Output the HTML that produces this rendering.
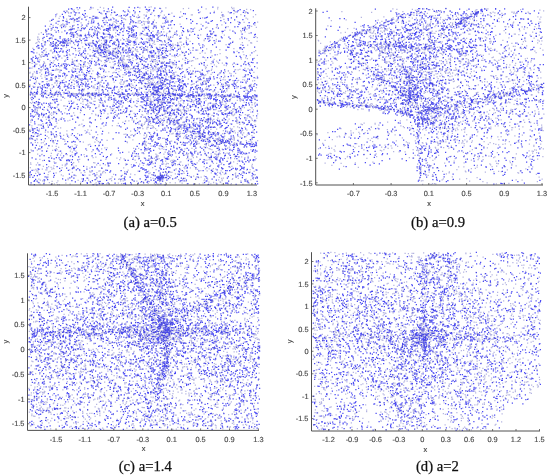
<!DOCTYPE html>
<html><head><meta charset="utf-8"><title>Phase portraits</title>
<style>
html,body{margin:0;padding:0;background:#fff;overflow:hidden;}
svg{display:block;}
.t{font-family:"Liberation Sans",Arial,sans-serif;font-size:7.4px;fill:#4a4a4a;stroke:#4a4a4a;stroke-width:0.15px;text-rendering:geometricPrecision;}
.d1{fill:none;stroke:#0000f0;stroke-width:5;stroke-opacity:0.7;}
.d2{fill:none;stroke:#4646b4;stroke-width:5;stroke-opacity:0.4;}
.c{font-family:"Liberation Serif","Times New Roman",serif;font-size:14.7px;fill:#111;stroke:#111;stroke-width:0.25px;}
</style></head><body>
<svg width="550" height="476" viewBox="0 0 550 476">
<rect width="550" height="476" fill="#fff"/>
<path class="d1" transform="scale(0.25)" d="M1011 42h5m-42 0h5m-21-4h5m-13 4h5m-9 5h5m-18-6h5m-89-13h5m-50 0h5m-18 12h5m-151 4h5m-13-11h5m-25-1h5m-9 9h5m-6 2h5m-21-5h5m-8 5h5m-9-4h5m-11-2h5m-9-9h5m-28 18h5m-12-17h5m-18 2h5m-9 11h5m-23-13h5m-8 15h5m-19 3h5m-11-4h5m-48-15h5m-9 12h5m-18-5h5m-10 11h5m-17-3h5m-58-14h5m-29 13h5m-26-11h5m-15-1h5m-16 17h5m-14-11h5m-8-2h5m-16 2h5m-23 9h5m-38 14h5m21-2h5m-1 9h5m-4 5h5m2-21h5m14 15h5m-1-14h5m11 8h5m-3-8h5m8 20h5m-4-20h5m9 6h5m0 4h5m-1 7h5m-3-14h5m13 16h5m8-5h5m6 3h5m9-19h5m1 3h5m8 19h5m1-17h5m-4 2h5m-3 8h5m-4 5h5m-3 1h5m13-20h5m6-2h5m2 13h5m0-3h5m11 4h5m6-1h5m6 0h5m-2-5h5m6 11h5m-4 0h5m3-7h5m1 5h5m-1-17h5m10 21h5m24-5h5m6 6h5m3-13h5m25 6h5m-5-1h5m-2 2h5m22 4h5m6-11h5m17 8h5m18 4h5m10-15h5m2 1h5m49-5h5m25 20h5m-1-2h5m7-16h5m10-2h5m30 9h5m24-8h5m0-1h5m-5 21h5m16-4h5m22-18h5m0 14h5m7-12h5m23 39h5m-9 5h5m-23-5h5m-30-12h5m-16 13h5m-8-2h5m-24-10h5m-21 11h5m-14-10h5m-6-6h5m-15 18h5m-24-10h5m-39 0h5m-10 3h5m-17 7h5m-13-4h5m-10-16h5m-23 1h5m-19 21h5m-22-9h5m-11 7h5m-7-14h5m-21-4h5m-62 8h5m-10 5h5m-18-3h5m-9 5h5m-10-5h5m-7 7h5m-7-18h5m-11-1h5m-44 15h5m-6 1h5m-7 7h5m-9 0h5m-19-3h5m-6-17h5m-30 13h5m-28 2h5m-14-3h5m-9-4h5m-11-4h5m-7 9h5m-5-12h5m-8 19h5m-36-6h5m-6-17h5m-6 10h5m-7 13h5m-17-10h5m-13-5h5m-14-5h5m-17 2h5m-5 2h5m-13 1h5m-12 10h5m-18 0h5m-9-8h5m-24 12h5m-6-22h5m-11 0h5m-10 0h5m-10 12h5m-6 6h5m-7-15h5m-10 16h5m-6-7h5m-19 11h5m-13-16h5m-22-3h5m-17 8h5m-12 1h5m-5-11h5m-6 1h5m-15 4h5m-10-6h5m-10 4h5m-9-2h5m-12 15h5m-13-2h5m-9-3h5m-17-3h5m-22 3h5m-16 7h5m-17-15h5m-11 4h5m-30 23h5m7 12h5m6-19h5m-2 18h5m0-6h5m6 0h5m1 2h5m12-1h5m3-4h5m-3-6h5m7-4h5m6 22h5m-1 1h5m-3-1h5m-1-2h5m-4-12h5m1 11h5m10-17h5m-4 12h5m9 4h5m-3-14h5m2 14h5m-3 1h5m-1-4h5m1-7h5m6 13h5m1-7h5m-1 8h5m6-10h5m1 6h5m0-6h5m0-8h5m-5 13h5m6-9h5m5 14h5m-2-20h5m2 16h5m-1 0h5m-1 4h5m-4-5h5m-2-16h5m-4 11h5m-5-8h5m-4 12h5m-4 0h5m0-11h5m-1-2h5m3 10h5m-1 2h5m-5-7h5m-3 4h5m0-3h5m-2 0h5m-3 3h5m3 11h5m-3-2h5m-2-4h5m2-9h5m-4-6h5m-4 14h5m11-4h5m0 7h5m4-3h5m-4 3h5m-4 4h5m-2-15h5m-3 5h5m1-5h5m0 1h5m32 4h5m-2 4h5m-4-4h5m3 8h5m15-5h5m-2-7h5m2-1h5m-3 7h5m16-3h5m-4-1h5m4-2h5m11 8h5m-2-13h5m2-1h5m10-1h5m22 8h5m4 7h5m26 1h5m3 2h5m28 0h5m1-13h5m34 12h5m13-17h5m0 14h5m24-2h5m32-3h5m7-1h5m-1-9h5m10 17h5m3 3h5m-3-6h5m6-9h5m0 9h5m-3-8h5m18 34h5m-8 2h5m-19-8h5m-32-10h5m-14 15h5m-32-4h5m-15-8h5m-44 1h5m-9 0h5m-30 16h5m-9 0h5m-10-14h5m-12 9h5m-10-1h5m-5-11h5m-8 0h5m-15 13h5m-42 4h5m-19-4h5m-12-12h5m-18 15h5m-11-14h5m-7-6h5m-21 6h5m-9-4h5m-6 18h5m-26-1h5m-7-15h5m-12 13h5m-26-13h5m-18 16h5m-13 2h5m-15-1h5m-7-14h5m-18-5h5m-6 6h5m-9 11h5m-15 4h5m-9 0h5m-7-5h5m-8 4h5m-8-10h5m-5-2h5m-9 11h5m-9-18h5m-12 12h5m-7-2h5m-5 8h5m-22-16h5m-10 8h5m-6 1h5m-25 1h5m-5 7h5m-5-12h5m-14 5h5m-6 5h5m-6-20h5m-8 19h5m-9-9h5m-6-8h5m-13 19h5m-7 2h5m-6-17h5m-8 8h5m-9-11h5m-7-1h5m-19 19h5m-6-15h5m-17 4h5m-9 9h5m-10-2h5m-6-15h5m-34 17h5m-8-2h5m-10 0h5m-5-12h5m-9-5h5m-7 1h5m-16 0h5m-5 16h5m-6-4h5m-6-1h5m-27-4h5m-7 12h5m-5-6h5m-14-11h5m-8 14h5m-7-5h5m-6 10h5m-22-2h5m-8-8h5m-5-1h5m-7 7h5m-15 3h5m-7 1h5m-20 1h5m-7-21h5m-6 18h5m-6 1h5m-19-6h5m-7-9h5m-9 3h5m-13 10h5m-5 3h5m-7-11h5m-9 7h5m-9-9h5m-8 5h5m-17-3h5m-5-1h5m-7 4h5m-12-11h5m-31-1h5m-14 6h5m-17 15h5m-11-5h5m-16-3h5m-13 1h5m-6-12h5m-9-4h5m-14 17h5m-7 16h5m0-4h5m0 18h5m1-22h5m-2 17h5m2-8h5m0-2h5m6 14h5m2-9h5m-2 0h5m3 5h5m-1 3h5m0-19h5m-5 6h5m-2 15h5m2-7h5m-4 7h5m-1-2h5m-2-5h5m-4-5h5m-1 9h5m-5-2h5m5-7h5m-4 7h5m5-17h5m-3 19h5m2-16h5m4 15h5m1 4h5m0-2h5m-3 1h5m-1-10h5m1 6h5m6-8h5m-2 8h5m-1-14h5m-4 12h5m-2-9h5m-5 10h5m14-17h5m1 18h5m8 3h5m-4 1h5m-2-18h5m-3 5h5m8-7h5m0 1h5m-4 5h5m-2 0h5m1-4h5m-1 12h5m-3 6h5m-5-5h5m11 1h5m-2-14h5m-3 13h5m-4-9h5m-3-7h5m-2 3h5m10 13h5m-2-4h5m-2 7h5m17-6h5m11 6h5m-2-15h5m1 14h5m0-18h5m2 2h5m-4 20h5m-1-2h5m-2-17h5m20 5h5m-1 4h5m10 10h5m6-23h5m-4 16h5m1-7h5m0 3h5m-4 6h5m0-18h5m-2 0h5m-5 5h5m7 6h5m-1-7h5m-5 9h5m1 4h5m1 2h5m9 0h5m13-5h5m0 5h5m-4-15h5m-2 16h5m29-10h5m-1-2h5m66 1h5m22 1h5m2-10h5m-2 11h5m-4-9h5m-2 19h5m-1-4h5m-4-15h5m11 16h5m13 2h5m1 0h5m0-17h5m-2 4h5m22-3h5m0 6h5m42-6h5m6 4h5m33-3h5m-3 39h5m-48 2h5m-9-9h5m-14 9h5m-9 1h5m-33-22h5m-13 3h5m-10 4h5m-7 13h5m-5-12h5m-10 11h5m-50 0h5m-11-16h5m-14 6h5m-44 1h5m-6 9h5m-13 3h5m-12-16h5m-28 16h5m-7-17h5m-23 3h5m-11-1h5m-6-6h5m-5-2h5m-16 8h5m-27 5h5m-8 0h5m-28 0h5m-10 3h5m-5-7h5m-10 2h5m-8-9h5m-12 15h5m-10-6h5m-15 12h5m-10-12h5m-42 10h5m-8-6h5m-13-3h5m-13-11h5m-13 16h5m-9-10h5m-8-7h5m-5 22h5m-7-13h5m-8-4h5m-10-5h5m-10 21h5m-11-12h5m-12 11h5m-8-12h5m-7-8h5m-10 4h5m-5-4h5m-10 22h5m-17-21h5m-8 22h5m-7-22h5m-8 9h5m-7-2h5m-8-2h5m-9 8h5m-13-7h5m-7-2h5m-9 3h5m-5-3h5m-13 13h5m-5 1h5m-11-10h5m-5-9h5m-6 12h5m-6 6h5m-14-6h5m-12-4h5m-7-5h5m-10 3h5m-15 11h5m-7-17h5m-7 19h5m-9-7h5m-11 11h5m-6-20h5m-6 18h5m-6-9h5m-7-10h5m-9 6h5m-8 14h5m-5-5h5m-6-8h5m-18 14h5m-6 0h5m-6-11h5m-7 10h5m-7-8h5m-5 4h5m-10-15h5m-10 8h5m-5 6h5m-7-3h5m-7-5h5m-6 3h5m-11-6h5m-7-3h5m-9 13h5m-14-2h5m-7-2h5m-7 10h5m-5-13h5m-13 3h5m-9-2h5m-34-2h5m-7 6h5m-6 0h5m-21-11h5m-12 18h5m-20-8h5m-6-9h5m-10 10h5m-5-3h5m-12-8h5m-8-1h5m-5 12h5m-6-10h5m-8-4h5m-5 2h5m-9-2h5m-6 13h5m-10-12h5m-7 3h5m-6 1h5m-11 7h5m-14 3h5m-5-13h5m-5 2h5m-8 7h5m-6 10h5m-12-5h5m-6-3h5m-5-8h5m-9 12h5m-9-9h5m-7-6h5m-28 9h5m-13 6h5m-9-2h5m-6-8h5m-17 7h5m-8-1h5m-9 5h5m-27 20h5m0 1h5m0 4h5m-5-13h5m15-6h5m6 3h5m-3 13h5m2-6h5m14 13h5m16-19h5m-3 10h5m-4-4h5m-4-8h5m1 12h5m-5-13h5m-4 16h5m2-16h5m-1 14h5m0-3h5m-4-10h5m-2 1h5m0 13h5m-4-4h5m8 2h5m-2 5h5m-4-10h5m3-2h5m10 16h5m4-21h5m9-1h5m-2 19h5m4 2h5m1-5h5m-3-6h5m-1 11h5m-4-19h5m-3 8h5m26-2h5m-1 4h5m-2 9h5m-5-9h5m3 2h5m-5-5h5m0 10h5m0-18h5m-3 16h5m-3-12h5m-5-1h5m-4 12h5m-2-7h5m-5 1h5m-4-4h5m-3 1h5m-4 1h5m-4 8h5m-3 2h5m-1-5h5m-4 0h5m-4-9h5m-3 12h5m-3-2h5m7 6h5m0-1h5m-4-4h5m3 3h5m-2-7h5m-3 0h5m2-9h5m-1 15h5m2 3h5m-3-11h5m-3 4h5m1 5h5m2-12h5m-3-7h5m-5 5h5m-3 13h5m5-1h5m-4-10h5m-5 13h5m-5-12h5m2 8h5m-1-6h5m-5-6h5m-1 13h5m-3-7h5m3 10h5m31-15h5m2 11h5m-2-8h5m6-1h5m8 7h5m-3 4h5m-2-6h5m-5 7h5m-2-1h5m1-8h5m-3 5h5m1 7h5m-4-2h5m0-20h5m-4 2h5m-3 3h5m0 1h5m-4 9h5m0-7h5m0 9h5m-2 3h5m-5-19h5m-4 9h5m7 1h5m-3-10h5m-4 7h5m-1 5h5m14-8h5m0 1h5m0-6h5m5 11h5m-4 12h5m-1-18h5m2-2h5m4 15h5m9-2h5m-3-1h5m4-10h5m3 14h5m17-11h5m21 2h5m29 1h5m55-3h5m26 7h5m-4 3h5m14 0h5m9-13h5m33 14h5m-1 23h5m-6 5h5m-30-16h5m-27 7h5m-8-5h5m-20 0h5m-42 6h5m-53-12h5m-23 10h5m-17 1h5m-23-2h5m-42 1h5m-26-13h5m-16 17h5m-9-12h5m-39 0h5m-12-1h5m-23-4h5m-6 22h5m-14-15h5m-10-2h5m-7 9h5m-12-1h5m-10-3h5m-8-10h5m-18 8h5m-5 9h5m-7-7h5m-18 12h5m-13-11h5m-6-5h5m-10 2h5m-16 3h5m-5-6h5m-12 13h5m-10 3h5m-21 1h5m-6-8h5m-8 8h5m-9-3h5m-5-18h5m-6 16h5m-14 1h5m-6-11h5m-6-1h5m-6 7h5m-7-5h5m-5-6h5m-5 2h5m-17-1h5m-9 0h5m-7-1h5m-12 21h5m-28-16h5m-19 8h5m-6 8h5m-14-13h5m-7-2h5m-8 7h5m-12-6h5m-5 0h5m-10-2h5m-5 11h5m-8-12h5m-9-4h5m-9 14h5m-6 0h5m-8-15h5m-9 4h5m-7 13h5m-7-2h5m-17-6h5m-9-9h5m-6 9h5m-17-5h5m-14 16h5m-21-12h5m-8-5h5m-20 4h5m-14 10h5m-12-5h5m-9 5h5m-11-5h5m-15-11h5m-15 3h5m-15-2h5m-39 18h5m-5-8h5m-7-9h5m-7 1h5m-32 3h5m-9 3h5m-8-8h5m-13 12h5m-5 4h5m-15-5h5m-7 0h5m-26 7h5m-7-13h5m-7-6h5m-7 0h5m-10 1h5m-10 6h5m-30 10h5m-9-4h5m-9 2h5m-5-9h5m-15 5h5m-9 7h5m-8-1h5m-1 8h5m3 6h5m-4 13h5m8-18h5m0 3h5m12 12h5m23-2h5m-1-7h5m9 8h5m9 4h5m-4-8h5m5 8h5m4-6h5m-2-1h5m-3 8h5m-4-19h5m-1 11h5m-1 4h5m-4 1h5m5 1h5m4-4h5m-1 0h5m-5-9h5m3 14h5m2-20h5m11 0h5m-5 16h5m7-1h5m1-10h5m13-3h5m-3 19h5m-1-13h5m-4 4h5m-4-9h5m7 0h5m0 6h5m-5 9h5m4-18h5m-2 13h5m-3 3h5m6 4h5m7-21h5m-3 20h5m0-17h5m27 1h5m-4 10h5m8 7h5m-4-21h5m-5 6h5m3 14h5m0-19h5m-2 15h5m-3 4h5m-3-1h5m-2 3h5m2-1h5m-2-3h5m1 4h5m-3-14h5m3-2h5m-5-1h5m-2 13h5m-3-7h5m-4-2h5m12 3h5m2 7h5m4-14h5m1-5h5m-4 16h5m2-13h5m-5 18h5m2-15h5m4 10h5m6 4h5m1-16h5m15 13h5m-1-1h5m-1-14h5m3 9h5m1 0h5m2 7h5m-4 2h5m1-8h5m-4-2h5m-5 11h5m-5-10h5m-2 0h5m1 1h5m-1-6h5m8 3h5m7 7h5m-4-8h5m6-4h5m6 18h5m9-13h5m4 2h5m-4-6h5m-4 0h5m40 10h5m4-2h5m5 6h5m-4-10h5m30 0h5m-5-6h5m21-4h5m21 12h5m-3 1h5m-4 2h5m24-3h5m9 5h5m9 6h5m5-7h5m1-10h5m-2 12h5m5-5h5m-2 5h5m4-9h5m1 1h5m12 1h5m-15 15h5m-15 15h5m-7-5h5m-12 4h5m-20 4h5m-11-3h5m-10-2h5m-42 7h5m-7-20h5m-41 13h5m-18 4h5m-41-17h5m-19 17h5m-12 2h5m-24-5h5m-23 5h5m-13 0h5m-16-1h5m-27 2h5m-7-9h5m-21 9h5m-18-12h5m-6 2h5m-34 6h5m-7-13h5m-7 3h5m-8-5h5m-10 13h5m-6-16h5m-17 4h5m-8 8h5m-11 11h5m-7-4h5m-10-18h5m-8 0h5m-6 2h5m-6 1h5m-5-2h5m-6 21h5m-7-6h5m-9-9h5m-8 7h5m-5 4h5m-10 4h5m-14-22h5m-13 10h5m-9-8h5m-20 6h5m-8-7h5m-10 0h5m-7 1h5m-13 5h5m-15 14h5m-10-7h5m-8 8h5m-5-6h5m-8-7h5m-6-8h5m-8 21h5m-6-22h5m-12 10h5m-6 10h5m-9-18h5m-5 16h5m-7-12h5m-24 16h5m-5-2h5m-8-21h5m-12 0h5m-7 2h5m-9 14h5m-5 0h5m-10-7h5m-6-7h5m-22 8h5m-14 0h5m-19-5h5m-6 1h5m-32-5h5m-11-1h5m-8 16h5m-7 6h5m-17-9h5m-5 0h5m-5-2h5m-49 9h5m-7-14h5m-8 16h5m-8-13h5m-6 8h5m-29-3h5m-7-5h5m-6-4h5m-6 11h5m-9 7h5m-20-2h5m-5-9h5m-12 11h5m-12-3h5m-18 2h5m-14-10h5m-6-10h5m-6 9h5m-8-4h5m-9 0h5m-18 10h5m-24-17h5m-16 17h5m-6-16h5m-9 16h5m-13-13h5m-14 12h5m-7-6h5m-7-1h5m-5 2h5m-12 2h5m-5-13h5m-15 0h5m-12 4h5m-14 6h5m-13 11h5m-14-19h5m-24 6h5m0 36h5m19-16h5m29 1h5m-5-5h5m0 14h5m0-12h5m-2 6h5m4 15h5m-2-10h5m0-3h5m6 7h5m-3 1h5m5-2h5m1 0h5m4 0h5m0-12h5m-2 7h5m-4-5h5m3 7h5m13 7h5m-2-9h5m-2 3h5m-5-13h5m6 14h5m-4 4h5m0-3h5m-3 5h5m12-21h5m5 9h5m-4 8h5m-2-5h5m-2 0h5m-3-10h5m10 15h5m22-9h5m-3-7h5m-5 9h5m-2-5h5m9 17h5m9-4h5m17 0h5m1-4h5m10-12h5m-2 18h5m-2-11h5m3 7h5m16-14h5m1 6h5m2-5h5m-2 12h5m-3-12h5m-1 9h5m-4-10h5m3 9h5m3 2h5m2 2h5m-1 8h5m-5-22h5m-1 20h5m-1-11h5m-4 7h5m3 3h5m-2-1h5m-4 4h5m-1-11h5m-4 10h5m-3-14h5m-3 5h5m0-13h5m-4 5h5m1 3h5m-2 10h5m-2 4h5m-1-6h5m-3-10h5m4 5h5m2 8h5m-4 4h5m2-6h5m-4 3h5m-4-12h5m-3 11h5m1 4h5m-3-12h5m-4-1h5m-3-4h5m-4 7h5m-3-6h5m-4 14h5m-2 1h5m4-10h5m3-8h5m-5 4h5m-3 3h5m4-10h5m0 18h5m-5-4h5m-3-14h5m-4 22h5m-5-7h5m5-13h5m-1 14h5m8-3h5m5-8h5m0-4h5m-2 16h5m4 2h5m10-13h5m-5 1h5m-3-5h5m0 6h5m-4 11h5m-1-13h5m11 10h5m5 6h5m2-4h5m-2-11h5m0 3h5m-4-6h5m-1 5h5m37 9h5m-2-18h5m6 21h5m-3-10h5m5-9h5m0 15h5m4-16h5m14 16h5m6-3h5m50 3h5m-3-6h5m6-2h5m1-9h5m-2 4h5m-1 9h5m-4 3h5m5 5h5m9 1h5m-16 23h5m-27-19h5m-5 2h5m-12-1h5m-7 8h5m-9 7h5m-19-2h5m-12-1h5m-22-15h5m-9 8h5m-10 2h5m-5 9h5m-22-14h5m-8 2h5m-10 9h5m-9-3h5m-10 6h5m-26-11h5m-14 13h5m-9-5h5m-18-14h5m-20 1h5m-5-4h5m-10 10h5m-6-7h5m-7 14h5m-10-7h5m-6-7h5m-8 20h5m-14-23h5m-10 18h5m-12-12h5m-7-3h5m-10 3h5m-16 10h5m-23-2h5m-6-2h5m-5-2h5m-20 13h5m-17-1h5m-11-10h5m-7-2h5m-7 2h5m-14-6h5m-7 12h5m-6-11h5m-7 3h5m-7 3h5m-7-10h5m-18-2h5m-9 1h5m-7 13h5m-5-1h5m-9-11h5m-5 13h5m-13 2h5m-6-6h5m-13 10h5m-5-15h5m-8 14h5m-6-14h5m-5 0h5m-9-4h5m-8 2h5m-8 9h5m-5-2h5m-10-12h5m-8 9h5m-6 10h5m-10-1h5m-6-6h5m-7-9h5m-15 12h5m-7 3h5m-26-16h5m-8 1h5m-16 0h5m-11 0h5m-10 19h5m-7-1h5m-13-11h5m-11 10h5m-8-4h5m-6-6h5m-10-1h5m-7 9h5m-16-9h5m-14-3h5m-15 7h5m-7-5h5m-10-4h5m-8 19h5m-13-12h5m-23-4h5m-32 2h5m-14-2h5m-6-5h5m-26 21h5m-5-3h5m-13-10h5m-13 10h5m-12-11h5m-19 11h5m-10 3h5m-14-14h5m-6-7h5m-14-1h5m-9 14h5m-11-12h5m-14 9h5m-12 9h5m-6-16h5m-6-4h5m-8 0h5m-6-1h5m-8 5h5m-9 18h5m-8-20h5m-6 6h5m-7 8h5m-10-13h5m-13 11h5m-10 3h5m-6-7h5m-25 6h5m-14-7h5m-6 13h5m-17-8h5m-14 3h5m-11 0h5m-5-7h5m-12 7h5m-8 5h5m-19-11h5m-24-4h5m-7-2h5m-15 17h5m-12 0h5m-5-21h5m-5 3h5m-21 9h5m-27-14h5m-13 5h5m-9 16h5m-9-20h5m-18 7h5m-7 26h5m3 9h5m4-6h5m9 10h5m-3-10h5m2-13h5m1 16h5m-1 2h5m-4 4h5m-5-16h5m-3 6h5m1-9h5m-1 11h5m2 1h5m-4-10h5m-4-3h5m1 4h5m13 5h5m13 2h5m-3-2h5m-2-5h5m-3 12h5m13-7h5m-3-8h5m-1 6h5m-5 0h5m2 0h5m-4 6h5m-1 0h5m3-8h5m-4 10h5m6-7h5m-4 7h5m12-17h5m-2 8h5m-5 15h5m-4-10h5m0-11h5m3 19h5m-2-21h5m3 4h5m-3 6h5m0-7h5m-2 6h5m-4 9h5m-3-18h5m-1 13h5m3-5h5m17 10h5m-3-7h5m14 11h5m-5-14h5m9 13h5m-2-16h5m-4 8h5m2 3h5m2 1h5m-3 0h5m7-1h5m-4 7h5m-4-9h5m-4-5h5m5 2h5m11-1h5m-2 2h5m-4-2h5m10 13h5m0-15h5m-4-3h5m3 0h5m-5 15h5m-4-20h5m4 14h5m7 4h5m1-13h5m-4 17h5m-3 1h5m13-6h5m10-6h5m-2 10h5m-4 0h5m0-9h5m-1-6h5m2 7h5m-1-13h5m-5 3h5m-3-2h5m-2 1h5m-5 13h5m-3 5h5m-5-20h5m-2 10h5m-4 3h5m-2-5h5m-5 8h5m0-2h5m-1-2h5m-2 2h5m-4 2h5m-5 6h5m-4-4h5m-5-7h5m-1-3h5m-5-1h5m-2 12h5m-2-13h5m-4 4h5m-4-3h5m-5 10h5m-4 3h5m-3-5h5m-4 2h5m-4-14h5m-5 10h5m-4 0h5m-4-13h5m3 2h5m2 15h5m-4-1h5m0-1h5m-4 6h5m-2-21h5m-4 8h5m3-2h5m-5 11h5m-1 2h5m1-12h5m-1 1h5m5 2h5m1-7h5m-5 19h5m-4-8h5m-5 4h5m-4 2h5m-2-9h5m-5-4h5m0 1h5m-5-2h5m-3 12h5m-3 1h5m-4-6h5m-5 1h5m-1-13h5m-1 1h5m-3 2h5m-1 6h5m13 8h5m-5-4h5m-4 3h5m0-4h5m0 8h5m3-10h5m0-6h5m-4 14h5m1-5h5m1 6h5m-4-6h5m1-11h5m-3 17h5m-2-20h5m10 22h5m-4-1h5m-5 0h5m1-13h5m-3-1h5m1-3h5m-4 18h5m10 1h5m-1-9h5m14 7h5m0-21h5m-1 11h5m-2 6h5m-5-7h5m7 8h5m-2-14h5m2 5h5m8-8h5m0 3h5m-1 6h5m-4 7h5m-3-16h5m-1 6h5m3 3h5m6 7h5m4-3h5m1 2h5m-4-3h5m14-6h5m-1 15h5m-5-15h5m0 6h5m-4 10h5m-4-6h5m-5 6h5m1-14h5m6-6h5m-4 42h5m-9 1h5m-9-4h5m-13 5h5m-6 0h5m-13-19h5m-12 2h5m-8 7h5m-8 3h5m-6 6h5m-17-17h5m-7 18h5m-22-5h5m-9-6h5m-16-6h5m-5-2h5m-11 15h5m-19 1h5m-10 0h5m-7 3h5m-11-3h5m-17-17h5m-5 20h5m-9-16h5m-10 11h5m-7-9h5m-5-2h5m-17 11h5m-14-2h5m-9 3h5m-6 2h5m-6-1h5m-18 2h5m-5 0h5m-10-3h5m-6-4h5m-8-15h5m-6 19h5m-6-4h5m-9 1h5m-8 3h5m-17-3h5m-10-12h5m-7 13h5m-8 4h5m-7-17h5m-5 19h5m-12-2h5m-6-3h5m-6-1h5m-7 5h5m-9-14h5m-9 15h5m-7-15h5m-13 15h5m-8-1h5m-5-8h5m-6-7h5m-7 13h5m-9-1h5m-6 1h5m-7-2h5m-6-18h5m-10 20h5m-8 1h5m-6-6h5m-18 2h5m-7-9h5m-6-1h5m-12 12h5m-6-14h5m-5 16h5m-5-4h5m-6-4h5m-6 9h5m-7-1h5m-6-20h5m-8 19h5m-6 3h5m-6-8h5m-9-15h5m-6 21h5m-8-3h5m-10-17h5m-8 16h5m-7-2h5m-5 3h5m-5 3h5m-10-3h5m-7-3h5m-6 3h5m-6-3h5m-5-1h5m-7-1h5m-15 0h5m-7-4h5m-6 12h5m-6-10h5m-6-8h5m-6 4h5m-6 7h5m-8 2h5m-13 6h5m-6-9h5m-13 6h5m-5 3h5m-7-1h5m-14 0h5m-11 0h5m-5-15h5m-7 14h5m-6-17h5m-8 4h5m-6-7h5m-5 18h5m-6-7h5m-6-1h5m-6-2h5m-6-2h5m-6-4h5m-7-1h5m-6 17h5m-6 1h5m-8-16h5m-6 14h5m-7-6h5m-5 2h5m-8 2h5m-6-2h5m-7 2h5m-5 0h5m-10-9h5m-18 16h5m-6-13h5m-5 9h5m-7 4h5m-6-3h5m-6-3h5m-16 2h5m-10-3h5m-7 0h5m-6-6h5m-8 10h5m-11-2h5m-6 3h5m-8-1h5m-11-15h5m-5 12h5m-6 3h5m-9-7h5m-10 8h5m-16-18h5m-9 19h5m-11-7h5m-10 1h5m-8-10h5m-10-1h5m-11 12h5m-10 1h5m-6-6h5m-6 3h5m-14 4h5m-13-10h5m-5 10h5m-12-4h5m-10-1h5m-7-2h5m-9 11h5m-10-21h5m-6 9h5m-20 8h5m-8-15h5m-7 16h5m-9 2h5m-8-4h5m-11 0h5m-5 0h5m-8-7h5m-5-3h5m-11 8h5m-6 6h5m-10-4h5m-10 3h5m-8-3h5m-6 5h5m-11-7h5m-5-3h5m-6 2h5m-9 2h5m-13 5h5m-7-8h5m-6 3h5m-6 4h5m-5-6h5m-17-3h5m-8 3h5m-9 0h5m-12 6h5m-14-4h5m-6 6h5m-8-2h5m-5 1h5m-7-20h5m-5 6h5m-7-6h5m-6 14h5m-14 0h5m-12 6h5m-5-5h5m-23 3h5m-7 1h5m-7-4h5m-5-2h5m-9 9h5m-10-15h5m-8 15h5m-8-8h5m-5 8h5m-8-11h5m-8 1h5m-8-13h5m-7 13h5m-16-12h5m-11 17h5m-8-6h5m-12-3h5m-7 9h5m-11-10h5m-8 3h5m-7 7h5m-9 2h5m-13-4h5m-9 0h5m-7-15h5m-6 9h5m-13 11h5m-17-7h5m-5-12h5m-9 13h5m-9 8h5m-6-14h5m-11 14h5m-5-11h5m-5-8h5m-22 2h5m-5 9h5m-8-5h5m-6 4h5m-5 1h5m-13-6h5m-11 6h5m-10-4h5m-8-2h5m-7 10h5m1 19h5m-4-9h5m0 4h5m1-7h5m1 20h5m6-9h5m11-10h5m10 3h5m13-4h5m0 12h5m-4 0h5m3-1h5m2-1h5m-4 1h5m-4 8h5m18-17h5m24 0h5m0 16h5m4-20h5m1 0h5m-2 6h5m5-4h5m-1 13h5m18-2h5m3 2h5m-2 4h5m2-15h5m17-2h5m18 7h5m-4 7h5m-4-1h5m9 5h5m9-5h5m-3-8h5m4-1h5m-3 7h5m4-2h5m-4 5h5m2 1h5m2 6h5m-1-4h5m-2-16h5m-1-3h5m-2 19h5m-4 4h5m-4-16h5m2-4h5m-2 4h5m-3 4h5m-5-8h5m-1 14h5m-2-7h5m-1-10h5m-1 6h5m1 14h5m-2-2h5m7 5h5m13-2h5m6-15h5m-4 17h5m-3-17h5m-3 5h5m-5 12h5m-1-21h5m-4 11h5m-2-5h5m-4 10h5m-1-15h5m-3 17h5m-5-17h5m0 8h5m-3 6h5m-4-15h5m17 1h5m-1 14h5m1-2h5m-1 1h5m-4-6h5m-3 8h5m-3-13h5m-4 15h5m-3-8h5m-2-9h5m-5 11h5m-2 0h5m4-5h5m-4 6h5m-3-8h5m-1 8h5m-4-10h5m-3 3h5m-1-1h5m1 7h5m-1-9h5m2 4h5m-4-8h5m-5 15h5m-1-2h5m-4-1h5m-2-3h5m0 4h5m6 2h5m-4-9h5m-3 3h5m7-3h5m-2-6h5m-4-1h5m4 19h5m-2 0h5m2-17h5m-2-2h5m-5 17h5m-1 2h5m-4-16h5m2-3h5m0 22h5m-3-7h5m0-12h5m-4 2h5m6 7h5m-3 2h5m-3 8h5m1-12h5m-4 9h5m-1-4h5m-5-5h5m1 13h5m8 0h5m12-14h5m0-6h5m-3 8h5m-1-9h5m-5 6h5m4 6h5m-4-4h5m-3 2h5m0 2h5m-4 1h5m-5-9h5m-5 14h5m-4-2h5m0-4h5m4 4h5m0-18h5m-1 5h5m-2 10h5m-2-6h5m-3-7h5m0 20h5m-5-21h5m-3 11h5m-2-1h5m-2 6h5m-4 3h5m5-19h5m-5 13h5m7-10h5m10-4h5m-3 4h5m-3-4h5m-2 3h5m0-1h5m-4 8h5m8 7h5m-3-17h5m-1 1h5m-5 6h5m-3 0h5m-4-4h5m-4 0h5m-2 13h5m-3-11h5m-3-3h5m-5 13h5m-2-7h5m-2-5h5m-3-1h5m-3 13h5m-3 2h5m-3-15h5m-3 4h5m-4 11h5m-4-7h5m7 2h5m3-10h5m-4 15h5m-5 19h5m-5-3h5m-12 7h5m-21-16h5m-13 11h5m-8-7h5m-14-2h5m-6 10h5m-7-1h5m-13 3h5m-9-1h5m-7 6h5m-16 0h5m-20-15h5m-11 5h5m-5 6h5m-13-10h5m-12 15h5m-13-6h5m-11 4h5m-8 1h5m-6 4h5m-9-3h5m-19-7h5m-6-2h5m-6-3h5m-6 11h5m-7-18h5m-5 3h5m-11 10h5m-13 8h5m-7-16h5m-8 9h5m-5 2h5m-5 2h5m-12-3h5m-6 3h5m-6-7h5m-7 6h5m-5 2h5m-6-5h5m-12-11h5m-6 16h5m-6-16h5m-15 19h5m-18-19h5m-7 9h5m-19-6h5m-9-2h5m-6 1h5m-8 16h5m-6-13h5m-11-5h5m-8 13h5m-5 2h5m-6-3h5m-6-1h5m-10-6h5m-11 1h5m-12 8h5m-7 2h5m-6-5h5m-15-3h5m-18 6h5m-8 5h5m-16-13h5m-6 3h5m-6 2h5m-6-1h5m-19-2h5m-8 2h5m-16-9h5m-16-4h5m-5 1h5m-5 13h5m-7-12h5m-7 13h5m-6-16h5m-6 20h5m-9-17h5m-6 19h5m-8-9h5m-11-8h5m-9-2h5m-6-2h5m-6 18h5m-5-19h5m-6 18h5m-11-9h5m-5-6h5m-7 17h5m-8-7h5m-10-1h5m-11-10h5m-6 14h5m-9 2h5m-9 5h5m-8-14h5m-6 5h5m-6-3h5m-8 8h5m-11-8h5m-7 0h5m-8-7h5m-5 19h5m-6-23h5m-7 22h5m-5-12h5m-6-3h5m-5 12h5m-13-6h5m-11-10h5m-5 5h5m-7 6h5m-7-1h5m-10-2h5m-10 12h5m-8-3h5m-27-2h5m-30-17h5m-10 13h5m-6 3h5m-28-14h5m-15 5h5m-13-3h5m-5 12h5m-11 4h5m-6-21h5m-8 21h5m-6-13h5m-12 6h5m-6-14h5m-10 17h5m-16 2h5m-17-3h5m-18 1h5m-6-2h5m-9-3h5m-15-11h5m-27 9h5m-19-6h5m-9 18h5m-14-2h5m-12-9h5m-15 10h5m-9-3h5m-23 0h5m-9-9h5m-22-5h5m-10 2h5m-6 10h5m-7 2h5m-8 5h5m-8-18h5m-13 12h5m-43-6h5m-16-8h5m-6-3h5m-7 23h5m-14-2h5m-12-1h5m-5-16h5m-7 8h5m-10-5h5m-14-2h5m-13 16h5m-7-17h5m-14 4h5m-10 12h5m-10-18h5m-6 6h5m-7-8h5m-6 9h5m-10 13h5m-12-3h5m-8-17h5m-8 12h5m-17 33h5m1-17h5m-4 8h5m-2-3h5m2 5h5m-4-12h5m2 13h5m-1 6h5m10-2h5m-1-16h5m10 17h5m1-13h5m1 7h5m3-14h5m5 13h5m1-15h5m0 22h5m3-17h5m-3 5h5m3 5h5m0 8h5m14 0h5m1-15h5m-2 14h5m14-21h5m-3 0h5m7 2h5m7 5h5m45 4h5m5-12h5m14 9h5m-2 5h5m-4 8h5m2-15h5m-2 0h5m-1 2h5m-5 3h5m20 8h5m1-10h5m4 7h5m10 6h5m-5-15h5m3 12h5m-5-13h5m6 7h5m4 2h5m-5-16h5m-3 16h5m-3-5h5m-4-8h5m-5-3h5m10 12h5m22 10h5m3-9h5m-3-7h5m15 6h5m-2-10h5m4 9h5m-4 5h5m-4-6h5m6 12h5m-2-14h5m1 1h5m-5 6h5m-4-12h5m2 2h5m-1 4h5m-3 14h5m1-6h5m-2-7h5m-4 5h5m-5-11h5m-4 4h5m-5-8h5m-1 0h5m8 9h5m-5 2h5m-5-8h5m-3 9h5m-5-2h5m-4 1h5m0 0h5m0-8h5m-3 18h5m-4-4h5m5 0h5m-4 4h5m-1-11h5m-1-3h5m0 11h5m-5 4h5m-4-12h5m6 7h5m-2-13h5m-2 3h5m-5 13h5m-2-11h5m17 2h5m3 1h5m-5 10h5m11-14h5m11-1h5m10 8h5m-3 4h5m-5-1h5m4-8h5m-1-5h5m-4-2h5m-5-1h5m-5 20h5m-3 1h5m-3-8h5m4-4h5m-2 11h5m1-20h5m-4 6h5m-4 15h5m-2-18h5m1-2h5m8 3h5m-4 15h5m6 2h5m5-22h5m2 9h5m-2 9h5m-4 3h5m10 0h5m2-18h5m-3 17h5m-1 0h5m-3-1h5m-5-4h5m1 5h5m-2-2h5m9-13h5m-2 12h5m-4-11h5m-5 8h5m2 0h5m-3-4h5m2 6h5m-5-15h5m4 16h5m17-9h5m13 6h5m14-3h5m-8 19h5m-32 4h5m-13-4h5m-17 7h5m-23 4h5m-8-16h5m-6 10h5m-18 3h5m-40-11h5m-7 7h5m-10 11h5m-5-22h5m-11 17h5m-7-15h5m-10-1h5m-21 2h5m-24 5h5m-16 12h5m-7-1h5m-12 3h5m-6-20h5m-6 16h5m-9 4h5m-17-8h5m-5-14h5m-16 18h5m-23 1h5m-16 0h5m-12-11h5m-5 0h5m-6 2h5m-5 5h5m-8-10h5m-11-4h5m-16 11h5m-6 10h5m-16-18h5m-7-3h5m-16 14h5m-6-10h5m-10 17h5m-8-22h5m-13 9h5m-7 3h5m-11-10h5m-24 3h5m-6-5h5m-8 22h5m-6-6h5m-8 6h5m-27-17h5m-14 1h5m-13 5h5m-6 0h5m-9 4h5m-7-2h5m-8-7h5m-8 13h5m-10 2h5m-9-2h5m-9-6h5m-14 1h5m-9-4h5m-12 10h5m-11-8h5m-21-1h5m-28-10h5m-7 8h5m-15 7h5m-12-3h5m-10-11h5m-16 8h5m-35 6h5m-13-9h5m-13 7h5m-8-5h5m-8 8h5m-27-5h5m-11 5h5m-29-8h5m-14-2h5m-17 16h5m-26-8h5m-28-13h5m-30 13h5m-8-2h5m-24 7h5m-8-12h5m-37 11h5m-15 1h5m-25 0h5m-7-1h5m-13-6h5m-24 1h5m-6-6h5m-8 4h5m-21-10h5m-6-1h5m-6 5h5m-12-4h5m-15 1h5m-8 5h5m-6 11h5m-22-10h5m-8 3h5m-10-5h5m-11 1h5m-9 35h5m6-19h5m4 7h5m-4 8h5m19-15h5m-4 20h5m-4-20h5m-2 5h5m11 8h5m-2-3h5m3-9h5m-2 19h5m-4-12h5m-3 2h5m-1 5h5m-4 5h5m13-16h5m30-1h5m38 5h5m29 14h5m19-14h5m0 3h5m38 4h5m-1-4h5m6 9h5m-3-9h5m21-8h5m21 20h5m16-9h5m31-7h5m4 7h5m2-4h5m5-6h5m0 16h5m17-16h5m1 12h5m-3-8h5m0-3h5m7 2h5m-5-4h5m-1 6h5m3 3h5m-4-1h5m-1 2h5m-1-13h5m-4 11h5m-5 12h5m-1-18h5m-2 4h5m2-9h5m-2 19h5m0-18h5m6 21h5m6-19h5m-4 9h5m-5 3h5m-2-7h5m-2-6h5m2 4h5m-2 4h5m-3-9h5m-3 17h5m1-15h5m-2 0h5m-4 8h5m-2 2h5m-5 1h5m-3-14h5m-3 23h5m2-3h5m7 3h5m-4-15h5m-2 9h5m1-11h5m-4-6h5m6 17h5m-5-14h5m-4 18h5m-5-3h5m9-4h5m-5 4h5m-3-16h5m-4 19h5m1-2h5m5 1h5m3 2h5m-5-13h5m-1-8h5m1 14h5m-4-13h5m-3 21h5m5-17h5m2 5h5m-2-7h5m-3 18h5m2-11h5m4 3h5m-4-6h5m2-1h5m1 3h5m-3 5h5m-1 5h5m-5-18h5m1 3h5m-4 10h5m-3-7h5m-1 6h5m-1 8h5m-3 0h5m-5-22h5m2 9h5m-4 0h5m-5 0h5m2 4h5m-2-2h5m1 11h5m8-6h5m0-14h5m7 2h5m9 5h5m9 0h5m1 3h5m1-12h5m-1 18h5m-1-1h5m-1-15h5m-3 7h5m1 11h5m-4-4h5m0 6h5m-3 1h5m3-22h5m-2 24h5m-10 13h5m-11-8h5m-34 5h5m-18-1h5m-8-2h5m-9 9h5m-8 3h5m-34 1h5m-11-5h5m-21-11h5m-9 1h5m-7 14h5m-5-11h5m-7 1h5m-21-7h5m-30 2h5m-11 0h5m-12-1h5m-10 1h5m-9 18h5m-8-3h5m-6-13h5m-7-4h5m-11 0h5m-8 6h5m-12 7h5m-6 7h5m-19-6h5m-6-6h5m-6 10h5m-5-19h5m-8 19h5m-7-21h5m-9 11h5m-5 11h5m-7-14h5m-11-7h5m-6 12h5m-6 9h5m-7-1h5m-11-1h5m-6 2h5m-16-19h5m-7 3h5m-11 1h5m-6 7h5m-7 2h5m-5-9h5m-6 6h5m-8-4h5m-7 11h5m-10-19h5m-6 7h5m-6-1h5m-6 11h5m-17-15h5m-11 7h5m-9 3h5m-15 2h5m-7-2h5m-19-3h5m-8 5h5m-6-9h5m-5 15h5m-8-1h5m-11-13h5m-18 9h5m-6-8h5m-13 7h5m-5-3h5m-12 7h5m-46-10h5m-49-2h5m-7 16h5m-12-17h5m-13 13h5m-7-1h5m-8-6h5m-33-4h5m-12 5h5m-24-10h5m-78 18h5m-29-19h5m-92 5h5m-16 7h5m-69 8h5m-10-19h5m-12 7h5m-13 13h5m-16-19h5m-16 12h5m-13-9h5m-6-6h5m-11 8h5m-17 10h5m-11-3h5m-6-10h5m-14 4h5m-12 6h5m-6-6h5m-7 6h5m-14 5h5m0 17h5m1-12h5m-2 15h5m3-15h5m-2 1h5m-2 14h5m-2-11h5m7 3h5m13 4h5m19-3h5m2-2h5m1 11h5m2-9h5m10-6h5m-3 13h5m23-1h5m14-10h5m3 8h5m1 7h5m10-9h5m3-1h5m16-11h5m19 20h5m8-20h5m-3 23h5m17-16h5m51-5h5m6 1h5m22 17h5m2-9h5m1 8h5m14-4h5m10-10h5m25-1h5m14 14h5m-5-15h5m2 14h5m-3 4h5m-2-1h5m-3-3h5m-5-2h5m-2-9h5m-2-3h5m5 11h5m-4-7h5m-5 4h5m1 11h5m1 1h5m21-22h5m1 13h5m27 3h5m-5-10h5m-2-3h5m-3 3h5m1 1h5m-2 10h5m12-13h5m2-4h5m-1 18h5m2-4h5m4-15h5m-4 11h5m0 4h5m0-9h5m13-6h5m-2 7h5m-5 10h5m-4-17h5m-2 3h5m-4 15h5m-5-2h5m-3 7h5m2-6h5m-5-10h5m-3 4h5m-1 8h5m-4 2h5m-5-19h5m-4 18h5m-3-6h5m-5 6h5m-4-17h5m8-1h5m-5 5h5m1 16h5m-2-3h5m-3-11h5m-3 9h5m-4-7h5m0-9h5m-4 6h5m-2-4h5m-1 8h5m-3 0h5m3-10h5m-3 8h5m-3-6h5m5 9h5m-2 5h5m-1 2h5m-2 0h5m0-15h5m12 1h5m-4-6h5m-1 3h5m-2 13h5m4-1h5m12-4h5m8-8h5m10 16h5m11-16h5m-3 5h5m5-7h5m-3 0h5m-2 20h5m0 0h5m5-21h5m-7 43h5m-6-2h5m-15 6h5m-17 0h5m-5-17h5m-8 16h5m-11 0h5m-10 1h5m-6-6h5m-25-16h5m-10 15h5m-6 7h5m-14-14h5m-30 6h5m-7-15h5m-9 5h5m-6 18h5m-8-8h5m-6 6h5m-9-10h5m-6-1h5m-7 5h5m-11-4h5m-5 5h5m-9 2h5m-11-2h5m-5-6h5m-6-1h5m-6-4h5m-7 10h5m-5-9h5m-8 15h5m-6-7h5m-7-5h5m-8 1h5m-13-7h5m-10 20h5m-5-5h5m-11-7h5m-5 3h5m-10-5h5m-5 0h5m-9-8h5m-16 13h5m-7-5h5m-7 7h5m-9-4h5m-7-7h5m-10 18h5m-8-10h5m-6 0h5m-13-5h5m-6 5h5m-12-3h5m-15-6h5m-16 12h5m-7 0h5m-7-15h5m-8 21h5m-8-11h5m-10-11h5m-8 16h5m-7 6h5m-9-15h5m-10 8h5m-9-13h5m-8 17h5m-9-19h5m-10 19h5m-11-2h5m-16 0h5m-14-9h5m-5-7h5m-5 0h5m-9 22h5m-6-18h5m-15 11h5m-23 6h5m-6-6h5m-14-6h5m-6-8h5m-6 5h5m-9 11h5m-6-13h5m-33 0h5m-7 16h5m-11 0h5m-11-5h5m-6 1h5m-17-5h5m-9-7h5m-6-3h5m-8 20h5m-11-18h5m-21 8h5m-7-11h5m-5 14h5m-9 8h5m-7-2h5m-18 1h5m-61-9h5m-54-10h5m-50 4h5m-11 9h5m-86-2h5m-16-13h5m-6 2h5m-13 12h5m-11-2h5m-12 3h5m-22-2h5m-12 9h5m-16-19h5m-14-4h5m-18 11h5m-8 11h5m-19-11h5m-16-1h5m-22 13h5m-9-21h5m-21 4h5m-30 3h5m-18-7h5m-8 17h5m-10-16h5m6 22h5m-5 3h5m6 11h5m-1-10h5m5 14h5m6-5h5m-4-4h5m23-4h5m20 17h5m48-14h5m-1 5h5m-1-2h5m8 5h5m-3 6h5m-2-6h5m1-5h5m33 7h5m14-10h5m5 14h5m4-17h5m1 13h5m-3-2h5m-2 6h5m-1-18h5m9-1h5m10 18h5m43-6h5m64 4h5m1-11h5m11 13h5m0-19h5m4 11h5m-4 8h5m-5 1h5m-3-5h5m1 1h5m4 2h5m0-3h5m7-10h5m0-5h5m-3 7h5m2-5h5m-4-5h5m11 7h5m0 3h5m10 12h5m-1-21h5m9 19h5m-2-11h5m4-1h5m-4 6h5m7 3h5m-4 2h5m5-5h5m0 8h5m7-18h5m-4 1h5m0-1h5m2 13h5m21-16h5m-5 7h5m0 0h5m-1 8h5m-3-16h5m11 12h5m1 5h5m2 6h5m2-9h5m15-5h5m0-4h5m-3 1h5m0-3h5m1 5h5m-2 0h5m2 9h5m1-1h5m-4-15h5m-4 21h5m10 0h5m1-18h5m-2 15h5m-3 2h5m-4-14h5m10 14h5m8-16h5m-3 8h5m-5 8h5m-3-18h5m-4 9h5m4-12h5m-2 5h5m-5-1h5m-2 13h5m11-17h5m-1 1h5m-3 0h5m-3 11h5m-2-6h5m-2-3h5m-1 8h5m8-7h5m0 6h5m-1-8h5m-4 7h5m-4 0h5m-2 13h5m-1-13h5m-2-5h5m-1 2h5m-4-6h5m-3 28h5m-11-4h5m-6 8h5m-14-5h5m-7 2h5m-18 6h5m-15 3h5m-11 1h5m-11-3h5m-11-5h5m-8 4h5m-7 3h5m-8-7h5m-7-7h5m-11 1h5m-5 7h5m-6-8h5m-6 17h5m-18 0h5m-14-16h5m-13 20h5m-6-21h5m-9 15h5m-19 6h5m-8 2h5m-9-12h5m-25 5h5m-28-7h5m-23 2h5m-13 9h5m-10-7h5m-21 6h5m-8-11h5m-15 8h5m-17-11h5m-6 6h5m-12 8h5m-8-6h5m-7 2h5m-7-3h5m-7-4h5m-13-8h5m-13 12h5m-16 9h5m-5-15h5m-9 7h5m-8-13h5m-14 8h5m-9 5h5m-23-10h5m-12 2h5m-6 14h5m-14 2h5m-10-17h5m-7 13h5m-7-6h5m-35-1h5m-32-9h5m-16 3h5m-7-1h5m-10 20h5m-5-13h5m-6 2h5m-28-1h5m-24 4h5m-13-1h5m-13-10h5m-12 8h5m-8 8h5m-42-11h5m-15 2h5m-11-9h5m-37 17h5m-40-9h5m-12 7h5m-9-13h5m-20 10h5m-18 9h5m-48-4h5m-23-8h5m-9 3h5m-8 1h5m-5 5h5m-24 3h5m-21-9h5m-16 9h5m-17-19h5m-18 16h5m-12-18h5m-41 3h5m-15 17h5m-13-19h5m-14 20h5m-32-20h5m-9 28h5m10 5h5m29 5h5m13-11h5m-4 13h5m-3 2h5m3-13h5m5 3h5m4-5h5m6 1h5m-1 7h5m-2 3h5m-1-10h5m14 10h5m-3-1h5m0-1h5m-2 3h5m-4 1h5m7-5h5m-4-12h5m16 13h5m-2-12h5m27-3h5m-4 0h5m1 15h5m45 2h5m5-16h5m7 5h5m-1-4h5m67 15h5m6 0h5m9-16h5m0 12h5m4-12h5m11 8h5m1 10h5m13-10h5m-2 7h5m3 1h5m-1-1h5m5-12h5m-3 19h5m-4-14h5m10 7h5m-4-12h5m-1 8h5m10 6h5m-2-2h5m-3 0h5m-4-1h5m-4 8h5m8-13h5m0 3h5m-5-5h5m-2 4h5m-3-10h5m16 21h5m0-4h5m6-6h5m2-8h5m28-1h5m-2 14h5m5 5h5m-1-2h5m28-8h5m10 10h5m-4-9h5m18-8h5m1-1h5m-5-5h5m-3 20h5m-3 3h5m2-18h5m1 6h5m-4-8h5m-1 11h5m-5-6h5m5 10h5m-3 2h5m-4-5h5m-4 8h5m-3-15h5m2 3h5m-4 5h5m1-7h5m6 12h5m9-15h5m14-4h5m0-1h5m-4 9h5m3-7h5m-2 17h5m5 0h5m5-8h5m0 10h5m2-5h5m-3-10h5m-2 16h5m1-7h5m6 1h5m-4-3h5m1 1h5m-47 17h5m-6 13h5m-10-20h5m-10 18h5m-10-4h5m-44-12h5m-8 3h5m-8 12h5m-6-10h5m-25 2h5m-14 13h5m-12-23h5m-9 12h5m-6 7h5m-9-3h5m-36 1h5m-17-13h5m-5 18h5m-15-16h5m-12-6h5m-32 22h5m-6-13h5m-10-2h5m-11 5h5m-9-7h5m-23 16h5m-10-8h5m-6 2h5m-31-6h5m-22-3h5m-12 5h5m-9 3h5m-6-12h5m-14 20h5m-13-1h5m-28-13h5m-12 7h5m-7 8h5m-23-19h5m-6 13h5m-20-15h5m-8 5h5m-8 2h5m-6-8h5m-8 11h5m-9-4h5m-21-3h5m-11-2h5m-7 19h5m-18-6h5m-19-2h5m-10-3h5m-6 5h5m-11 4h5m-26-11h5m-38-3h5m-38-2h5m-7 0h5m-11 11h5m-6-8h5m-6-4h5m-23 3h5m-26-1h5m-18 15h5m-16 0h5m-39-3h5m-45 6h5m-8 0h5m-10-13h5m-6-9h5m-23 6h5m-44 11h5m-14-14h5m-37 19h5m-6-13h5m-35 1h5m-42 32h5m-3-4h5m2-6h5m19-6h5m-2 2h5m17 16h5m32 0h5m19-20h5m2 8h5m16-9h5m2 9h5m11-7h5m11 5h5m1-5h5m2 5h5m13 3h5m6-6h5m16 7h5m3 11h5m25-22h5m12 8h5m1 1h5m5 7h5m-2-5h5m37-1h5m10 11h5m4-6h5m44-2h5m1-13h5m2 4h5m-1 0h5m-4-1h5m1 4h5m-3 11h5m-3-11h5m-3 8h5m-2 0h5m20 3h5m15-7h5m1 9h5m-3-17h5m-3 1h5m2 13h5m-3-12h5m3 10h5m-2-12h5m4 14h5m-4-3h5m17-6h5m13 4h5m-3 3h5m-4-12h5m4 19h5m-3-12h5m13 2h5m-4-12h5m-3 21h5m40-10h5m12-1h5m28-1h5m-1 4h5m5 7h5m-4 1h5m-1 2h5m-1-16h5m7 13h5m4-17h5m-3-1h5m6 8h5m-5 10h5m1-10h5m5 0h5m3-5h5m1-4h5m5 0h5m-4 4h5m1-2h5m3 19h5m0-16h5m-1-5h5m0-1h5m-4 15h5m-2-12h5m-4 16h5m4 2h5m-1-16h5m2 13h5m8 3h5m-2-21h5m7 7h5m-2 1h5m-3 31h5m-7-4h5m-10 5h5m-15-15h5m-6 15h5m-8-9h5m-34 15h5m-14-16h5m-6 8h5m-11-12h5m-17 5h5m-12 5h5m-19-10h5m-22 8h5m-9 6h5m-53-16h5m-10 11h5m-13 9h5m-26-4h5m-9-6h5m-36 2h5m-7-11h5m-13 20h5m-22-9h5m-21-7h5m-20 12h5m-14-1h5m-13-14h5m-10-2h5m-8 10h5m-11 5h5m-18 4h5m-16-5h5m-11 4h5m-6-10h5m-11-4h5m-6 9h5m-8 1h5m-9-10h5m-9 10h5m-7-3h5m-5-3h5m-6-2h5m-5 6h5m-7 7h5m-8-12h5m-5 2h5m-5 5h5m-6-7h5m-7 9h5m-5 2h5m-5 2h5m-6 3h5m-5-20h5m-6 11h5m-6-7h5m-5 9h5m-6 6h5m-5-5h5m-6-6h5m-5 8h5m-7-1h5m-5-6h5m-6 0h5m-8-3h5m-6 9h5m-5-4h5m-8 1h5m-5-3h5m-7 1h5m-10 6h5m-6-14h5m-12-1h5m-27 9h5m-5-5h5m-11 6h5m-7-6h5m-6 14h5m-7-17h5m-25 14h5m-37 3h5m-13-10h5m-20-12h5m-11 11h5m-5 12h5m-7-6h5m-6 1h5m-16-10h5m-7 13h5m-26-18h5m-9 17h5m-60-17h5m-7 10h5m-19 2h5m-12 7h5m-5-18h5m-37 12h5m-20-11h5m-5 13h5m-5 5h5m-8-20h5m-39 1h5m-6 12h5m-14-5h5m-12 4h5m-7-15h5m-32 19h5m-38-14h5m-8 7h5m-29 10h5m-8-10h5m-12-1h5m-9 12h5m-21-22h5m-8 1h5m-13 4h5m-12 15h5m-10-15h5m-11 7h5m-11-11h5m-11 10h5m0 23h5m7-6h5m-4 13h5m-4-16h5m5 2h5m2 6h5m15 5h5m-3-15h5m-4 0h5m22 17h5m52-17h5m20 2h5m9 5h5m24-2h5m13 5h5m-4 3h5m7-6h5m3-5h5m-2 16h5m10 1h5m3-12h5m-3 7h5m-2-9h5m4 10h5m-1-1h5m8-13h5m1 10h5m23 1h5m30 2h5m1-2h5m-4 5h5m15-7h5m-2 6h5m6-12h5m12 8h5m8-6h5m3 5h5m9-2h5m-2-4h5m8-5h5m6 1h5m1 7h5m-3-2h5m-3 5h5m1-10h5m4-1h5m-2 15h5m2-11h5m5 15h5m2-19h5m49 3h5m1-1h5m4 1h5m4-3h5m1 14h5m19 2h5m-4 1h5m37-7h5m1-6h5m-2-1h5m2 14h5m26-17h5m-3 16h5m30-4h5m-1 0h5m-1 0h5m-1-8h5m25 13h5m15-8h5m11-5h5m5 0h5m-3 6h5m24 4h5m-5 1h5m2-10h5m-3 10h5M2135 43h5m-51-7h5m-10 10h5m-18-1h5m-60-10h5m-25 8h5m-21-9h5m-5 2h5m-41 5h5m-13-6h5m-14 11h5m-6-6h5m-7-3h5m-7 6h5m-6-4h5m-15 7h5m-29 0h5m-18-10h5m-6 0h5m-24 10h5m-23-10h5m-43 8h5m-22-10h5m-12 12h5m-27-4h5m-13 1h5m-14 2h5m-27-7h5m-14-4h5m-11 12h5m-15-11h5m-17-1h5m-9 0h5m-5 10h5m-12 1h5m-109-1h5m-67-8h5m-198 9h5m-21 4h5m19 22h5m265-19h5m-4 6h5m1 10h5m-3-13h5m0 10h5m0 2h5m-2 3h5m-4 0h5m-4-12h5m-4 12h5m0-16h5m0 15h5m5-14h5m1 6h5m-2 0h5m-3-5h5m-4-7h5m-2 0h5m4 1h5m7 11h5m7 1h5m-3-12h5m-1-2h5m-2 20h5m-4-6h5m-5 9h5m2-16h5m3 9h5m3 6h5m1-4h5m2 3h5m-4-3h5m20-5h5m1-1h5m3-12h5m23 23h5m0 0h5m4-22h5m-2 13h5m6-6h5m-4-6h5m3 1h5m8 9h5m-2 2h5m1 7h5m-5-14h5m-1-4h5m0 20h5m-2-17h5m1 17h5m0 0h5m-1-5h5m0-7h5m-5 7h5m5-13h5m-2 14h5m-4-9h5m-4 2h5m-2-6h5m-4-5h5m-4 3h5m-5 0h5m-5 5h5m-3 7h5m-4-11h5m-4-4h5m-2-1h5m-5 4h5m-4-2h5m14 12h5m5 1h5m5-4h5m8 7h5m24-15h5m1 7h5m5 3h5m6-6h5m28 11h5m4-3h5m0-12h5m31 2h5m12 1h5m29-2h5m-5 42h5m-32-1h5m-9-9h5m-15 9h5m-6-18h5m-5 2h5m-23-1h5m-12-1h5m-10 0h5m-9 15h5m-21-13h5m-29 0h5m-13 18h5m-21-8h5m-30-2h5m-5-5h5m-17-2h5m-11 15h5m-41-11h5m-5-8h5m-17 0h5m-5 12h5m-15 9h5m-21-14h5m-27 13h5m-11-19h5m-8 13h5m-5-16h5m-11 11h5m-7-11h5m-10 4h5m-11 18h5m-5-14h5m-7 3h5m-5 3h5m-5-5h5m-5 2h5m-6 10h5m-5-20h5m-7 17h5m-6-2h5m-6-3h5m-6 9h5m-8-1h5m-7-2h5m-6-14h5m-8 17h5m-7 0h5m-8-17h5m-8 13h5m-27-14h5m-17 2h5m-12 14h5m-10-10h5m-7 12h5m-27-2h5m-6-2h5m-5-3h5m-5-2h5m-11-7h5m-8 5h5m-11-11h5m-10 23h5m-11-19h5m-7 2h5m-26 13h5m-9-8h5m-8-8h5m-13 14h5m-5-2h5m-13 7h5m-15-14h5m-7 11h5m-13-13h5m-5 15h5m-13 2h5m-42-2h5m-6-6h5m-6-1h5m-7-5h5m-22 8h5m-6-16h5m-22 18h5m-12 0h5m-5-13h5m-5-1h5m-9 4h5m-7 12h5m-11-9h5m-10 2h5m-12-7h5m-10 11h5m-9 2h5m-31-1h5m-12-8h5m-87 6h5m-48-15h5m-23 0h5m-59 42h5m13-11h5m30 3h5m62 8h5m21-14h5m-1 6h5m-4 11h5m-4-20h5m7 20h5m-2-17h5m-1 7h5m-3 10h5m-5-1h5m10-13h5m2 4h5m-1 3h5m3-1h5m-5 7h5m-4-2h5m0-13h5m1-4h5m6 2h5m-4 7h5m-1 6h5m-1-9h5m3-7h5m6 20h5m-1-22h5m10 14h5m2 9h5m1 0h5m11-7h5m3-3h5m-3-6h5m-3-3h5m-4 14h5m0 4h5m-1 1h5m-5-22h5m-1 22h5m-3-17h5m-1 1h5m-4 15h5m-3-16h5m-1 9h5m-1-14h5m2 13h5m6 4h5m4-13h5m-2 18h5m10-3h5m0-8h5m1 11h5m0-4h5m0-15h5m0 11h5m-2-1h5m20-6h5m8 11h5m-4-10h5m-2 9h5m-3-2h5m-1-8h5m-5 14h5m3-8h5m-3-3h5m-3 3h5m3-13h5m-4 21h5m2-10h5m-4 11h5m4-13h5m4-8h5m-3 5h5m-4 7h5m4-3h5m0-11h5m-1 21h5m3-13h5m-4 11h5m-3-12h5m-4 0h5m-5-3h5m-2-4h5m-5 9h5m-2 0h5m12 14h5m-1-14h5m-5-4h5m-2-4h5m1 18h5m-1-16h5m3-1h5m2 10h5m-2-2h5m15 5h5m8-15h5m-1 0h5m2 7h5m5 10h5m49 4h5m15-18h5m0 5h5m-2 5h5m-5-9h5m17 0h5m0 16h5m16-9h5m15-7h5m14 17h5m1-20h5m7 16h5m-4-10h5m0 12h5m-1 14h5m-9-2h5m-22 6h5m-46-1h5m-18 9h5m-58-5h5m-43 0h5m-36-9h5m-7-1h5m-9 3h5m-6 9h5m-15-10h5m-12 6h5m-23-5h5m-16 1h5m-9-5h5m-5 1h5m-13 15h5m-7-16h5m-38-4h5m-15 9h5m-25 10h5m-11-10h5m-9 12h5m-9-6h5m-9-5h5m-13 5h5m-5-6h5m-10-4h5m-13 15h5m-9-9h5m-5 1h5m-6-2h5m-5-11h5m-15 22h5m-17-22h5m-9 14h5m-13-13h5m-11 16h5m-36-4h5m-5-4h5m-7 14h5m-6-12h5m-5 5h5m-17 2h5m-8-17h5m-24 2h5m-6 14h5m-8-14h5m-8-3h5m-7 10h5m-8 13h5m-5 0h5m-13-16h5m-5 2h5m-9 8h5m-5-4h5m-5-3h5m-9 4h5m-5 6h5m-12-7h5m-11 9h5m-9-6h5m-7-14h5m-14-1h5m-9 1h5m-11 7h5m-6-3h5m-15 14h5m-10-9h5m-13 10h5m-11-21h5m-8 15h5m-7-5h5m-15 12h5m-13-14h5m-5 5h5m-10 6h5m-7-13h5m-7 7h5m-8 6h5m-9-5h5m-16 2h5m-18 6h5m-12-7h5m-14-5h5m-5-7h5m-6 8h5m-49 1h5m-6-5h5m-11 6h5m-12-11h5m-9 19h5m-9-6h5m-10-7h5m-8 4h5m-10 4h5m-7-7h5m-8 7h5m-7 0h5m-7 3h5m-6 0h5m-5-1h5m-6-7h5m-5 12h5m-6-2h5m-24 0h5m-9 2h5m-49-22h5m-56 26h5m32 19h5m29-10h5m-3-5h5m-2 12h5m-4-5h5m-2-10h5m-2 4h5m-4 3h5m-1-3h5m1 10h5m10 4h5m-4-18h5m-3-3h5m0 10h5m1 4h5m9 1h5m-4 2h5m-3-11h5m6 14h5m-2 1h5m-4-20h5m19 20h5m-2-15h5m6 16h5m-4-1h5m-1 0h5m-3-8h5m-3-12h5m-3 6h5m-2 4h5m0-12h5m5 14h5m-1-11h5m-4 9h5m-4 1h5m8 2h5m-5 6h5m7-19h5m-3 11h5m-3 9h5m4-13h5m10 12h5m6-6h5m-3-6h5m6-4h5m-2 0h5m-5 18h5m-3-22h5m-1 2h5m8 3h5m-1-5h5m-3 12h5m0-6h5m-4 5h5m1-2h5m4 2h5m-4-4h5m2-4h5m1-1h5m-2 6h5m-1 7h5m-1-13h5m9 8h5m14 4h5m-1 7h5m-3-11h5m-2-7h5m0 13h5m0-16h5m1 6h5m-4 11h5m6-8h5m1-9h5m-1 22h5m9-17h5m9-4h5m-3 18h5m-1-3h5m-1-1h5m-4-1h5m8 4h5m-3 4h5m0-14h5m-1 3h5m-4 0h5m15 5h5m3 5h5m-2-13h5m-3 12h5m16 1h5m-2-8h5m-1-2h5m0 8h5m6 0h5m-4-7h5m8-6h5m0 7h5m-4-4h5m8 9h5m3-3h5m12-5h5m10-8h5m-5 20h5m-2-12h5m-1 10h5m43 2h5m12-23h5m35 13h5m8-5h5m20-7h5m0 20h5m11-21h5m-5 1h5m13 8h5m-33 36h5m-42 0h5m-22 2h5m-13-14h5m-15-5h5m-47 14h5m-9 5h5m-18-12h5m-39-3h5m-34 4h5m-5 6h5m-6-9h5m-25 4h5m-19 1h5m-6-1h5m-8-1h5m-8 9h5m-10-8h5m-8 8h5m-9 0h5m-6 1h5m-8-19h5m-6 18h5m-9-3h5m-8-5h5m-12 8h5m-8-16h5m-10-3h5m-13 17h5m-16-15h5m-10-2h5m-6 8h5m-7 0h5m-8-7h5m-12 11h5m-21 4h5m-8-4h5m-6 1h5m-6 7h5m-8-10h5m-7 7h5m-10-4h5m-8-10h5m-10 17h5m-6-15h5m-5-1h5m-18 11h5m-5-5h5m-12 10h5m-13-21h5m-22 10h5m-6 7h5m-6-14h5m-8 5h5m-9-9h5m-6 0h5m-9 14h5m-6 1h5m-12 0h5m-15 3h5m-8 1h5m-5-10h5m-6 3h5m-7 9h5m-9 1h5m-15 1h5m-8-13h5m-9 1h5m-9-4h5m-13 5h5m-9-8h5m-10 4h5m-8 10h5m-10 0h5m-6-2h5m-7 1h5m-7-1h5m-5-3h5m-6 7h5m-5-12h5m-13-7h5m-7 20h5m-14-9h5m-5-11h5m-6 14h5m-5-2h5m-9 3h5m-5 4h5m-9 0h5m-7-13h5m-7 12h5m-6 0h5m-7-5h5m-8-3h5m-8 11h5m-7-6h5m-5-15h5m-6 15h5m-5-11h5m-7 9h5m-6 9h5m-7-20h5m-5 15h5m-6-2h5m-8-13h5m-9 14h5m-7-8h5m-6 7h5m-7-13h5m-9 16h5m-6-3h5m-7-9h5m-6 3h5m-17-8h5m-9 14h5m-8-7h5m-5 3h5m-6 3h5m-6 8h5m-7-12h5m-10-7h5m-7 15h5m-8-18h5m-10 7h5m-14 15h5m-8-16h5m-6-6h5m-9 7h5m-13 15h5m-9-13h5m-5 7h5m-12-5h5m-20 0h5m-8-2h5m-5 0h5m-5 7h5m-13 5h5m-10-8h5m-13-14h5m-6 5h5m-6 6h5m-10-4h5m-6-2h5m-15 6h5m-6-10h5m-6 14h5m-6-13h5m-9 6h5m-9 9h5m-23-3h5m-6-14h5m-9 13h5m-6 3h5m-9 2h5m-15-8h5m-6 9h5m-8-17h5m-36 9h5m-7 9h5m-8-8h5m-7 7h5m-9-16h5m-7 1h5m-10 18h5m-6-18h5m-5 2h5m-6 9h5m-5 3h5m-14-10h5m-10 2h5m-9 12h5m-10 0h5m-13-5h5m-8 5h5m-34 21h5m2 4h5m3-3h5m3-8h5m-4-4h5m9 2h5m20 6h5m8-3h5m-5 7h5m4 0h5m9-19h5m-2 16h5m-5-5h5m6 4h5m0-8h5m2 14h5m-3-13h5m-3 6h5m-4 5h5m-2-1h5m-2-9h5m2-8h5m-5-2h5m1 20h5m1 0h5m5-14h5m-3 3h5m-3 8h5m-3 6h5m-4-14h5m2-8h5m3 16h5m-1 0h5m2-4h5m5 3h5m-5-5h5m-3 6h5m21-17h5m-3 5h5m-1 6h5m5 5h5m-1 2h5m3-17h5m4 20h5m-5 2h5m-2 0h5m-4-21h5m-3 10h5m-2 6h5m1-15h5m12 15h5m-4-16h5m8 15h5m3-12h5m-5 3h5m3 0h5m3 3h5m0-10h5m0 18h5m6-6h5m-5-13h5m0 0h5m-2 23h5m-4-16h5m-4 1h5m9-8h5m-4 13h5m0 0h5m-3-4h5m-3 11h5m-1-13h5m3 14h5m9-18h5m-3-3h5m6 3h5m0 15h5m-5-17h5m-5 1h5m-4 13h5m-4 2h5m0 3h5m2 3h5m-4-19h5m-1 0h5m-5 13h5m-5-13h5m-4-1h5m-2-3h5m5 10h5m-4 2h5m-3-5h5m7 0h5m-3-4h5m-1 12h5m-2 1h5m-1-9h5m1 6h5m0-10h5m-1 1h5m-5-3h5m-2 3h5m-4-2h5m-5 21h5m-2-16h5m1 3h5m1-7h5m-1 2h5m4 0h5m-4 1h5m-5 4h5m-2 5h5m1 2h5m-5-4h5m-2 10h5m0-21h5m-1 1h5m-5 8h5m1 10h5m1-1h5m-2 2h5m-5-11h5m-3 0h5m-3 1h5m-4-2h5m-4 4h5m8 0h5m-3-3h5m-2-1h5m14 2h5m29-5h5m-4-3h5m-3 9h5m7-9h5m3 6h5m10-2h5m28 12h5m8-10h5m29-2h5m13 14h5m21-22h5m16 7h5m2-2h5m38 22h5m-42 16h5m-14-1h5m-48-10h5m-16 13h5m-28-18h5m-11 7h5m-14-8h5m-19 8h5m-6-3h5m-17 5h5m-74 11h5m-18-14h5m-15-4h5m-12-5h5m-7 7h5m-10 10h5m-13 6h5m-8 0h5m-6-11h5m-5-12h5m-43 19h5m-13-19h5m-10 9h5m-13 10h5m-7-3h5m-15 2h5m-5-2h5m-21-8h5m-15-1h5m-16-6h5m-14 13h5m-27-4h5m-11-6h5m-7 7h5m-14-2h5m-18 0h5m-6 8h5m-7 6h5m-7-8h5m-15 5h5m-8-16h5m-5 3h5m-7 7h5m-6 5h5m-12-6h5m-5 6h5m-9 1h5m-7 1h5m-11-15h5m-5 3h5m-15-1h5m-13 14h5m-5-7h5m-12 3h5m-12-6h5m-8-7h5m-6 13h5m-7-9h5m-14 4h5m-6 1h5m-11 1h5m-31 6h5m-7 2h5m-14-21h5m-10 6h5m-12 6h5m-10-10h5m-18 13h5m-11-10h5m-21 12h5m-11-7h5m-21-5h5m-5 10h5m-46-8h5m-10-3h5m-15 4h5m-12 8h5m-9-1h5m-12-17h5m-7 1h5m-11 11h5m-13-8h5m-12 6h5m-10 0h5m-5 2h5m-9-9h5m-5-1h5m-5 0h5m-10 19h5m-7-18h5m-7 19h5m-62-2h5m-9-4h5m-6 2h5m-22 1h5m-21-12h5m-13 13h5m-19 0h5m-13-14h5m-8 37h5m0 2h5m4-9h5m4-6h5m-5 4h5m-5 6h5m22 3h5m53-6h5m19 0h5m4-8h5m-4-1h5m13 9h5m-4-8h5m-2 10h5m1 0h5m-2 7h5m3-9h5m5-12h5m-1 0h5m-4 9h5m20-9h5m3 3h5m-5-3h5m-4 19h5m-2-19h5m-1 16h5m24-17h5m-5 8h5m10 15h5m-5-4h5m3-5h5m-1 0h5m-2 3h5m5-17h5m6 1h5m-4 15h5m13 0h5m-2-13h5m25 3h5m0 1h5m-4 0h5m-2 7h5m-3-5h5m-4 13h5m1-3h5m4-12h5m-4 13h5m-4-18h5m-5 5h5m4 12h5m-3-1h5m2-10h5m-4 6h5m4 0h5m6-7h5m-1 11h5m9-9h5m-5 11h5m-2 0h5m-4-11h5m-3 8h5m-1 4h5m2-1h5m-4-8h5m-3 0h5m-1 10h5m0 1h5m10-17h5m2 14h5m16-10h5m13-4h5m0 12h5m11-14h5m12 13h5m2-10h5m4 8h5m-5 7h5m6-20h5m25 2h5m-5 1h5m-5-5h5m-5 17h5m25-11h5m11-3h5m-5 4h5m3 4h5m0 9h5m4-4h5m4-4h5m-1 11h5m15-21h5m-4 11h5m30-11h5m25 6h5m-2 13h5m6-4h5m4-14h5m-4-1h5m3 6h5m21 12h5m17-2h5m8 0h5m-22 22h5m-6-7h5m-9-3h5m-36 2h5m-25 0h5m-5-2h5m-9 6h5m-9-10h5m-11 4h5m-11 1h5m-6 2h5m-13 3h5m-6 7h5m-22-14h5m-33-1h5m-15 2h5m-8 17h5m-19-23h5m-11 0h5m-6 14h5m-6-7h5m-27 14h5m-30-18h5m-11 14h5m-7-16h5m-13 17h5m-26-15h5m-17-3h5m-15 12h5m-20 1h5m-7-11h5m-20 18h5m-18-18h5m-9 14h5m-7 3h5m-5 2h5m-33-6h5m-8-14h5m-17 5h5m-11 12h5m-19-15h5m-6 12h5m-16-3h5m-9 10h5m-15-22h5m-5 20h5m-10-12h5m-25 4h5m-7-7h5m-6 4h5m-9-8h5m-13 10h5m-5-6h5m-10 5h5m-6 2h5m-9-3h5m-8-4h5m-7 9h5m-5-10h5m-11 3h5m-9-1h5m-14 6h5m-6-8h5m-9 17h5m-6-2h5m-12 2h5m-15-4h5m-5 1h5m-9-6h5m-9-10h5m-5 7h5m-13-5h5m-9 12h5m-7 5h5m-8-17h5m-7 8h5m-6 8h5m-8-6h5m-8-8h5m-5-3h5m-12 19h5m-12-22h5m-5 16h5m-17-4h5m-23-2h5m-10-10h5m-6 18h5m-15-17h5m-19 10h5m-13 12h5m-25-10h5m-12 2h5m-7-1h5m-12 9h5m-10-17h5m-8 0h5m-7 16h5m-18-4h5m-8-8h5m-9-2h5m-37-4h5m-15 0h5m-6 7h5m-12-1h5m-18-6h5m-10 0h5m-12 19h5m-31-21h5m-8 4h5m-8 17h5m-13-12h5m-12-3h5m-7 5h5m-17 10h5m-39-3h5m-17-9h5m-6-1h5m-16 13h5m-6-12h5m-3 35h5m1-9h5m-2 4h5m-2-14h5m3-3h5m40 13h5m7-10h5m1 2h5m6 16h5m-3-17h5m1 8h5m-3-10h5m14 2h5m3 5h5m4 13h5m20 1h5m10-17h5m16 1h5m-3 14h5m14-14h5m-2 3h5m1 10h5m-3-7h5m0-1h5m-3-12h5m-4 12h5m-3 3h5m-1-14h5m-1 20h5m-3-17h5m-2 19h5m-3-11h5m4-3h5m11 2h5m-2-3h5m-1-5h5m0 9h5m3 2h5m-3-14h5m-2 3h5m0 14h5m-4 4h5m-4 1h5m5-2h5m-2-18h5m-4 8h5m3-3h5m2 0h5m2 2h5m-5 1h5m-4 12h5m-4-2h5m-5-9h5m-5 12h5m-4-1h5m-1-22h5m-5 2h5m-5 18h5m-1-2h5m-3 1h5m-5-2h5m-5-4h5m2-6h5m-3 14h5m-1 2h5m-2-9h5m-5 8h5m2-1h5m3 1h5m1-14h5m0 13h5m-4-20h5m-3 17h5m-4-3h5m-2-8h5m-4-2h5m-4-1h5m12 8h5m6-11h5m-4 7h5m-4 10h5m-2 3h5m-2-15h5m-4 8h5m42 4h5m16-4h5m36-5h5m6-7h5m-2 10h5m4-1h5m-3 4h5m7 2h5m4 5h5m13-5h5m-3-2h5m1-14h5m-3 21h5m7-4h5m50 1h5m25-5h5m30-8h5m1 5h5m1-2h5m13 14h5m-5-3h5m23-20h5m11 15h5m-2-1h5m-3 4h5m-2-1h5m0-1h5m-3 4h5m1-18h5m9 12h5m21 31h5m-33-8h5m-26 1h5m-7 9h5m-11-23h5m-5 19h5m-8-9h5m-13-4h5m-33 0h5m-7 8h5m-31-7h5m-24 7h5m-24 0h5m-13-11h5m-22 2h5m-27 12h5m-12 6h5m-24-19h5m-23 6h5m-8-10h5m-30 7h5m-25 8h5m-12-2h5m-29 4h5m-14-10h5m-6-3h5m-6 1h5m-23-1h5m-19 5h5m-8 11h5m-18 3h5m-6-17h5m-7 14h5m-6 1h5m-13-13h5m-9 2h5m-10-1h5m-10 13h5m-12-11h5m-9 5h5m-16-15h5m-11 20h5m-7 1h5m-8 0h5m-6-4h5m-8-2h5m-5-16h5m-6 21h5m-5-13h5m-8 15h5m-14-1h5m-8-4h5m-7-14h5m-12 2h5m-8 13h5m-7-11h5m-11 2h5m-7 11h5m-13-8h5m-8 6h5m-8-14h5m-5 0h5m-6 3h5m-15 6h5m-9-3h5m-9-3h5m-10 9h5m-6-9h5m-8 13h5m-7-2h5m-7-6h5m-5-13h5m-5 11h5m-12 10h5m-6-6h5m-6 5h5m-15-6h5m-6 7h5m-20-16h5m-6 6h5m-13 3h5m-9 8h5m-6 1h5m-12-5h5m-25 3h5m-6-3h5m-6 4h5m-8-11h5m-10 3h5m-6 0h5m-6 0h5m-8 8h5m-11-12h5m-9-2h5m-7 10h5m-12-12h5m-6 11h5m-10-14h5m-9 0h5m-10-1h5m-11 2h5m-15 0h5m-8 9h5m-11-10h5m-14 16h5m-8-4h5m-12-15h5m-15 13h5m-9 2h5m-30 2h5m-24-10h5m-7 16h5m-32-16h5m-22-6h5m-6 3h5m-17 13h5m-8-14h5m-22 20h5m-30 0h5m-9-10h5m-17 5h5m-23-12h5m-7 35h5m-4-4h5m-4 6h5m1-1h5m8-3h5m-2-12h5m1 11h5m-4-4h5m9-2h5m20-6h5m1 8h5m-2 7h5m-4-13h5m2 15h5m-3-10h5m8-8h5m2 2h5m4 12h5m-5-11h5m-2 14h5m3 4h5m24 1h5m23-16h5m2 9h5m-2 6h5m-4-1h5m-2-8h5m16-11h5m13 18h5m5-14h5m21 11h5m16-10h5m-2 5h5m0-3h5m-4-2h5m-2 5h5m-4-2h5m-2-2h5m-5 6h5m0 9h5m3-11h5m2-10h5m-4 16h5m-3-6h5m3 4h5m1-1h5m-3 2h5m-1-12h5m-2-5h5m4 21h5m-4-5h5m-4-1h5m-4 2h5m1 0h5m1-16h5m-5 9h5m0 13h5m-5-5h5m-3-13h5m-4 0h5m-4-3h5m-4 9h5m-5 4h5m-3 4h5m0-12h5m-3 9h5m-4-2h5m-3 0h5m5 9h5m-5-13h5m1 9h5m2-14h5m-3 4h5m-4 2h5m1 5h5m-3 0h5m-4-1h5m4-9h5m-4 12h5m-5-18h5m-3 19h5m4-17h5m-4 6h5m0 13h5m-5-19h5m5 2h5m-5 2h5m14 9h5m-3-11h5m-5 16h5m-5-2h5m0-2h5m-4 6h5m1-7h5m7 5h5m46-6h5m4-8h5m21 12h5m-3 0h5m10 0h5m2 1h5m-5-13h5m23 12h5m-4-4h5m4-10h5m-3 18h5m-1-10h5m13-1h5m-3-7h5m-4 16h5m-4-5h5m7-4h5m21-9h5m0 10h5m2 10h5m0-10h5m22 3h5m0 3h5m-3-6h5m-1 8h5m2 2h5m-2-21h5m-2 11h5m8 11h5m-4-4h5m1-17h5m17 13h5m-3 4h5m-1-16h5m0 5h5m2-7h5m-3 21h5m8-18h5m-5 15h5m2-2h5m-4 6h5m1-12h5m-3-1h5m-3 3h5m-4-11h5m-4 0h5m-4 0h5m-4 12h5m-2 13h5m-7 15h5m-5-2h5m-6 2h5m-5-8h5m-50-6h5m-7-3h5m-7-1h5m-11 0h5m-9 4h5m-8 13h5m-6-12h5m-9 1h5m-5 8h5m-6-5h5m-7-3h5m-6-1h5m-8-4h5m-8 13h5m-5-13h5m-9 0h5m-13 22h5m-8-6h5m-9-13h5m-7 17h5m-10-5h5m-8-10h5m-6-6h5m-9 23h5m-8-16h5m-6 1h5m-7-8h5m-15 14h5m-6-6h5m-8 6h5m-6 6h5m-15-6h5m-6-2h5m-14 11h5m-9-13h5m-5-2h5m-12-6h5m-11 10h5m-6 5h5m-10-10h5m-20 14h5m-6-5h5m-8 1h5m-10 3h5m-11-16h5m-9 3h5m-9-2h5m-5 12h5m-8 2h5m-6 4h5m-7-3h5m-22-6h5m-32 2h5m-11 5h5m-34 2h5m-7-10h5m-9 8h5m-7-15h5m-16 16h5m-8-16h5m-15 8h5m-8 3h5m-10-11h5m-11 14h5m-6-3h5m-9-8h5m-34 5h5m-10-13h5m-21 7h5m-7-1h5m-17 9h5m-6-15h5m-10 13h5m-5-5h5m-6-3h5m-10 9h5m-5 8h5m-13-19h5m-9 9h5m-7 7h5m-9-11h5m-10 1h5m-9-6h5m-20-3h5m-21 21h5m-6-15h5m-7-3h5m-6 16h5m-6-6h5m-6-12h5m-6 10h5m-10 10h5m-8-15h5m-6 4h5m-7 1h5m-6 5h5m-6 1h5m-10-1h5m-12 0h5m-5 0h5m-5-7h5m-6-1h5m-7-4h5m-7 14h5m-6-16h5m-10 9h5m-5 9h5m-5-13h5m-6 12h5m-6 1h5m-6-19h5m-5 15h5m-7-10h5m-5 12h5m-7-4h5m-7-12h5m-5 9h5m-7 10h5m-11-16h5m-8 15h5m-8-5h5m-8-13h5m-7 17h5m-6 3h5m-5-19h5m-7 16h5m-6-1h5m-6-5h5m-7 3h5m-7 5h5m-8-13h5m-5 13h5m-6-21h5m-6 5h5m-12 1h5m-5 1h5m-6 3h5m-9-10h5m-10 0h5m-9 16h5m-15-11h5m-16-4h5m-8 14h5m-6 3h5m-6 0h5m-15-2h5m-5-2h5m-14-8h5m-7-6h5m-21 4h5m-17 18h5m-10-8h5m-47-7h5m-15-1h5m-6 13h5m-7-1h5m-6-11h5m-8 0h5m-14 6h5m-16-7h5m-11-5h5m-11 17h5m-7-13h5m-8-6h5m-10 15h5m-8 8h5m-35-6h5m-8-13h5m-6 10h5m-9-13h5m-5 0h5m-6 16h5m-11-2h5m-8 7h5m-5-3h5m-19-4h5m-6-4h5m-11-5h5m-16 4h5m-9 0h5m-15-4h5m-7 16h5m-20-14h5m-9 14h5m-17 16h5m-4 1h5m-4 2h5m1 6h5m0-1h5m1-7h5m0 8h5m-3-5h5m10-7h5m-4 6h5m10-10h5m5 4h5m9-10h5m3 16h5m-3 1h5m-5-17h5m24 0h5m-1 2h5m1 5h5m1 10h5m-4-13h5m17 2h5m2 9h5m-5-10h5m-2-4h5m1-2h5m5 8h5m-1 11h5m10-4h5m3-10h5m-2 8h5m10-13h5m9 14h5m2-9h5m9-2h5m5 20h5m-4-7h5m9-2h5m-2-5h5m-2 0h5m4 10h5m-2-6h5m8-7h5m-3 1h5m-4-3h5m3 4h5m4 9h5m1-3h5m-3 2h5m-1 4h5m-4-15h5m-1 14h5m-4-1h5m0-5h5m-5-13h5m-4 13h5m-3-8h5m-4 8h5m-5-10h5m-5 14h5m-5 4h5m-2-17h5m-5 6h5m-4-3h5m-5 15h5m-3-22h5m-3 12h5m-4-2h5m-4 1h5m-1-8h5m-1 0h5m-4 13h5m-4-12h5m-4 15h5m-4-6h5m-2 5h5m0-13h5m-5 12h5m-3-5h5m-5-12h5m-2 4h5m-3-1h5m6 5h5m0-8h5m-1 9h5m1 11h5m-3-7h5m-5-4h5m4 1h5m2 7h5m2 6h5m6-22h5m13 9h5m-5 11h5m-4-12h5m-4 9h5m-3-6h5m-2-4h5m-1 15h5m0-19h5m-2 14h5m2-18h5m7 7h5m7 6h5m-2 5h5m-5-14h5m-3 10h5m16 7h5m4-19h5m-4 19h5m-1-17h5m6 14h5m-5-11h5m-2 13h5m-4-5h5m-4-4h5m16-3h5m-2 9h5m-3 3h5m-5-6h5m-5 9h5m-2-5h5m-4 5h5m-2-9h5m11-4h5m0 13h5m-5-22h5m1 9h5m-5 12h5m3-10h5m6 2h5m-4-12h5m-1 5h5m1-3h5m-5 1h5m2 7h5m-2 11h5m-5-19h5m1 12h5m3 3h5m0-12h5m-4 0h5m-4-5h5m-2 0h5m4 1h5m-1 6h5m-1 0h5m0 0h5m-5-5h5m11 19h5m-4-7h5m-4 0h5m5-4h5m2 1h5m0-12h5m0 2h5m12 18h5m26-9h5m0 1h5m-5 1h5m-4-2h5m3-3h5m-1 10h5m6-1h5m1-9h5m-1 6h5m2-14h5m-4 15h5m10 7h5m-4-9h5m4 7h5m-5 8h5m-27 14h5m-9-9h5m-35 10h5m-16-19h5m-7 18h5m-10-4h5m-13-13h5m-8 6h5m-10-1h5m-19-1h5m-51-3h5m-22 4h5m-7 1h5m-27-7h5m-5 14h5m-9-12h5m-7 4h5m-6-2h5m-23-5h5m-9 8h5m-22-6h5m-7 0h5m-6 0h5m-6 16h5m-17 5h5m-11-5h5m-5-15h5m-6 5h5m-14 13h5m-12 2h5m-14-22h5m-6 11h5m-9-3h5m-9 8h5m-6-11h5m-19 15h5m-8-8h5m-8-9h5m-18 3h5m-9-3h5m-13-3h5m-8 12h5m-7 5h5m-6 0h5m-5-6h5m-8-1h5m-9 0h5m-16 5h5m-19-2h5m-6-12h5m-5 17h5m-7-15h5m-9 7h5m-8 5h5m-11-3h5m-14-6h5m-11 15h5m-5 1h5m-13-19h5m-7 18h5m-9-19h5m-6 12h5m-7-6h5m-6-1h5m-7 3h5m-9 5h5m-8-9h5m-9 15h5m-5-13h5m-5-7h5m-9 0h5m-5 3h5m-6 2h5m-10 4h5m-9 10h5m-9-18h5m-7 16h5m-9 2h5m-9-10h5m-7 10h5m-10-4h5m-8-5h5m-5-8h5m-8 16h5m-13-6h5m-19-10h5m-8 15h5m-8-17h5m-14 19h5m-10-9h5m-12 7h5m-13-17h5m-5 5h5m-16 2h5m-9 14h5m-9-15h5m-8-6h5m-6 6h5m-7-3h5m-10 2h5m-23 2h5m-5 11h5m-7-3h5m-9-3h5m-8-10h5m-12 18h5m-9-6h5m-8-9h5m-8 10h5m-11 6h5m-8-6h5m-5-17h5m-13 3h5m-8 13h5m-6-12h5m-8 18h5m-6 0h5m-11-5h5m-8 2h5m-10-18h5m-12 22h5m-9-9h5m-7 7h5m-12-1h5m-15-1h5m-20 1h5m-10-5h5m-8 6h5m-7-3h5m-6-4h5m-6-2h5m-6 6h5m-11-18h5m-16 3h5m-7 10h5m-9 1h5m-9 7h5m-5-20h5m-13 16h5m-6-3h5m-15 9h5m-9-10h5m-6 1h5m-6-9h5m-5 10h5m-6 0h5m-5 2h5m-17-13h5m-6 6h5m-13-3h5m-5-3h5m-6 5h5m-7 0h5m-7-8h5m-7-1h5m-7 11h5m-8 0h5m-7 6h5m-8-7h5m-6-4h5m-7 5h5m-6 8h5m-5-5h5m-6-7h5m-6 7h5m-8-10h5m-5 17h5m-16-7h5m-14-6h5m-7-3h5m-6 1h5m-7-6h5m-11 9h5m-7 4h5m-6-4h5m-10-1h5m-11 7h5m-5-10h5m-5 2h5m-9 3h5m-17 2h5m-10-11h5m-6 2h5m-19 13h5m-6-15h5m-11 4h5m197 26h5m34-5h5m0-2h5m1 4h5m-3 0h5m-1 16h5m-4-18h5m-4 3h5m-1-5h5m-2 22h5m2-14h5m-2 14h5m-1-5h5m-4-4h5m-1-8h5m-1-1h5m5 2h5m-3-1h5m-4 7h5m0 11h5m0-6h5m-2-3h5m-2-5h5m3-6h5m-5 12h5m-4-2h5m-4-1h5m0 3h5m-4 6h5m-4-2h5m0 4h5m-1-16h5m-4 10h5m-4 1h5m-4-5h5m-2 7h5m-1-11h5m-4-8h5m-3 8h5m-5-1h5m-4-6h5m-3 21h5m1-10h5m-3 3h5m-4-8h5m-2 5h5m10-8h5m1 12h5m0-17h5m-5 4h5m-4 13h5m-5 2h5m1 1h5m-2-3h5m-4 3h5m-2-10h5m-5 11h5m-4-1h5m1-20h5m-5 13h5m0-4h5m-4-3h5m-4 3h5m-4 14h5m-3-5h5m-4-5h5m-2 9h5m-5-17h5m-5 7h5m-1-5h5m-3-7h5m-5 20h5m-2-13h5m-3-7h5m-4 6h5m0 4h5m-3-9h5m-4 14h5m-5-2h5m-2 1h5m-3-14h5m-4 6h5m-2-1h5m-3-5h5m-3 18h5m-2-16h5m-4-1h5m-2 1h5m-5 21h5m-2-9h5m-3 7h5m2-7h5m-1-14h5m-5 18h5m0-12h5m-4-4h5m3 17h5m-3-7h5m-5-12h5m4 11h5m-4 3h5m-4-2h5m-4 6h5m0-12h5m-4-1h5m-4 18h5m-4-20h5m5 8h5m1 9h5m-1-15h5m2-2h5m-2 5h5m-4 14h5m17-16h5m-4 6h5m-5 8h5m-2-2h5m-4-8h5m15 6h5m-5-12h5m-3-1h5m0 1h5m1 0h5m-2 1h5m16 12h5m0 0h5m-3-3h5m-5 3h5m9 0h5m45-17h5m4 12h5m13-4h5m-5-7h5m7 18h5m-4-8h5m9 9h5m5-6h5m5-9h5m-1 18h5m9-10h5m6 10h5m3-17h5m-4 7h5m26 3h5m37-13h5m-9 37h5m-17-16h5m-23 8h5m-35-1h5m-6 1h5m-8 0h5m-28-5h5m-6 7h5m-10-3h5m-35 14h5m-12-10h5m-8 0h5m-38-6h5m-12 18h5m-7-16h5m-27-5h5m-20 17h5m-16-11h5m-7 9h5m-19-6h5m-5 3h5m-11 4h5m-26-8h5m-7 5h5m-7 6h5m-15-14h5m-25 11h5m-12-15h5m-14 11h5m-20-2h5m-6-4h5m-15 2h5m-7 3h5m-7 6h5m-11-18h5m-7 15h5m-6-7h5m-10 9h5m-5-6h5m-8 7h5m-6-19h5m-9 2h5m-10 14h5m-12-6h5m-7 5h5m-27-11h5m-23 4h5m-6-2h5m-7 5h5m-11 3h5m-13 2h5m-17 5h5m-9-1h5m-6-7h5m-7-7h5m-6 10h5m-9 6h5m-9-4h5m-7-1h5m-6 2h5m-6 0h5m-5-16h5m-7 8h5m-8 9h5m-6 0h5m-8-19h5m-5 3h5m-5 11h5m-7 3h5m-6-4h5m-6-3h5m-13 9h5m-6 1h5m-7-11h5m-6 1h5m-5 3h5m-8 1h5m-13 7h5m-9-11h5m-8 5h5m-8-13h5m-5 2h5m-6 0h5m-9-2h5m-7 1h5m-6 2h5m-6-3h5m-6 10h5m-6-6h5m-9-6h5m-14 1h5m-19 3h5m-29-1h5m-172 35h5m94-4h5m5 9h5m46-19h5m7 10h5m2 1h5m37-3h5m11-2h5m-4-3h5m-4-3h5m-3 15h5m3 3h5m-5-18h5m-4 11h5m-4 11h5m-2-8h5m-3-15h5m-5 11h5m7 4h5m-5-13h5m-4 9h5m-4 6h5m-5-11h5m3-6h5m-2 10h5m2-4h5m-3 7h5m-4 7h5m5-4h5m-4-6h5m-4 3h5m-4-3h5m0 4h5m-2 1h5m-5-7h5m0 3h5m0-8h5m-3-3h5m7 20h5m-2-19h5m-2 17h5m-4-7h5m-3 5h5m7-5h5m-3 6h5m1-11h5m3-4h5m0 15h5m4-1h5m-4-2h5m-4 5h5m5-14h5m10 6h5m9 5h5m7-15h5m1 14h5m-3-9h5m-4-1h5m0 12h5m-4 4h5m22 1h5m-5-10h5m7-2h5m0-9h5m11-1h5m-2 20h5m10-9h5m-2 5h5m-2 0h5m4-14h5m-1 6h5m9 8h5m-1-2h5m10 0h5m5 1h5m-2-5h5m34 6h5m-1 0h5m14-10h5m-3 0h5m29 1h5m26-4h5m-5 9h5m11 29h5m-10-6h5m-9 0h5m-6 5h5m-31 3h5m-9-18h5m-54-1h5m-46 20h5m-11-5h5m-10 4h5m-7-17h5m-70 6h5m-10 10h5m-6-4h5m-25-5h5m-9 2h5m-24 3h5m-11-8h5m-46 1h5m-52 5h5m-8-7h5m-7 15h5m-20-2h5m-5-16h5m-9 19h5m-15-18h5m-6 6h5m-22-3h5m-21 8h5m-5-10h5m-12 5h5m-9 12h5m-10-8h5m-9 10h5m-10-15h5m-19-3h5m-9 3h5m-15-8h5m-18 2h5m-6 10h5m-8 8h5m-10-19h5m-22 9h5m-9-1h5m-16 7h5m-13-9h5m-51 10h5m-10-13h5m-5 0h5m-14 8h5m-10 8h5m-20 3h5m-40-12h5m-18-1h5m-31 0h5m-32 4h5m-13-10h5m-12 1h5m-80 3h5m-14 5h5m-15 9h5m-15 0h5m-18 23h5m55-1h5m1-14h5m17 6h5m28 6h5m12-12h5m11-1h5m19 15h5m4 2h5m-4-2h5m0-2h5m38-5h5m41-2h5m-4 2h5m38-6h5m7 5h5m6-10h5m-2 5h5m-4 9h5m-3 7h5m-3-8h5m2-12h5m29 0h5m7 17h5m-2-18h5m12 5h5m-5 13h5m12-19h5m5 4h5m-4 5h5m-2-6h5m7 16h5m10 0h5m-2-5h5m6 2h5m6-8h5m-5 10h5m20-3h5m28 4h5m-4-8h5m3-2h5m34 7h5m-4-14h5m6-2h5m13 16h5m33-14h5m21 8h5m41 8h5m-4-12h5m13-4h5m21 13h5m11-4h5m-5-2h5m17 7h5m-3 6h5m-5 10h5m-21 10h5m-7-14h5m-45 5h5m-22 2h5m-6 11h5m-17-12h5m-18 9h5m-7 1h5m-40-14h5m-16 1h5m-89-3h5m-8-3h5m-49-1h5m-49 9h5m-21 6h5m-10-9h5m-19 2h5m-11 11h5m-11-16h5m-22 8h5m-8-5h5m-13 4h5m-7 0h5m-5 11h5m-27-8h5m-6-8h5m-15 7h5m-8-1h5m-5 8h5m-19-18h5m-38 7h5m-8 5h5m-5 5h5m-7-5h5m-14 6h5m-54-12h5m-42 12h5m-11-4h5m-27-12h5m-86 12h5m-40-15h5m-18 21h5m-6-22h5m-22 0h5m-130 7h5m-1 32h5m8-11h5m17 13h5m52-11h5m10-6h5m-1 4h5m3 1h5m8 17h5m28-19h5m-4 13h5m14-2h5m4-1h5m11-6h5m-2 10h5m-4-5h5m-1-8h5m-4 8h5m1-1h5m8-7h5m18 7h5m5-9h5m25 1h5m28-1h5m11 1h5m-3 4h5m-5 7h5m32 1h5m4 3h5m-2 2h5m0-11h5m-4 5h5m2-7h5m-3 13h5m0-3h5m-1-17h5m6 8h5m-5 8h5m2 7h5m35-11h5m22-3h5m9 4h5m4 7h5m5-14h5m21 7h5m26-5h5m19 8h5m7-15h5m-3 1h5m2 4h5m-5 16h5m4-7h5m52 1h5m2-4h5m16 4h5m46-1h5m12-4h5m62-1h5m-1 9h5m-8 27h5m-7-10h5m-10 10h5m-46-11h5m-18 11h5m-9-4h5m-61-12h5m-12 4h5m-23-3h5m-21 11h5m-29-13h5m-6 11h5m-9-6h5m-27 12h5m-24-10h5m-8-1h5m-14 3h5m-18 6h5m-18-6h5m-21-3h5m-12 2h5m-21-10h5m-16 0h5m-59 6h5m-35 0h5m-7-4h5m-8-5h5m-6 1h5m-9 11h5m-9 1h5m-14 10h5m-10-15h5m-14-2h5m-6 6h5m-6 5h5m-19-16h5m-15 10h5m-9 1h5m-10 1h5m-14 7h5m-23-8h5m-36 5h5m-26-14h5m-7-1h5m-55 13h5m-24-1h5m-7 4h5m-33 2h5m-5-15h5m-24 12h5m-17-15h5m-19 16h5m-26-12h5m-9 13h5m-20-13h5m-11 7h5m-38-7h5m-16 2h5m-10-3h5m-28 16h5m-35 0h5m-28-1h5m-11-5h5m-9 5h5m32 12h5m-2-7h5m3 0h5m-2 6h5m13 9h5m-3-13h5m8 3h5m-2 4h5m33-8h5m-3 5h5m13-7h5m73 5h5m26 13h5m25-7h5m45 0h5m12 7h5m22-10h5m17 10h5m-3-1h5m-1-8h5m4 4h5m-5 7h5m9-9h5m-4 7h5m1-18h5m30 4h5m36 5h5m-4 4h5m4 10h5m-1-21h5m12-1h5m2 6h5m26-5h5m2 21h5m2-11h5m20-2h5m-3 10h5m16-20h5m5 20h5m33-20h5m24 19h5m20-11h5m0 9h5m21 5h5m-4-16h5m46 0h5m-1-6h5m15 22h5m-3-9h5m-2-11h5m-1 15h5m-16 20h5m-6-5h5m-22-8h5m-66 23h5m-31-5h5m-8-4h5m-12 9h5m-69-3h5m-7-1h5m-23-7h5m-33 1h5m-39-13h5m-52 3h5m-18 10h5m-26 2h5m-38 7h5m-17-14h5m-11 15h5m-17-8h5m-10 5h5m-9-8h5m-17 3h5m-12-2h5m-14-4h5m-6-5h5m-9-4h5m-5 19h5m-14 0h5m-156-12h5m-26-2h5m-21 7h5m-24-10h5m-46 7h5m-41 9h5m-55-16h5m18 26h5m306 6h5m4-7h5m-2-3h5m-4 18h5m-4-11h5m-4 14h5m6 1h5m2-9h5m10-8h5m-5 3h5m15 10h5m13-8h5m115-2h5m4 8h5m74-10h5m3-1h5m1 17h5m28-9h5m6 4h5m58-6h5m0 7h5m17-12h5m4 9h5m3-12h5m19 18h5m0 0h5m-143 4h5m-11 4h5m-97 16h5m-112 0h5m-6-21h5m-41 1h5m-5 10h5m-35 9h5m-6-7h5m-8-11h5m-15 6h5m-6 14h5m-30-10h5m-8-9h5m-26 2h5m-7 8h5m-12 15h5m-2-4h5m67 1h5m5 3h5m22 2h5m1-4h5m179 14h5m23-3h5m0 1h5m4-1h5m27-12h5m17 5h5m21 6h5m57-11h5M124 1016h5m4 5h5m-5 2h5m1-6h5m-4 3h5m29 5h5m4-11h5m8 3h5m31 7h5m27-1h5m10-5h5m21-4h5m-4 12h5m23-2h5m8-1h5m17 0h5m-4-9h5m13 1h5m-4 5h5m-4 6h5m31-4h5m-1 2h5m-4-1h5m12 0h5m1-6h5m11 10h5m10-8h5m-4 9h5m-3-5h5m-3 5h5m-4-2h5m1-4h5m-5 2h5m-2-8h5m9 4h5m-2-2h5m28 10h5m-3 3h5m-4-16h5m-2-1h5m-3 16h5m8 1h5m2-3h5m7 2h5m6-3h5m2-6h5m-4 1h5m14-2h5m-5 6h5m0 2h5m0-1h5m0 3h5m-3-1h5m0-6h5m-4-2h5m-4 7h5m17-2h5m0 4h5m1 1h5m22-9h5m5 2h5m15-9h5m15 11h5m31-10h5m14 5h5m9-2h5m-5 10h5m1-4h5m8-3h5m-4 4h5m-5-12h5m13 10h5m8-6h5m8 1h5m3-3h5m-4 7h5m1 6h5m-3-3h5m3 3h5m-5-8h5m15 7h5m4-8h5m-5-1h5m17-2h5m6 0h5m18 2h5m4 9h5m-2-11h5m1 5h5m-5 6h5m-4 3h5m-1-6h5m-3-5h5m-3 10h5m-3 15h5m-8 3h5m-17-5h5m-5-8h5m-30 12h5m-16 8h5m-16-2h5m-19-1h5m-12-1h5m-29-4h5m-6-10h5m-11 13h5m-22-4h5m-18-4h5m-12 1h5m-8-6h5m-25 18h5m-14-17h5m-21 16h5m-17-19h5m-6 2h5m-7 16h5m-7-7h5m-23-14h5m-14 11h5m-6-11h5m-7 23h5m-21-11h5m-19-8h5m-18 9h5m-11-12h5m-17 19h5m-13 0h5m-17-14h5m-7-4h5m-16 10h5m-6-10h5m-11 9h5m-9 12h5m-20 0h5m-16-8h5m-8-7h5m-6-4h5m-9 17h5m-10-9h5m-5-10h5m-8 1h5m-12 19h5m-10-1h5m-14-2h5m-10 4h5m-8-15h5m-6 15h5m-5-10h5m-11-4h5m-15 1h5m-8 11h5m-7 0h5m-9-16h5m-6 8h5m-8-2h5m-9 3h5m-8 9h5m-7-14h5m-9 4h5m-10 6h5m-6 2h5m-10-6h5m-9 0h5m-12-7h5m-7-4h5m-13 0h5m-13 14h5m-12 2h5m-19-3h5m-6 1h5m-13-8h5m-7 0h5m-5 3h5m-8-12h5m-6-1h5m-5 3h5m-9 2h5m-10 7h5m-5-8h5m-6 14h5m-9-9h5m-7 13h5m-12-15h5m-11 14h5m-6-18h5m-7 10h5m-17 1h5m-6-7h5m-12 13h5m-9-19h5m-17 7h5m-20 13h5m-15-6h5m-16-9h5m-15-3h5m-14 10h5m-8 4h5m-19-3h5m-8-13h5m-10 18h5m-5-17h5m-18 17h5m-29-5h5m-70-5h5m-12-2h5m-17 13h5m-10-9h5m-20-2h5m-18 14h5m-5-13h5m-5 6h5m-13 5h5m-9-5h5m-11 2h5m-18-10h5m-41 15h5m-11-18h5m7 42h5m6-7h5m2-14h5m0 17h5m-4-17h5m2 17h5m3-13h5m-4-1h5m7 7h5m3-7h5m31 2h5m5-3h5m18 1h5m0-2h5m7 6h5m32 9h5m7-3h5m3-3h5m-2 9h5m8-11h5m-2-10h5m29 12h5m-4-8h5m-2 6h5m3 12h5m0-1h5m5 2h5m2-21h5m15 12h5m0 1h5m1-8h5m-4 11h5m1 0h5m16-7h5m-3 7h5m2-6h5m-2-10h5m7 14h5m-4-10h5m-5-5h5m-4 0h5m2 22h5m0-4h5m-4-4h5m-4-13h5m0 15h5m5 2h5m28-9h5m2 1h5m-1-8h5m5 1h5m-4 13h5m-3-6h5m-2 2h5m15-6h5m0 1h5m-3 11h5m-4-16h5m-2 19h5m-4-1h5m-2-3h5m-2 3h5m19-14h5m-5 8h5m0-15h5m-2 2h5m-1 5h5m-5-7h5m0 11h5m4 7h5m18-11h5m1 2h5m30 12h5m-1-8h5m-3-1h5m21 5h5m38-6h5m1 3h5m-1-9h5m29 13h5m15 5h5m5-21h5m13 3h5m-5 17h5m11-12h5m5-2h5m3 7h5m2 1h5m2-7h5m-4-9h5m-5 23h5m8-12h5m12-9h5m-2 13h5m7-12h5m9 16h5m-3-12h5m5 10h5m-4 14h5m-7 6h5m-6-13h5m-9 19h5m-19 4h5m-8-7h5m-8 1h5m-5 3h5m-12-7h5m-7 0h5m-13-3h5m-7 12h5m-11-4h5m-5-4h5m-6-5h5m-37-5h5m-8 6h5m-7 3h5m-23 3h5m-11-8h5m-12 6h5m-11 6h5m-33-3h5m-30-17h5m-6 7h5m-33 0h5m-9 6h5m-10-3h5m-29 0h5m-10 8h5m-8-16h5m-16 18h5m-32-9h5m-13 12h5m-51-14h5m-9 12h5m-18-2h5m-18-4h5m-5 7h5m-5-12h5m-6-10h5m-5 16h5m-16-10h5m-6 10h5m-7-16h5m-6 20h5m-6-14h5m-5 6h5m-7 10h5m-12-4h5m-11-5h5m-9 2h5m-9-10h5m-7 2h5m-6 0h5m-14 1h5m-11 13h5m-6-12h5m-17-6h5m-8-3h5m-7 12h5m-7-9h5m-6 14h5m-7-13h5m-10-4h5m-11 22h5m-11-4h5m-8 2h5m-6 0h5m-8-4h5m-22-15h5m-8 0h5m-5 15h5m-11-14h5m-6 7h5m-5-9h5m-7 14h5m-6-1h5m-8-6h5m-5 7h5m-5 6h5m-8-4h5m-17-3h5m-9 7h5m-11 2h5m-19-1h5m-13-12h5m-15 2h5m-6 6h5m-14 3h5m-7 3h5m-6-2h5m-7-7h5m-14-4h5m-8 1h5m-9 11h5m-12-17h5m-24 8h5m-21-7h5m-10 13h5m-9-14h5m-11 17h5m-20-16h5m-6-6h5m-11 17h5m-21-17h5m-6 4h5m-6 0h5m-18-2h5m-14-2h5m-8 18h5m-9-18h5m-9 19h5m-13-6h5m-11 10h5m-19-13h5m-9-10h5m-6 17h5m-12-15h5m-7 11h5m-8-9h5m-32 7h5m-6 2h5m-11 0h5m-31-5h5m-18 4h5m-10-7h5m-6 16h5m-25-8h5m-28-8h5m-16-4h5m-14 6h5m-12 18h5m8 12h5m-2 2h5m-3-1h5m-5 5h5m6-16h5m11 20h5m1-11h5m32 4h5m54-7h5m21-9h5m17 18h5m-4-11h5m-5-3h5m41 18h5m-5-17h5m11 5h5m-2 13h5m4-9h5m0 4h5m4-9h5m28-3h5m-1 6h5m0-1h5m0-9h5m-5 16h5m0 2h5m-3-1h5m20-16h5m0 20h5m5-6h5m1 5h5m12-19h5m5 16h5m0-18h5m-1 19h5m-5 0h5m-5-17h5m0 4h5m-3 8h5m-4 1h5m-5 1h5m-5-4h5m-4-8h5m-3-3h5m-3-1h5m-4 11h5m-1-11h5m5 7h5m-3 9h5m2-4h5m8-3h5m-3 0h5m-2-5h5m7 10h5m2 8h5m-5-11h5m-3 11h5m-3-13h5m-3 6h5m7 1h5m-5-4h5m-2 8h5m-4 0h5m4-15h5m-1 14h5m-5-13h5m-3 16h5m4-17h5m-4 8h5m-3-5h5m-4-1h5m-1 5h5m-2 10h5m6-14h5m-5 11h5m-5-7h5m-3 10h5m20-8h5m22-3h5m-3 10h5m-2-7h5m4-2h5m30-11h5m20 19h5m-4-4h5m-3-6h5m3 6h5m13-15h5m3-1h5m0 22h5m-2-1h5m10-10h5m-1 10h5m-3 1h5m3-2h5m5-4h5m-4 3h5m12 1h5m-1-15h5m1 16h5m0-8h5m2-7h5m0 2h5m-3 7h5m14-9h5m0-2h5m10-5h5m4 17h5m-2-11h5m-1 11h5m-2-6h5m-4 0h5m0 4h5m2 0h5m-4-9h5m-2-6h5m-3 9h5m7 0h5m3 1h5m-2 11h5m-5-7h5m-4-8h5m-4 0h5m-6 36h5m-30-5h5m-7-10h5m-6 11h5m-27 1h5m-7-14h5m-8 5h5m-6 11h5m-8-17h5m-17 16h5m-14-3h5m-5-7h5m-9 0h5m-6-2h5m-6 19h5m-20-22h5m-7 20h5m-13-1h5m-6-2h5m-8 2h5m-5-15h5m-8 9h5m-10 4h5m-7 4h5m-21-12h5m-10 0h5m-13 11h5m-6 0h5m-18-4h5m-15-8h5m-10 12h5m-18-9h5m-9 0h5m-6-11h5m-10 15h5m-13-14h5m-36 21h5m-30-21h5m-19 20h5m-7-18h5m-10 12h5m-7-12h5m-11 6h5m-24-3h5m-13 8h5m-15 1h5m-10-16h5m-8 1h5m-6 20h5m-8-4h5m-11 3h5m-6-15h5m-11 14h5m-6-17h5m-11 19h5m-6-11h5m-8-10h5m-7 5h5m-10 6h5m-7 3h5m-11 1h5m-6 8h5m-6-17h5m-8-5h5m-10 18h5m-6-12h5m-7 10h5m-14-16h5m-10 13h5m-7-5h5m-10-5h5m-17-1h5m-6 11h5m-19 1h5m-9-4h5m-5-4h5m-13 13h5m-6-13h5m-8-6h5m-7 15h5m-7-16h5m-11 7h5m-5 14h5m-11-1h5m-5 3h5m-6-20h5m-8 18h5m-7-5h5m-5-16h5m-6 2h5m-7 1h5m-5-1h5m-6 14h5m-7-14h5m-7 0h5m-5 4h5m-9 2h5m-7 11h5m-16-19h5m-10 1h5m-10 3h5m-7 16h5m-6-10h5m-6-2h5m-21 10h5m-7-14h5m-10-4h5m-9 16h5m-8 1h5m-8-2h5m-5 4h5m-9-13h5m-10 2h5m-21 12h5m-8-13h5m-9 5h5m-12-1h5m-8 2h5m-11-10h5m-13 9h5m-6-5h5m-15 9h5m-20 4h5m-10-13h5m-43 3h5m-59-10h5m-76 4h5m-12 14h5m-44-2h5m-12-15h5m-7 1h5m-5 0h5m-8 8h5m-6-4h5m-6 5h5m-6-2h5m-5 12h5m-21-21h5m-8 21h5m-18-16h5m-13-5h5m-6 14h5m-11 23h5m24-10h5m7 17h5m-4-17h5m-1 17h5m11-15h5m-4 5h5m0 9h5m-4 4h5m6-13h5m-5 5h5m-2-10h5m0 12h5m-5-12h5m-2 12h5m18-15h5m11 21h5m-2-23h5m45 15h5m-2 1h5m2-16h5m-5 16h5m4-1h5m13-10h5m2 4h5m2 0h5m-4-1h5m-1 11h5m-1-18h5m7 1h5m4 0h5m-3 0h5m12 15h5m7 6h5m-5-17h5m10 6h5m0 6h5m-4-12h5m-5 8h5m5 6h5m6-11h5m5 4h5m6-13h5m-3 2h5m-4 8h5m-4 11h5m7-11h5m-2-5h5m-2 1h5m7 3h5m-1-8h5m1 13h5m5-11h5m-4 6h5m-2 3h5m4-8h5m-5 4h5m5 1h5m-1 1h5m-4 0h5m-3 0h5m-4-6h5m-3-1h5m-2 8h5m-2-9h5m-5 0h5m-4 13h5m0-4h5m-4 2h5m-1-8h5m5 7h5m-2 2h5m-5-9h5m8-2h5m-2 3h5m3 9h5m0 3h5m-3-2h5m-3-6h5m-5 11h5m-2-6h5m-4-10h5m1 10h5m-3 8h5m-4-4h5m-2-2h5m-1-15h5m-2 20h5m5-16h5m-3 8h5m-2 7h5m1-9h5m5 2h5m6 0h5m6-3h5m-1 6h5m15-3h5m11 4h5m10-1h5m0-4h5m2-3h5m19-5h5m-4 10h5m6-2h5m-2-1h5m42 0h5m3 11h5m7-13h5m-1 13h5m-5-16h5m1 13h5m-1-2h5m-1 0h5m-4-8h5m-4 4h5m-5 8h5m-2-2h5m4-8h5m-4-11h5m-1 20h5m-4-1h5m-5-17h5m-2 9h5m-2-4h5m-5 10h5m3-11h5m17 9h5m-4-1h5m-4 3h5m10-12h5m6 15h5m-5-8h5m-3 2h5m1-11h5m-3 0h5m-3 15h5m7-12h5m-4 7h5m-1 1h5m0 6h5m4-13h5m-4 2h5m0-3h5m-4 6h5m3 1h5m-4 7h5m-11 21h5m-16-11h5m-6 13h5m-12 3h5m-6-17h5m-42 8h5m-11-11h5m-12 6h5m-12 5h5m-5 3h5m-6-4h5m-9 5h5m-5 0h5m-6-6h5m-8 3h5m-11-5h5m-25-10h5m-22 11h5m-8-6h5m-8-5h5m-20 6h5m-6 4h5m-6 5h5m-9 0h5m-11-13h5m-8 5h5m-8-7h5m-9 6h5m-6-4h5m-16 21h5m-9-15h5m-6 5h5m-9 9h5m-6-17h5m-6 17h5m-9-1h5m-9-12h5m-9 12h5m-8-12h5m-12 12h5m-12 0h5m-22-14h5m-14-7h5m-41 1h5m-8 21h5m-5-22h5m-7 20h5m-7-15h5m-12 15h5m-16-4h5m-8 2h5m-11-2h5m-12 5h5m-12 0h5m-9-12h5m-6 7h5m-8-16h5m-5 23h5m-7-5h5m-8-15h5m-11 9h5m-5-10h5m-20 18h5m-9-19h5m-12 17h5m-9-13h5m-12 8h5m-6 5h5m-7-14h5m-7 2h5m-6 15h5m-8-8h5m-18-8h5m-6 3h5m-9 4h5m-5 8h5m-17-12h5m-7-2h5m-8 12h5m-11-9h5m-9 4h5m-11-4h5m-5 5h5m-6 5h5m-7-17h5m-6 1h5m-5 11h5m-5 5h5m-7-16h5m-6 16h5m-7 3h5m-23-18h5m-20 1h5m-5 10h5m-11 4h5m-39-10h5m-9 10h5m-13-13h5m-8 6h5m-32-5h5m-8-3h5m-17-3h5m-8 21h5m-12-8h5m-11-5h5m-15 6h5m-9-3h5m-8 11h5m-14-11h5m-14 4h5m-8 7h5m-17-8h5m-11-7h5m-8-1h5m-11 2h5m-6 3h5m-11 4h5m-36 4h5m-39-4h5m-55-8h5m-8-8h5m-16 9h5m-5-8h5m-8 13h5m-30-8h5m-9 2h5m-54-1h5m-7-2h5m-14 13h5m-9-16h5m-18 10h5m4 14h5m43 11h5m-2-4h5m9 8h5m24-14h5m-3 1h5m7 4h5m-2 7h5m1 3h5m14 1h5m-2 1h5m0-6h5m-1 1h5m-1-6h5m16-6h5m-4-2h5m1 15h5m6 4h5m18-11h5m-2 2h5m4-5h5m13 10h5m-4-8h5m14 9h5m-4-10h5m0 13h5m-5-18h5m-1 0h5m26-2h5m0 10h5m0-10h5m3 5h5m-4 1h5m1 7h5m0 9h5m2-12h5m0-2h5m-4 8h5m3 2h5m-4-9h5m5 3h5m2-1h5m21 1h5m-3-11h5m-2 14h5m4-15h5m1 15h5m1-3h5m-3-4h5m4 7h5m-5-9h5m-1-3h5m0 7h5m-4-3h5m-5 2h5m6-3h5m0 11h5m-1-17h5m-2 3h5m-2 13h5m-3-4h5m-3-1h5m-5 6h5m-4-10h5m-4 6h5m-5-3h5m-2-9h5m0 5h5m-4 11h5m14 1h5m9-12h5m-3 7h5m-5 3h5m-5 1h5m-2 1h5m-5-9h5m-3 1h5m2-10h5m-3 13h5m-4-4h5m-3 9h5m-3 3h5m-1-9h5m5-6h5m-2 16h5m-4-13h5m24-8h5m5 2h5m0 12h5m-2 5h5m-2-10h5m-2 7h5m5 6h5m4-8h5m16-2h5m4-9h5m1 7h5m-2 10h5m0-5h5m10-11h5m0 11h5m-4-1h5m-4-9h5m-2 9h5m-3 7h5m8-21h5m-4 8h5m-4-9h5m-1 1h5m-5 6h5m19 8h5m-5 7h5m-3-1h5m-4-5h5m15 6h5m4-12h5m-5 3h5m7-12h5m-4 10h5m-5 12h5m-2-9h5m4 4h5m-1 2h5m7 2h5m0-6h5m0-10h5m-4 13h5m3-18h5m-4 18h5m-3-5h5m0-10h5m28 10h5m9 4h5m-1-3h5m-1-6h5m-3-5h5m0 18h5m-6 25h5m-6-13h5m-9 3h5m-7-2h5m-8-8h5m-6 3h5m-18 5h5m-14 5h5m-7 2h5m-21-12h5m-40 1h5m-8 12h5m-6-17h5m-16 2h5m-9 15h5m-23 4h5m-8-3h5m-10-12h5m-7 3h5m-19-2h5m-10 8h5m-7-8h5m-5 5h5m-22-5h5m-6-4h5m-8-1h5m-18 6h5m-9-10h5m-6 17h5m-6-14h5m-12 14h5m-6-7h5m-6 9h5m-8-11h5m-5-3h5m-7 9h5m-6-5h5m-10-3h5m-11 14h5m-10-20h5m-16 8h5m-6 7h5m-7 6h5m-11-5h5m-7-3h5m-17-12h5m-6 5h5m-9 6h5m-7 9h5m-10-4h5m-6-17h5m-13 18h5m-11-3h5m-6-6h5m-13 8h5m-5-3h5m-5 9h5m-9-14h5m-6-1h5m-7 4h5m-11 4h5m-7 5h5m-13-4h5m-12-2h5m-8 1h5m-7-7h5m-6 1h5m-12-8h5m-9 20h5m-6-1h5m-13 1h5m-7-9h5m-9 2h5m-6 0h5m-7-1h5m-26 2h5m-9 4h5m-8-13h5m-9-5h5m-11 19h5m-6-13h5m-14 9h5m-5-17h5m-10 21h5m-5-10h5m-7 7h5m-6-15h5m-5 9h5m-13-7h5m-6 15h5m-14-16h5m-5-1h5m-5 0h5m-6 0h5m-9 9h5m-14 7h5m-8-12h5m-5 16h5m-8-11h5m-8-10h5m-9 0h5m-5 8h5m-8 6h5m-6-9h5m-8 13h5m-9-2h5m-12-18h5m-20 11h5m-9 3h5m-25-1h5m-7-10h5m-14 13h5m-9-15h5m-16 16h5m-25-1h5m-12-11h5m-10 1h5m-5-4h5m-13-1h5m-5 11h5m-17-4h5m-7-2h5m-24 7h5m-9-8h5m-6 17h5m-16-12h5m-8 2h5m-8 4h5m-22-9h5m-7 0h5m-9 10h5m-8-4h5m-5-5h5m-27 0h5m-19 10h5m-7-9h5m-27-5h5m-21 19h5m-18-22h5m-9 16h5m-18-17h5m-12 14h5m-13 7h5m-13-16h5m-8 18h5m-11-15h5m-8-8h5m-15 15h5m-20 8h5m-5-11h5m-18 5h5m-26-10h5m-7 0h5m-15-4h5m-24-3h5m-17 37h5m4 9h5m-4-21h5m8 0h5m1 9h5m-1-8h5m-5 10h5m-3-10h5m0 17h5m1 4h5m19-21h5m-2 15h5m4-3h5m40 5h5m-4 0h5m2 1h5m23-13h5m4 5h5m4 11h5m-4-8h5m12 4h5m3-13h5m-5-5h5m-5 20h5m10-20h5m-3 20h5m8-16h5m0 16h5m-4-17h5m1 3h5m-2-2h5m5 15h5m11-13h5m-4 7h5m-1-14h5m-5 0h5m-5 23h5m1-12h5m-4 4h5m-1-6h5m16 13h5m-3-14h5m7 7h5m-4-1h5m17 4h5m0-13h5m3 2h5m-4-4h5m-2 8h5m10 4h5m-4 3h5m-1-14h5m-1-2h5m3-2h5m-4 5h5m-4 2h5m7 4h5m-3-1h5m-4 9h5m6-7h5m15-4h5m-1 2h5m-3 5h5m2 0h5m4 8h5m-5-16h5m-4 11h5m-2-11h5m-5 7h5m-3-13h5m-4 17h5m-1 0h5m-4-9h5m0-4h5m-1 0h5m-5 9h5m-3-8h5m0 5h5m1 10h5m-2-7h5m-2 2h5m2 5h5m-3 2h5m1-6h5m-4-6h5m-2 6h5m-1-6h5m-5-7h5m11 5h5m-5 3h5m1 0h5m-1 4h5m-3-3h5m-4-6h5m8 10h5m-5-17h5m0 1h5m-3 16h5m4-13h5m-4 2h5m2 11h5m-2-15h5m-5 19h5m4-5h5m-2-3h5m4 0h5m-4-7h5m-5-5h5m11 16h5m6-14h5m7 4h5m-2 12h5m9-4h5m3 0h5m3 3h5m7-17h5m2 12h5m6 1h5m26 9h5m-5-16h5m-3 7h5m2-11h5m13 9h5m6 3h5m-2-11h5m18-2h5m2-2h5m12 7h5m3-5h5m22 7h5m6-5h5m2-2h5m3 3h5m-3 27h5m-35 10h5m-16-5h5m-36 8h5m-19-5h5m-21 0h5m-12-2h5m-25-13h5m-7 22h5m-12-7h5m-16 7h5m-7-17h5m-18-3h5m-26 17h5m-15-10h5m-14-1h5m-14 12h5m-17-4h5m-10-6h5m-7 6h5m-11 6h5m-6-15h5m-10 11h5m-28 0h5m-9-12h5m-7 15h5m-10-14h5m-17 14h5m-7-8h5m-5-12h5m-7 7h5m-11 1h5m-7-4h5m-17 11h5m-13-5h5m-6 7h5m-7 2h5m-7-9h5m-7 1h5m-8-4h5m-8 0h5m-8-5h5m-8 19h5m-7-5h5m-6 5h5m-6-20h5m-6 5h5m-7 9h5m-5 6h5m-9-2h5m-7-9h5m-5 6h5m-10 1h5m-9-11h5m-7 8h5m-6-12h5m-5 10h5m-6 2h5m-5-9h5m-5 1h5m-8 15h5m-6-3h5m-8-4h5m-8 6h5m-5-1h5m-6-16h5m-5-4h5m-7 17h5m-5-3h5m-5-6h5m-7 11h5m-6-4h5m-5-16h5m-8 23h5m-6-15h5m-7 12h5m-5-2h5m-9-13h5m-6 2h5m-5 3h5m-5 0h5m-6 13h5m-6-21h5m-8 11h5m-5-5h5m-6-8h5m-5 15h5m-7-7h5m-6-1h5m-11 12h5m-8-1h5m-11 0h5m-6-11h5m-7-1h5m-7 11h5m-6-14h5m-6 6h5m-6 12h5m-6-18h5m-7 6h5m-15 3h5m-17 6h5m-5-14h5m-7-2h5m-13 19h5m-5 0h5m-5-8h5m-6-4h5m-18 13h5m-11-4h5m-8 0h5m-13 0h5m-7-10h5m-18-6h5m-7 19h5m-5-2h5m-22-4h5m-20-13h5m-29-2h5m-6 19h5m-9-14h5m-13 8h5m-7 3h5m-18-2h5m-6-8h5m-18-5h5m-9 4h5m-16 2h5m-7-3h5m-17 17h5m-14-4h5m-10-4h5m-12 6h5m-6 3h5m-10-22h5m-15 21h5m-16-5h5m-11-15h5m-6 2h5m-9 6h5m-6 11h5m-8-7h5m-17-9h5m-7 2h5m-15-3h5m-6 15h5m-13-1h5m-17-9h5m-31-1h5m-11-7h5m-8 10h5m-7-7h5m-7 18h5m-5-9h5m-10-7h5m-24 7h5m-19 10h5m-11-12h5m-12 2h5m-14-3h5m-9 8h5m-15 5h5m-6-20h5m-5 8h5m-12 4h5m-11-10h5m-10 1h5m-6 9h5m-41 9h5m-9-17h5m-3 22h5m-5 1h5m2 11h5m8 5h5m6-1h5m4 2h5m-3-17h5m-3-1h5m0 18h5m-5-7h5m-1 6h5m-4-16h5m9 11h5m-5-1h5m-2 4h5m-3 1h5m0-7h5m19-3h5m10 12h5m-5 1h5m-5-21h5m1 4h5m-5 16h5m5-8h5m0 7h5m2-8h5m-3-11h5m1 14h5m2-10h5m0 4h5m2-9h5m-3 10h5m-4 3h5m-3-10h5m5 19h5m-1-6h5m-1 3h5m-4 2h5m-5-8h5m1 6h5m-5 1h5m4-14h5m-4 13h5m-4-19h5m6 1h5m-1 9h5m0 1h5m1-5h5m2 15h5m-3-17h5m-4 5h5m-5 8h5m-2-1h5m-3 4h5m-4-11h5m0 2h5m-5 9h5m-3-12h5m-1-2h5m-3 0h5m-4 9h5m5 0h5m-4-13h5m-4-3h5m0 19h5m-1-12h5m-3 4h5m-4 1h5m10-1h5m-5-11h5m-1 5h5m0 16h5m-3-11h5m-1 12h5m3 1h5m-1-11h5m5 0h5m5 7h5m4-16h5m-2 8h5m-4-11h5m-4 21h5m0-7h5m-4 6h5m0-6h5m-5-14h5m-4 11h5m3 6h5m-1-2h5m0-3h5m-4 11h5m-4-3h5m-1-9h5m3-6h5m-3 2h5m-2-3h5m-4 16h5m-3-15h5m-5 2h5m-3-2h5m2 15h5m-5-10h5m-4 1h5m-5 12h5m-2-19h5m10 11h5m-1-3h5m-1 8h5m5-7h5m-4 5h5m-4 3h5m-3-17h5m-3 16h5m-2-16h5m2-1h5m0 3h5m-5 8h5m-4-2h5m-5-1h5m-2 12h5m0-12h5m-5 11h5m-3-1h5m2-20h5m0 12h5m-3 7h5m-3-11h5m-4 7h5m-3-6h5m-5-8h5m-4 4h5m-5 13h5m-3-19h5m-5 19h5m-4-3h5m-5-7h5m-4 2h5m-4-3h5m-5-6h5m-1-1h5m-4 3h5m2 12h5m-3-10h5m-5 17h5m-5-9h5m-1 7h5m-3 2h5m-5-17h5m-5-3h5m-5 4h5m-5 8h5m-4-10h5m-4 7h5m-5-10h5m-3 18h5m-5-11h5m-4-8h5m-4 19h5m-3-20h5m-5 16h5m-4-15h5m-4 21h5m-4-8h5m-3-1h5m-5 9h5m-5 0h5m-4-4h5m-1-16h5m-4 0h5m-1 12h5m-2 1h5m-4-12h5m-2 11h5m0-13h5m-1 12h5m-4-3h5m7-4h5m-5 12h5m1-17h5m-4 16h5m-4-14h5m-2 7h5m0-5h5m-3 7h5m-4 9h5m9-4h5m-3-11h5m-3 15h5m-2-9h5m-5-6h5m-4 12h5m0-15h5m-4-2h5m1 19h5m8-15h5m-5-1h5m-4 12h5m-3-10h5m-5 7h5m-4-13h5m2 18h5m-4-13h5m-5 14h5m9-2h5m3-6h5m-3 8h5m-2-11h5m-4 4h5m0-4h5m-4 6h5m14 0h5m-4-2h5m3 9h5m-1-13h5m1 8h5m-1-12h5m1 16h5m-2-6h5m-3 3h5m-1-7h5m-2 4h5m-1-10h5m1 19h5m0-8h5m-3 4h5m-5-6h5m-3 4h5m-1-9h5m-1 9h5m-1-15h5m8 18h5m-2-10h5m3 13h5m-4-2h5m-1-3h5m0 5h5m4-18h5m-5 5h5m-5 10h5m-1-12h5m2 10h5m5-18h5m-3 10h5m7-1h5m-2 8h5m2 6h5m3-14h5m13 9h5m0-14h5m-26 34h5m-12 0h5m-7-3h5m-5-3h5m-15 13h5m-10-7h5m-6 7h5m-6-3h5m-5-17h5m-34 7h5m-6-2h5m-6 7h5m-13 6h5m-12-8h5m-10 10h5m-11-16h5m-6-3h5m-16 4h5m-7 11h5m-11-6h5m-6-1h5m-5 11h5m-10-11h5m-10-2h5m-10-2h5m-10 9h5m-7-7h5m-6 8h5m-7-12h5m-6 5h5m-7 2h5m-13-9h5m-8 3h5m-10 2h5m-6-3h5m-5 4h5m-5-5h5m-6 6h5m-6-8h5m-7 20h5m-8-20h5m-9 21h5m-7-3h5m-6-5h5m-9-4h5m-5 6h5m-8 0h5m-6-10h5m-12 8h5m-6-11h5m-7-2h5m-6-1h5m-6 20h5m-7-3h5m-8-10h5m-6-2h5m-7 16h5m-7-21h5m-6 11h5m-10 6h5m-11-12h5m-10 1h5m-10 17h5m-7-22h5m-7 6h5m-14 15h5m-6-1h5m-9-13h5m-6-2h5m-8 0h5m-10-3h5m-7 11h5m-5-3h5m-9 1h5m-8 11h5m-14-7h5m-8 0h5m-7-6h5m-5 12h5m-8-22h5m-6 2h5m-7 20h5m-7-12h5m-7 4h5m-5-1h5m-10 1h5m-5-12h5m-8 20h5m-7-11h5m-14 10h5m-6-5h5m-5 7h5m-10-22h5m-7 8h5m-5 2h5m-7 0h5m-9-11h5m-5 8h5m-9 1h5m-12 6h5m-11-13h5m-7 11h5m-7 1h5m-5-1h5m-5 2h5m-7-14h5m-5 0h5m-8 3h5m-7 7h5m-6 4h5m-5-8h5m-6 13h5m-6-20h5m-6 0h5m-5 13h5m-5-12h5m-7 18h5m-5-11h5m-5 1h5m-9-8h5m-6 3h5m-5 5h5m-8-7h5m-7 8h5m-6-7h5m-5 6h5m-6 5h5m-6-14h5m-7 23h5m-5-14h5m-6 13h5m-6 1h5m-5-16h5m-6-2h5m-6 17h5m-6-12h5m-7 12h5m-6-2h5m-6-1h5m-6 0h5m-5-10h5m-6 11h5m-5 2h5m-6-17h5m-6 15h5m-8-9h5m-13 4h5m-6-9h5m-9-2h5m-6 13h5m-7-14h5m-8 4h5m-6-1h5m-6 2h5m-6 0h5m-8 2h5m-10-1h5m-10 6h5m-6-10h5m-13 15h5m-8-17h5m-6 17h5m-8-20h5m-5 0h5m-7 0h5m-9 19h5m-11-8h5m-6-1h5m-6-5h5m-7 4h5m-6-7h5m-11 21h5m-8-7h5m-9 6h5m-5-15h5m-7 12h5m-5-5h5m-8 9h5m-12-13h5m-8-4h5m-6 1h5m-5 3h5m-8-3h5m-7 10h5m-7-16h5m-9 7h5m-6 2h5m-20 6h5m-5 7h5m-6-22h5m-8 22h5m-7-16h5m-6 13h5m-7-13h5m-7 8h5m-10-8h5m-6-6h5m-9 5h5m-7 2h5m-8-8h5m-7 10h5m-6 5h5m-8-2h5m-6-5h5m-10-5h5m-6 8h5m-6 2h5m-12-13h5m-8 10h5m-9 0h5m-6-1h5m-10 9h5m-12-9h5m-6-4h5m-8 1h5m-10 11h5m-9-12h5m-8 0h5m-7 3h5m-5-1h5m-13 5h5m-6 0h5m-7-7h5m-9 6h5m-13-9h5m-7 21h5m-5-6h5m-12 4h5m-10-7h5m-14 0h5m-8 5h5m-6-5h5m-11 4h5m-7-7h5m-5-4h5m-6-3h5m-13 11h5m-11 8h5m-6-9h5m-9 8h5m-6-5h5m-9 0h5m-17 3h5m-8-8h5m-5 4h5m-5-11h5m-9 13h5m-9-12h5m-7 5h5m-10-11h5m-8 3h5m-7-2h5m-9 21h5m-8-9h5m-10-4h5m-11-1h5m-8 6h5m-10 9h5m-10-16h5m-7-7h5m-6 3h5m-6-1h5m-5 17h5m-7-9h5m-5-7h5m-5-2h5m-6 20h5m-5-1h5m-8-17h5m-5-2h5m-9 2h5m-8 7h5m-9 0h5m-14-3h5m-5-4h5m-6 19h5m-8-13h5m-17 12h5m-6-11h5m-10 5h5m-11 7h5m-10-15h5m-12 11h5m-5-12h5m-9-2h5m-7 6h5m-10 0h5m-6 11h5m-5-15h5m-6 13h5m-9-8h5m-6-2h5m-12 3h5m-6-2h5m-8-1h5m-9 8h5m-5-5h5m-5 2h5m-8 4h5m-11-11h5m-5-6h5m-10 14h5m-7-11h5m-13 0h5m-12 2h5m-6-3h5m-7 8h5m-7 9h5m-11-17h5m-5 8h5m-8 2h5m-5 5h5m-6 4h5m-7-8h5m-7-8h5m-7 11h5m-8-17h5m-15 47h5m-4-16h5m-5 15h5m2-7h5m-1-9h5m-4-6h5m1 0h5m-4 4h5m-1-4h5m-4 20h5m-4-19h5m3 20h5m6-7h5m0 7h5m2-12h5m-1-2h5m-1 1h5m-3 14h5m1 0h5m-4-21h5m-1 19h5m-5-4h5m-4 2h5m-1-2h5m7-9h5m-5 7h5m-4-12h5m-5 2h5m5-4h5m1 6h5m-1 7h5m2-12h5m-3 5h5m-4 12h5m3-16h5m-2 18h5m-5-17h5m-2 20h5m-5 0h5m1-19h5m-4 5h5m9-7h5m-4 10h5m-3 6h5m-3-18h5m12 22h5m-5-9h5m1 6h5m-4-14h5m4 12h5m22-9h5m8-6h5m-1 9h5m-2 1h5m-3 6h5m21-8h5m9-4h5m-3 4h5m1 12h5m-5-13h5m-4 3h5m7-8h5m-5 13h5m-1 0h5m-5 0h5m-3-8h5m26 0h5m-3-8h5m3 11h5m-1-9h5m4 0h5m5 1h5m4 2h5m0 16h5m1-18h5m-2 0h5m3 4h5m10 15h5m-5-20h5m8 19h5m-4-10h5m1-8h5m-5 12h5m-2-1h5m-5 6h5m1-8h5m-3-8h5m6 2h5m-5-1h5m-2 10h5m-1-15h5m0 10h5m-2 7h5m-3 1h5m-4 2h5m-4 1h5m-2-12h5m-2-9h5m-2 1h5m-3 11h5m-4-12h5m1 2h5m0 8h5m-1-2h5m-4 4h5m-4 0h5m-5 4h5m-4-11h5m-5-1h5m-3 10h5m-5-10h5m-4 5h5m-4 13h5m-2-23h5m-4 3h5m-1 8h5m-2 6h5m-4 3h5m-1-10h5m-4 4h5m-4-9h5m-5 16h5m-2-4h5m-3-10h5m-1 11h5m-5-16h5m-5 15h5m-4 0h5m-3-13h5m-5 3h5m-1-6h5m-4 9h5m16 3h5m-5-2h5m-3-3h5m5 14h5m-4 0h5m-4-22h5m4 4h5m0 19h5m-5-15h5m0 3h5m13-10h5m25 7h5m0 6h5m-3-7h5m20 2h5m-2-1h5m3 5h5m-2 5h5m4-3h5m6 6h5m3-3h5m-2-2h5m4 6h5m0 1h5m-1-15h5m-5-1h5m-1 10h5m8-6h5m18-7h5m-5 2h5m4 5h5m2 12h5m-2-15h5m0 6h5m9 4h5m4 2h5m-1-13h5m6-2h5m0 3h5m0 4h5m-2 11h5m-1-1h5m7-17h5m-3 11h5m0-14h5m27 44h5m-5-6h5m-8 1h5m-5-15h5m-8 16h5m-15 3h5m-10-19h5m-7 16h5m-7-8h5m-25 0h5m-5 12h5m-22 1h5m-8-18h5m-8 9h5m-13-1h5m-9 0h5m-9 2h5m-13 6h5m-14-19h5m-15 3h5m-6 2h5m-6 0h5m-22-1h5m-12-2h5m-6 14h5m-10-18h5m-12 20h5m-16 2h5m-15-5h5m-8-5h5m-11 8h5m-9-16h5m-7-1h5m-6 19h5m-7-20h5m-17 11h5m-32-12h5m-5 2h5m-5 7h5m-11 10h5m-6-10h5m-5-6h5m-13 14h5m-17-1h5m-11-4h5m-8-1h5m-7-9h5m-20-1h5m-9 14h5m-15-11h5m-11-1h5m-7-1h5m-5 18h5m-7-15h5m-7 8h5m-11-10h5m-6-1h5m-27 6h5m-7 9h5m-15-12h5m-9 6h5m-10-11h5m-7 1h5m-6 8h5m-6 1h5m-7-4h5m-11 7h5m-5-10h5m-6 12h5m-8 2h5m-8-4h5m-5-6h5m-9 14h5m-6-18h5m-9 5h5m-12-7h5m-9 3h5m-12-1h5m-8-4h5m-9 4h5m-8 11h5m-11-12h5m-8 0h5m-6 6h5m-7 11h5m-10-18h5m-6 13h5m-6-13h5m-11 3h5m-9 10h5m-9-12h5m-8 18h5m-5 2h5m-6-7h5m-12 5h5m-9-18h5m-9 4h5m-7 10h5m-15 2h5m-8 1h5m-7-13h5m-8-1h5m-12 7h5m-13 0h5m-12-11h5m-5 8h5m-10-2h5m-12-6h5m-6 2h5m-9 14h5m-5-4h5m-6-10h5m-6 16h5m-7-7h5m-15 8h5m-6-3h5m-17-2h5m-8-16h5m-11 10h5m-8-8h5m-10 13h5m-9-11h5m-15-2h5m-8 20h5m-9-8h5m-5-14h5m-15 5h5m-38 11h5m-12-1h5m-10 2h5m-19-12h5m-52 5h5m-19 1h5m-5 9h5m-23-20h5m-8 9h5m-13 11h5m-9 3h5m-6-5h5m-11-14h5m-6 4h5m-6-3h5m-11 17h5m-8-10h5m-8 3h5m-9 8h5m-7-21h5m-16 17h5m-5-2h5m-9-12h5m-7 4h5m-27-9h5m-7 19h5m-9-16h5m-11 7h5m-8 6h5m-15 3h5m-25-6h5m-18-11h5m-10 14h5m-7-16h5m-22 21h5m-12-10h5m-9 8h5m-6-8h5m-10-11h5m-7 31h5m-2 8h5m-3 2h5m-3-9h5m-1 6h5m6-8h5m-4 9h5m-1-15h5m0 8h5m1 6h5m-2-8h5m-1 12h5m-4-18h5m2 7h5m1 16h5m-4-15h5m6 15h5m13-10h5m11 10h5m4-23h5m2 7h5m-1 7h5m1 1h5m-2 2h5m2 3h5m0-7h5m4-9h5m0 19h5m-2-8h5m5-6h5m-3-5h5m2 1h5m3-2h5m0 0h5m3 2h5m8-2h5m-4 10h5m4 8h5m6-12h5m6 8h5m3-4h5m0 5h5m24-1h5m5-16h5m-5 22h5m-4 0h5m10-17h5m45 13h5m-4 0h5m40 4h5m23-17h5m2 5h5m-4-6h5m2-4h5m7 0h5m-4 21h5m1-1h5m-5-17h5m-4 12h5m1-1h5m1-13h5m-3 6h5m-5 12h5m-5-1h5m7-1h5m-1-15h5m-5 8h5m-2 12h5m8-2h5m-5-21h5m0 0h5m-3 22h5m-5-12h5m-1-9h5m0 2h5m-2 17h5m1-13h5m-4 7h5m-4-14h5m-4 17h5m-4 1h5m0-16h5m-4 10h5m-2 4h5m-2-9h5m0-6h5m-2 0h5m13 6h5m-5-7h5m-4 20h5m-2-8h5m0-1h5m1 1h5m3 0h5m-3-10h5m-3 16h5m-2 1h5m-1 0h5m-4-5h5m3-11h5m-4 1h5m4 11h5m0-7h5m-3-6h5m0 9h5m-3-10h5m5 15h5m6 5h5m0-6h5m3 4h5m-3-15h5m1 6h5m-1 0h5m10-5h5m-2 13h5m-1 1h5m-2-15h5m6-4h5m-1 1h5m3 0h5m-4 13h5m-3-7h5m-5 11h5m-3-8h5m0-1h5m-2 0h5m16-7h5m5-1h5m40 11h5m7-4h5m8 4h5m-5-7h5m-3 18h5m-4-17h5m-4 9h5m-1-11h5m8 15h5m0-18h5m-4 19h5m-4-1h5m6-6h5m-5 10h5m3-5h5m-4-15h5m0 7h5m-2 2h5m-6 27h5m-9-3h5m-6 5h5m-19 1h5m-8 3h5m-35-10h5m-8 6h5m-9-5h5m-9-1h5m-6-10h5m-17 10h5m-22 1h5m-6 3h5m-24-7h5m-11 15h5m-9-5h5m-6-10h5m-8-4h5m-7 13h5m-8 2h5m-23-3h5m-11-6h5m-24 7h5m-5 3h5m-10-18h5m-7 19h5m-19 2h5m-6-1h5m-7-7h5m-19-12h5m-10 6h5m-7 5h5m-7-7h5m-10 0h5m-17 11h5m-10-6h5m-5-3h5m-16 14h5m-21-9h5m-19 3h5m-8-1h5m-11 3h5m-15-11h5m-5 2h5m-9-1h5m-8-4h5m-16-1h5m-9 1h5m-8-5h5m-19 22h5m-11-9h5m-17-11h5m-9 8h5m-6 12h5m-7-5h5m-7-5h5m-6 7h5m-10-12h5m-6-6h5m-7 18h5m-8-14h5m-18 8h5m-15 10h5m-7-16h5m-7-4h5m-14 11h5m-28-5h5m-14-9h5m-16 10h5m-7 12h5m-13-18h5m-9 11h5m-13 2h5m-14 4h5m-10-14h5m-5 5h5m-6-2h5m-11 12h5m-15 0h5m-32-13h5m-14 1h5m-6 3h5m-16-10h5m-6 11h5m-7 9h5m-13-11h5m-8 0h5m-6-1h5m-12 6h5m-9-2h5m-8 1h5m-20-11h5m-22 3h5m-8-3h5m-8 10h5m-15 8h5m-20-17h5m-6 7h5m-6-7h5m-7-5h5m-10 2h5m-21 5h5m-17-2h5m-27 12h5m-13-12h5m-5-2h5m-11 4h5m-5 9h5m-19-12h5m-13 15h5m-9 0h5m-16-15h5m-10 17h5m-11-3h5m-11-9h5m-7-10h5m-16 19h5m-11-19h5m-34 7h5m-6 0h5m-9 11h5m-13-2h5m-7-15h5m-6 22h5m-6-9h5m-13 0h5m-7 4h5m-7 3h5m-25-15h5m-18 16h5m-8 0h5m-23-9h5m-14-3h5m23 37h5m3-2h5m-4-17h5m6-3h5m-2 8h5m4-4h5m7 5h5m-1 6h5m-1-3h5m11-8h5m11 3h5m11 1h5m9 9h5m1-17h5m8 18h5m-4-9h5m1-7h5m-5-3h5m4 10h5m-2-10h5m-2 5h5m0-1h5m6 15h5m4-5h5m0-5h5m5-7h5m7 3h5m4-4h5m-5 2h5m-4 17h5m-3-13h5m1 10h5m-4-17h5m-3 2h5m-5 18h5m-3-9h5m-4-6h5m3 16h5m0-10h5m1 4h5m-3 2h5m9-15h5m-1 15h5m-3 5h5m-3 1h5m24-12h5m-4-1h5m4 5h5m6 7h5m9-11h5m1 10h5m8-9h5m-2-12h5m-4 7h5m4 1h5m1 5h5m-1-1h5m3 4h5m6-10h5m-4 17h5m3-7h5m2-9h5m-4-5h5m1-1h5m0-1h5m-1 2h5m9 11h5m-2 5h5m-3-10h5m7 12h5m-5-9h5m3-11h5m-5 15h5m1-8h5m0-3h5m-4 12h5m3 7h5m-2-6h5m-2-15h5m-3 15h5m4-6h5m-3 1h5m-5 11h5m-3 0h5m-4-15h5m-4 6h5m-4 8h5m-4-15h5m-5 11h5m0-6h5m-4 10h5m-3-12h5m-5-4h5m-4 8h5m-5-11h5m-3 2h5m-2 5h5m4 2h5m8-9h5m-4 0h5m2 5h5m-3 6h5m-1-10h5m6 6h5m0 1h5m24-6h5m-2 10h5m-5-1h5m15-14h5m-1 8h5m2 9h5m-3-2h5m-2 0h5m-2 3h5m15-5h5m1 1h5m7-1h5m10-3h5m29 6h5m1 7h5m1 0h5m-1-13h5m-5 7h5m5-15h5m5 5h5m-3-3h5m-4 11h5m-5-10h5m-5 7h5m1 10h5m3-3h5m-3-12h5m-2 0h5m3-7h5m4 9h5m-3 11h5m-2-16h5m8 19h5m0-22h5m6-1h5m-3 1h5m11 22h5m0-20h5m-2 15h5m-1-6h5m-3-1h5m-3 10h5m5-4h5m-13 8h5m-12 9h5m-9 9h5m-8-3h5m-19-8h5m-13 15h5m-9-18h5m-5 11h5m-8-1h5m-6 0h5m-5-4h5m-8-3h5m-10 1h5m-8-1h5m-10 10h5m-14-3h5m-15 2h5m-10 4h5m-6-1h5m-12-19h5m-14 0h5m-7 21h5m-14-5h5m-8-3h5m-6-6h5m-5-6h5m-11 15h5m-12 4h5m-14-15h5m-21-5h5m-5 12h5m-12-8h5m-7 0h5m-9-2h5m-11 10h5m-10-10h5m-20 15h5m-10-6h5m-5-6h5m-13 12h5m-11 1h5m-8-3h5m-13 5h5m-8-18h5m-9-3h5m-8 14h5m-37 0h5m-18-2h5m-27 8h5m-22-8h5m-8-10h5m-21 3h5m-23 10h5m-5-14h5m-7-1h5m-8 0h5m-6 9h5m-8-8h5m-5 2h5m-6-3h5m-6 18h5m-7-18h5m-6 12h5m-7-11h5m-7 5h5m-6 15h5m-6-10h5m-7 12h5m-6-12h5m-6-11h5m-6 2h5m-6 17h5m-6-2h5m-7-1h5m-10-7h5m-5-3h5m-15-6h5m-15 15h5m-9 5h5m-6-5h5m-8-3h5m-6-5h5m-8 12h5m-8 2h5m-6-13h5m-8 1h5m-6-8h5m-12 21h5m-27-10h5m-16 0h5m-8-12h5m-7 5h5m-31 13h5m-13-2h5m-9-1h5m-12 1h5m-15 0h5m-13-14h5m-22 10h5m-14 0h5m-12 1h5m-19 7h5m-6-18h5m-7 3h5m-8 9h5m-18-12h5m-23 1h5m-30-1h5m-6 18h5m-14-5h5m-12 4h5m-10 2h5m-24-9h5m-15 1h5m-30-10h5m-8 11h5m-6-13h5m-10 12h5m-26-7h5m-7 0h5m-9-4h5m-13 18h5m-12-15h5m-8-2h5m-9 1h5m-8 13h5m-5-17h5m-11 21h5m-15 2h5m-17-9h5m-11 5h5m-15-12h5m-10-4h5m-19 2h5m-9-3h5m-11 8h5m-9 7h5m-14-12h5m-11 12h5m-8-17h5m-11 11h5m-35-4h5m0 17h5m-5 8h5m-2-6h5m3 8h5m23-7h5m4 13h5m1-10h5m3 13h5m5-1h5m2-16h5m0 12h5m-3 6h5m13-18h5m3 13h5m0-2h5m9-4h5m-4 4h5m6-8h5m11 0h5m9 1h5m-3 13h5m-4-4h5m-4 8h5m18-6h5m-5 5h5m-3-6h5m2-5h5m4 9h5m1-17h5m11 7h5m4 4h5m-5-14h5m16 19h5m-4-8h5m2 8h5m-4-15h5m2 12h5m8 2h5m0-10h5m-4 15h5m-1-3h5m33-16h5m6 15h5m10-18h5m-5 2h5m-2 5h5m-3-2h5m-3 8h5m-1 1h5m-2 0h5m7-1h5m4 9h5m4-4h5m-4-12h5m0 5h5m1 1h5m-3-4h5m-2 4h5m1 4h5m0-12h5m8 1h5m-3 10h5m-2 7h5m7-2h5m3-3h5m-5-6h5m5-12h5m1 9h5m4-3h5m-2 4h5m-5 12h5m-1-22h5m-4 14h5m-3-3h5m5-7h5m-4 5h5m0 5h5m-5 7h5m-4-15h5m-3 3h5m-4 8h5m-5-8h5m-1 5h5m-5 2h5m15-16h5m-3 15h5m-1-2h5m5-7h5m-2-6h5m-5 5h5m17 11h5m5 1h5m12 4h5m-1-2h5m-4-15h5m0 0h5m-1 8h5m-4 2h5m-4-10h5m27 1h5m3 1h5m7 3h5m-5-9h5m1 7h5m-2-5h5m-3 12h5m3 3h5m-4-11h5m1-1h5m-1 5h5m0 1h5m3 1h5m-2-12h5m-4 4h5m-3 14h5m-4 1h5m6-16h5m-2 11h5m0-13h5m-1 10h5m2 12h5m1-9h5m1-11h5m7 9h5m0-4h5m1-5h5m-2 12h5m0-8h5m3 13h5m2-2h5m-3-14h5m-3 16h5m-3 0h5m3-20h5m-5 9h5m-2 9h5m2 3h5m0-5h5m6-14h5m-5 12h5m3 8h5m0-13h5m-4-8h5m6 21h5m-1-17h5m-5 15h5m3 11h5m-32 9h5m-14 7h5m-40-5h5m-14-3h5m-7-4h5m-6 7h5m-14-15h5m-20-2h5m-7 3h5m-16 4h5m-7-4h5m-7 6h5m-10-1h5m-21-5h5m-11 7h5m-17 4h5m-38 7h5m-27-19h5m-16 2h5m-48 17h5m-7-21h5m-8 2h5m-31 13h5m-10-10h5m-13 9h5m-26 8h5m-16-23h5m-32 3h5m-16 2h5m-12 2h5m-6-5h5m-11 1h5m-5 14h5m-8 4h5m-5-13h5m-6 14h5m-7-18h5m-5 19h5m-6 0h5m-11-21h5m-9 16h5m-13-13h5m-7 15h5m-14-15h5m-6 15h5m-22-9h5m-19-2h5m-6-8h5m-21 21h5m-35-10h5m-6 11h5m-28-14h5m-37 14h5m-18-13h5m-6-1h5m-8 12h5m-11-6h5m-7 3h5m-36-13h5m-9 16h5m-12-3h5m-12-10h5m-15 10h5m-6-4h5m-9-14h5m-6 11h5m-25 4h5m-10 3h5m-13-16h5m-11 5h5m-13 14h5m-28-16h5m-10 13h5m-9-16h5m-6 18h5m-13-16h5m-7 0h5m-7 0h5m-6-3h5m-17 2h5m-6 18h5m-36-4h5m-21 3h5m-24-15h5m-5 11h5m-5-12h5m-29 11h5m-6 8h5m-7-18h5m-8 12h5m-6 3h5m-20-1h5m-12-17h5m-13 17h5m-6-14h5m-14 12h5m-8-11h5m-14 41h5m27-1h5m6-5h5m10-17h5m4 11h5m17 5h5m-3 5h5m-3-5h5m12-2h5m-4 8h5m24-8h5m-4-2h5m0 1h5m-2 6h5m-2-9h5m5-8h5m5 2h5m-3 18h5m4-19h5m10 13h5m31 2h5m9-13h5m-3 6h5m-1-4h5m-3 9h5m5-7h5m-5 13h5m2-22h5m-4 8h5m8 14h5m-2-4h5m20-12h5m3 15h5m-4-8h5m8 5h5m-5-2h5m-3-1h5m-2-11h5m9 5h5m-1 6h5m-2-4h5m-4 4h5m-4 7h5m24 0h5m-3-7h5m-4 1h5m-5 4h5m-4-1h5m-5-16h5m2 2h5m1-2h5m9 2h5m5-1h5m-4 1h5m0 7h5m3 5h5m1-7h5m3 5h5m-4-11h5m0 14h5m21-10h5m1 7h5m-4 3h5m0-16h5m4 17h5m-1-16h5m-3 14h5m-3-9h5m0 0h5m-4 14h5m-1-21h5m-2 5h5m6-2h5m9 3h5m-5-1h5m4 7h5m29-3h5m-2 4h5m16-14h5m-5 5h5m2-3h5m1 20h5m32-5h5m13-8h5m5 3h5m-2 0h5m9 3h5m0-14h5m7 9h5m11 12h5m2-17h5m6-3h5m7 7h5m9 1h5m-4-5h5m-4 1h5m-4-6h5m2 7h5m3 4h5m-4 11h5m7-19h5m-3 14h5m12-6h5m1-4h5m6-4h5m2 5h5m4-4h5m18 15h5m-3-7h5m-4-8h5m-3 1h5m4 12h5m-20 17h5m-6 13h5m-6-9h5m-12-11h5m-17-2h5m-6 6h5m-7-5h5m-6 12h5m-5 7h5m-30-3h5m-12-18h5m-29 12h5m-6-8h5m-10 11h5m-38-1h5m-35 2h5m-8-13h5m-6 5h5m-10 5h5m-13-1h5m-12 2h5m-12-14h5m-25 6h5m-7-4h5m-16 20h5m-10-7h5m-22-1h5m-13-2h5m-106-8h5m-29 17h5m-16-13h5m-6-8h5m-6 3h5m-8 8h5m-10 3h5m-9 4h5m-5-3h5m-7-8h5m-9-1h5m-12 6h5m-7-12h5m-7 10h5m-13-3h5m-6 4h5m-6-4h5m-14 3h5m-6 3h5m-7-4h5m-15 5h5m-17 8h5m-12-10h5m-8 9h5m-8-2h5m-11-10h5m-11-7h5m-8 12h5m-10 2h5m-24-4h5m-8-10h5m-21 17h5m-18 1h5m-5-2h5m-15 3h5m-7-17h5m-5-1h5m-11 2h5m-17 0h5m-14 17h5m-32-2h5m-48-9h5m-7 10h5m-6-1h5m-25-5h5m-22 1h5m-19-15h5m-12 6h5m-10 9h5m-39 4h5m-6-6h5m-10-4h5m-6 4h5m-41 5h5m-14 4h5m-12-9h5m-22-14h5m-11 14h5m-43-14h5m-8 14h5m-10-1h5m-5 2h5m-8-7h5m-15-8h5m-24 20h5m-4 27h5m5-1h5m-4-7h5m4 3h5m-4-15h5m-5-2h5m4 0h5m-4 10h5m-5 5h5m12 7h5m-3-7h5m-5-15h5m0 21h5m4-21h5m14 2h5m-3 10h5m1 1h5m6 4h5m11-6h5m0-5h5m1 3h5m12 13h5m3-9h5m-1-10h5m-1-1h5m11 17h5m21 0h5m-4-14h5m0-1h5m2 3h5m16 0h5m-4-4h5m1 2h5m34-5h5m-3 20h5m29-1h5m26-3h5m1-9h5m13 11h5m0-10h5m10-2h5m-1 2h5m28 6h5m21 7h5m-2-18h5m0 6h5m-5 5h5m0-2h5m8 5h5m17-17h5m-3 15h5m-1-1h5m-3-9h5m-1 4h5m-2-6h5m4 16h5m4-11h5m3-7h5m0 10h5m15-3h5m59 6h5m2 2h5m2-16h5m7 14h5m6 1h5m4-1h5m-4 4h5m29-10h5m6-6h5m7 11h5m12 1h5m-4 2h5m6-14h5m-5 2h5m1-3h5m22 2h5m-3 7h5m7 0h5m20-5h5m-4 5h5m1 7h5m-3-18h5m-3 14h5m-1 6h5m-5 2h5m-3-4h5m-4-15h5m-4-3h5m7 20h5m11-3h5m3-7h5m4 7h5m-1-10h5m7 5h5m-11 16h5m-22 12h5m-10-9h5m-11-2h5m-47 11h5m-6-8h5m-5-1h5m-9-3h5m-5 16h5m-14-12h5m-38 4h5m-9-7h5m-11 10h5m-6-8h5m-12 7h5m-10-9h5m-34 3h5m-33 14h5m-9-16h5m-15 3h5m-19-6h5m-8 15h5m-16-12h5m-30 4h5m-6 13h5m-21-20h5m-32 5h5m-23 4h5m-8-7h5m-7 18h5m-20-16h5m-8-5h5m-10 15h5m-13-6h5m-13-1h5m-9 3h5m-21 2h5m-16-7h5m-31 8h5m-6 1h5m-7 5h5m-11-21h5m-7 5h5m-9 12h5m-10-15h5m-30 1h5m-11 3h5m-7-4h5m-18 7h5m-11-6h5m-14 5h5m-16 8h5m-12 1h5m-25 1h5m-7 2h5m-44-16h5m-6-5h5m-6 17h5m-21-2h5m-15-4h5m-9 2h5m-61-12h5m-11 10h5m-28-11h5m-8 0h5m-10 7h5m-12-2h5m-12 6h5m-25 9h5m-61-7h5m-34 5h5m-7-7h5m-28-2h5m-47 14h5m-5-6h5m-7-5h5m-11-4h5m-9 22h5m2 5h5m9 6h5m0 5h5m-4-16h5m2 3h5m3 2h5m3 5h5m-1-7h5m4 3h5m-3-3h5m4 1h5m17-10h5m-4 5h5m-5-4h5m0 2h5m-1-2h5m-2 2h5m5-1h5m-2 19h5m-1-3h5m-3 3h5m19-8h5m18 5h5m18-13h5m-3 3h5m24-2h5m22 16h5m4-8h5m7-2h5m33-1h5m1 5h5m6 7h5m10-11h5m16-6h5m-1 8h5m1-11h5m-3 10h5m3-12h5m-3 19h5m1-9h5m10 3h5m-3 4h5m13-13h5m3 7h5m1 5h5m19-16h5m0 11h5m-5-10h5m-3 13h5m5 5h5m-1-8h5m-3-3h5m0 8h5m-2-6h5m2-8h5m2 4h5m1 6h5m3-5h5m-4 8h5m6-15h5m-4 4h5m0 15h5m-4-9h5m6 3h5m-1-7h5m-1 13h5m2-1h5m36-8h5m59-5h5m6 0h5m-4 8h5m-1-12h5m1 14h5m15 6h5m-2-21h5m-4 20h5m-1-18h5m35 5h5m1 14h5m39-15h5m-1 2h5m-4-6h5m-3 20h5m-4-14h5m5 3h5m2 9h5m13-14h5m3-7h5m0 23h5m2-15h5m-2 15h5m7-18h5m-4 11h5m0 6h5m-5-4h5m0 4h5m-1-19h5m-12 30h5m-19 7h5m-10-9h5m-23 0h5m-6-3h5m-13 16h5m-31-4h5m-9 0h5m-10-4h5m-10-10h5m-22 18h5m-11-3h5m-23-1h5m-19-5h5m-11-7h5m-23 1h5m-15 6h5m-21-9h5m-30 9h5m-11 8h5m-10-10h5m-9 0h5m-12 3h5m-21 10h5m-8-22h5m-14 3h5m-26 8h5m-9 9h5m-13-10h5m-19 13h5m-24-15h5m-8 2h5m-8 9h5m-24-1h5m-11-11h5m-22 5h5m-46-9h5m-7 6h5m-8 5h5m-8-1h5m-11-5h5m-5 2h5m-8-1h5m-7-1h5m-6 1h5m-12 14h5m-6-22h5m-9 5h5m-33 16h5m-6-2h5m-28-12h5m-5 2h5m-13-4h5m-8 7h5m-9 8h5m-17-19h5m-13 14h5m-43-15h5m-10 15h5m-16-6h5m-5 7h5m-11-11h5m-11 15h5m-68-10h5m-5 0h5m-30-3h5m-35 5h5m-7-2h5m-16 11h5m-5-12h5m-12-5h5m-28 14h5m-8-1h5m-25 0h5m-6-6h5m-9-1h5m-19-9h5m-36 12h5m-28-13h5m-6-1h5m-11 2h5m-41 31h5m2 7h5m-4-11h5m-3 13h5m27-13h5m-3 15h5m-2-18h5m-5 19h5m11-20h5m13 22h5m13-23h5m39 15h5m-1-9h5m-3 14h5m30-13h5m24 10h5m12 6h5m0-10h5m1 7h5m2 1h5m-4-8h5m7 5h5m10-10h5m-5 7h5m-1-6h5m17-8h5m7 13h5m7 4h5m16-16h5m-2-1h5m-2 1h5m-3 15h5m-3-5h5m0-5h5m15 6h5m-2-4h5m5-2h5m11-3h5m14-3h5m6 9h5m-4 13h5m14-5h5m-4-3h5m-3-9h5m8-5h5m0 22h5m-3-7h5m-1 5h5m9-21h5m-1 17h5m-2 2h5m19-16h5m-4 11h5m30-11h5m-1 12h5m-4-11h5m0 6h5m9-9h5m-5 13h5m-5-10h5m14-2h5m3-2h5m14 6h5m10 17h5m-3-12h5m2-11h5m2 15h5m-4 4h5m15 1h5m-5-14h5m-4-2h5m-2-2h5m-4 12h5m2 8h5m4-14h5m7 15h5m-5-23h5m-4 5h5m-2 14h5m9-19h5m22 23h5m-5-9h5m6-14h5m2 4h5m-5 2h5m4-4h5m12 0h5m11 17h5m4-12h5m5 2h5m8-1h5m-4-3h5m6 4h5m30 10h5m-4-14h5m3 12h5m-13 15h5m-14-6h5m-18 1h5m-14-3h5m-6 8h5m-26-2h5m-26-1h5m-11 5h5m-6-8h5m-8 3h5m-8 6h5m-6-9h5m-36 1h5m-24 1h5m-13 5h5m-39 4h5m-23-4h5m-48-8h5m-42 9h5m-19 2h5m-8-4h5m-13-1h5m-6-2h5m-59-1h5m-37 1h5m-34 1h5m-40-6h5m-49 6h5m-18-6h5m-29 13h5m-23-11h5m-21 4h5m-16 3h5m-10-3h5m-20-3h5m-31 10h5m-22-12h5m-36 7h5m-27 1h5m-23 0h5m-14 0h5m-5-6h5m-8 0h5m-18 6h5m-37-7h5m-7 3h5m-11 2h5m-17-7h5m-54 2h5m-14 11h5m-20-7h5m-13-2h5m-10-4h5m-13 6h5M1294 1013h5m-4 18h5m7-8h5m-2-13h5m25 14h5m24-9h5m10 6h5m3 0h5m-5 3h5m2-2h5m1 1h5m-5 4h5m-3-11h5m-2 11h5m9-2h5m68-12h5m15-1h5m12 18h5m-3-18h5m-2 6h5m-4-3h5m-4 3h5m10 7h5m-4-9h5m15 0h5m-3-1h5m43 11h5m79-5h5m-5 1h5m4-7h5m0 15h5m-4-5h5m-4-6h5m0 2h5m-4 10h5m-3-3h5m-4-16h5m0 13h5m-3-6h5m-4-1h5m5 11h5m-2-2h5m-2 1h5m5-11h5m-4 3h5m4-1h5m3-7h5m-4 11h5m-3-9h5m4 8h5m-5-1h5m7-6h5m1-5h5m58 15h5m17-16h5m77 7h5m8 0h5m0 12h5m-5-4h5m3 5h5m-1-2h5m-2-14h5m0-3h5m-1 17h5m-3-8h5m8 0h5m-2 10h5m-3-8h5m-4 10h5m32-21h5m-2 13h5m-3-10h5m24 7h5m-2 2h5m-3-4h5m9-3h5m6 13h5m1 26h5m-5-22h5m-12 11h5m-6 2h5m-9 8h5m-18-17h5m-15-1h5m-19 10h5m-18-5h5m-70 7h5m-21-4h5m-15-1h5m-37 11h5m-16-8h5m-25-11h5m-24 15h5m-7 6h5m-19 0h5m-11-12h5m-62-10h5m-7 5h5m-19-4h5m-9 15h5m-5-9h5m-16 3h5m-12 5h5m-12-13h5m-6 19h5m-5-6h5m-7-2h5m-5 4h5m-8-3h5m-5-14h5m-7 5h5m-7 7h5m-12 1h5m-6-13h5m-10 10h5m-7-10h5m-6-1h5m-6 0h5m-22 13h5m-6 3h5m-21-16h5m-19 0h5m-8 23h5m-6-4h5m-7-19h5m-13 22h5m-8-12h5m-6-6h5m-6 18h5m-5-19h5m-6 6h5m-20 1h5m-12-2h5m-10 9h5m-13-3h5m-29 6h5m-23 1h5m-11-2h5m-11-8h5m-24-10h5m-6 12h5m-16 2h5m-14-1h5m-16-1h5m-57 2h5m-9-2h5m-19 8h5m-17-9h5m-6-3h5m-10 14h5m-18-13h5m-7-4h5m-10 6h5m-11-6h5m-6 7h5m-9-9h5m-17 2h5m-8 11h5m-6 4h5m-14-2h5m-12-16h5m-7 1h5m-18 8h5m-13 6h5m-22 2h5m-20-14h5m-22 7h5m-13 1h5m-8-5h5m-61 1h5m-6 5h5m-12 0h5m-11 17h5m-4 1h5m17-3h5m33 16h5m-4-9h5m0 6h5m16-4h5m1-14h5m7 6h5m3 11h5m2-11h5m-2 11h5m-5-8h5m-2-2h5m-5 3h5m3 10h5m-4 0h5m-4-16h5m6 5h5m-1 10h5m20-12h5m8 7h5m11 3h5m-2-8h5m5 2h5m-4 2h5m2 1h5m1-4h5m27 5h5m0-15h5m52 14h5m5-7h5m12 5h5m0-10h5m-1 20h5m-2-12h5m2 8h5m4-2h5m2 2h5m11 1h5m-4-8h5m7-10h5m2 1h5m2 4h5m-4 8h5m0 8h5m-2-15h5m20-8h5m-2 14h5m0-13h5m-4 10h5m9 6h5m0-13h5m-2 18h5m-5 0h5m-3 1h5m1-11h5m14-4h5m3 2h5m6 6h5m5-7h5m10 10h5m-5-8h5m5 0h5m21-5h5m4 6h5m9 1h5m46-4h5m19-3h5m12 13h5m0-2h5m85-10h5m58-1h5m-1 13h5m16 17h5m-12-3h5m-24 11h5m-26-5h5m-16-5h5m-8 3h5m-14-7h5m-49 10h5m-10-6h5m-40-10h5m-20 8h5m-50 13h5m-10-7h5m-23 3h5m-24-7h5m-82-2h5m-11 12h5m-5 3h5m-11-7h5m-14 6h5m-10-16h5m-5 15h5m-12-21h5m-8 4h5m-6 0h5m-17 9h5m-9 10h5m-36-17h5m-11 6h5m-13 8h5m-23-10h5m-11 1h5m-6-8h5m-10 16h5m-9-9h5m-7-2h5m-10-2h5m-6 1h5m-13 8h5m-7 8h5m-13-10h5m-14 1h5m-45-5h5m-21 3h5m-33 7h5m-40-11h5m-41 1h5m-22 1h5m-22 12h5m-13-16h5m-7 2h5m-18 11h5m-16-11h5m-8-6h5m-12 8h5m-14 3h5m-6-5h5m-27 4h5m-9 11h5m-7-16h5m-16 11h5m-5-13h5m-12-1h5m-5 9h5m-47-5h5m-22 10h5m-10-7h5m-12 12h5m-6-20h5m-8 4h5m-33-7h5m-12 6h5m-6-3h5m-13 39h5m6-10h5m-2 10h5m-2-10h5m-3 2h5m0-1h5m1 10h5m9 0h5m3-17h5m-3 20h5m-2-22h5m2 17h5m-5 0h5m-4-8h5m7 6h5m12-1h5m15 6h5m2-6h5m11 5h5m-3-4h5m-2-8h5m-4-7h5m0 15h5m4 2h5m-4-9h5m5 8h5m-3 2h5m7-1h5m-4-2h5m4 7h5m-3-6h5m0-14h5m3 8h5m6 4h5m-2-6h5m-3-8h5m6 10h5m25-2h5m3 8h5m1-16h5m-3 7h5m3 1h5m2-6h5m4 2h5m7 14h5m1-11h5m-4-5h5m21 13h5m13-12h5m13 6h5m1-6h5m9 8h5m4 6h5m-2 5h5m1-17h5m-1-5h5m-3 4h5m-5 17h5m-3-2h5m-3-17h5m-3 8h5m2-1h5m-2 11h5m0-16h5m-2 17h5m-5-21h5m10 15h5m0-1h5m-3-5h5m-1-3h5m-4 16h5m-3-11h5m8 1h5m-5-8h5m2 15h5m-4-6h5m-5-4h5m31 11h5m-4-12h5m0 7h5m-3-11h5m12 4h5m-3 0h5m-3 7h5m-2-5h5m-2-2h5m44 4h5m-1 6h5m21-18h5m-5 17h5m22 4h5m1-18h5m-3 14h5m1 4h5m9-2h5m25 4h5m12-13h5m1 5h5m28 4h5m5-13h5m0 10h5m-1-14h5m11 9h5m10-4h5m23-7h5m20 9h5m-10 21h5m-26-1h5m-6 4h5m-29-6h5m-10 3h5m-7 12h5m-107-8h5m-10 5h5m-28-3h5m-6-12h5m-11 12h5m-55-3h5m-22 2h5m-39-6h5m-8 2h5m-27-4h5m-15-2h5m-10 18h5m-10-6h5m-12 4h5m-11 3h5m-14-14h5m-23 14h5m-12 0h5m-10 2h5m-6-20h5m-12 1h5m-6 5h5m-15 3h5m-8-8h5m-6 18h5m-16-21h5m-8 0h5m-9 2h5m-15 11h5m-5-10h5m-8 2h5m-9-5h5m-23 5h5m-12 4h5m-30 5h5m-7-4h5m-27 5h5m-19 7h5m-10-18h5m-15 8h5m-66 1h5m-18 7h5m-15-1h5m-35-19h5m-13 6h5m-8 4h5m-21 10h5m-9-2h5m-6 5h5m-18-5h5m-9-2h5m-22-11h5m-12-2h5m-30 8h5m-23 7h5m-9-11h5m-18 1h5m-32 13h5m-11 0h5m-42-1h5m-25 1h5m-12 15h5m-4 10h5m2-3h5m-2-13h5m5 6h5m-3-12h5m0 11h5m-4-3h5m0 4h5m-2 5h5m-4 5h5m-5-19h5m0 4h5m1 8h5m5-4h5m0-2h5m-1 10h5m4-14h5m-2 3h5m3-1h5m32-3h5m8 11h5m6 5h5m-2-16h5m-3 0h5m-4 14h5m-5 5h5m10-23h5m2 4h5m8 17h5m-3 0h5m32-5h5m-1-2h5m-1-1h5m15-5h5m-2 10h5m6-6h5m2 6h5m-2-17h5m4 3h5m9 1h5m-2-1h5m3-2h5m11 2h5m-5 12h5m26-4h5m-2-7h5m19 11h5m-5-6h5m-4-1h5m-2 0h5m-3 14h5m5-23h5m3 9h5m0 4h5m11 3h5m-4-10h5m-4 15h5m-3-18h5m0-3h5m-2 1h5m-5 3h5m8 11h5m-3-13h5m18 21h5m-3-23h5m-3 12h5m-1-2h5m14 6h5m-1 3h5m-2-6h5m0 10h5m-3-11h5m-5-3h5m-5-5h5m-5 13h5m1-13h5m-4 13h5m-4-16h5m-1 1h5m-3 9h5m10 12h5m6-14h5m13-8h5m4 20h5m2-21h5m2 15h5m4-11h5m-1-1h5m-2 11h5m9 6h5m4-20h5m0 10h5m15-6h5m-4 13h5m31 4h5m8-6h5m32 6h5m15-4h5m-5-9h5m11 12h5m-3-6h5m16 3h5m31 1h5m-1-6h5m15-8h5m9-1h5m-3 13h5m2-3h5m-2 8h5m-32 6h5m-19 12h5m-39-6h5m-8-2h5m-41 1h5m-21 4h5m-14-10h5m-25 21h5m-50-18h5m-7 12h5m-35 1h5m-24 5h5m-16-17h5m-25 5h5m-25-9h5m-9 5h5m-31 11h5m-9-14h5m-19 4h5m-12 0h5m-6 10h5m-5-13h5m-17-3h5m-21 9h5m-5-9h5m-7 21h5m-6-6h5m-6 0h5m-10-17h5m-17 3h5m-12 9h5m-5 10h5m-11-10h5m-11-6h5m-9 9h5m-14-5h5m-9 1h5m-19-11h5m-6 0h5m-7 1h5m-18 16h5m-27-7h5m-17 5h5m-7 7h5m-38-14h5m-6-8h5m-17 15h5m-21-10h5m-16 9h5m-9-4h5m-38-7h5m-8 14h5m-9 5h5m-16-7h5m-13-5h5m-9 2h5m-7 6h5m-16-5h5m-6 7h5m-6-18h5m-11 18h5m-6-1h5m-8-1h5m-13-6h5m-9 7h5m-8-16h5m-11 12h5m-17 7h5m-12 1h5m-8-1h5m-19-2h5m-17-17h5m-9 15h5m-9-13h5m-14-2h5m-17 18h5m-10-15h5m-7-3h5m-6-3h5m-13 16h5m-16 1h5m-7-5h5m-9 6h5m-35-5h5m-14 4h5m-28-15h5m-6 13h5m-16-8h5m-6 5h5m-7-11h5m-7 22h5m-13-7h5m-12-1h5m-1 31h5m-4-10h5m-3-4h5m-1-5h5m-5 20h5m-5-14h5m1 10h5m-3-8h5m7-8h5m-5-1h5m0 2h5m-3 3h5m11-7h5m2 23h5m20 0h5m2-19h5m9 19h5m-5-20h5m3-2h5m-4 13h5m-2 5h5m-2-16h5m-5 19h5m-1-10h5m1 6h5m-2-13h5m0-2h5m7-3h5m21 5h5m7 5h5m-1 6h5m-4-15h5m-2 12h5m-1-8h5m3 0h5m-5 6h5m-3 8h5m-3 1h5m12-1h5m10 3h5m0-18h5m-5 15h5m1-12h5m1 6h5m13-8h5m-3 10h5m-2-10h5m-3 4h5m0 3h5m-3 3h5m1 6h5m-3-19h5m6 20h5m-5-12h5m-2 8h5m5-15h5m0 4h5m-5-1h5m11-3h5m11 3h5m-5 7h5m7 9h5m-2-20h5m1 13h5m19-6h5m0 9h5m12 1h5m-4-16h5m5 8h5m-5 11h5m2-2h5m-1-3h5m0-9h5m-1-3h5m-4-4h5m8 2h5m-2 19h5m-5-8h5m22 6h5m0 3h5m-5-7h5m-4-14h5m-2-2h5m1 15h5m-5 0h5m14 4h5m1-2h5m3 5h5m0-4h5m-4-6h5m2 10h5m-2-3h5m11-15h5m6 13h5m-5-13h5m6-3h5m6 4h5m1 9h5m0 1h5m5-8h5m0 7h5m7-12h5m1 13h5m10-3h5m0-11h5m23 3h5m10 3h5m3 9h5m0-9h5m-2 14h5m-2 1h5m-2-2h5m0-11h5m26-8h5m20 7h5m12 4h5m2 11h5m11-5h5m19-14h5m10 19h5m0-20h5m6 7h5m1-3h5m-4-5h5m-8 42h5m-7-2h5m-5-3h5m-11 5h5m-12-18h5m-9-2h5m-7 1h5m-13 12h5m-8-1h5m-8-3h5m-39 4h5m-6 6h5m-13 0h5m-30 2h5m-5-9h5m-8 0h5m-9-4h5m-13 14h5m-10-8h5m-9 4h5m-11 0h5m-9-8h5m-20 5h5m-21-12h5m-6 13h5m-22-7h5m-15 7h5m-7-13h5m-45 1h5m-7 2h5m-8 9h5m-7 8h5m-20-15h5m-12-7h5m-7 7h5m-16 13h5m-11-11h5m-10 8h5m-12-9h5m-8 13h5m-7-13h5m-13 8h5m-12 3h5m-14 2h5m-5-1h5m-12-2h5m-11-6h5m-12-6h5m-6 3h5m-16 3h5m-14 1h5m-11 2h5m-19 4h5m-6-9h5m-5-6h5m-8 9h5m-26 8h5m-10-6h5m-6 4h5m-8-2h5m-8 0h5m-6-5h5m-9-1h5m-6 2h5m-8-2h5m-24 10h5m-9-6h5m-6-12h5m-8 19h5m-11-5h5m-6-12h5m-6 0h5m-6 16h5m-5-17h5m-8 13h5m-7-13h5m-7 16h5m-11-9h5m-6 5h5m-9 6h5m-7-12h5m-5 7h5m-16-6h5m-10-5h5m-9 9h5m-24 1h5m-6-9h5m-6 11h5m-12-11h5m-8 5h5m-9-9h5m-7 6h5m-6 2h5m-9-6h5m-12-6h5m-29 22h5m-6-2h5m-5 1h5m-8-13h5m-7 4h5m-7-2h5m-15 13h5m-7-15h5m-8 1h5m-21-7h5m-6 15h5m-14-16h5m-9 18h5m-8-6h5m-8 1h5m-9-3h5m-22 8h5m-14-11h5m-6 15h5m-6-20h5m-8 14h5m-17 3h5m-8-11h5m-8-2h5m-9 7h5m-7 9h5m-7-21h5m-23 21h5m-10-19h5m-6 13h5m-29-16h5m-28 3h5m-5 2h5m-12-4h5m-12 19h5m-6-12h5m-12 5h5m-15 5h5m-19-2h5m-18 1h5m-9-8h5m-8 8h5m-12-10h5m-6-6h5m-6 18h5m-5-15h5m-22 0h5m-8-3h5m-5 21h5m-12-4h5m-32-6h5m-7 6h5m-5-17h5m-8 27h5m2 5h5m-4 6h5m-5-3h5m4-9h5m-4-4h5m17 16h5m19-14h5m-2 16h5m5 0h5m-4 1h5m0-6h5m2-13h5m0 21h5m3-2h5m11-3h5m-5 6h5m8-6h5m2-15h5m1 20h5m12-8h5m6-1h5m0-4h5m-3 4h5m0 8h5m-3-14h5m4-5h5m-1 11h5m1 4h5m-2 0h5m3-11h5m11 13h5m1 3h5m1-17h5m-4 6h5m3-9h5m-3 20h5m31-4h5m29 6h5m15 0h5m13-7h5m5-8h5m-1 14h5m5-3h5m7-16h5m12 18h5m4-1h5m1 3h5m-3 0h5m2-1h5m-5-20h5m0 16h5m-4-6h5m-5 4h5m-3 3h5m-2 2h5m-2 0h5m-3-13h5m1 5h5m4 5h5m-1-16h5m-3 19h5m-4-20h5m0 14h5m-2 1h5m-4 6h5m1-10h5m0 3h5m9-10h5m3 0h5m17 11h5m-4 7h5m0-22h5m-4 9h5m5 0h5m-3-6h5m-3 11h5m-2-9h5m26 10h5m6-3h5m0-10h5m11-2h5m5 1h5m0 7h5m-2-1h5m-1-5h5m17 16h5m2-5h5m0-8h5m9 9h5m35-15h5m0 12h5m0 7h5m9-5h5m94 7h5m-3-14h5m9 15h5m5-19h5m-3 19h5m10 22h5m-39-6h5m-9-14h5m-6 6h5m-17 3h5m-31-8h5m-19 15h5m-18-12h5m-14 1h5m-33-4h5m-6 2h5m-9 9h5m-12 1h5m-27-6h5m-9 6h5m-6-10h5m-30 15h5m-13 4h5m-6-6h5m-6-5h5m-5 1h5m-7-6h5m-13-3h5m-12 16h5m-12-11h5m-9-8h5m-33 11h5m-9-1h5m-6 9h5m-15-3h5m-7-13h5m-16-3h5m-29 16h5m-8-1h5m-16 7h5m-8-20h5m-17-2h5m-5 4h5m-14 8h5m-11-10h5m-10 2h5m-19-3h5m-13 16h5m-7-2h5m-19 8h5m-7-23h5m-15 18h5m-9-10h5m-5 15h5m-7-7h5m-8-8h5m-7 2h5m-5 5h5m-10-7h5m-6 0h5m-5 8h5m-15-9h5m-10 14h5m-9-15h5m-6 6h5m-7-6h5m-5 4h5m-6-4h5m-6 9h5m-7-14h5m-5 11h5m-12-12h5m-6 23h5m-10-20h5m-19 2h5m-13 10h5m-6-4h5m-13-1h5m-10 7h5m-14-7h5m-9 13h5m-28-4h5m-7 0h5m-25-14h5m-23 13h5m-10 4h5m-9-6h5m-6 5h5m-6-18h5m-10-2h5m-21 16h5m-5-3h5m-8 9h5m-10-20h5m-17 11h5m-16-14h5m-13 19h5m-32-10h5m-7-3h5m-6 7h5m-21 6h5m-9 4h5m-13-11h5m-14-11h5m-10 3h5m-21 13h5m-15 2h5m-19 2h5m-14-6h5m-10-2h5m-6 1h5m-37-8h5m-16 7h5m-16 4h5m-12-8h5m-10-5h5m-33 2h5m-6 6h5m-8 11h5m-8-22h5m-6 7h5m-19 12h5m-3 20h5m15-3h5m-1-13h5m-5 19h5m5-8h5m4-7h5m-3 5h5m11 7h5m27-4h5m-3-9h5m-1 20h5m9-16h5m1 9h5m0 7h5m2-11h5m24 4h5m-3 0h5m-3-5h5m0 3h5m-3-10h5m0 16h5m16-6h5m9-13h5m-2 4h5m-1 11h5m-1 5h5m0-2h5m9-10h5m6 8h5m-1-7h5m-2-6h5m-5 13h5m2-10h5m-3-7h5m2 8h5m-3 5h5m0-9h5m3-2h5m-1 20h5m2 1h5m-2-12h5m28-3h5m-4-7h5m-1 21h5m8-16h5m8-5h5m24 2h5m13 0h5m-5 4h5m-1 6h5m-4-2h5m-2 4h5m-4-10h5m-4 14h5m-4 0h5m-4 1h5m-4-7h5m0 7h5m0 0h5m-3-9h5m-4 8h5m0-15h5m-2 6h5m-5-4h5m-2-1h5m1-2h5m-1 11h5m-1-3h5m5 6h5m-1-4h5m1 6h5m-4-3h5m-5-5h5m17 12h5m-1-3h5m-2-14h5m-5-5h5m-2 0h5m0 8h5m-4-1h5m3-2h5m-3 6h5m-3-6h5m-2 5h5m4-9h5m3 4h5m-3 10h5m-2-9h5m-4-5h5m-4 20h5m-4-19h5m0 10h5m0 4h5m-4-11h5m17 12h5m-2-5h5m4-3h5m-5 10h5m0-15h5m-3 3h5m2 8h5m-1-2h5m2 9h5m0-6h5m7-14h5m18 20h5m-3-4h5m7-4h5m3-4h5m0 5h5m-1 3h5m-4 1h5m-3-14h5m10 13h5m45-9h5m21 1h5m0-9h5m30 14h5m11-9h5m9 11h5m-4-15h5m-1 19h5m-3-1h5m-5-10h5m1-1h5m15 9h5m-10 23h5m-19-2h5m-10 1h5m-10 3h5m-13-3h5m-11-17h5m-6 4h5m-6 9h5m-8-1h5m-16 8h5m-7-1h5m-5 1h5m-11-4h5m-20 4h5m-25-10h5m-60-10h5m-18 7h5m-9 6h5m-16-13h5m-24 9h5m-9 7h5m-5-15h5m-15 5h5m-7 1h5m-17 1h5m-12 13h5m-6-11h5m-7 9h5m-11 2h5m-5-5h5m-16-3h5m-8-5h5m-6 11h5m-17-3h5m-16-4h5m-5 11h5m-13-9h5m-7-7h5m-6 7h5m-18-10h5m-10 16h5m-9-17h5m-5 1h5m-17 13h5m-25-2h5m-6-5h5m-9 2h5m-5 1h5m-13 7h5m-7-3h5m-8 3h5m-9-4h5m-6 6h5m-7-12h5m-10-8h5m-16 2h5m-6 14h5m-7-14h5m-12 10h5m-7-8h5m-6 0h5m-10-4h5m-7 2h5m-9-2h5m-9 0h5m-5 10h5m-8 10h5m-7-9h5m-9-11h5m-6 12h5m-6-2h5m-7-10h5m-6 0h5m-7 18h5m-13-15h5m-6-5h5m-5 14h5m-5-10h5m-9 12h5m-6 6h5m-5 0h5m-7-1h5m-7-2h5m-7-3h5m-11 0h5m-6-13h5m-7 15h5m-7 0h5m-8-15h5m-5 0h5m-6 12h5m-5 6h5m-9 0h5m-7 1h5m-5-12h5m-7 12h5m-5 0h5m-6 0h5m-5 1h5m-8-7h5m-9 6h5m-6-2h5m-7-10h5m-7 2h5m-5 3h5m-6-15h5m-5 21h5m-6-2h5m-5-1h5m-7 2h5m-6-5h5m-9-15h5m-9 11h5m-5 8h5m-7-17h5m-6 4h5m-7 16h5m-6-14h5m-8-6h5m-11 17h5m-20-5h5m-7-7h5m-8-6h5m-10 4h5m-5 12h5m-7 1h5m-7-7h5m-15 10h5m-21-3h5m-9-9h5m-16-5h5m-8 7h5m-9-8h5m-10 1h5m-6 6h5m-9 12h5m-7-13h5m-15-7h5m-9 4h5m-13 7h5m-13-9h5m-7 6h5m-10 5h5m-9-3h5m-14 7h5m-5-11h5m-19-4h5m-5 12h5m-9 5h5m-16-7h5m-14 7h5m-12-2h5m-8-2h5m-11-5h5m-5 4h5m-7 5h5m-6-6h5m-13-13h5m-7 14h5m-8-12h5m-6 11h5m-11-15h5m-12 18h5m-7-12h5m-7 2h5m-13 5h5m-24-5h5m-8 10h5m-14-6h5m-23-8h5m-10-2h5m-19 16h5m-7-11h5m-55 16h5m-5-3h5m-9 2h5m-32 3h5m-4 1h5m-1 4h5m-1 3h5m-3 9h5m-4-12h5m-4 10h5m6 2h5m-5-16h5m9 16h5m-4-10h5m-5 3h5m0 7h5m-3-12h5m-3 2h5m1 10h5m-5 3h5m9-15h5m-1 11h5m-1 1h5m4-15h5m-3 1h5m13 12h5m-4-16h5m-2 21h5m3-11h5m-1 3h5m-2 4h5m15-17h5m-2 18h5m5 1h5m4-18h5m-2 2h5m-1 8h5m-3 1h5m-4 9h5m-2-2h5m-5 2h5m-5-5h5m0-5h5m-4-3h5m-3-4h5m0 14h5m-3 5h5m25-7h5m-1-9h5m-1 0h5m2-3h5m-3 19h5m7-21h5m2 12h5m-4-10h5m-2 12h5m-3-4h5m15-4h5m-5-7h5m4 9h5m-5-1h5m2 7h5m-3 4h5m-3-2h5m-2-8h5m-4 10h5m-4-17h5m-5 11h5m-4-1h5m-4-7h5m-1 17h5m-1-22h5m6 19h5m-4-1h5m-1-8h5m-2-8h5m16 2h5m-4 15h5m-2-15h5m-5 7h5m1-2h5m-1 13h5m-4-20h5m-2 8h5m2 5h5m1-10h5m-4 7h5m-2-1h5m-3-4h5m-4 12h5m-2-11h5m-4-1h5m-1 15h5m-5-21h5m-1 7h5m0 1h5m2 13h5m-4-17h5m-4 4h5m-5 4h5m-2-6h5m1-6h5m-4 9h5m-5 5h5m0-4h5m-5 11h5m-4-19h5m-5 6h5m-4 8h5m-5-4h5m-4-11h5m-4 13h5m-4-3h5m-3-7h5m-4 13h5m-4-6h5m-5-12h5m-4 5h5m-5 4h5m-3 7h5m-1-5h5m-3 1h5m-5-2h5m0-7h5m-1 8h5m0-6h5m4 10h5m-4 0h5m-2-6h5m-2-1h5m-2 3h5m-2 7h5m-5-10h5m-3-8h5m-1-1h5m-2 7h5m0 5h5m-5 9h5m-5-19h5m2 8h5m-2-5h5m-4-3h5m-4 2h5m-5 15h5m-5-12h5m-3 5h5m-3-8h5m-4 10h5m-1 1h5m3-6h5m23 1h5m-5 0h5m-3 5h5m1-4h5m-5-8h5m4 2h5m1 5h5m-1-4h5m-4-1h5m-3 16h5m4-7h5m-3-11h5m-4 5h5m-1 1h5m0-7h5m-2 12h5m5 5h5m-4-14h5m-4-3h5m-5 10h5m-4 3h5m-1 5h5m-5-3h5m-4-13h5m-2 8h5m-4-4h5m-3 0h5m-1 6h5m6 7h5m19-1h5m-3-3h5m-4-7h5m-1-10h5m-3 8h5m-4 2h5m-3-8h5m4 11h5m-4 10h5m-4-1h5m-3-13h5m12-2h5m-1 2h5m-3 0h5m2 4h5m-3-10h5m5 4h5m6-1h5m-2-3h5m-1 8h5m-4 12h5m-1-3h5m-2-16h5m-1 14h5m-2-11h5m1 4h5m-4 3h5m-3 7h5m2-16h5m-4 6h5m3 11h5m2 1h5m13-22h5m19 14h5m22-11h5m2 7h5m1-10h5m6 29h5m-7 2h5m-17 14h5m-14-7h5m-55-5h5m-9 5h5m-19-10h5m-44 17h5m-11-6h5m-29 7h5m-14-4h5m-5-19h5m-12 13h5m-10 3h5m-6 0h5m-11-7h5m-47-8h5m-5 3h5m-5-4h5m-31 9h5m-7 12h5m-21-13h5m-18 9h5m-31-14h5m-8 10h5m-17-11h5m-8 11h5m-6-8h5m-9 5h5m-13 9h5m-6-7h5m-5-1h5m-10 11h5m-24-3h5m-14-9h5m-8 7h5m-6-8h5m-6 12h5m-7-11h5m-12 3h5m-7-12h5m-15 11h5m-7-5h5m-8 8h5m-8 8h5m-10-7h5m-28 3h5m-7-17h5m-6 12h5m-7 6h5m-13-4h5m-6 2h5m-5-2h5m-6-7h5m-5-7h5m-5 2h5m-6 19h5m-8-1h5m-5-20h5m-6 16h5m-7-1h5m-5-3h5m-5-10h5m-6 6h5m-6 10h5m-5-8h5m-6-8h5m-8-4h5m-10 19h5m-5-9h5m-7-9h5m-5 11h5m-14-5h5m-7-5h5m-7 2h5m-8-3h5m-5 12h5m-5 3h5m-8-12h5m-6-3h5m-8 13h5m-8 1h5m-9-7h5m-7 7h5m-9-6h5m-6 13h5m-6-2h5m-8-3h5m-24 0h5m-9-15h5m-6 11h5m-5-4h5m-5 5h5m-12-5h5m-7-4h5m-5 5h5m-6 11h5m-5-5h5m-9 7h5m-19-7h5m-15-3h5m-7-6h5m-5 16h5m-6 0h5m-13 0h5m-6-14h5m-10 0h5m-9-6h5m-12 15h5m-20 0h5m-11 0h5m-18-4h5m-8 5h5m-13-12h5m-7 0h5m-10-7h5m-20 22h5m-10-17h5m-11-5h5m-6 15h5m-7-13h5m-6 9h5m-26 8h5m-8 0h5m-19 0h5m-7 3h5m-7-17h5m-18 11h5m-24 7h5m-7-6h5m-7-2h5m-6-9h5m-10 2h5m-9-7h5m-15 16h5m-16-6h5m-7 10h5m-8-10h5m-10 4h5m-9-5h5m-26 0h5m-12 8h5m-15-2h5m-10-7h5m-5 9h5m-6-2h5m-25 2h5m-7-2h5m-9-7h5m-12 13h5m-8-10h5m-5-11h5m-9 20h5m2 25h5m-3-16h5m2 14h5m28 3h5m-4-5h5m-2-5h5m-2 7h5m1-8h5m-3-3h5m-1 0h5m4 0h5m1 3h5m9 9h5m-4-10h5m8 1h5m3 3h5m-3 5h5m2-5h5m0 0h5m-3-11h5m18-1h5m9 7h5m-4-1h5m1 5h5m4 8h5m0-20h5m0 4h5m0 13h5m9 3h5m-5-2h5m9-3h5m5 2h5m-1-12h5m4-6h5m3 20h5m5-16h5m-2 3h5m9 12h5m-3-18h5m9 12h5m6 1h5m-2 1h5m-3-8h5m-2-5h5m-4 20h5m-2-22h5m-5 3h5m2 4h5m0-2h5m-1 8h5m1-1h5m-4-5h5m-3-7h5m-2 15h5m3-15h5m-1 14h5m-4-7h5m-2 12h5m1-7h5m-5 4h5m-4-14h5m-2 11h5m-2-9h5m6 7h5m5 0h5m16-7h5m-5 2h5m-1 16h5m-4-13h5m-5 0h5m-3 6h5m-4-13h5m-4 11h5m-4-4h5m-5-5h5m1 5h5m-1 13h5m-2-7h5m0-2h5m-5-11h5m-4 8h5m-1-1h5m1 2h5m-1-12h5m7 0h5m-4 16h5m-5-15h5m9 19h5m2-5h5m13-10h5m5 3h5m-4 3h5m-5 1h5m-4-2h5m-4 2h5m17 7h5m49-12h5m-1-7h5m8 16h5m1-11h5m2 11h5m0-2h5m-2 0h5m-5-4h5m2 11h5m3-17h5m-1-1h5m11 8h5m5-3h5m34 4h5m-4 3h5m3 7h5m2-12h5m18-6h5m8 18h5m25 0h5m-2-8h5m3-7h5m6 0h5m-3 11h5m9-1h5m6 5h5m-2-8h5m2 3h5m-2-12h5m-4 0h5m-1 11h5m10-10h5m-13 26h5m-14-5h5m-10 20h5m-74-19h5m-61 13h5m-8-12h5m-9 17h5m-40-15h5m-18-7h5m-15 13h5m-10-5h5m-10 5h5m-14-5h5m-9 7h5m-8-6h5m-20 9h5m-5-12h5m-9 6h5m-9-2h5m-24-6h5m-18 4h5m-19 1h5m-19 14h5m-16-2h5m-7-9h5m-6 10h5m-17-4h5m-6-17h5m-19 2h5m-21 16h5m-5-5h5m-9 1h5m-17-7h5m-5 9h5m-9-15h5m-14 3h5m-6 2h5m-8-2h5m-7 0h5m-5 1h5m-32 10h5m-5-16h5m-6 17h5m-16 1h5m-6-14h5m-7 0h5m-10-4h5m-5 0h5m-6 9h5m-8 1h5m-9 0h5m-5 8h5m-5-7h5m-8 3h5m-15-11h5m-5 3h5m-9 4h5m-17-9h5m-6 1h5m-26 1h5m-8 6h5m-14 1h5m-7-4h5m-11 15h5m-10-20h5m-14 8h5m-9 11h5m-5-19h5m-7-1h5m-9 12h5m-26 2h5m-16 8h5m-5-11h5m-14-6h5m-6-2h5m-8 6h5m-27 10h5m-17-1h5m-11-16h5m-9 15h5m-8-4h5m-10 8h5m-13-7h5m-9 0h5m-5-14h5m-7 21h5m-17-6h5m-18 1h5m-24-4h5m-35 7h5m-7-7h5m-9-6h5m-5 3h5m-18 4h5m-38-5h5m-6 7h5m-22-13h5m-5-1h5m-8 15h5m-9-16h5m-6 12h5m-9-11h5m-7 14h5m-13-7h5m-12 2h5m-7 10h5m-34-19h5m-10 6h5m-16-2h5m-14 7h5m-5 26h5m11-5h5m25 11h5m0-2h5m-4-12h5m-3 11h5m26-7h5m11-1h5m1 8h5m6 0h5m0 6h5m1-13h5m-2 9h5m5-14h5m2 11h5m8 5h5m4-2h5m5 2h5m0-21h5m0 10h5m-1-10h5m-1 3h5m5 10h5m2-9h5m0 16h5m6-13h5m-2-6h5m-3 18h5m10-5h5m12-14h5m1 1h5m-4 13h5m37 6h5m-1-15h5m-3-1h5m5-1h5m-2 14h5m0 1h5m-2 0h5m-3-7h5m0 5h5m5-4h5m-3-6h5m-1-6h5m0 14h5m-2-3h5m-3-4h5m5 12h5m2-19h5m0 19h5m-4-7h5m-4-6h5m-3 1h5m-2 3h5m12-7h5m2-3h5m1 19h5m-4-3h5m1-1h5m4-11h5m1 11h5m-4-7h5m9-3h5m3 12h5m-4-1h5m2-16h5m-4 6h5m-4 4h5m1 9h5m7-18h5m-2 5h5m-4 15h5m-1-4h5m1-5h5m2-9h5m-5-3h5m-3 10h5m3 10h5m10-10h5m0-6h5m2 0h5m-3-4h5m-4 18h5m8-5h5m2 10h5m2-12h5m-2-4h5m-4 7h5m11 6h5m-3-7h5m-1-1h5m-5 4h5m7 0h5m2 7h5m17-9h5m22-14h5m-3 10h5m0-10h5m-2 7h5m-5 11h5m1-3h5m-1-1h5m-5 0h5m4-10h5m-3 12h5m11-7h5m-5 13h5m1-9h5m-4 3h5m16-6h5m39 8h5m17-8h5m-5 3h5m5 8h5m12-5h5m-3-4h5m0-5h5m15 16h5m9-2h5m-16 21h5m-16-1h5m-10-16h5m-23 10h5m-34 5h5m-5 4h5m-6 2h5m-20 1h5m-10-4h5m-7-19h5m-7 4h5m-47 17h5m-10-13h5m-7 13h5m-8-13h5m-7 4h5m-21 7h5m-12-12h5m-15 12h5m-5-7h5m-12-11h5m-6 10h5m-18 1h5m-12 7h5m-11-5h5m-37-13h5m-10 10h5m-12 1h5m-5 1h5m-8-10h5m-17 11h5m-9 5h5m-8 2h5m-11-1h5m-13-5h5m-58 6h5m-12-9h5m-13-12h5m-6 3h5m-13 3h5m-7 9h5m-16-9h5m-6 17h5m-10-15h5m-8 0h5m-6 3h5m-29-7h5m-5 2h5m-13 15h5m-6-2h5m-5-12h5m-8-3h5m-7 11h5m-12-6h5m-11 10h5m-10-10h5m-6 11h5m-5-7h5m-13-8h5m-6-3h5m-21-2h5m-9 13h5m-11 9h5m-7-4h5m-11-2h5m-16 6h5m-8-12h5m-12 13h5m-6-13h5m-16 6h5m-7-16h5m-18 3h5m-9 1h5m-5-4h5m-7 11h5m-6-1h5m-16-2h5m-10-5h5m-5-2h5m-6 6h5m-8 13h5m-10-1h5m-19-2h5m-9 5h5m-17-11h5m-31 8h5m-8-11h5m-7 4h5m-9-6h5m-5 15h5m-16 0h5m-8-17h5m-33 17h5m-15 0h5m-14-13h5m-6 3h5m-8 12h5m-19-21h5m-8 19h5m-12-12h5m-8-7h5m-12 3h5m-10 5h5m-10-10h5m-31 5h5m-9 18h5m-8-1h5m-21-9h5m-13-6h5m-46 10h5m-11-4h5m-16 4h5m-19-4h5m-25 5h5m-2 27h5m-4-8h5m15-8h5m2-3h5m-3 19h5m-2-16h5m-1 6h5m-1 11h5m-4-2h5m0-16h5m6 2h5m4-5h5m-2 18h5m4-9h5m3-1h5m5-6h5m0 5h5m-3-6h5m2 16h5m-1-8h5m6 2h5m-2-10h5m11 10h5m38 3h5m-1-13h5m14 21h5m4-12h5m1 6h5m-5-14h5m-2 13h5m5-10h5m12 6h5m2-4h5m5 12h5m1-19h5m1 16h5m10 0h5m-2-8h5m-2 9h5m0-7h5m2 11h5m6-1h5m-4-5h5m0-9h5m5 1h5m7 8h5m-2-3h5m-5 4h5m4 3h5m19-7h5m1-5h5m-4 10h5m-4-14h5m-4 19h5m1-15h5m-5-2h5m0 17h5m0-22h5m10 6h5m-3 15h5m-2-3h5m0-6h5m7 3h5m9-1h5m-2 3h5m-4-16h5m-2 3h5m-3 12h5m-1-4h5m-4 8h5m-2-19h5m-5 0h5m5 9h5m-2 12h5m1-4h5m-3-8h5m-2-6h5m-2-4h5m-5 19h5m6-11h5m1 7h5m5-16h5m4 13h5m1 0h5m8-5h5m5-8h5m-1 10h5m3 0h5m2 7h5m0 0h5m-2 1h5m9-15h5m0 5h5m21-1h5m4 13h5m2-5h5m45 5h5m2-1h5m-4-19h5m15 15h5m23-4h5m4 11h5m0-1h5m-4-4h5m6-17h5m4 21h5m-1-12h5m23-7h5m-2 4h5m-1 15h5m18-17h5m16 4h5m-11 29h5m-17-11h5m-9-2h5m-8 4h5m-40 6h5m-30 7h5m-44-16h5m-21 8h5m-5-7h5m-8 7h5m-13-4h5m-7 13h5m-16-2h5m-21 2h5m-49-10h5m-9 13h5m-23-15h5m-14 16h5m-14-13h5m-19 8h5m-20 2h5m-5-18h5m-9 1h5m-35 9h5m-10 3h5m-10-5h5m-10 4h5m-7 9h5m-15-18h5m-11-2h5m-12 3h5m-18 16h5m-14-10h5m-16 7h5m-14-7h5m-6-2h5m-5-5h5m-19 12h5m-8 7h5m-10-6h5m-19-14h5m-9 15h5m-9-8h5m-11-2h5m-7 6h5m-7-8h5m-6-1h5m-11 10h5m-15-11h5m-6 10h5m-6 8h5m-8-20h5m-5 8h5m-6-2h5m-12-3h5m-11 17h5m-10 1h5m-19-23h5m-8 2h5m-6 1h5m-10-1h5m-16-2h5m-8 23h5m-16-16h5m-5 14h5m-6-20h5m-9 22h5m-28 0h5m-24-1h5m-8-9h5m-12 7h5m-12 0h5m-10-6h5m-8 6h5m-22-9h5m-7 2h5m-6 1h5m-6-3h5m-14 4h5m-7-14h5m-5 5h5m-6 5h5m-7-7h5m-21 0h5m-17 3h5m-33 6h5m-5 0h5m-8-5h5m-16 3h5m-6-4h5m-9 15h5m-6-5h5m-7-16h5m-10 21h5m-24-15h5m-23 9h5m-15 2h5m-12-17h5m-8 20h5m-6-19h5m-21 20h5m-25-7h5m-13-2h5m-21 2h5m-9-1h5m-8 8h5m-28-17h5m8 27h5m0 1h5m14 6h5m7-4h5m1-3h5m29-4h5m3 19h5m5-6h5m17-9h5m-1 13h5m-4-9h5m18-8h5m3 18h5m6-5h5m34 3h5m-5-10h5m5-3h5m-4-1h5m3 5h5m4-6h5m7 5h5m-3 4h5m-4-10h5m-3 6h5m1 9h5m-3 3h5m20-12h5m7 1h5m-1-1h5m-3-10h5m-3 15h5m10 7h5m-3-4h5m-4-16h5m2 6h5m-4-5h5m21 12h5m17 5h5m0-7h5m-5 7h5m22-4h5m2-1h5m-3-14h5m1 6h5m6 7h5m-2-12h5m-3 2h5m-2-3h5m-1 3h5m-3-2h5m5 10h5m24 8h5m5-8h5m4-3h5m62-7h5m30 21h5m-2-14h5m9 11h5m-3-7h5m-2 6h5m-1-4h5m26-5h5m-4-10h5m7 16h5m-4-6h5m7-2h5m21-1h5m22 4h5m29-8h5m-5 15h5m29 2h5m1-19h5m3 3h5m15 0h5m41-3h5m-65 42h5m-20-15h5m-13 13h5m-55-14h5m-35 3h5m-10 11h5m-22-14h5m-33 4h5m-9 2h5m-8 14h5m-11-20h5m-48 1h5m-11-1h5m-12 2h5m-14 0h5m-5 15h5m-12-17h5m-19-1h5m-11 6h5m-6 4h5m-11 11h5m-6-10h5m-10-6h5m-6 16h5m-10-7h5m-7-10h5m-9-5h5m-23 11h5m-35 3h5m-7 7h5m-18-15h5m-17 15h5m-23-18h5m-17 14h5m-5-7h5m-15-6h5m-8 8h5m-15 4h5m-19-9h5m-14 15h5m-14-7h5m-10 2h5m-30-18h5m-14 8h5m-17 13h5m-9-14h5m-7 16h5m-6-15h5m-12 6h5m-9-3h5m-7 4h5m-10-6h5m-11 6h5m-10-13h5m-6 20h5m-9-4h5m-9-16h5m-74 20h5m-13-22h5m-5 19h5m-39 4h5m-6-10h5m-12-4h5m-9 6h5m-26 8h5m-14-4h5m-8-7h5m-13-4h5m-17-6h5m-16 1h5m-5-3h5m-13 8h5m-20 12h5m-17-2h5m-16-14h5m-27 10h5m-6 3h5m-35-11h5m-27 19h5m44 0h5m9 11h5m21-3h5m15 14h5m-1-10h5m32-9h5m10 5h5m-1 13h5m37-22h5m31 12h5m35-5h5m3 10h5m24 2h5m24-14h5m9 10h5m-2 8h5m-4-22h5m4 8h5m-2-1h5m7 10h5m-3-10h5m6-2h5m0 9h5m0-6h5m-5 2h5m-3 4h5m-3 4h5m-4-18h5m-4 11h5m0-11h5m24 3h5m-2 6h5m7 8h5m-1-11h5m38 11h5m1-13h5m-3-3h5m55 13h5m-4-10h5m2 8h5m21 3h5m21-9h5m5 11h5m0 5h5m1-9h5m11 0h5m31-9h5m3 4h5m-1-8h5m-4 9h5m7-9h5m9 15h5m4-5h5m31 0h5m3-1h5m7-10h5m2 8h5m12 6h5m2-1h5m-24 18h5m-47-3h5m-24-4h5m-22 12h5m-20 10h5m-13-21h5m-30 17h5m-7-10h5m-14-8h5m-28 21h5m-45 1h5m-14-11h5m-11 10h5m-6-21h5m-8 6h5m-12 3h5m-6-9h5m-5 7h5m-5-5h5m-6-2h5m-6 20h5m-28-10h5m-6 9h5m-19-10h5m-8 5h5m-10-14h5m-15 7h5m-18 3h5m-16-4h5m-51-6h5m-6 6h5m-9-6h5m-6 2h5m-7 5h5m-11-2h5m-22-4h5m-10 16h5m-8-6h5m-17 1h5m-6 7h5m-10-8h5m-7 4h5m-31-12h5m-13 4h5m-21-5h5m-11 2h5m-18-1h5m-8 18h5m-6-14h5m-6 3h5m-7 13h5m-16-7h5m-10-8h5m-6 0h5m-7-7h5m-5 14h5m-5-8h5m-6 5h5m-6-7h5m-10 2h5m-5-1h5m-13-6h5m-6 22h5m-7-3h5m-32-9h5m-6-7h5m-20 10h5m-6-12h5m-8-1h5m-24 7h5m-8 1h5m-48 2h5m-13 13h5m-11-9h5m-20 0h5m-7-12h5m-10 2h5m-7 15h5m-10 2h5m-8-13h5m-11-4h5m-12 9h5m-20 6h5m-5-7h5m-23 4h5m-7 1h5m-14 0h5m-58-2h5m-35 3h5m-13-12h5m-5-5h5m-12-1h5m12 43h5m34-17h5m-2 9h5m-4-7h5m-1 19h5m1 0h5m-4 0h5m25-20h5m4 12h5m-1-12h5m-5 1h5m1 17h5m-1-15h5m9-1h5m-1 7h5m1 1h5m16-10h5m-3 5h5m-1 9h5m73 4h5m34-15h5m25 5h5m14-10h5m-3 3h5m-4 0h5m-1 4h5m-5 4h5m-1-2h5m-4-1h5m-4 12h5m3-7h5m14-2h5m0-8h5m-2-4h5m10 20h5m-4-13h5m0 5h5m-2 3h5m16-15h5m-4 20h5m-3-8h5m2 6h5m14 4h5m10-9h5m-3-9h5m-1 12h5m21-13h5m28 12h5m5 4h5m16-16h5m15-1h5m1 12h5m4 8h5m15-12h5m-3 11h5m19-5h5m-2-10h5m1 13h5m10-5h5m13-10h5m14-1h5m26 8h5m11-7h5m-41 24h5m-22 7h5m-17 8h5m-7-14h5m-13 7h5m-13-5h5m-20 8h5m-6 5h5m-32-16h5m-21 12h5m-5-12h5m-49 15h5m-10 3h5m-12 0h5m-7-11h5m-30-11h5m-44 8h5m-14 13h5m-6-1h5m-24 2h5m-33-9h5m-14 1h5m-8-10h5m-12 13h5m-11 3h5m-12-11h5m-13-1h5m-10 5h5m-14 3h5m-12-11h5m-7 0h5m-8 3h5m-12-8h5m-7 11h5m-6-8h5m-15 8h5m-9 4h5m-16-11h5m-13 19h5m-19 0h5m-15-5h5m-21-8h5m-17 9h5m-8-19h5m-7 10h5m-12-8h5m-93 8h5m-14-1h5m-29 9h5m-17-11h5m-9 8h5m-23-5h5m-5-5h5m-10 12h5m-7-3h5m-6-4h5m-6 1h5m-14 10h5m-12-3h5m-9 1h5m-20-13h5m-15-3h5m-14 1h5m-24 4h5m-31 0h5m-7 13h5m-6 22h5m0-1h5m1-18h5m5 13h5m6-6h5m-2 0h5m4 5h5m-4 1h5m9 2h5m3-2h5m4-5h5m-3 7h5m2 2h5m15-9h5m8 4h5m-5 3h5m2-7h5m4 7h5m18-15h5m22 5h5m6 7h5m62-6h5m29 11h5m7 4h5m-3-5h5m4-5h5m2-11h5m18 3h5m7 2h5m-4-1h5m5 4h5m-4 8h5m0-11h5m11 4h5m-1 13h5m10-4h5m-4-12h5m4 15h5m-2-21h5m-2 14h5m30-9h5m29-5h5m55 8h5m17 10h5m38-17h5m-3 13h5m11-8h5m28-6h5m19 16h5m33-13h5m2 28h5m-60-4h5m-11-1h5m-10 7h5m-25-5h5m-26 3h5m-28 5h5m-23 5h5m-25-6h5m-10 6h5m-44-10h5m-30 0h5m-13 1h5m-8 1h5m-15-7h5m-18 2h5m-24 8h5m-17-11h5m-8 2h5m-39 9h5m-16-12h5m-19 16h5m-17-9h5m-18 3h5m-14 0h5m-40-4h5m-7-4h5m-23 13h5m-19-11h5m-43 12h5m-14-12h5m-20 1h5m-25 7h5m-5-8h5m-7-4h5m-50 7h5m-30 3h5m-30-7h5m-20 2h5m-10 3h5m-20 7h5m-21-2h5m-11 1h5m-6-2h5m-28-5h5m-9-6h5"/><path class="d2" transform="scale(0.25)" d="M1000 38h5m-21-1h5m-9 10h5m-46 0h5m-9-4h5m-5 1h5m-7-12h5m-11 2h5m-8-5h5m-18 18h5m-47-18h5m-6 6h5m-18 10h5m-38-10h5m-29 12h5m-51-14h5m-26 1h5m-16 13h5m-64-16h5m-26 3h5m-43-7h5m-13 2h5m-42 2h5m-53 8h5m-80 6h5m-6 1h5m-26-14h5m-18-3h5m-15 9h5m-24-7h5m-13 3h5m-10 3h5m-52 1h5m-21 1h5m-8 4h5m-29 1h5m-8 2h5m-6-3h5m-48 23h5m0-11h5m8 10h5m28-16h5m-4 3h5m-5 11h5m20-3h5m2-10h5m4 21h5m-1-3h5m16 0h5m3-3h5m23 0h5m7 3h5m14-13h5m9 15h5m-2-16h5m-4 13h5m13-8h5m3 11h5m2-20h5m-2-1h5m10 15h5m2 2h5m14-1h5m-4-5h5m10-12h5m16 6h5m2 14h5m0 3h5m-3-11h5m0 7h5m13-8h5m4 1h5m-2-12h5m14 3h5m6 11h5m11 8h5m0-9h5m-1-11h5m4 19h5m0-9h5m16-3h5m4-5h5m36 13h5m32-6h5m-1 0h5m36 12h5m67-1h5m-1-21h5m-4 11h5m-4 1h5m-3 5h5m0-2h5m35-10h5m6 13h5m12-9h5m12-7h5m0-3h5m3 5h5m15 14h5m4-9h5m3 30h5m-14 3h5m-36-15h5m-11-4h5m-13 17h5m-30-3h5m-59 1h5m-7-10h5m-65 16h5m-155-11h5m-17 7h5m-12-13h5m-10 4h5m-15 13h5m-31-3h5m-13-10h5m-10 8h5m-20-2h5m-5 5h5m-9-7h5m-7 4h5m-8-2h5m-14 0h5m-7-14h5m-6 21h5m-8-8h5m-17-3h5m-6 11h5m-9-10h5m-8 1h5m-6 7h5m-25-1h5m-14-4h5m-26-8h5m-9-3h5m-9 16h5m-5-16h5m-19 19h5m-19-1h5m-7-8h5m-6 4h5m-12-3h5m-10 7h5m-32-10h5m-9 7h5m-6-18h5m-8 3h5m-8-2h5m-25 19h5m-30-20h5m-6 6h5m-8 14h5m-15-7h5m-5 7h5m-35-1h5m-20-14h5m-11 1h5m-10 3h5m-5-4h5m-6 3h5m-6 7h5m-23-10h5m-14 7h5m-8-8h5m-20 19h5m-5-14h5m-20-8h5m-12 12h5m-27-5h5m-13 4h5m-5 21h5m0 8h5m3-12h5m15-4h5m4 6h5m-1-5h5m-4 6h5m-3-5h5m8 9h5m-3-4h5m-4-8h5m11 10h5m-2 8h5m0-4h5m-1-8h5m-5 12h5m-1-13h5m23 18h5m-4-13h5m-1 4h5m0 1h5m6-11h5m19 16h5m-4-11h5m1 12h5m12-7h5m1 2h5m-3 5h5m5-10h5m4 10h5m6-14h5m3 14h5m-3-18h5m3 8h5m-1 4h5m-5 5h5m-5-2h5m-3 2h5m-2-17h5m-5 15h5m1 5h5m4-10h5m-3 6h5m-4-13h5m32 10h5m-2 4h5m-3-8h5m-2 6h5m-3 3h5m9-15h5m8 7h5m13-9h5m-2 10h5m-3 1h5m-4 0h5m-3 3h5m-4-16h5m-4 21h5m5-9h5m0-4h5m-5-1h5m-5 4h5m-4-5h5m-5 3h5m17-7h5m-3 5h5m-5 3h5m21-5h5m2 8h5m-4 6h5m29-5h5m29-16h5m53 16h5m21-15h5m13 15h5m-5 1h5m0-4h5m33 1h5m-2-6h5m14-5h5m12 7h5m3 0h5m55 6h5m3-5h5m-4 4h5m1 5h5m14-11h5m8-5h5m1 9h5m-34 24h5m-21-6h5m-15-6h5m-10 6h5m-8-5h5m-30 6h5m-23-8h5m-25 1h5m-7 19h5m-13-9h5m-44 2h5m-12 5h5m-6-6h5m-45 7h5m-10-18h5m-37 7h5m-11-4h5m-14-1h5m-29 8h5m-26 1h5m-11-3h5m-7 8h5m-9 5h5m-18-16h5m-9 1h5m-14 6h5m-17-6h5m-10 10h5m-14 4h5m-7-9h5m-11 3h5m-9 6h5m-7-9h5m-10 6h5m-16-13h5m-30 13h5m-6-3h5m-10 6h5m-10-3h5m-11-4h5m-13-2h5m-6 7h5m-26 1h5m-7 0h5m-9-15h5m-8 15h5m-10-17h5m-7 16h5m-11-13h5m-28-6h5m-37 11h5m-13-10h5m-6-1h5m-9 21h5m-13-20h5m-5 18h5m-7 4h5m-7-13h5m-7-10h5m-17 16h5m-5-16h5m-11 15h5m-9-3h5m-20-1h5m-9-4h5m-10 11h5m-6-15h5m-7 18h5m-7-3h5m-8-7h5m-26 7h5m-11-13h5m-18 12h5m-21 3h5m-12 1h5m-7 2h5m-5-22h5m-10 20h5m-6-5h5m-6-15h5m-16 19h5m-5-1h5m-15-6h5m-6-1h5m-6 0h5m-16-12h5m-33 8h5m-18 0h5m-20-7h5m-19 0h5m-6 0h5m-6 19h5m-5-5h5m-25-6h5m-6-5h5m-5-4h5m-22 10h5m-15 6h5m-10 22h5m-4-11h5m-5 4h5m-3 14h5m-1-8h5m9 3h5m1 7h5m15-3h5m-4-13h5m4-1h5m-3 5h5m15 6h5m8 6h5m6-12h5m6 11h5m-3-2h5m-4-6h5m-3 6h5m6-5h5m-3-5h5m-4 12h5m-4-4h5m-5 2h5m1 2h5m0-19h5m-4-1h5m3 20h5m-5-8h5m-1-9h5m7-3h5m-3 15h5m4-5h5m20-8h5m3-3h5m0 4h5m-4 15h5m19 1h5m-4-2h5m-3-4h5m3 2h5m0-9h5m0 0h5m-4 10h5m-5-6h5m-4 6h5m-4 5h5m-2 0h5m1-21h5m-4 20h5m-5-5h5m4-13h5m-4 4h5m15 14h5m0-22h5m-4 12h5m0 5h5m8-1h5m3-7h5m8 12h5m-1-11h5m-3 5h5m-2-3h5m-2 3h5m5 6h5m-3-21h5m10 15h5m0-5h5m-4-3h5m34 4h5m4-2h5m-3-7h5m-4 16h5m-4-14h5m-4-1h5m-4 9h5m-1-1h5m0-7h5m0 15h5m-5 1h5m-4 0h5m6 1h5m-2-13h5m-4 13h5m2-20h5m-3 17h5m3 5h5m5-1h5m2-20h5m1 9h5m-4 4h5m-4-11h5m-3 5h5m-3 2h5m7-6h5m23-5h5m22 4h5m-5 13h5m-4-8h5m1 2h5m3 10h5m25-16h5m21 11h5m-5 2h5m15-18h5m-5 9h5m8-3h5m9-6h5m-4 20h5m-4-7h5m61 8h5m23-10h5m5-1h5m12 1h5m5 7h5m21-16h5m1 19h5m-4-15h5m-28 22h5m-7-2h5m-7 1h5m-17 9h5m-26-10h5m-11 8h5m-6 13h5m-49-12h5m-19-1h5m-92 5h5m-24-2h5m-54-1h5m-18 7h5m-15-7h5m-7-12h5m-8 20h5m-6-20h5m-9 14h5m-10-7h5m-6-5h5m-5 16h5m-14-7h5m-13 4h5m-7-7h5m-7 12h5m-10 2h5m-22-16h5m-11-5h5m-11 9h5m-5 12h5m-8-13h5m-17 1h5m-6 11h5m-19 0h5m-11-12h5m-8-8h5m-10 5h5m-11 12h5m-7 4h5m-8-10h5m-6-5h5m-8-7h5m-11 19h5m-6 3h5m-5-19h5m-27 15h5m-8-15h5m-9 19h5m-6-20h5m-23 8h5m-9 3h5m-7-1h5m-20 0h5m-10-12h5m-12 19h5m-19 4h5m-16-5h5m-13-13h5m-7 8h5m-5 5h5m-17-17h5m-9 2h5m-8-3h5m-8 10h5m-21 5h5m-15-6h5m-6 11h5m-10 3h5m-5-16h5m-7 4h5m-7 12h5m-6-7h5m-6-6h5m-12 5h5m-5-10h5m-6 12h5m-6-1h5m-6 4h5m-6-9h5m-8 5h5m-15-16h5m-5 22h5m-6-22h5m-6 23h5m-10-4h5m-10-13h5m-11-6h5m-12 4h5m-6-1h5m-7 3h5m-9-2h5m-10 1h5m-14 3h5m-8-3h5m-15 14h5m-9-16h5m-33 7h5m-23-4h5m-6-4h5m-18-2h5m-5 7h5m-6 14h5m-10-18h5m-5 2h5m-8 6h5m-7 4h5m-7 3h5m-6-15h5m-7 2h5m-5 12h5m-11-5h5m-18-2h5m-5 3h5m-7 5h5m-8-17h5m-6 22h5m-9-17h5m-5 8h5m-9-4h5m-14-7h5m-12 11h5m-7-3h5m-22-11h5m-7 5h5m-13 17h5m-20-22h5m-6 23h5m-14-21h5m-9 3h5m-17 20h5m11 18h5m0-19h5m15 19h5m2-12h5m-1-5h5m-3 14h5m11-6h5m-2 1h5m-5-3h5m1 12h5m-4-3h5m12-15h5m-4 17h5m43-6h5m13-12h5m2 9h5m6 2h5m-4 0h5m-1-2h5m-2-8h5m25 21h5m4-17h5m5 11h5m-2-17h5m-1 11h5m-1-2h5m-2-7h5m-1-1h5m-3 2h5m-3 2h5m-5 6h5m-4 5h5m-5-12h5m-5 14h5m-1 5h5m-2-16h5m-1 13h5m4 1h5m-3-14h5m-5-7h5m-2 0h5m-5 9h5m-2-4h5m-3 15h5m-5-11h5m-4 9h5m-2-8h5m-3 0h5m-5-8h5m-3 14h5m-3-5h5m-3 10h5m-5-13h5m-4 3h5m-2 4h5m0 6h5m2 0h5m-5-9h5m-4-10h5m-5 21h5m-3-7h5m-3-13h5m-4 0h5m-2 13h5m-4 3h5m-5-18h5m-2-1h5m-3 13h5m-1-13h5m-5 14h5m-5-7h5m-4 14h5m2-7h5m-5-13h5m9 9h5m-5 3h5m0-1h5m-2-3h5m-4 0h5m6 12h5m-4-18h5m3 8h5m-4-7h5m-3 0h5m-1 12h5m-4-3h5m-1 0h5m3-11h5m-5 5h5m-3 15h5m-1-10h5m-4-6h5m-2 8h5m14 5h5m-3-19h5m-5 11h5m-1-9h5m-4 1h5m-3 6h5m-4-6h5m-2 5h5m2 7h5m-5-7h5m5 8h5m2 7h5m4-13h5m10 4h5m-4-4h5m-3 11h5m-2-17h5m2-2h5m3 20h5m-2-13h5m-2 8h5m-1 4h5m-4-9h5m7-2h5m2-1h5m-5 1h5m-4-10h5m5 9h5m28 4h5m2 4h5m-1 4h5m18-11h5m5-1h5m-3 0h5m13-1h5m5 13h5m3-6h5m7 5h5m1-17h5m12 15h5m31-12h5m-4 16h5m50-20h5m8 11h5m7-10h5m-1-1h5m3 13h5m39-1h5m1-4h5m2 19h5m-17 12h5m-21-13h5m-17 14h5m-12-3h5m-12-13h5m-15 18h5m-66-10h5m-40-8h5m-18 19h5m-13-14h5m-35 7h5m-33 4h5m-12 1h5m-38 3h5m-14-8h5m-8-9h5m-6 1h5m-12 14h5m-16-17h5m-13 6h5m-16 2h5m-9-3h5m-13-1h5m-35 2h5m-6 6h5m-9-1h5m-5 5h5m-10-4h5m-8-10h5m-7-1h5m-10 11h5m-8-11h5m-13 3h5m-6 8h5m-14-2h5m-6-9h5m-7 18h5m-12-1h5m-5-8h5m-9-6h5m-10 8h5m-14 7h5m-17-7h5m-6 0h5m-11-7h5m-17 12h5m-10-10h5m-5 0h5m-7 7h5m-12 5h5m-9-15h5m-6 0h5m-13 9h5m-15 6h5m-8-16h5m-5 1h5m-7 7h5m-8 8h5m-6-18h5m-6 5h5m-7 13h5m-8-13h5m-15 13h5m-7-1h5m-5-6h5m-9 1h5m-5 6h5m-9 0h5m-5-14h5m-5-3h5m-9 13h5m-6-18h5m-7 18h5m-11-6h5m-9-2h5m-6-7h5m-10 0h5m-6 11h5m-13-14h5m-8 20h5m-9 1h5m-6 0h5m-13-6h5m-15-6h5m-5 8h5m-7 4h5m-5-18h5m-7 4h5m-5 4h5m-11-8h5m-15 8h5m-9-4h5m-10-7h5m-7 4h5m-10 15h5m-5-5h5m-13-3h5m-11-9h5m-10 6h5m-10-1h5m-6 11h5m-12-13h5m-21 3h5m-7 7h5m-18-6h5m-5-1h5m-10-2h5m-6-3h5m-28 10h5m-16 8h5m-14-16h5m-8-4h5m-16 14h5m-8 8h5m-8-15h5m-9-1h5m-14 9h5m-21 6h5m-16-14h5m-15 4h5m-32-12h5m-5 6h5m-20 3h5m-6-7h5m-7 10h5m-7-1h5m-8-5h5m-6 17h5m-7-22h5m-8 13h5m-34 5h5m-2 18h5m-2-9h5m4 8h5m-5 7h5m-2-2h5m-1-1h5m7 4h5m10-6h5m-4-8h5m-3 4h5m-4 3h5m-1 8h5m12 0h5m-5-5h5m-4-13h5m6 10h5m-4-4h5m-1-7h5m9-1h5m11 16h5m-4 6h5m6-1h5m10-5h5m9 0h5m-5-9h5m-2-5h5m0 11h5m-2 4h5m-4-16h5m-5 1h5m4 2h5m-4-5h5m2 15h5m2 7h5m-2-18h5m3 19h5m-4-14h5m-3 5h5m-4 2h5m8-6h5m-1 4h5m0-12h5m13 17h5m3-11h5m-4 9h5m7-16h5m1 3h5m5 15h5m-2 3h5m-4-12h5m-2-6h5m-4 15h5m-2-13h5m3-6h5m0 9h5m8-2h5m-1 12h5m9-7h5m-1-5h5m-5 11h5m-4-6h5m-1 2h5m-3-4h5m2-3h5m-5 2h5m-2 4h5m-4-6h5m2 11h5m-5-6h5m0 4h5m-4 1h5m-3 0h5m5-15h5m0 10h5m5-10h5m3 21h5m6-12h5m-1 6h5m1-12h5m2 10h5m2 5h5m-1 0h5m7 3h5m5-18h5m-4 16h5m-3-7h5m-3-14h5m0 9h5m-3-5h5m-1 18h5m-2-16h5m-3 8h5m-3 4h5m-2-15h5m-3 7h5m-1 7h5m0-11h5m2 5h5m-2-4h5m-4 14h5m-4-11h5m-3 1h5m-3 0h5m-2-5h5m0 15h5m6-10h5m0 1h5m-2 11h5m1-15h5m-3 5h5m-2 5h5m-5-1h5m-1-4h5m-5 5h5m-3-16h5m2 21h5m18-5h5m7-17h5m-4 13h5m-2-1h5m9-9h5m2 0h5m-4 18h5m-2-20h5m-3 0h5m28 8h5m6 0h5m3-10h5m1 21h5m10-7h5m-2-8h5m5 13h5m4-15h5m0 5h5m-2 4h5m10-1h5m2 8h5m4 2h5m20-4h5m-5-1h5m9 0h5m29-6h5m12-1h5m29 22h5m-34-8h5m-13 11h5m-18-2h5m-25 4h5m-12 2h5m-15-1h5m-9 2h5m-30 2h5m-5 2h5m-18 2h5m-20 1h5m-24-21h5m-6-1h5m-23 11h5m-7 5h5m-25-12h5m-8 5h5m-6-7h5m-28 19h5m-25-13h5m-22 10h5m-10-13h5m-16 10h5m-21-7h5m-11 4h5m-14-8h5m-9 4h5m-13-3h5m-19 1h5m-12-3h5m-7 18h5m-18-20h5m-8 16h5m-6 3h5m-11-13h5m-6 12h5m-12-9h5m-6 9h5m-6-14h5m-13 5h5m-13-2h5m-7 12h5m-5-9h5m-9-8h5m-8 3h5m-7 8h5m-12-9h5m-5 13h5m-14-4h5m-6 7h5m-8-16h5m-13 12h5m-7-14h5m-11 9h5m-12-10h5m-14 6h5m-18 12h5m-8-19h5m-6 10h5m-9-2h5m-10 10h5m-7 1h5m-11-17h5m-8 6h5m-11 0h5m-8 2h5m-9-10h5m-5 1h5m-9 0h5m-7 9h5m-6-7h5m-7-4h5m-7 1h5m-6 20h5m-7-10h5m-8-6h5m-10 1h5m-14-5h5m-8 14h5m-11-14h5m-7 20h5m-17-6h5m-15-7h5m-10-4h5m-7 3h5m-9-4h5m-12 18h5m-28-11h5m-9-2h5m-13-3h5m-8 3h5m-31 10h5m-12-9h5m-20-8h5m-13-2h5m-13 5h5m-6-4h5m-8 14h5m-14-2h5m-13-12h5m-6 10h5m-10-10h5m-13 19h5m-7-10h5m-10-3h5m-9 8h5m-53 8h5m-5-7h5m-6-13h5m-10 11h5m-8-1h5m-7 2h5m-8-4h5m-8 5h5m-32 6h5m-7 0h5m-13-14h5m-5 15h5m-9-9h5m-12-7h5m-12 7h5m-6-11h5m-7 16h5m-8-4h5m-29 8h5m-10-21h5m-10 6h5m-13 20h5m-4-3h5m0 20h5m0-10h5m-5 6h5m-4-11h5m4 13h5m0-16h5m9-1h5m-1 14h5m-2-7h5m9 11h5m-5-8h5m9 0h5m5-3h5m-5-5h5m2 6h5m4 11h5m-1-1h5m4-9h5m-1-11h5m-4 14h5m-4-14h5m6 6h5m6 17h5m-3-6h5m23 2h5m11-14h5m3 7h5m0 0h5m7-1h5m-4-7h5m3 18h5m-2-5h5m-3-5h5m5-7h5m2 17h5m-2-16h5m-5 12h5m18-10h5m-4 7h5m-4 7h5m-3-6h5m-4 2h5m-4-12h5m-2 12h5m-3-9h5m2 9h5m3-4h5m-4 8h5m2-22h5m0 17h5m5 1h5m8-15h5m0-2h5m-1 17h5m-4 2h5m8-8h5m1 6h5m5 3h5m-3-11h5m3 1h5m16-11h5m15 8h5m-2-6h5m-4 16h5m7-15h5m1 6h5m2-6h5m-5 12h5m0-10h5m-4 10h5m-2-5h5m-4-5h5m-1 0h5m-4 4h5m2 12h5m-2-7h5m0 9h5m-4-7h5m-4-13h5m-4-1h5m1 16h5m17-5h5m0-2h5m-4-1h5m7 11h5m2-8h5m1-11h5m-4 17h5m7 0h5m3 1h5m-1-6h5m-3 9h5m-4-18h5m-5 17h5m-3-11h5m-1-1h5m-5 11h5m2-21h5m0 12h5m5 5h5m15-5h5m5-12h5m11 7h5m-1-4h5m-2 4h5m5-5h5m13-1h5m-3 0h5m-3 16h5m2-10h5m-5 1h5m0 7h5m-2-2h5m-1-2h5m3-8h5m2 20h5m-3-5h5m0-9h5m0-7h5m21 6h5m14 14h5m-3-16h5m-3 10h5m-4 2h5m14-14h5m1 3h5m5 8h5m3-10h5m25 15h5m6-9h5m17 3h5m5-13h5m9 16h5m-11 7h5m-10 10h5m-13 1h5m-33 4h5m-9-7h5m-12-2h5m-22 3h5m-8 1h5m-8 7h5m-10 6h5m-14-3h5m-8-10h5m-33 12h5m-7-4h5m-6-11h5m-13-1h5m-16 11h5m-7-16h5m-12 16h5m-46-3h5m-9-11h5m-7 20h5m-6-3h5m-6-8h5m-6 11h5m-6-8h5m-9-4h5m-9-11h5m-5 13h5m-9 9h5m-12-1h5m-16-9h5m-9 1h5m-16 9h5m-28-17h5m-5-2h5m-30 17h5m-5-18h5m-9 14h5m-10-5h5m-7-9h5m-18 12h5m-11 6h5m-10-19h5m-14 1h5m-9 7h5m-21-1h5m-7-3h5m-6 8h5m-8-4h5m-9 13h5m-6-5h5m-11 3h5m-7-20h5m-7 3h5m-12 17h5m-5 0h5m-6-8h5m-9-10h5m-13 20h5m-11-5h5m-10-17h5m-5 8h5m-6 15h5m-7-6h5m-8 3h5m-9-5h5m-9 4h5m-5-11h5m-5 14h5m-6-13h5m-7 9h5m-6 0h5m-7-6h5m-5 1h5m-5 9h5m-6 1h5m-8-18h5m-7 17h5m-8-20h5m-10 4h5m-5-6h5m-6 4h5m-13 7h5m-5 11h5m-10-4h5m-6-17h5m-7 3h5m-5 6h5m-6 3h5m-27 4h5m-7-10h5m-13 1h5m-7 15h5m-22-13h5m-14 2h5m-9 6h5m-6-4h5m-5 5h5m-16-4h5m-6-9h5m-9 14h5m-28-4h5m-10-15h5m-51 15h5m-9 0h5m-11 2h5m-6 3h5m-7-5h5m-46-11h5m-7 0h5m-13 10h5m-18 4h5m-7 3h5m-10-14h5m-11-7h5m-7 3h5m-9 13h5m-14-4h5m-5-12h5m-10 8h5m-8-1h5m-11 10h5m-9-14h5m-33 4h5m-20 7h5m-9-14h5m-10 11h5m-6 8h5m-5-10h5m-10-1h5m-8-8h5m-6 17h5m-6 2h5m-15-14h5m-6-6h5m-12 9h5m-10 2h5m-13 3h5m-11-10h5m-20-3h5m-5 14h5m-18 6h5m-14-9h5m-7 6h5m-6-15h5m-5-3h5m-15 33h5m2 2h5m-4-11h5m5 18h5m-2-6h5m2-2h5m-4 3h5m12-2h5m1-10h5m4 8h5m-1-6h5m-1 16h5m2-17h5m-4 14h5m0-8h5m7-4h5m4 5h5m0 3h5m-5-1h5m19 10h5m4-17h5m-2-4h5m6 4h5m5-4h5m6 7h5m4 14h5m6 0h5m-5-1h5m-5-12h5m-4 1h5m-5-1h5m-1 14h5m-1-2h5m0-18h5m7 9h5m13 3h5m-3-5h5m-4 0h5m-4 6h5m-3 0h5m-3-13h5m11 14h5m-2-9h5m-4-5h5m3 8h5m-1 1h5m-2 1h5m9-1h5m-2-7h5m-3-1h5m-1 12h5m21-2h5m5 10h5m2-7h5m-3-15h5m0 21h5m-1-21h5m2 9h5m0-3h5m3-1h5m-1 16h5m-5-21h5m-3 7h5m-2 0h5m-3 1h5m3-4h5m-3 8h5m2-1h5m12 3h5m-5 7h5m1-6h5m-2-16h5m6 10h5m-5-4h5m0 3h5m0 6h5m-2-3h5m-4-6h5m0-1h5m-3 7h5m-5-9h5m-4 19h5m5-20h5m-3 11h5m-4 10h5m-3-18h5m-3 8h5m-3-9h5m-5 19h5m0-21h5m-3 8h5m1-10h5m-2 18h5m-3 0h5m-4-11h5m-2 12h5m-4-14h5m-3-5h5m2 2h5m4 18h5m-4-11h5m-5 0h5m-5 9h5m-1-15h5m-1 11h5m-4-3h5m-5 1h5m1 11h5m0-22h5m0 15h5m1-6h5m-2 13h5m-5 0h5m0 0h5m-4-3h5m6-2h5m-5-11h5m-1-3h5m1 17h5m7-14h5m-4-6h5m4 4h5m17-2h5m-5-1h5m0-1h5m6 10h5m-3 7h5m-2-10h5m-5 0h5m-4 8h5m-3 7h5m-1-18h5m5-3h5m12-1h5m-4 20h5m-2-5h5m-3-7h5m0 9h5m-1-7h5m15-7h5m10-2h5m9 6h5m2-3h5m-3-4h5m3 6h5m-2-7h5m0 19h5m-2-6h5m-4-5h5m-3 8h5m-5-13h5m-3 2h5m10 2h5m10 8h5m10-7h5m13 4h5m-3 5h5m7-9h5m-1 8h5m-4-5h5m-4-8h5m-1-2h5m6 1h5m5 12h5m-9 13h5m-7 18h5m-7-19h5m-26 7h5m-11-1h5m-5-7h5m-11-1h5m-6 13h5m-7 8h5m-5 0h5m-7 0h5m-30-13h5m-12 14h5m-18-6h5m-15 1h5m-5 6h5m-5-9h5m-7 2h5m-8 7h5m-17-20h5m-11 18h5m-5-12h5m-14 11h5m-7 1h5m-5-2h5m-7-19h5m-7 2h5m-9 21h5m-7 0h5m-13-15h5m-9 13h5m-5-4h5m-7 5h5m-5-6h5m-9-4h5m-10-9h5m-10 1h5m-5 2h5m-9 13h5m-6 1h5m-6 0h5m-9 1h5m-5 0h5m-17 1h5m-8-4h5m-7-5h5m-10 8h5m-9 2h5m-7-21h5m-11 9h5m-6-1h5m-6 10h5m-12 2h5m-5-6h5m-8 3h5m-7 3h5m-8-7h5m-7-3h5m-11 9h5m-15 2h5m-7-4h5m-7 0h5m-10-1h5m-9-11h5m-9 2h5m-11 14h5m-10-22h5m-9 8h5m-9 10h5m-6-1h5m-8-1h5m-6 2h5m-19 4h5m-6-2h5m-10-1h5m-6-6h5m-5 6h5m-6 0h5m-10-12h5m-6-7h5m-6 21h5m-9 1h5m-5-5h5m-7 3h5m-9 1h5m-5-17h5m-6 1h5m-5 13h5m-5-1h5m-12-2h5m-9 4h5m-7-2h5m-5 4h5m-8-7h5m-5 2h5m-6-12h5m-6-4h5m-8 14h5m-8 3h5m-8-13h5m-6 15h5m-6-5h5m-6 6h5m-12-21h5m-6 8h5m-5-5h5m-5 18h5m-5 2h5m-8-8h5m-7 2h5m-6-2h5m-6 3h5m-9-8h5m-8-1h5m-7 1h5m-9 4h5m-7 0h5m-7-9h5m-6 11h5m-7-10h5m-6 3h5m-6-5h5m-7 14h5m-6-16h5m-6 12h5m-7 2h5m-9-7h5m-5 2h5m-8 9h5m-6-9h5m-12 7h5m-5 3h5m-7-11h5m-12-10h5m-5 6h5m-8 9h5m-9 6h5m-6-3h5m-13-10h5m-29 4h5m-8-2h5m-7 8h5m-5-11h5m-6 9h5m-6 2h5m-6-14h5m-6 12h5m-8-2h5m-5-2h5m-9 5h5m-10 5h5m-8-10h5m-7 5h5m-8-1h5m-12 0h5m-7 5h5m-5-2h5m-8-3h5m-10 1h5m-7 4h5m-11-2h5m-12-2h5m-7 1h5m-6-3h5m-6 2h5m-7-1h5m-7-7h5m-6 9h5m-8-2h5m-8-1h5m-6 5h5m-6-14h5m-7 11h5m-11-1h5m-7-1h5m-23-3h5m-7-7h5m-9 17h5m-13-10h5m-6 8h5m-10-6h5m-5 1h5m-10 3h5m-14-1h5m-7-16h5m-10 0h5m-13 20h5m-7-5h5m-8-16h5m-5 8h5m-5 1h5m-6 12h5m-5-12h5m-12 4h5m-9-12h5m-6 20h5m-7-4h5m-6-6h5m-8 1h5m-6 7h5m-5 3h5m-12-10h5m-7 5h5m-5-1h5m-7 0h5m-8-1h5m-10 8h5m-5-9h5m-9 7h5m-5-4h5m-6-1h5m-5-7h5m-6 12h5m-5-4h5m-8-2h5m-7 0h5m-11 5h5m-9 1h5m-6-19h5m-5 14h5m-10 5h5m-8-5h5m-9 0h5m-5-1h5m-10-13h5m-5 7h5m-6 4h5m-6-12h5m-13 20h5m-6 1h5m-6-8h5m-7 0h5m-6 1h5m-5 1h5m-8 0h5m-8-2h5m-6 2h5m-8-3h5m-9 2h5m-6-2h5m-9 2h5m-6 5h5m-9-8h5m-6 8h5m-10-16h5m-20 5h5m-7 6h5m-7-6h5m-14 11h5m-9-9h5m-8-6h5m-5 6h5m-6 6h5m-11-1h5m-7 0h5m-6-12h5m-7 11h5m-9-3h5m-9 1h5m-5 6h5m-13 1h5m-6-2h5m-9-11h5m-7 7h5m-10 2h5m-5 1h5m-5 2h5m-15-16h5m-6 13h5m-9-6h5m-10-2h5m-11 13h5m-7-6h5m-6 5h5m-7 1h5m-10-4h5m-15-9h5m-14 2h5m-7 9h5m-7 1h5m-11 1h5m-9-4h5m-10-13h5m-7 8h5m-5 3h5m-3 17h5m12-5h5m37 0h5m13 3h5m7-2h5m-2 14h5m5 2h5m0-19h5m9 0h5m-5 15h5m3-11h5m1 4h5m12 12h5m1-21h5m18 8h5m1 6h5m6-5h5m-1-5h5m-1 7h5m-3 11h5m-4-7h5m11 4h5m-2-18h5m3-1h5m0 7h5m-3 5h5m4 9h5m-1-12h5m-4 12h5m10-7h5m-4-13h5m-4 16h5m1-9h5m1 10h5m6-15h5m12-2h5m-4 6h5m-4 9h5m14-6h5m-4 3h5m-5-5h5m15-6h5m-4 20h5m4-4h5m5-7h5m0 6h5m0-4h5m-3 9h5m-4-19h5m1 18h5m0-9h5m-3-1h5m16 7h5m-1-17h5m-3 10h5m8-6h5m-3 5h5m-4-8h5m-4 7h5m-4-6h5m0 20h5m-5-5h5m-4-1h5m5 1h5m0-12h5m-2 4h5m-5 7h5m-1-15h5m-5 20h5m-3-20h5m-3 10h5m-4 10h5m-5-4h5m-1 4h5m0 1h5m-1-11h5m-3 6h5m-3-12h5m7 15h5m-4-8h5m-2 7h5m0-7h5m-1 8h5m-5-1h5m-2 3h5m-4-10h5m-4-12h5m-4 14h5m0-15h5m4 22h5m-3-2h5m-2 1h5m7-21h5m-3 20h5m1-8h5m3-6h5m-5 5h5m2 2h5m-1-7h5m0 17h5m-4-15h5m-2-5h5m-1 16h5m-3-9h5m-2-10h5m-4 16h5m20-15h5m-5 6h5m-1 13h5m-3-10h5m-4-7h5m6 16h5m0-17h5m-4-2h5m-5 2h5m-3 16h5m-5-12h5m2-4h5m-3 18h5m1 3h5m-3-23h5m-1 1h5m-5 14h5m11-5h5m-4-10h5m-2 8h5m-2 10h5m-2-8h5m-1-5h5m2-5h5m-4 4h5m12-4h5m4 23h5m-5-22h5m-3 17h5m3-18h5m-3 0h5m1 23h5m0-17h5m-4-5h5m-4 22h5m1-20h5m-3 16h5m-4-15h5m-4 0h5m1-2h5m-4 17h5m-1-19h5m0 20h5m-4-18h5m-3 19h5m-3-6h5m-2-6h5m9-4h5m-3-2h5m-3-3h5m3 17h5m-4-11h5m-1-4h5m-1 3h5m-4 11h5m-3 4h5m-2-7h5m-4 2h5m-5 0h5m2-3h5m5-10h5m16 4h5m-2-1h5m2-4h5m-5 6h5m-4 0h5m-4-1h5m-4-3h5m0 11h5m-4-12h5m-4 1h5m-8 23h5m-7 5h5m-14 16h5m-6-21h5m-5 9h5m-6 12h5m-9-2h5m-24-11h5m-12 12h5m-6-22h5m-43 23h5m-8-6h5m-25 5h5m-16-17h5m-6 7h5m-9 0h5m-13-3h5m-9-8h5m-23 9h5m-14-2h5m-7 0h5m-6 3h5m-10-4h5m-6 9h5m-7-1h5m-14 8h5m-12-18h5m-7 6h5m-5 0h5m-7 9h5m-8 3h5m-25-4h5m-8-4h5m-11-13h5m-6 7h5m-16 4h5m-7 1h5m-15-14h5m-8 17h5m-15 4h5m-14-15h5m-11 12h5m-16-14h5m-6-1h5m-6 15h5m-8-2h5m-7-2h5m-12-8h5m-10 1h5m-16 9h5m-13-7h5m-6-6h5m-10 1h5m-6 11h5m-7 0h5m-13 6h5m-9-20h5m-7 3h5m-17-3h5m-5 18h5m-12-17h5m-7 18h5m-6-18h5m-5 11h5m-10-4h5m-7 11h5m-5-17h5m-9-3h5m-6 14h5m-6-2h5m-10 4h5m-5-11h5m-8 16h5m-6-14h5m-13 6h5m-10-6h5m-8 13h5m-11 2h5m-12-3h5m-6-7h5m-6 7h5m-13-15h5m-10-1h5m-24 13h5m-10-2h5m-19-9h5m-11 10h5m-6-2h5m-19 8h5m-11-4h5m-32-16h5m-8 14h5m-7 5h5m-14-10h5m-9 12h5m-12-21h5m-12 6h5m-13 5h5m-5-3h5m-37-8h5m-13 8h5m-8-6h5m-5 13h5m-11-12h5m-13 8h5m-6 6h5m-14 4h5m-19-14h5m-18-6h5m-5-1h5m-9 14h5m-9-3h5m-5 4h5m-6-11h5m-23 4h5m-14-4h5m-33-5h5m-41 15h5m-10 0h5m-25-6h5m-11 11h5m-15 2h5m-16-17h5m-15 8h5m-9 5h5m-29-6h5m-14-10h5m-6 20h5m-10-3h5m-6-18h5m-7 12h5m-13-10h5m-9 2h5m-9 16h5m-6-6h5m-6-3h5m-8-12h5m-9 5h5m-10-3h5m7 33h5m2-1h5m1 12h5m-3-18h5m-4 6h5m-2-10h5m4 1h5m9 6h5m3 16h5m1-18h5m1 11h5m6 3h5m4-1h5m1 0h5m-3-2h5m4-10h5m0 5h5m-5-2h5m16 10h5m-1-17h5m11 2h5m11 15h5m22-1h5m-2-18h5m-4 10h5m11-10h5m12 5h5m4 17h5m29-6h5m10 4h5m1-18h5m4 21h5m8-22h5m-5 7h5m-2-7h5m0 4h5m-4 16h5m-3-19h5m3 8h5m2-10h5m9 21h5m0-1h5m-5-1h5m2-12h5m-3 12h5m18-5h5m1-2h5m4 9h5m28-8h5m4-10h5m-1 3h5m-4 8h5m-5-13h5m-2 21h5m1 1h5m1-16h5m2 2h5m-2-2h5m-3-7h5m-2 11h5m-3 4h5m-3 5h5m-4-6h5m3-5h5m-1 0h5m-2 12h5m-1-20h5m2 3h5m-5 1h5m10-1h5m-4 15h5m-2 2h5m-2-9h5m-2 7h5m-2-17h5m1 14h5m3-13h5m-4 3h5m-4 0h5m-4 16h5m-2-2h5m-2 1h5m-2-15h5m2-2h5m-3 9h5m-5-7h5m0 3h5m-3-9h5m2 10h5m-4-2h5m-4 6h5m-2 8h5m-4-4h5m0-12h5m-1 5h5m-4-6h5m-4 18h5m-5-2h5m-4-3h5m-5-9h5m-3 0h5m-3 7h5m-1-15h5m1 2h5m-3 7h5m19-2h5m3 7h5m2-3h5m6-3h5m0-7h5m-2 11h5m-3-4h5m0-8h5m-2-1h5m-3 16h5m10-9h5m6-7h5m-1 18h5m2-12h5m-3-2h5m4 8h5m-3 0h5m1 0h5m6 6h5m1 4h5m-4-12h5m-4 2h5m-4-3h5m-2 0h5m-3-8h5m-5 5h5m6 13h5m3-9h5m1 4h5m-5-8h5m-4-4h5m-1 0h5m4 7h5m-1-7h5m7-2h5m-2 9h5m-4-6h5m29 3h5m-1 10h5m5-9h5m11 2h5m-4 14h5m-8 17h5m-19-10h5m-11 13h5m-8-4h5m-13-13h5m-8 1h5m-10 1h5m-6 12h5m-11-14h5m-7 16h5m-5 0h5m-21-13h5m-21 16h5m-6 2h5m-13-23h5m-7 3h5m-9 3h5m-9-4h5m-7 0h5m-15 3h5m-5 15h5m-22 3h5m-33-7h5m-8 6h5m-17-15h5m-6 14h5m-12-16h5m-11 8h5m-6 10h5m-6-7h5m-7-16h5m-9 17h5m-7-8h5m-7-7h5m-11 19h5m-16 1h5m-14-21h5m-12 16h5m-12 0h5m-30 0h5m-15 5h5m-15-1h5m-6-6h5m-19-4h5m-6-1h5m-8 6h5m-6 4h5m-8-1h5m-6-15h5m-17 18h5m-10-19h5m-6 12h5m-5-1h5m-13 5h5m-9-17h5m-7 16h5m-9-11h5m-9 8h5m-7 3h5m-7 2h5m-8-14h5m-6 13h5m-12-7h5m-9-1h5m-6-1h5m-7-10h5m-9 2h5m-5 15h5m-6 0h5m-7-13h5m-9-3h5m-11 17h5m-12 2h5m-9-20h5m-7 1h5m-5 8h5m-5 9h5m-10-13h5m-21 14h5m-9-6h5m-11 9h5m-8-6h5m-9 6h5m-14-5h5m-13-4h5m-9-9h5m-8-2h5m-26 16h5m-8-9h5m-6-2h5m-19 16h5m-14-23h5m-56 1h5m-12 1h5m-13 11h5m-28 2h5m-33 4h5m-14-15h5m-15 0h5m-6-3h5m-30 17h5m-51-7h5m-18-6h5m-20 3h5m-41 6h5m-11 6h5m-32-7h5m-6-13h5m-8 18h5m-8-1h5m-6-12h5m-11-5h5m-10 8h5m-7 7h5m-13 6h5m-8-9h5m-17 0h5m-10-9h5m-13 8h5m-10-11h5m-15 3h5m-20 18h5m-9 4h5m-5 7h5m-1 15h5m21-4h5m-2 0h5m10-5h5m-3 7h5m12-1h5m3-20h5m-4 18h5m23-6h5m2-11h5m32 2h5m3-2h5m31 20h5m-2-2h5m4-3h5m0-16h5m21 23h5m-5-15h5m86 14h5m14 0h5m0-9h5m13-4h5m5-4h5m-4-2h5m8 0h5m15-2h5m3 12h5m6-6h5m-4 9h5m6 6h5m-4-7h5m-2 6h5m2-4h5m-3-6h5m-3-4h5m-1-4h5m2 18h5m-4-21h5m1 0h5m-5 7h5m-5 14h5m-2-8h5m1 9h5m-2-15h5m-2-7h5m3 15h5m1-9h5m6 9h5m-1-10h5m0 9h5m-4 7h5m-3-11h5m-5 10h5m-2-16h5m7 4h5m-3-8h5m-4 6h5m-5 4h5m2 7h5m-1-9h5m1-7h5m1 15h5m-4-1h5m-4-13h5m-4 18h5m-2-13h5m-5-7h5m-2 15h5m-1-4h5m-3-2h5m-2-7h5m-4 5h5m-1 5h5m-4 5h5m-3 4h5m3-1h5m-3 0h5m-2-11h5m-4 8h5m2 4h5m-2-17h5m4 11h5m10-6h5m5 2h5m3 0h5m-2 5h5m6-16h5m-5 15h5m1 2h5m0-13h5m5 0h5m-4 3h5m-1-3h5m-2-3h5m0 8h5m0 9h5m-2-10h5m-4 6h5m-4-11h5m3-2h5m-1 10h5m10 7h5m3-17h5m-4 17h5m-3-2h5m-4 2h5m6-18h5m14 4h5m5 11h5m19-10h5m-4 6h5m-1-8h5m-4 9h5m2 5h5m-4-8h5m-5 7h5m4-8h5m0 7h5m16-5h5m-1-6h5m0 15h5m-2 0h5m-2-18h5m2 3h5m-2 14h5m-5-12h5m-1-3h5m-7 23h5m-14 17h5m-30-3h5m-12-11h5m-15 12h5m-9 5h5m-14-16h5m-6 13h5m-11-16h5m-17 16h5m-8-17h5m-7 21h5m-10-12h5m-5 11h5m-6-10h5m-10 9h5m-6-12h5m-17 12h5m-21-3h5m-18-13h5m-6 1h5m-18 6h5m-10 11h5m-9-21h5m-19 11h5m-8-10h5m-17 9h5m-12-4h5m-13-8h5m-13 4h5m-9 4h5m-9-1h5m-6 16h5m-15-10h5m-16-12h5m-6 10h5m-6 11h5m-7-5h5m-6-11h5m-10-2h5m-6 3h5m-5 1h5m-9 12h5m-6 2h5m-5-19h5m-12 17h5m-8 2h5m-8-22h5m-9 2h5m-6 16h5m-8-5h5m-15-5h5m-8 4h5m-7-9h5m-8 20h5m-6-1h5m-7-18h5m-5 3h5m-7 2h5m-6-7h5m-7 7h5m-5 0h5m-7-5h5m-5 17h5m-7-16h5m-10 4h5m-5 0h5m-7 12h5m-12-10h5m-19 8h5m-17-16h5m-21 14h5m-30 0h5m-10-7h5m-12-4h5m-7-5h5m-8 6h5m-23-3h5m-6 1h5m-8 0h5m-6 6h5m-21-1h5m-7-8h5m-14 5h5m-12 1h5m-8 7h5m-33 5h5m-112-20h5m-17 9h5m-43 8h5m-11-15h5m-13 13h5m-16 3h5m-13-16h5m-44 13h5m-31 4h5m-30-12h5m-15 2h5m-13-9h5m-38 23h5m-24-22h5m-20 11h5m-27 10h5m-9-9h5m-9-6h5m-13 40h5m0-3h5m0-4h5m-3-15h5m-5 17h5m3-11h5m6 8h5m0-1h5m-4-2h5m20-12h5m2 17h5m-1-17h5m-3 23h5m6-17h5m-4-4h5m5 12h5m-2 6h5m1-1h5m-3-4h5m7-2h5m10 0h5m8-5h5m-4 2h5m1 11h5m6-9h5m20-6h5m28-1h5m8-2h5m-2 6h5m13 9h5m8-8h5m39-7h5m57 6h5m2-1h5m0 5h5m4 9h5m-3 0h5m-1-9h5m0-3h5m5 2h5m-2-3h5m14-3h5m11 6h5m-1-7h5m-4 0h5m-3 16h5m-2-10h5m-5 5h5m2-15h5m4 9h5m-4 11h5m9-21h5m8 13h5m43-6h5m-2-6h5m1 6h5m0-2h5m-5 1h5m6 11h5m-3-9h5m-5 8h5m-2-6h5m-4 13h5m-4-7h5m-3-2h5m3 1h5m-4-9h5m3-1h5m0 18h5m1-6h5m-3-4h5m-1-3h5m10 12h5m0-9h5m-4 6h5m-4-15h5m5 1h5m-4 2h5m-3 10h5m-4-12h5m-1 15h5m-4-14h5m-5 11h5m5 5h5m-4-9h5m-4 5h5m-3-13h5m-3 6h5m-3-3h5m-2 8h5m-3-11h5m-3 3h5m-5 2h5m-4 8h5m-4-17h5m-1 16h5m13 4h5m-4-8h5m-5-1h5m-2-2h5m-3-9h5m5 2h5m-2 4h5m2 10h5m-3-10h5m0-1h5m-3 1h5m0 14h5m9-15h5m-4 13h5m1-12h5m-4 9h5m6-14h5m19 20h5m-2-2h5m0-17h5m5 0h5m-4 14h5m3 3h5m3 2h5m-4-13h5m-4 3h5m-1-9h5m4 15h5m0-6h5m-3-8h5m12 10h5m2-12h5m-2 3h5m8 29h5m-26-9h5m-5 4h5m-7-5h5m-5 18h5m-5-14h5m-5 12h5m-7 4h5m-7-9h5m-13 3h5m-13 9h5m-7-13h5m-25 5h5m-7 5h5m-15-7h5m-11 8h5m-7 0h5m-12-2h5m-6 4h5m-5-16h5m-5-6h5m-6 2h5m-5 5h5m-6 13h5m-12-16h5m-11 1h5m-6 4h5m-9 7h5m-6-13h5m-7-1h5m-5 9h5m-13-5h5m-5 11h5m-13 0h5m-7-15h5m-8 17h5m-7-9h5m-10 4h5m-5 4h5m-7-5h5m-8 6h5m-5-15h5m-6 13h5m-6-17h5m-9 7h5m-6-3h5m-6 8h5m-7-1h5m-5-5h5m-11-1h5m-5 15h5m-6-19h5m-10 10h5m-5-2h5m-8 1h5m-29 9h5m-5-16h5m-6-4h5m-10 2h5m-6 19h5m-6-17h5m-11 2h5m-6 2h5m-13-5h5m-7 4h5m-16-4h5m-5 18h5m-6 1h5m-10-9h5m-6 7h5m-10-11h5m-7 5h5m-11-10h5m-19 6h5m-17-9h5m-13 19h5m-16 3h5m-15-6h5m-17 3h5m-12-3h5m-6 1h5m-20-6h5m-7 0h5m-11 2h5m-21-2h5m-11-11h5m-11 0h5m-25 2h5m-8 15h5m-19-11h5m-11 3h5m-19 11h5m-14-7h5m-6 2h5m-7 7h5m-7 0h5m-5-21h5m-11 21h5m-6-7h5m-46-9h5m-27 11h5m-7-4h5m-84-5h5m-35 10h5m-10-5h5m-11-5h5m-10-4h5m-8 11h5m-12-16h5m-44 16h5m-24-9h5m-29 8h5m-36-2h5m-6-7h5m-42 3h5m-11 10h5m-8-3h5m-7-6h5m-5 4h5m-9-11h5m-34 9h5m-10 6h5m-12 1h5m-20-1h5m-7-12h5m-6-4h5m-11 15h5m-15-12h5m-7-3h5m-10 45h5m25-3h5m-1-12h5m-2 11h5m13-16h5m-5-1h5m6 15h5m0-10h5m9 1h5m10 1h5m-4 9h5m-2 4h5m1-9h5m19-12h5m21 18h5m-1-10h5m-4 1h5m6-8h5m2 3h5m41-2h5m1-2h5m31 7h5m6 11h5m8-4h5m4 0h5m101 2h5m15 0h5m19-6h5m-3-8h5m-2 0h5m-3 3h5m3 9h5m-2 4h5m3-11h5m10-7h5m12 16h5m-4-11h5m-4 1h5m-4 13h5m-2-20h5m1 18h5m1-6h5m-4 9h5m2-19h5m-2 8h5m-1-10h5m42 13h5m5-11h5m-5 17h5m8 0h5m17-16h5m1 14h5m2-8h5m-2 13h5m-1-14h5m0-8h5m-3 0h5m23 11h5m-3-10h5m-1 0h5m-4-1h5m-4 7h5m-1 7h5m1-10h5m-3 14h5m0 2h5m1 2h5m-4-22h5m4 8h5m5 9h5m-3-16h5m-1 8h5m2-9h5m4 20h5m7-10h5m3 7h5m-4-1h5m2-4h5m-1-7h5m2-3h5m6 0h5m0 5h5m7 13h5m4-20h5m8 8h5m20 14h5m6-12h5m-1-9h5m3 5h5m-21 20h5m-31 9h5m-19 6h5m-16-5h5m-23 10h5m-12-4h5m-9-12h5m-18 4h5m-14 2h5m-12 3h5m-26-1h5m-6-11h5m-7 8h5m-9 12h5m-5-22h5m-7 16h5m-10 3h5m-7-14h5m-5 11h5m-10-2h5m-11-8h5m-14 8h5m-23 7h5m-11-5h5m-5-1h5m-7-11h5m-24 5h5m-13 1h5m-12-7h5m-22 19h5m-8-14h5m-8 2h5m-13 3h5m-8 5h5m-11-1h5m-12-13h5m-9 13h5m-7-4h5m-15-9h5m-24 7h5m-6-2h5m-5-2h5m-17 0h5m-12 9h5m-7-10h5m-7 12h5m-6-5h5m-22-6h5m-10 8h5m-23-3h5m-10 10h5m-10-3h5m-9-4h5m-41-16h5m-5 1h5m-14 3h5m-8 10h5m-13-3h5m-31-6h5m-8 7h5m-28-4h5m-74 7h5m-84-9h5m-26-5h5m-15 17h5m-38-14h5m-19 4h5m-7 12h5m-11-16h5m-18 14h5m-11-2h5m-21-4h5m-9 8h5m-11-15h5m-9 9h5m-27-13h5m-10 12h5m-7 10h5m-6 0h5m-20-21h5m-24 15h5m-7 1h5m-21-2h5m-6-16h5m-28 3h5m28 34h5m6 5h5m20 1h5m16 4h5m30-18h5m11 18h5m6-6h5m-4-3h5m30 9h5m-1-10h5m15-11h5m10 11h5m14-7h5m6-2h5m35 9h5m39-5h5m6 6h5m-1-7h5m9 4h5m-1 4h5m28-8h5m2 9h5m2-16h5m2 0h5m-5 12h5m-4-10h5m17 5h5m13 3h5m1 13h5m-4-13h5m-2-9h5m-5 6h5m-4 12h5m6-10h5m2 10h5m-4-18h5m0 2h5m-5 10h5m1-3h5m9 4h5m2-10h5m-2 4h5m-3 12h5m8-8h5m2 8h5m-2-19h5m-2 16h5m-3 3h5m0-4h5m3 4h5m-3-17h5m13 20h5m19-13h5m-1-10h5m-1 12h5m3 2h5m-4-2h5m1-12h5m-2 6h5m8-4h5m-4 3h5m3 14h5m20-3h5m2 0h5m1-12h5m-2 10h5m-5-1h5m-2-6h5m-3-3h5m-3 10h5m-3-8h5m8 1h5m0 5h5m2-8h5m9 3h5m-4-1h5m22 2h5m5 2h5m-5 13h5m7 0h5m-1-13h5m4-10h5m0 20h5m-2-3h5m6-14h5m8 3h5m8-5h5m-1 18h5m0-4h5m8 4h5m-1-15h5m-4-1h5m0 7h5m-20 23h5m-6 11h5m-6-5h5m-52-1h5m-16-8h5m-27 11h5m-11-12h5m-6 16h5m-5-17h5m-9 3h5m-35 15h5m-5-18h5m-7 5h5m-23-4h5m-18 0h5m-16 8h5m-31 5h5m-33-15h5m-16 15h5m-12-13h5m-6 8h5m-13 10h5m-13-14h5m-5 2h5m-19 8h5m-8 3h5m-11-9h5m-14 0h5m-6-13h5m-9 9h5m-11 1h5m-14 1h5m-11-7h5m-13 5h5m-18 11h5m-6-14h5m-11-1h5m-8 4h5m-6 8h5m-14-10h5m-47-1h5m-7 16h5m-7-22h5m-25 11h5m-20 2h5m-20-5h5m-18-6h5m-25 8h5m-27 2h5m-5-5h5m-14 16h5m-62-8h5m-10-9h5m-16 5h5m-26 1h5m-19-1h5m-12-8h5m-10-1h5m-12 16h5m-25 1h5m-48-4h5m-12 6h5m-6 2h5m-7-21h5m-5 15h5m-9-11h5m-9 6h5m-28 0h5m-7-3h5m-6 6h5m-16-3h5m-6 10h5m-29-19h5m-14 12h5m-16 6h5m-15-3h5m-26-1h5m-17-6h5m-16-8h5m-10 8h5m-27-2h5m-6-6h5m-6 19h5m9 10h5m2 13h5m-4-16h5m-3 6h5m1 5h5m-5-6h5m-2 10h5m10-16h5m9 3h5m-1 0h5m2 9h5m1-3h5m2-9h5m1-4h5m-3 2h5m4 17h5m9-5h5m-2-1h5m32-6h5m6 10h5m25-7h5m0 9h5m10-2h5m14-5h5m-4 3h5m-5-15h5m-1 16h5m19 2h5m3-6h5m-1-1h5m-1 11h5m1-21h5m-4 18h5m-4-4h5m-1-2h5m1 5h5m72-4h5m6 2h5m-2-8h5m35 4h5m2-1h5m14-2h5m11 3h5m-4 10h5m0-3h5m11-1h5m3-12h5m32 8h5m-2 4h5m0 3h5m1-8h5m1 3h5m1 1h5m9 6h5m-3-17h5m-4-4h5m10 20h5m-2-15h5m7 7h5m-3 7h5m-2-19h5m39 3h5m-5-4h5m2 4h5m8 5h5m14-7h5m1 8h5m3-8h5m4 16h5m-2-12h5m-1 6h5m-4-11h5m5 2h5m2 13h5m9-6h5m1 6h5m8 6h5m14-15h5m14 14h5m-4-2h5m-2-12h5m8 1h5m4 12h5m4-5h5m6-8h5m3 8h5m0 0h5m-5-10h5m11 7h5m8 26h5m-13-13h5m-10 1h5m-7 10h5m-6 7h5m-15 3h5m-24-3h5m-36-3h5m-15-9h5m-6-4h5m-14-1h5m-8 15h5m-6 3h5m-37-21h5m-9 16h5m-10 7h5m-7-6h5m-8-15h5m-11 11h5m-8 10h5m-11-18h5m-17 6h5m-31 9h5m-17 0h5m-6-12h5m-18 4h5m-15 2h5m-11-14h5m-6 10h5m-8 6h5m-15-8h5m-17 3h5m-11-4h5m-21 10h5m-9 1h5m-9 1h5m-7 2h5m-21 1h5m-20-5h5m-20-11h5m-12 4h5m-16-10h5m-5 15h5m-16-3h5m-5 5h5m-8 3h5m-6-6h5m-7-11h5m-7 4h5m-6 6h5m-6-2h5m-6-6h5m-7 9h5m-7-13h5m-5 0h5m-7 15h5m-6 0h5m-5-2h5m-5 8h5m-6-10h5m-7 9h5m-6-8h5m-5 9h5m-5-8h5m-17-7h5m-6 2h5m-13 8h5m-6-15h5m-10 0h5m-9 12h5m-24 8h5m-49-20h5m-22-2h5m-28 0h5m-15 5h5m-6 13h5m-16 1h5m-8 2h5m-25-20h5m-11 10h5m-9 7h5m-7 1h5m-10 1h5m-46-12h5m-14-6h5m-8 18h5m-7-12h5m-7-1h5m-6 1h5m-14-7h5m-16 3h5m-7 0h5m-11 13h5m-17-13h5m-17 15h5m-29-13h5m-7-1h5m-20 3h5m-19 9h5m-5 5h5m-25-15h5m-12-4h5m-58-1h5m-5 10h5m-10 5h5m-37 3h5m-37 22h5m23-10h5m4 8h5m-4-16h5m4 3h5m1 9h5m-4-6h5m15 4h5m6-5h5m4 10h5m5-5h5m-2 8h5m-4-15h5m1 15h5m21-6h5m12 4h5m27-15h5m6 7h5m13-6h5m8-2h5m4 10h5m11 6h5m0-5h5m1-7h5m1 11h5m-2-2h5m4 0h5m13 2h5m15-13h5m22 10h5m4-9h5m-1 11h5m1-11h5m33-2h5m12 3h5m10 5h5m6-1h5m2-8h5m7 13h5m0-7h5m15 7h5m-1 5h5m3-2h5m1 0h5m-5 2h5m-3-17h5m-4 5h5m0-3h5m14 7h5m13 0h5m16 1h5m13-4h5m4 5h5m11-7h5m-1 10h5m44 0h5m10-3h5m-1-10h5m9 16h5m0-10h5m3 7h5m6-5h5m-5-1h5m5 3h5m11-5h5m-3 2h5m1-7h5m-5 15h5m17-2h5m-2 1h5m5 2h5m-3-4h5m33-11h5m3 14h5m8-14h5m-2 3h5m-1-2h5m0 8h5M2172 43h5m-20-3h5m-82-2h5m-18 8h5m-123-11h5m-12 1h5m-9 0h5m-35 11h5m-8-9h5m-5 9h5m-9-7h5m-8 5h5m-38-4h5m-72 2h5m-22-10h5m-26 9h5m-9 3h5m-20 2h5m-13-4h5m-10-6h5m-16 1h5m-16-2h5m-18-1h5m-31 3h5m-6 8h5m-12-5h5m-17-4h5m-43 9h5m-29-9h5m-21-2h5m-209 11h5m73 23h5m36-20h5m44 18h5m32 4h5m5-21h5m-1 15h5m12-3h5m-3-4h5m-2 9h5m-1 2h5m-3-1h5m-4 3h5m3-12h5m8 10h5m-1-11h5m-3-2h5m-5 6h5m-1-5h5m4 3h5m-5 1h5m6-6h5m-4-4h5m4 3h5m7-3h5m5 7h5m-2 5h5m3-10h5m6 9h5m2 1h5m-1 0h5m5-1h5m2-13h5m6 7h5m-2 13h5m9-19h5m8 11h5m-1 2h5m4-5h5m3 9h5m5-11h5m0 8h5m0 7h5m-2-16h5m-4 3h5m23 2h5m-1 11h5m-5-5h5m-2-7h5m-3 3h5m0 5h5m2-13h5m-2 11h5m-2 0h5m-4-10h5m-1-1h5m-4 15h5m-4-15h5m-1 3h5m-1-4h5m0 5h5m-1-9h5m5 4h5m5 3h5m22 5h5m-4-11h5m-2 3h5m3-5h5m1 14h5m-4-11h5m7 3h5m10 14h5m-4-15h5m3 5h5m27-10h5m-4 0h5m2 5h5m-4-5h5m1 7h5m45-7h5m-2 4h5m31 15h5m7 1h5m-6 20h5m-8-12h5m-8 12h5m-36-5h5m-17-7h5m-39 14h5m-30-2h5m-7 4h5m-22-11h5m-44 5h5m-6-13h5m-66 5h5m-33 4h5m-14-6h5m-6 7h5m-11-8h5m-8 18h5m-7 1h5m-10-18h5m-8 11h5m-9-14h5m-7-1h5m-12 9h5m-10-2h5m-5 11h5m-6-13h5m-8 10h5m-5-3h5m-7-1h5m-6 7h5m-5-9h5m-6-4h5m-10 13h5m-5-18h5m-7 5h5m-6 0h5m-5 8h5m-8 10h5m-10-18h5m-7 14h5m-16-13h5m-6 9h5m-13-10h5m-8 15h5m-13-16h5m-5-2h5m-5 16h5m-26-13h5m-14 1h5m-7 10h5m-14 4h5m-5-16h5m-15 9h5m-6-13h5m-7 22h5m-8-21h5m-6 1h5m-7-2h5m-15 22h5m-14-7h5m-7 6h5m-23-9h5m-23-9h5m-7 4h5m-9 1h5m-7 6h5m-16 1h5m-5 2h5m-6-17h5m-21 0h5m-16 12h5m-8 0h5m-15 5h5m-18-6h5m-10 1h5m-5 8h5m-21-14h5m-7 2h5m-6-1h5m-8 5h5m-6 0h5m-15-7h5m-10 4h5m-8 2h5m-5-8h5m-9 16h5m-17-6h5m-11 3h5m-5-5h5m-8 6h5m-19-4h5m-13 6h5m-5 0h5m-12-11h5m-133-1h5m-64 3h5m-24 36h5m0-15h5m74 11h5m21-1h5m22-8h5m-1 14h5m-1-1h5m24-7h5m-5-2h5m-3 7h5m-5 3h5m-3-11h5m3 4h5m-4-5h5m-4 5h5m-1-10h5m-1-5h5m-2 11h5m10 5h5m-4-11h5m-1 8h5m-2 2h5m-3-11h5m-4-2h5m3 16h5m-2 3h5m-4-15h5m-4 14h5m-1-2h5m3-19h5m-4 16h5m20-9h5m-5 3h5m2 12h5m7 0h5m1-11h5m2 11h5m8-3h5m10 3h5m-4-20h5m3 2h5m-4 15h5m2-19h5m-2 10h5m-5 11h5m-1-2h5m0-6h5m-4-11h5m6 0h5m5 19h5m-5-21h5m-5 12h5m-4 6h5m-5-11h5m4 14h5m-2-3h5m-4-13h5m-4 4h5m-2-8h5m-5 21h5m-2-15h5m-1-6h5m-2 8h5m13 1h5m-1-5h5m17 1h5m0 2h5m-5 15h5m-2-1h5m-1-14h5m-1 13h5m2-15h5m-3 8h5m5-5h5m-4-2h5m2-1h5m-4-2h5m-4 10h5m-5-14h5m4 17h5m-3-16h5m0 6h5m-5-7h5m-4 2h5m-4 1h5m-2 1h5m-2-2h5m3-2h5m11 14h5m3-10h5m-2 1h5m-1 12h5m-2 0h5m12-17h5m-5 17h5m7-11h5m6-4h5m-3 12h5m1-14h5m-3 13h5m-1-7h5m7 2h5m9-4h5m19 5h5m34 1h5m-1 0h5m6 1h5m49 0h5m3 9h5m8-6h5m25-4h5m2 8h5m6 26h5m-32-12h5m-15 12h5m-46-17h5m-9 15h5m-19-2h5m-9 0h5m-40-5h5m-11-9h5m-38 19h5m-35-2h5m-13-19h5m-19 11h5m-35-8h5m-7 3h5m-21-6h5m-9 16h5m-9 0h5m-9-12h5m-18 2h5m-11 5h5m-14 6h5m-25-9h5m-13 1h5m-25 10h5m-19 2h5m-10-12h5m-5 8h5m-6-15h5m-16 13h5m-5 6h5m-5-10h5m-14-8h5m-16 2h5m-10 8h5m-13 0h5m-8-9h5m-14 5h5m-12 14h5m-5-12h5m-23-1h5m-6 11h5m-8-9h5m-9-1h5m-11 10h5m-9-15h5m-24-4h5m-14 19h5m-9-8h5m-11 9h5m-8-8h5m-7-2h5m-8-10h5m-11 0h5m-31 14h5m-10-2h5m-13 7h5m-12 0h5m-7-13h5m-6-4h5m-11 10h5m-6-1h5m-7-1h5m-5-7h5m-20 15h5m-8-19h5m-15 1h5m-6 4h5m-6-3h5m-12 6h5m-11-5h5m-25 17h5m-7-7h5m-10-13h5m-7 5h5m-6 16h5m-6-11h5m-9 2h5m-11-3h5m-5-2h5m-5 15h5m-9-15h5m-9-8h5m-7 4h5m-12 10h5m-5-10h5m-9 11h5m-6-13h5m-16 11h5m-6-9h5m-7 7h5m-5 6h5m-12-6h5m-9 1h5m-12-7h5m-5 17h5m-8-7h5m-11-3h5m-7 8h5m-13-10h5m-12 10h5m-26-11h5m-23 2h5m-95 30h5m-4 2h5m42 4h5m27-3h5m2-3h5m-5-4h5m-1 4h5m-3-9h5m0 3h5m-4 10h5m-3-17h5m0 17h5m8-20h5m13 0h5m-4 4h5m-4-4h5m-3 1h5m9 12h5m-2 0h5m9 5h5m27-17h5m-5-1h5m9 8h5m-3-9h5m23 2h5m-3-2h5m8 23h5m-1-13h5m-1 11h5m-3-16h5m2-2h5m2 19h5m9-20h5m-5 13h5m-4-7h5m-3 9h5m-5-1h5m-1 7h5m8-5h5m-3 1h5m-2-12h5m1 4h5m-1 8h5m0-2h5m0-5h5m2-7h5m0 1h5m-2 7h5m4-3h5m-4-5h5m2 17h5m9-18h5m-5 13h5m11-2h5m10-7h5m13-2h5m-5 12h5m-4-5h5m1 0h5m2 4h5m6 6h5m-4 0h5m0-6h5m13-13h5m0 19h5m5-18h5m5 11h5m1-5h5m-2 0h5m4 4h5m-2-15h5m5 15h5m-4-10h5m7 3h5m8 7h5m1-4h5m4 3h5m-5 2h5m1-7h5m51-3h5m-5 14h5m2-11h5m-1 10h5m3-16h5m0 4h5m7 15h5m0-2h5m-4 3h5m42-6h5m19-10h5m46 6h5m2 9h5m1-6h5m-2 5h5m29-13h5m2-7h5m3 15h5m1 4h5m3-11h5m-3-4h5m-5 14h5m-3-16h5m-10 30h5m-19-6h5m-49 12h5m-22-6h5m-11 11h5m-19-16h5m-14 13h5m-12 0h5m-11-12h5m-19 7h5m-11 3h5m-27-4h5m-49-6h5m-16 15h5m-27-6h5m-9-1h5m-34-2h5m-21-11h5m-7 19h5m-7-14h5m-29 7h5m-23-5h5m-36 14h5m-11-3h5m-12-4h5m-13-5h5m-17 12h5m-9 2h5m-6-18h5m-12 15h5m-13 1h5m-7-21h5m-16 10h5m-7-7h5m-8 20h5m-9-21h5m-6 21h5m-7-2h5m-7-16h5m-6-4h5m-9 21h5m-6-2h5m-5-8h5m-11 5h5m-6-9h5m-11 13h5m-7-12h5m-8 8h5m-10-10h5m-14 3h5m-13 4h5m-8 8h5m-6-1h5m-10-9h5m-21 11h5m-6-5h5m-5-2h5m-17-6h5m-7 7h5m-6-3h5m-15 9h5m-5-5h5m-9-15h5m-11 7h5m-6 7h5m-13 0h5m-6-3h5m-12-7h5m-8-7h5m-8 18h5m-5 1h5m-11-9h5m-8 1h5m-13 10h5m-9-4h5m-7-3h5m-5-4h5m-15-4h5m-5 3h5m-6 4h5m-8-5h5m-6 13h5m-7-11h5m-5 9h5m-5-6h5m-11 2h5m-5 0h5m-6-7h5m-8-1h5m-5 8h5m-6 5h5m-13-1h5m-10-4h5m-5-2h5m-7 0h5m-6 4h5m-8-11h5m-6 13h5m-8 0h5m-13-14h5m-5 6h5m-6-3h5m-12-8h5m-5 14h5m-11 7h5m-9-13h5m-5 14h5m-10-3h5m-11-8h5m-9 6h5m-8-8h5m-6-9h5m-5 1h5m-6 10h5m-6-8h5m-8 11h5m-13-2h5m-16 1h5m-8-4h5m-11 6h5m-7 2h5m-8-6h5m-11 2h5m-5 3h5m-7-5h5m-6-7h5m-8-3h5m-22 14h5m-27-1h5m-10-7h5m-34 3h5m-7-9h5m-8 3h5m-9 9h5m-10-11h5m-8 20h5m-6-3h5m-7 3h5m-9-4h5m-5-1h5m-13-2h5m-22 7h5m-6-5h5m-23-12h5m-11 28h5m-5 5h5m0 6h5m-5-7h5m5-4h5m-4 0h5m-3 1h5m-3-7h5m-5 14h5m-3-16h5m-5 14h5m-4 7h5m-2-14h5m-4 4h5m-5-10h5m-2 8h5m-1-4h5m1 3h5m-1 13h5m-3-14h5m-1-5h5m3 5h5m17-4h5m4 13h5m15-17h5m0 2h5m3 21h5m0-10h5m-4 6h5m-4-5h5m-1-10h5m-3-1h5m-3 9h5m11 8h5m23-12h5m6 12h5m-2-9h5m11 9h5m6-16h5m-5-4h5m0 10h5m-1-3h5m-3-1h5m4 15h5m-3-20h5m-4 19h5m-3-7h5m-1-2h5m-4-3h5m-4 10h5m-5-3h5m-1 3h5m-2-12h5m-2 4h5m-5 1h5m-5 8h5m-4-9h5m-4 11h5m-5-16h5m1 13h5m2-16h5m-3 2h5m4 13h5m-4-9h5m0 12h5m5-6h5m-4-8h5m-1 4h5m3-2h5m5 3h5m-1 9h5m1-12h5m-4-4h5m-4 13h5m-4-9h5m-3 9h5m-5-5h5m0-10h5m0 4h5m-4 2h5m-2 8h5m1-1h5m-3-1h5m-4-11h5m3-2h5m4 20h5m-4-16h5m-3-4h5m-3 3h5m0-3h5m1 2h5m-2 9h5m6-8h5m-4 13h5m-4 0h5m-1-11h5m-4 15h5m-3 2h5m-5-6h5m-4-10h5m-3-7h5m-4 4h5m-4-1h5m2 5h5m-5-4h5m-2 8h5m5-10h5m1 8h5m7-3h5m-2-1h5m-2 11h5m5-7h5m-2 11h5m-4-19h5m-4 0h5m-5 19h5m-1 2h5m-5-23h5m3 20h5m-5-15h5m19-5h5m-1 23h5m12-17h5m-5 1h5m7-4h5m-2 18h5m-2-16h5m-2 9h5m1 6h5m-1-8h5m-4-12h5m-4 19h5m8-3h5m14-16h5m3 6h5m4 11h5m-3-16h5m52 8h5m-2-8h5m3 7h5m3-4h5m3 9h5m5 8h5m15-8h5m-1-9h5m10-1h5m-4 17h5m-5-20h5m3 12h5m4 8h5m0-15h5m22-3h5m3-1h5m27 5h5m-1 0h5m4 6h5m0 6h5m12-17h5m5 7h5m-67 33h5m-13 2h5m-43-15h5m-11 12h5m-34-6h5m-10 0h5m-12 6h5m-9-2h5m-14 7h5m-7-21h5m-29 23h5m-9-11h5m-10 2h5m-17-14h5m-28 5h5m-7 11h5m-14-13h5m-33 16h5m-26-17h5m-5 20h5m-12-4h5m-6-14h5m-6 14h5m-9-11h5m-12 13h5m-8-17h5m-7 17h5m-5 2h5m-8-17h5m-8 2h5m-11-6h5m-32 12h5m-13 8h5m-5-4h5m-11 3h5m-18 2h5m-16-6h5m-6-13h5m-29 0h5m-5-3h5m-8 21h5m-9-7h5m-9 0h5m-5-7h5m-15 4h5m-11-7h5m-5 6h5m-38 10h5m-10-14h5m-14 6h5m-9-2h5m-5-3h5m-6-5h5m-12 21h5m-6-23h5m-9 23h5m-14-1h5m-9-17h5m-8 2h5m-12 13h5m-8-9h5m-18 8h5m-12-1h5m-7 4h5m-8-12h5m-6 2h5m-12 0h5m-5-1h5m-11 2h5m-6-10h5m-6 8h5m-8-4h5m-13-2h5m-8 11h5m-5-15h5m-7 16h5m-9-16h5m-9 5h5m-7 4h5m-6-6h5m-19 6h5m-10 2h5m-17-1h5m-6 12h5m-12-18h5m-9-5h5m-7 2h5m-34 15h5m-6 3h5m-11 3h5m-15-16h5m-10 2h5m-7 13h5m-9-15h5m-16 13h5m-29 2h5m-8-21h5m-6 9h5m-8 0h5m-5 9h5m-27 0h5m-10-11h5m-45-6h5m-8 1h5m-12 0h5m-10 14h5m-8-6h5m-70 21h5m2 6h5m-4-8h5m-1-4h5m6 7h5m1-7h5m2 13h5m-4-11h5m4-2h5m9 3h5m-1 7h5m12-11h5m54 8h5m1-1h5m13-5h5m2 6h5m3 7h5m-1-4h5m-2 10h5m3-9h5m-3 5h5m67-17h5m0 6h5m-1 6h5m-2-2h5m-5-5h5m4 0h5m-1 4h5m9-10h5m-5 5h5m-4 9h5m0-5h5m7 7h5m-4 7h5m6-22h5m0 20h5m-4-15h5m-4 15h5m-1-9h5m5-7h5m21 11h5m0-10h5m-4-5h5m-1 7h5m3 0h5m1-7h5m-3 22h5m0-4h5m-5-8h5m-5 12h5m-4-9h5m-5-11h5m5 3h5m-3 12h5m2 4h5m-4-20h5m-4 13h5m-1 8h5m3-13h5m-2 6h5m4-7h5m4-3h5m2 15h5m-2-1h5m1-8h5m0-10h5m2 0h5m-5 12h5m3-2h5m2 7h5m1-14h5m-4 7h5m7 0h5m-4-4h5m-4 2h5m-5 8h5m-4-17h5m27 3h5m-3-2h5m-1 11h5m-2-6h5m4 13h5m5-3h5m5-7h5m-3-6h5m-3 6h5m-1 4h5m1-10h5m-4 18h5m-4-17h5m-1-4h5m-4 4h5m2 16h5m1-2h5m15-18h5m0 0h5m19 12h5m20-12h5m2 4h5m3-4h5m26 17h5m8 1h5m5-11h5m6 13h5m-3-8h5m21-5h5m18 8h5m7-9h5m-3-6h5m26 41h5m-25-5h5m-7-13h5m-16 15h5m-20-15h5m-13 17h5m-12 6h5m-32-1h5m-5-13h5m-12 11h5m-8-14h5m-6 6h5m-19 4h5m-10-11h5m-16 3h5m-26 4h5m-8-12h5m-14 13h5m-10-6h5m-7-4h5m-64 9h5m-10-7h5m-24 1h5m-11 14h5m-16 2h5m-22-7h5m-16-7h5m-7 15h5m-12-2h5m-15 2h5m-17-10h5m-6 2h5m-8-8h5m-7 10h5m-6 0h5m-9 0h5m-17-1h5m-9-5h5m-14 4h5m-9-3h5m-8-1h5m-7 12h5m-8-1h5m-12-19h5m-6 6h5m-12 9h5m-5-6h5m-8-2h5m-18-9h5m-9 3h5m-8 16h5m-11-14h5m-6 4h5m-8 12h5m-8 0h5m-6-10h5m-17 1h5m-14-2h5m-9 10h5m-12 2h5m-5-21h5m-8 5h5m-9-4h5m-9 14h5m-6-10h5m-8 12h5m-10 3h5m-15-9h5m-11-10h5m-6 1h5m-6 1h5m-8 10h5m-9-12h5m-6 10h5m-6-4h5m-13 6h5m-12 6h5m-14 1h5m-7-21h5m-7 10h5m-10-5h5m-8-2h5m-5 15h5m-7-1h5m-5-14h5m-7-2h5m-7 5h5m-10 5h5m-11 8h5m-8 3h5m-9-12h5m-10-9h5m-6 17h5m-8-1h5m-6 1h5m-17-7h5m-5 6h5m-7-4h5m-5-13h5m-6 12h5m-5 1h5m-12 2h5m-7-6h5m-12 10h5m-8-9h5m-9-1h5m-5 4h5m-16 1h5m-8-11h5m-16-4h5m-8 20h5m-15-14h5m-6 1h5m-19 13h5m-10-6h5m-11-6h5m-9-8h5m-7 5h5m-13 10h5m-6-1h5m-6 1h5m-6-1h5m-10-1h5m-21 5h5m-6-15h5m-26 6h5m-6 4h5m-13 9h5m-19 0h5m-9-14h5m-7-5h5m-34-3h5m-34 19h5m-5-13h5m-20 3h5m-15 4h5m-38 18h5m-2-5h5m-4 8h5m6 2h5m5 10h5m4-16h5m-1 11h5m44 1h5m16 3h5m-3-2h5m-3-8h5m-4-3h5m1 12h5m14-19h5m38 3h5m8 8h5m12 3h5m5-4h5m-4-3h5m-3 2h5m-4 5h5m4-8h5m-1 11h5m-3-14h5m4 18h5m-1-8h5m-2 1h5m1 3h5m-2-1h5m-5 1h5m6-7h5m36 2h5m14 6h5m7-11h5m-2 13h5m-2 1h5m-4-19h5m-5 16h5m2-12h5m-4 5h5m-5 6h5m-1-14h5m-4 16h5m-5-8h5m-2-9h5m-4 7h5m-3-10h5m-4 1h5m-2 13h5m0 1h5m0 3h5m4 0h5m0-8h5m-5-10h5m-2 0h5m-3 2h5m1 13h5m-3-5h5m-2 0h5m-2 10h5m3-10h5m-3 13h5m-2-3h5m-1-18h5m-5-2h5m-2 2h5m3-2h5m2 4h5m5 8h5m3-5h5m-1 12h5m-3-13h5m4 10h5m-4 1h5m-3-12h5m0 7h5m4 8h5m1-18h5m-5 3h5m5-1h5m0-3h5m-4-1h5m-4 18h5m-3-11h5m2 9h5m-3-13h5m-5 1h5m6 8h5m2-6h5m-5 3h5m-1 5h5m28-10h5m-4 1h5m-5-3h5m5 18h5m0-14h5m0 9h5m72-1h5m-2 1h5m1 1h5m6-2h5m0 8h5m10-12h5m0 2h5m11 7h5m-2-1h5m12-18h5m5 4h5m5 8h5m22 9h5m2-10h5m-3-9h5m5 16h5m0-17h5m-4 5h5m41-6h5m-4 23h5m-2 24h5m-19-23h5m-8 10h5m-10 5h5m-32 3h5m-15 4h5m-17-10h5m-24 5h5m-11-9h5m-13 13h5m-9-13h5m-10 13h5m-6-11h5m-10-2h5m-13 4h5m-9-9h5m-6 0h5m-7 12h5m-12 0h5m-30 3h5m-13-14h5m-11 12h5m-14-15h5m-33 14h5m-16-1h5m-14 2h5m-11-5h5m-20-8h5m-52 3h5m-21 15h5m-6-6h5m-32-3h5m-9 2h5m-12-5h5m-6-2h5m-16 1h5m-5-3h5m-16 11h5m-19 1h5m-15-6h5m-7 5h5m-10-14h5m-25 19h5m-10-1h5m-8-12h5m-15-4h5m-10 1h5m-7-3h5m-8 7h5m-10 2h5m-11 12h5m-7-8h5m-11-6h5m-9 4h5m-8-6h5m-7 13h5m-10-7h5m-7 9h5m-12-17h5m-13 8h5m-11-13h5m-5 19h5m-6-10h5m-9 8h5m-6 2h5m-8-16h5m-5 5h5m-6-7h5m-6 12h5m-7 3h5m-7-9h5m-10-1h5m-11-6h5m-7 13h5m-9-4h5m-7 5h5m-6 5h5m-13-16h5m-7 8h5m-7 2h5m-8 10h5m-16-22h5m-6 15h5m-13-16h5m-11 17h5m-8-11h5m-5-1h5m-6 9h5m-6-14h5m-5 16h5m-14-15h5m-12 8h5m-10 13h5m-5-9h5m-12-2h5m-7-11h5m-6 4h5m-7 6h5m-6 4h5m-9-2h5m-5-5h5m-6 7h5m-9-12h5m-8 3h5m-9-3h5m-6 19h5m-6-19h5m-6 5h5m-7 2h5m-20-1h5m-15 7h5m-50-10h5m-11 0h5m-12 1h5m-5-5h5m-5 22h5m-7-5h5m-10-13h5m-17 0h5m-37 12h5m-14 1h5m-8-10h5m-8 8h5m-22-15h5m-9 1h5m-13 1h5m-5-1h5m-12 0h5m-7 5h5m-13-6h5m-12 19h5m-8-8h5m-12 1h5m-18 2h5m-9-11h5m-14 15h5m2 21h5m-3-13h5m4 15h5m-5 5h5m-4-17h5m-2-4h5m12 21h5m-3 0h5m-3-10h5m-4 5h5m-4-5h5m5 6h5m-3-1h5m-4-14h5m17-1h5m1 15h5m17-8h5m0 0h5m-1 3h5m2 10h5m3-12h5m2-1h5m5 8h5m3 3h5m-3-2h5m11-12h5m3 0h5m2 13h5m19-9h5m9 10h5m0-5h5m-2-12h5m5 0h5m-4 0h5m-1-1h5m6 14h5m-3-11h5m-5-2h5m13 3h5m6-1h5m-2 0h5m-4 8h5m-4-2h5m3 11h5m-5-3h5m1-7h5m-5 4h5m-3 5h5m14-10h5m-4 0h5m-4-2h5m-3 0h5m1 9h5m-3-15h5m2 18h5m-3-1h5m-1-15h5m-3 10h5m-4-11h5m-5 3h5m-4 8h5m-3 0h5m-5-10h5m-4-3h5m-4 11h5m-4 1h5m-2-1h5m-4-11h5m-4 19h5m-5-18h5m0-1h5m1 13h5m-3 0h5m-4 7h5m-4-9h5m-5 2h5m-2 4h5m-5-3h5m-3-14h5m-5 9h5m-4-9h5m1 4h5m1 9h5m3 2h5m10 0h5m-2-7h5m0 1h5m-4-9h5m1 4h5m6 12h5m-2-15h5m-3 18h5m-4-16h5m-5 11h5m1-12h5m9 4h5m5-9h5m2 10h5m-5 13h5m18-3h5m16-3h5m8-4h5m-3-3h5m0-3h5m26-3h5m2 1h5m-2 5h5m4 11h5m5-1h5m3-14h5m5-3h5m33 4h5m-1-7h5m32 17h5m11-10h5m4-3h5m17 15h5m5-3h5m3-2h5m-1-7h5m10 2h5m-4 2h5m0 1h5m-4 10h5m-2-14h5m23 6h5m3 8h5m0-5h5m-1 5h5m-4-7h5m0-11h5m-4 9h5m8-3h5m-3 7h5m-3-13h5m-2 10h5m-3 0h5m-2-13h5m1 13h5m0-1h5m-25 21h5m-7-3h5m-12-7h5m-22 19h5m-8-1h5m-5 2h5m-13-17h5m-15 5h5m-6-6h5m-11-1h5m-5 2h5m-6-2h5m-6 3h5m-5 3h5m-28 3h5m-16 0h5m-18 11h5m-5-6h5m-7-15h5m-7 11h5m-9 0h5m-7 8h5m-11 3h5m-9-5h5m-6-9h5m-6 6h5m-7 9h5m-7-3h5m-6-6h5m-6-1h5m-7-3h5m-5 8h5m-7-1h5m-10 3h5m-5-5h5m-9-3h5m-9-9h5m-8 20h5m-9-8h5m-10 6h5m-9-9h5m-9 3h5m-7 1h5m-6 6h5m-14-19h5m-6 9h5m-5-3h5m-13 14h5m-10-10h5m-11-8h5m-7-3h5m-19 17h5m-30-1h5m-7-9h5m-7 1h5m-6 0h5m-8 7h5m-5-6h5m-13 11h5m-37-11h5m-9-7h5m-8-3h5m-19 11h5m-11-7h5m-8 7h5m-7-5h5m-7 12h5m-19-1h5m-25-14h5m-9-2h5m-5 11h5m-29-3h5m-8-2h5m-11 8h5m-9-16h5m-6 11h5m-8 11h5m-6-11h5m-6 10h5m-5-16h5m-6 5h5m-11-9h5m-5 14h5m-17-14h5m-8 8h5m-15-8h5m-14 6h5m-13 2h5m-9-3h5m-6 7h5m-30 8h5m-7 1h5m-8-4h5m-6-18h5m-8 23h5m-6 0h5m-8-1h5m-7-2h5m-6-19h5m-6 3h5m-5 19h5m-8-17h5m-6 0h5m-6 12h5m-6-14h5m-14 11h5m-6-6h5m-7 12h5m-5-12h5m-7 3h5m-9-11h5m-8 19h5m-7-12h5m-6 9h5m-8-8h5m-5 12h5m-6-17h5m-7 14h5m-11-12h5m-6-5h5m-6 12h5m-7-1h5m-11-2h5m-8 8h5m-6-15h5m-6 16h5m-11-4h5m-13 5h5m-6-20h5m-7 2h5m-14 9h5m-8 8h5m-7 1h5m-14-17h5m-6-1h5m-14 0h5m-24 11h5m-6-9h5m-9-2h5m-6-2h5m-11 18h5m-19-4h5m-8-13h5m-10 18h5m-6 4h5m-16-8h5m-10 2h5m-9-10h5m-32-6h5m-16 16h5m-13-3h5m-8-14h5m-12 3h5m-9 17h5m-5-14h5m-17 1h5m-15-5h5m-14 3h5m-7 7h5m-11-2h5m-10 5h5m-20 1h5m-6-8h5m-8 4h5m-18-8h5m-12 1h5m-10-3h5m-28-1h5m-8 0h5m-19 1h5m-12 10h5m-8-2h5m-10-6h5m-2 43h5m-4-3h5m-3-2h5m-2 2h5m4-12h5m4 0h5m7-6h5m-4 14h5m-5-8h5m-3 15h5m6-5h5m-5-4h5m6-4h5m0-7h5m19 18h5m1-2h5m1-9h5m10 2h5m-3-7h5m-4 5h5m12-4h5m-5 16h5m21-5h5m0-7h5m14 6h5m1-10h5m29 5h5m4 7h5m6-6h5m3-5h5m-5 6h5m4 0h5m-2 2h5m5 4h5m-1-5h5m24-8h5m-5 8h5m-3-1h5m4-1h5m6-4h5m-1-7h5m8 1h5m-4 13h5m-2 8h5m-3-17h5m-4 11h5m-5-7h5m-2 5h5m-1-8h5m-3-2h5m-4 4h5m-4-8h5m-5 13h5m-2-4h5m-4-1h5m3-9h5m-5 15h5m-3-7h5m-1 13h5m-1-8h5m-5-3h5m-3 6h5m-1-1h5m-4 2h5m5-6h5m-5-5h5m-2-3h5m-2 18h5m-4-7h5m-3-3h5m2-7h5m-1 15h5m3 3h5m-1-1h5m-1-15h5m-2 10h5m-1-5h5m-2-2h5m0-3h5m-3 9h5m-3 0h5m-3-4h5m-4 3h5m5-11h5m3 4h5m1 8h5m-2 8h5m9-3h5m-4-6h5m-1 7h5m-1-1h5m-4-16h5m1 1h5m1 2h5m0-1h5m7 8h5m2 9h5m8-22h5m-4 17h5m6 4h5m5-22h5m4 22h5m-1-12h5m4 4h5m-3-3h5m-5 3h5m-2 3h5m1-15h5m2 9h5m-4 10h5m-1-8h5m-4 7h5m-4 2h5m-3 0h5m11 0h5m1-7h5m2-14h5m-4 3h5m-1 19h5m-4-12h5m-5-4h5m-4 5h5m-2 6h5m-4-10h5m-3 4h5m-5 7h5m-3 4h5m7-20h5m-5 7h5m-4 9h5m0-11h5m-1-8h5m-1 6h5m-5-4h5m-3 0h5m-4 2h5m-2 19h5m5-20h5m-3 2h5m0-2h5m-5 2h5m-3 9h5m7-13h5m2 14h5m-4 3h5m-4 2h5m5 3h5m8-10h5m8 4h5m3-6h5m6 1h5m16 0h5m36 6h5m-4-4h5m-2 0h5m5 5h5m-3-2h5m12 0h5m-9 21h5m-20-14h5m-58 8h5m-14 2h5m-17-7h5m-14 7h5m-8 0h5m-5-2h5m-18 1h5m-22-7h5m-17 1h5m-7 14h5m-22 1h5m-7-15h5m-11 9h5m-36-10h5m-31 8h5m-14-10h5m-10 14h5m-6 1h5m-23-11h5m-11 0h5m-13 1h5m-11-3h5m-10 18h5m-7-16h5m-7 1h5m-8 12h5m-7 2h5m-12 2h5m-7-19h5m-5-1h5m-16 0h5m-7 20h5m-5-17h5m-10 12h5m-7-6h5m-7-7h5m-12 18h5m-10-1h5m-7-9h5m-6 4h5m-8-15h5m-6 7h5m-9 3h5m-5 13h5m-7-5h5m-7 4h5m-9-15h5m-14 4h5m-5 8h5m-6-9h5m-5 8h5m-9-18h5m-5 21h5m-20-3h5m-9-5h5m-8 10h5m-20-22h5m-6 17h5m-11 4h5m-5-10h5m-8 8h5m-9 2h5m-8-5h5m-5 4h5m-15 2h5m-10-18h5m-5 0h5m-11 13h5m-5-10h5m-6 13h5m-8-9h5m-5 1h5m-12 1h5m-9 8h5m-8-15h5m-6 1h5m-8 11h5m-11-4h5m-6 1h5m-9-11h5m-15 15h5m-6-12h5m-14 7h5m-7 6h5m-6-10h5m-7 1h5m-10-5h5m-6-6h5m-8 20h5m-5-4h5m-6-3h5m-7 9h5m-9-20h5m-6 4h5m-9-7h5m-8 22h5m-5-22h5m-5 13h5m-6-11h5m-9 1h5m-7 1h5m-6 9h5m-10-4h5m-8-6h5m-9 12h5m-12-13h5m-9 18h5m-6-16h5m-10-1h5m-5 3h5m-26 8h5m-8-13h5m-18 4h5m-22 14h5m-6 1h5m-12 1h5m-7-6h5m-11 7h5m-7-14h5m-20 15h5m-12-7h5m-12 1h5m-5-6h5m-7 7h5m-10 2h5m-9-5h5m-6 8h5m-9-15h5m-8 6h5m-7-8h5m-6 10h5m-8-6h5m-5 10h5m-6-3h5m-5-2h5m-5-1h5m-7 3h5m-12-14h5m-7 17h5m-7-5h5m-6-6h5m-8 5h5m-11 0h5m-5-10h5m-7-4h5m-9 5h5m-6 10h5m-5-9h5m-7 9h5m-9-4h5m-10-6h5m-7 13h5m-8 0h5m-5-5h5m-10-3h5m-11 9h5m-8-9h5m-10 13h5m-5-9h5m-6 7h5m-16-14h5m-6 13h5m-8-10h5m-10-7h5m-8 8h5m-6 4h5m-7-5h5m-6 10h5m-10-7h5m-15-13h5m-11 8h5m-8 4h5m-10-9h5m-7 11h5m-7 1h5m-8-2h5m-20-6h5m-9-5h5m-5 6h5m-9 13h5m-9-15h5m-7-2h5m-9 3h5m-8-7h5m-9 2h5m-6 1h5m-11 0h5m-8-2h5m-8 4h5m-5-3h5m-8-2h5m-16 3h5m-9 12h5m147 15h5m10-3h5m1 1h5m19 8h5m22-12h5m11 8h5m0-8h5m-5 7h5m-2-3h5m1 11h5m-1 1h5m-3-6h5m-4-8h5m-3 4h5m5-1h5m-1 1h5m-2-4h5m-4 4h5m0 0h5m4-1h5m8 0h5m-1 4h5m-2 7h5m-4-5h5m1 10h5m-5-4h5m-3 6h5m-2-16h5m-5 14h5m-1-21h5m-5 11h5m-5 5h5m4 7h5m3-2h5m-4-11h5m-4-6h5m-4 14h5m-4-2h5m-5 4h5m-3-3h5m-3 4h5m-3 0h5m19-6h5m4-11h5m-1-4h5m-4 22h5m-5-5h5m-3-5h5m-1 1h5m-5 2h5m-2 4h5m-4-9h5m0 1h5m-3-4h5m-4 5h5m0 3h5m0-8h5m-2-1h5m-2 2h5m-3 3h5m-4-9h5m-4 5h5m-5 9h5m-2-6h5m-2 3h5m-2-10h5m-3 19h5m-5 0h5m-2-14h5m-4-5h5m-3 1h5m-1 14h5m-5-10h5m-2 13h5m-5-11h5m-3-6h5m-3-2h5m-3 8h5m-3 7h5m-3-8h5m-2-5h5m-2 0h5m-5 2h5m-1-6h5m-4 3h5m-4 16h5m-5-16h5m3-3h5m-1 22h5m-2-19h5m3-2h5m-5 19h5m-4-6h5m0-6h5m-1-3h5m-3 15h5m-3-20h5m12 23h5m-3-13h5m-2-9h5m1 14h5m-4-3h5m3-1h5m-5 4h5m6 8h5m-1-6h5m-3 4h5m-5-6h5m-2 6h5m9-10h5m2 0h5m-3 10h5m16-3h5m5-8h5m-2 1h5m3 8h5m-1-3h5m9 6h5m7-7h5m5-6h5m7-8h5m-1 20h5m-5-19h5m-2 5h5m-1 11h5m1-10h5m-3 2h5m7 7h5m-4-14h5m-1 6h5m15 10h5m11-9h5m-3-5h5m-2 10h5m-4-5h5m-3-4h5m10-4h5m23 21h5m-4-6h5m14 2h5m21-8h5m-3 10h5m7-17h5m-3 11h5m15 9h5m-17 18h5m-9 0h5m-24-17h5m-25 1h5m-10 19h5m-50-17h5m-25-4h5m-18 1h5m-38 22h5m-19-6h5m-12-1h5m-24 4h5m-13-6h5m-7-4h5m-5-10h5m-13 9h5m-16 14h5m-15-20h5m-7 13h5m-8-8h5m-13 13h5m-23-21h5m-34 12h5m-15-3h5m-21 4h5m-16 5h5m-6 0h5m-7-1h5m-6-4h5m-6 4h5m-5-8h5m-12-4h5m-14 10h5m-5 6h5m-16-14h5m-15 7h5m-10 8h5m-10-18h5m-7 7h5m-20-6h5m-6 5h5m-9-7h5m-5 5h5m-9 7h5m-13 6h5m-8-1h5m-7-6h5m-5-5h5m-5 14h5m-10-9h5m-10-6h5m-9 1h5m-11-7h5m-6 17h5m-7-19h5m-6 19h5m-8-1h5m-7 1h5m-10-18h5m-5 3h5m-13 13h5m-6 5h5m-9-1h5m-7-9h5m-8 9h5m-5-3h5m-14-16h5m-7 11h5m-9 3h5m-7-15h5m-6 4h5m-14 16h5m-15-19h5m-7 2h5m-11 3h5m-9-7h5m-8 4h5m-9 4h5m-7 15h5m-6-18h5m-12-5h5m-18 9h5m-167 31h5m0 2h5m2-6h5m39 1h5m-5 3h5m10 4h5m30-12h5m46-5h5m-3 20h5m38-1h5m17-6h5m-4-1h5m0 4h5m-4-3h5m-4-4h5m2 4h5m-1-1h5m-2-11h5m-2-2h5m-4-2h5m-5 2h5m-4 2h5m0 7h5m1-5h5m-5-4h5m-4 3h5m-5 4h5m-3-4h5m-4 8h5m-4-13h5m-5 15h5m-2 3h5m0-16h5m-4 5h5m0-6h5m-2 15h5m-3-4h5m-4-2h5m-5-3h5m-5 15h5m-2-16h5m-3 14h5m-4-19h5m8 4h5m5 7h5m4-8h5m0 11h5m-1-7h5m-2 13h5m-5-2h5m-3-4h5m9 1h5m16 4h5m-3-20h5m1 8h5m0 11h5m-2-6h5m-3 9h5m1-15h5m5-3h5m4 7h5m24-7h5m1-2h5m46 2h5m-4-4h5m28 23h5m-1-15h5m2 15h5m16-5h5m20 4h5m-4-13h5m26 6h5m3-7h5m-3-1h5m9-7h5m-1 9h5m18 1h5m-4-1h5m10 4h5m8 7h5m11 0h5m1 22h5m-9-2h5m-5 0h5m-6-12h5m-5 3h5m-6 4h5m-6-4h5m-29 5h5m-26 3h5m-34-12h5m-19 9h5m-21-8h5m-16 2h5m-8 0h5m-5 9h5m-24 8h5m-15-19h5m-9-3h5m-56 10h5m-5-7h5m-7 6h5m-22-5h5m-10 3h5m-22-2h5m-9-2h5m-12 17h5m-17-15h5m-20-1h5m-31 9h5m-8-1h5m-14 2h5m-20-1h5m-8-6h5m-11 10h5m-7-6h5m-13 2h5m-8-6h5m-16 2h5m-9 13h5m-5-17h5m-6 2h5m-12 3h5m-13-3h5m-12 1h5m-6-4h5m-14 0h5m-6 7h5m-6-3h5m-6 2h5m-6-3h5m-9 15h5m-7-19h5m-25 0h5m-12 15h5m-25-3h5m-5-16h5m-14 10h5m-10 4h5m-23-9h5m-8 10h5m-19 6h5m-18-9h5m-9-6h5m-26 0h5m-9-4h5m-40 17h5m-13-4h5m-26-1h5m-43-6h5m-31-5h5m-5 2h5m-10 10h5m-16 3h5m-27 0h5m-27-6h5m-27 7h5m-45-9h5m-100 24h5m38-8h5m32 17h5m4-3h5m-3 3h5m16-8h5m-4-7h5m10 16h5m3-16h5m4-1h5m17-2h5m-2 6h5m17-5h5m43 19h5m-3-5h5m37-13h5m0 4h5m5-7h5m8 11h5m24 12h5m49-5h5m2-14h5m-5 6h5m-1 0h5m6 13h5m8-12h5m64-3h5m0 10h5m4-13h5m0 13h5m-5 0h5m-2 4h5m-3-10h5m13-7h5m5 12h5m2 4h5m27-21h5m3 10h5m10 10h5m21-5h5m-2-15h5m32 4h5m-4 19h5m12 0h5m21-4h5m8-1h5m16-11h5m5 1h5m19 7h5m25-3h5m32 7h5m25-15h5m5 33h5m-11-9h5m-6-2h5m-15 0h5m-11 7h5m-30-2h5m-47 0h5m-6 9h5m-14 1h5m-34-3h5m-21-2h5m-5 11h5m-31-17h5m-26 16h5m-19-4h5m-29-4h5m-52-3h5m-8 6h5m-13-12h5m-15 7h5m-6 3h5m-13-8h5m-8 15h5m-10-7h5m-6-5h5m-8 10h5m-17 0h5m-12-13h5m-12 0h5m-6-5h5m-36-1h5m-11 14h5m-5-9h5m-14 9h5m-12 0h5m-11 4h5m-13 4h5m-6-22h5m-7 19h5m-5-4h5m-12 0h5m-14 0h5m-35 3h5m-18 1h5m-7-2h5m-21 0h5m-11-15h5m-11 8h5m-29 9h5m-12-1h5m-10-4h5m-45-4h5m-79-9h5m-26 12h5m-8-13h5m-11 8h5m-14-7h5m-51 20h5m-102-16h5m-34 3h5m-14 14h5m-6-2h5m-21 21h5m23-4h5m7-5h5m7 7h5m5 6h5m0-14h5m52-3h5m-1 3h5m6 1h5m1 5h5m11-5h5m6 0h5m4 14h5m-3-20h5m16 5h5m12-7h5m26 11h5m4 10h5m-1-8h5m-4-10h5m7 13h5m-3-17h5m5 7h5m-2 9h5m18-7h5m22-2h5m-1-2h5m4 7h5m17 10h5m8-12h5m0 13h5m0-22h5m2 4h5m-4 15h5m-2-2h5m12-10h5m11 7h5m17-2h5m-4 3h5m5-11h5m-4 16h5m16-7h5m9-8h5m2 10h5m5-8h5m0 6h5m41-7h5m28 15h5m6-7h5m-4 2h5m13-17h5m11 10h5m9 5h5m-1-14h5m25 0h5m6 2h5m12-2h5m26 2h5m39 2h5m26-5h5m13 9h5m-5-4h5m-2 18h5m19-23h5m-2 14h5m3 5h5m-32 15h5m-6-10h5m-17 5h5m-8 7h5m-7-8h5m-13 17h5m-9-18h5m-56 12h5m-81-5h5m-52 9h5m-20-7h5m-53-7h5m-18 10h5m-14 7h5m-9-13h5m-28-2h5m-81 14h5m-14-13h5m-6 2h5m-36-10h5m-32 11h5m-6-7h5m-13 19h5m-7-22h5m-6 11h5m-6-9h5m-12-2h5m-11 20h5m-45-14h5m-29 0h5m-27-1h5m-53-3h5m-10-2h5m-22 14h5m-37-11h5m-21 13h5m-61 0h5m-66-13h5m-20 10h5m-9-1h5m-12 4h5m11 13h5m7 13h5m4-16h5m26 7h5m3-7h5m-4-2h5m72 8h5m34-7h5m126 4h5m12 2h5m18 2h5m-1-4h5m11 8h5m8-13h5m4 5h5m7 11h5m3-6h5m-2-5h5m41 10h5m0-11h5m6-4h5m7 19h5m-1-10h5m37 3h5m18 3h5m7-15h5m8 1h5m-3 12h5m-2-6h5m11-6h5m-4 12h5m18-14h5m14 6h5m0-3h5m-1 17h5m51 0h5m8-14h5m3 0h5m-4 6h5m49-10h5m0 10h5m9-12h5m11 12h5m16-10h5m-46 41h5m-20 0h5m-56-4h5m-22-3h5m-5-4h5m-11-6h5m-30 16h5m-28-12h5m-6 0h5m-11 10h5m-5-11h5m-23 13h5m-11-7h5m-8-4h5m-55 6h5m-6 7h5m-57-17h5m-6 16h5m-26 0h5m-61-15h5m-37 19h5m-27-9h5m-10 0h5m-5 5h5m-8-7h5m-12-10h5m-8 19h5m-7-16h5m-25 11h5m-5 7h5m-8-1h5m-7-8h5m-14-6h5m-184-8h5m-63 21h5m-17-18h5m-52 14h5m-15-12h5m-42 8h5m-32-9h5m364 20h5m4 22h5m-3-8h5m-1 1h5m9-3h5m-2 7h5m10-3h5m31-16h5m13 13h5m10 10h5m6-4h5m-4-4h5m25-9h5m29 6h5m-3 3h5m6-2h5m6-11h5m11-1h5m35 15h5m29-1h5m14-2h5m6 1h5m19-7h5m37 11h5m-2 2h5m2-9h5m17-8h5m13 14h5m42 27h5m-17-8h5m-16-11h5m-86 22h5m-161-9h5m-47 4h5m-33 2h5m-32 2h5m-7-11h5m-41 8h5m-10 4h5m-43-21h5m-6 7h5m-22-4h5m-21-4h5m-5-1h5m-23 16h5m2 11h5m0 14h5m-4-15h5m28 15h5m1-3h5m3 0h5m0 2h5m130-12h5m48 2h5m12 5h5m32 4h5m45-2h5m48-13h5m56 6h5M136 1027h5m-4-4h5m15 7h5m5 1h5m49-3h5m20-7h5m34 6h5m0-4h5m3 2h5m-2-7h5m17-3h5m12 8h5m0-9h5m5 17h5m1-3h5m9-12h5m1 14h5m4-6h5m-2 0h5m0-10h5m-5 0h5m2 16h5m-2-2h5m22-11h5m23 9h5m-4-6h5m0 5h5m4 1h5m-4 1h5m-4-13h5m-5 6h5m1 4h5m-5-5h5m-2 3h5m-4-2h5m-5 9h5m2-7h5m-3 7h5m1-1h5m-1-11h5m12 1h5m6 8h5m0-10h5m-5 11h5m0-1h5m-1-4h5m-4 0h5m0 6h5m0 3h5m11-15h5m2 13h5m2-1h5m3-12h5m-4 4h5m-5 10h5m-1-3h5m-5 1h5m1-5h5m-4 1h5m-1-7h5m-3 5h5m2-6h5m0 3h5m2-1h5m6 3h5m-3 6h5m-4-5h5m6 8h5m1-10h5m-1-1h5m-1-4h5m7 7h5m7 1h5m3 3h5m5-2h5m-4 5h5m-4-7h5m-5-5h5m12 5h5m13 0h5m0-4h5m4 2h5m-4 0h5m1-5h5m13 10h5m-5 1h5m21 4h5m2-2h5m40-11h5m25-4h5m5 8h5m28 6h5m-5 2h5m-4-11h5m4 9h5m23 4h5m0-16h5m15 7h5m0 4h5m11 22h5m-5-5h5m-7-4h5m-8-4h5m-13 10h5m-28 9h5m-8-18h5m-14 3h5m-23-2h5m-11 11h5m-13 2h5m-9 0h5m-9-8h5m-8 3h5m-11-3h5m-36 9h5m-27-6h5m-12-3h5m-5-2h5m-23 15h5m-22-15h5m-33-3h5m-28 9h5m-20-9h5m-7 3h5m-6 3h5m-15-3h5m-39 11h5m-10-18h5m-5 22h5m-19 0h5m-6-18h5m-25 9h5m-9-3h5m-8 11h5m-6-5h5m-11-17h5m-19 14h5m-11-2h5m-6-12h5m-12 14h5m-7 6h5m-11-12h5m-13-8h5m-6 1h5m-10 5h5m-7 6h5m-5-12h5m-6 4h5m-8 2h5m-12 4h5m-7-7h5m-6 0h5m-7 11h5m-9-11h5m-6 1h5m-7 9h5m-8-1h5m-13 5h5m-16-1h5m-21-8h5m-6 12h5m-6-8h5m-13 6h5m-6 1h5m-14-14h5m-7-3h5m-7-2h5m-5 14h5m-9-5h5m-7-7h5m-8 3h5m-6 0h5m-6 14h5m-12-14h5m-6 7h5m-5-6h5m-14 11h5m-7 5h5m-6-6h5m-8-5h5m-7 1h5m-8-2h5m-6 9h5m-5-7h5m-11-9h5m-6 17h5m-8-10h5m-20-7h5m-19-3h5m-7 3h5m-14 11h5m-12-14h5m-16 8h5m-9 11h5m-6 1h5m-32 0h5m-5-14h5m-16 15h5m-17-13h5m-25 3h5m-26 8h5m-23-3h5m-22 6h5m-15-7h5m-19-1h5m-27 6h5m-7-2h5m-25-15h5m-30 18h5m-5-12h5m-18-7h5m-34 19h5m-6-11h5m-28 2h5m-10-11h5m-12 14h5m-15 19h5m2 3h5m4 1h5m0-3h5m14 5h5m61-3h5m-1-8h5m14 13h5m13-1h5m19 1h5m5-2h5m0 4h5m6-4h5m-1 7h5m7-9h5m-5-2h5m-4-6h5m3 14h5m-2-12h5m3-3h5m-3 11h5m2-15h5m7 11h5m-1-4h5m5 10h5m3-2h5m-3 2h5m5-10h5m-2-8h5m1 13h5m1-4h5m-4-5h5m0-2h5m2 15h5m-1-4h5m0-10h5m4-3h5m13 18h5m-3 3h5m1-20h5m-2 16h5m-1-9h5m6 1h5m6 1h5m-4-9h5m-4 3h5m-5-2h5m-3 8h5m-4-8h5m-4 1h5m-3 1h5m-4-1h5m-3 0h5m-5 12h5m-4 5h5m-5-7h5m-5 8h5m-3-17h5m-3 4h5m-5 13h5m-4-6h5m-3 4h5m1 3h5m-1-6h5m3 4h5m-2-12h5m2 12h5m2-11h5m-4 5h5m-5-5h5m0 10h5m2-17h5m1 18h5m-4-16h5m1 0h5m13 7h5m-3-3h5m-4 2h5m-2-5h5m-3 6h5m4 2h5m-3 8h5m-3-3h5m-4-1h5m6-12h5m-2 6h5m6 2h5m14-13h5m-4 18h5m0-7h5m-2 3h5m21-4h5m15-2h5m10 9h5m1-4h5m-1-11h5m1 3h5m25 4h5m-2-5h5m12 7h5m31-5h5m-4 4h5m3-7h5m13 20h5m1-12h5m-5 10h5m-2-5h5m-4-10h5m-1 16h5m-4-19h5m8 2h5m22 10h5m9-7h5m-2 5h5m5-3h5m-4 4h5m-3 9h5m1-14h5m-2 1h5m-4-6h5m-4-1h5m-3 9h5m6 5h5m12-8h5m0 8h5m15-5h5m-1 1h5m-5-6h5m5-3h5m1 21h5m-9 6h5m-5 11h5m-11-2h5m-17 0h5m-16 6h5m-28 1h5m-23-8h5m-16-15h5m-17 4h5m-7 19h5m-10-7h5m-30-8h5m-16-2h5m-21 16h5m-46-16h5m-19 12h5m-14-8h5m-9-6h5m-65 9h5m-18-3h5m-23 8h5m-23-16h5m-8 11h5m-18-1h5m-5 7h5m-7-13h5m-6 7h5m-20-8h5m-9 9h5m-5-5h5m-6-7h5m-7 9h5m-8 8h5m-9-1h5m-7 5h5m-7-11h5m-17-10h5m-10 12h5m-5-4h5m-16 12h5m-12-21h5m-6 18h5m-21 4h5m-9-14h5m-10 9h5m-14-7h5m-8 11h5m-6 1h5m-15-6h5m-12-4h5m-6 6h5m-10-2h5m-15-10h5m-7 14h5m-7-17h5m-6 15h5m-7 4h5m-5-9h5m-8 8h5m-5-10h5m-6 9h5m-6-3h5m-6-6h5m-6 4h5m-10-2h5m-8-14h5m-6 21h5m-6-13h5m-9-5h5m-12 2h5m-20 10h5m-10-7h5m-22 8h5m-9-6h5m-15-10h5m-7 0h5m-8 22h5m-8-12h5m-5 11h5m-17-13h5m-10-1h5m-7 8h5m-16-11h5m-14 3h5m-37 14h5m-6-17h5m-34 4h5m-14 13h5m-16-8h5m-48-10h5m-9-1h5m-15 10h5m-31-4h5m-9 7h5m-9-3h5m-5-10h5m-29 8h5m-19-4h5m-7 6h5m-6-7h5m-16 18h5m-6-20h5m-36 11h5m-9-11h5m-7 0h5m-6 10h5m-16 4h5m-5 2h5m-17-1h5m-7-7h5m-6 3h5m-7 3h5m-4 16h5m-3-7h5m1 6h5m-1-5h5m-2 11h5m-4-14h5m-2 17h5m2-14h5m-1 7h5m0 8h5m-5-11h5m24-6h5m4 19h5m-1-1h5m-4-18h5m14 22h5m0-14h5m4 4h5m3 1h5m10-5h5m-2 10h5m21-14h5m1-4h5m-2 19h5m6-15h5m25 15h5m-4-16h5m-3 12h5m3-6h5m19 13h5m1-13h5m-3 12h5m7-8h5m-2-4h5m16 5h5m-2-3h5m4 10h5m0-17h5m0 9h5m-4-2h5m5 10h5m-2-19h5m2 11h5m1-8h5m-2-1h5m24-3h5m2 7h5m-5-6h5m0-2h5m-1 18h5m6-4h5m0-12h5m2 19h5m-2-13h5m0 5h5m0 4h5m2 2h5m-1-19h5m-5 5h5m-1 0h5m-4 5h5m1-1h5m0-1h5m-4-6h5m0 7h5m-3 2h5m-2-10h5m-3 2h5m6 9h5m-2-6h5m2-1h5m-4 3h5m9 14h5m-4-11h5m-1-11h5m-3 11h5m3-7h5m-3 6h5m-4 3h5m2 9h5m-3-12h5m-4-11h5m-1 17h5m-5-1h5m5-2h5m-2 8h5m13-9h5m1 4h5m20-10h5m-4 11h5m-3 4h5m10-15h5m-5-2h5m5 8h5m-4-4h5m22-2h5m7 9h5m-3 1h5m6-5h5m11-3h5m0-8h5m-3 6h5m24-2h5m1 0h5m4 18h5m14-8h5m1-9h5m1-2h5m-2-3h5m14 19h5m5-19h5m-2 11h5m-3-2h5m0 7h5m3 1h5m7-11h5m-4 12h5m-4-2h5m4-5h5m1-10h5m-3 6h5m-2 10h5m-3 1h5m-3-10h5m1 8h5m-2-2h5m1-11h5m8 6h5m-3-5h5m-4 9h5m-5-7h5m-1 4h5m-1-4h5m-2-6h5m2 17h5m0-1h5m-31 11h5m-9 15h5m-9-5h5m-7-2h5m-15 9h5m-9-19h5m-6 21h5m-7-16h5m-14-4h5m-5 13h5m-6 6h5m-12 1h5m-7-1h5m-15-14h5m-7 3h5m-9-8h5m-5 18h5m-10-11h5m-8-8h5m-13 14h5m-8 5h5m-6-13h5m-12 12h5m-6-2h5m-5 1h5m-5-2h5m-8 3h5m-9-4h5m-7-12h5m-11 8h5m-15 9h5m-23-10h5m-16-6h5m-9 1h5m-10-5h5m-10 21h5m-17-5h5m-13 5h5m-9-19h5m-51 20h5m-9-14h5m-44 10h5m-6-16h5m-11 17h5m-10-6h5m-16-9h5m-17 11h5m-10 2h5m-7-10h5m-17 8h5m-7 3h5m-6-15h5m-6-1h5m-6 18h5m-5-3h5m-5 1h5m-11-5h5m-15-12h5m-14 8h5m-16 9h5m-11-7h5m-7-8h5m-9 3h5m-6 13h5m-6-6h5m-10 3h5m-5-12h5m-6 2h5m-14-2h5m-10 12h5m-9-13h5m-12 12h5m-6-7h5m-6 7h5m-13-7h5m-20 11h5m-5-4h5m-9-7h5m-10 8h5m-9-15h5m-6 19h5m-11-7h5m-6-1h5m-6-7h5m-6-2h5m-7 2h5m-10-3h5m-10-2h5m-9 6h5m-7 15h5m-11-20h5m-12-1h5m-18 16h5m-14-5h5m-9-4h5m-15 9h5m-25-1h5m-7-10h5m-21-5h5m-9 17h5m-11-16h5m-22 6h5m-6-5h5m-6 18h5m-22-2h5m-43 2h5m-27-3h5m-40 1h5m-28-14h5m-10 18h5m-43-21h5m-14 9h5m-6 8h5m-53-10h5m-9-8h5m-10 5h5m-9-4h5m-38 11h5m-8 8h5m-9 0h5m-9-12h5m-7 6h5m-3 31h5m-4-21h5m2 2h5m15 13h5m2-15h5m11 11h5m-3-4h5m-1 13h5m-2-21h5m-5 19h5m-4-18h5m-1 14h5m-5 1h5m2 3h5m-1-14h5m2-4h5m4 16h5m-3-4h5m56 6h5m50-4h5m30 4h5m14-15h5m8 18h5m-4-22h5m-3 13h5m-1-11h5m6 2h5m7 5h5m10 11h5m11-8h5m-3 6h5m-4-6h5m-5-8h5m-4-3h5m15 12h5m0 7h5m2 1h5m20-3h5m-5-3h5m-4 2h5m-3-9h5m-3-4h5m17 17h5m0-1h5m-2-14h5m-2 11h5m-5-3h5m-4-7h5m4 15h5m-2-7h5m2 4h5m-2 3h5m1-9h5m-5 9h5m1-11h5m4 5h5m-4-13h5m-2 6h5m9 8h5m2-12h5m-3 13h5m0-8h5m-2-1h5m-5-2h5m1 12h5m-4-8h5m0 12h5m-4-19h5m-5 1h5m-3 15h5m0-6h5m-4-2h5m2-12h5m-3 5h5m3 16h5m-2-9h5m18-3h5m21-8h5m9 18h5m8-16h5m2 3h5m-3 7h5m-2-3h5m26 10h5m-2-17h5m-4 15h5m8-17h5m0 22h5m24-3h5m6-3h5m3-2h5m17-7h5m-3 8h5m-2 2h5m-3-5h5m-2-5h5m4-8h5m-4 8h5m0 1h5m-3-6h5m1 1h5m-4-1h5m5 3h5m-4 12h5m-2-3h5m0-10h5m-1 15h5m4-15h5m3-4h5m26 22h5m9-4h5m-3-12h5m-4-4h5m11 13h5m1 11h5m-9-1h5m-14 4h5m-10-5h5m-6 10h5m-7 2h5m-50-2h5m-12 10h5m-12-18h5m-8 9h5m-10 9h5m-8 0h5m-21-17h5m-6-1h5m-7 11h5m-8-9h5m-13-5h5m-20 19h5m-12 2h5m-11-2h5m-5-2h5m-14-10h5m-22 12h5m-12-1h5m-6-9h5m-10 0h5m-15 10h5m-7-3h5m-10-16h5m-42 16h5m-18-5h5m-26 2h5m-23 5h5m-13 5h5m-7-5h5m-8-16h5m-13 20h5m-14-15h5m-11 0h5m-24 12h5m-11-4h5m-5 7h5m-7-10h5m-9-12h5m-12 1h5m-12 8h5m-5 2h5m-7 10h5m-7-18h5m-6 19h5m-6-22h5m-9 7h5m-6-7h5m-5 10h5m-5 1h5m-6 0h5m-11 7h5m-5-18h5m-9 16h5m-6-6h5m-7 6h5m-5 5h5m-12-16h5m-8 16h5m-5-13h5m-6 11h5m-8 3h5m-20-16h5m-15 14h5m-6-14h5m-6 12h5m-8-15h5m-8-2h5m-8 15h5m-6 4h5m-9-8h5m-5 2h5m-6-7h5m-5 8h5m-8 8h5m-10-4h5m-5-1h5m-7-15h5m-7 20h5m-7-9h5m-9-8h5m-29 16h5m-38-6h5m-11 4h5m-8-17h5m-9 15h5m-7 4h5m-16-3h5m-21-18h5m-17 10h5m-12-5h5m-8 4h5m-9-8h5m-10 8h5m-6 2h5m-15-11h5m-13 9h5m-14 8h5m-13-17h5m-16 21h5m-12-10h5m-8-11h5m-8 1h5m-13 1h5m-8 13h5m-5 2h5m-7-14h5m-36 14h5m-54-18h5m-20 10h5m-7 0h5m-10-10h5m-6 21h5m-14-16h5m-28 18h5m-6-23h5m-25 10h5m-9-1h5m-29 9h5m-14-17h5m-27 16h5m-8 3h5m-11-14h5m-26 21h5m10 5h5m-3 6h5m13-3h5m-3 11h5m12-8h5m1-5h5m3 12h5m-2-11h5m-2-5h5m-4 17h5m-4-11h5m-3 12h5m8-7h5m9 5h5m3-11h5m18-7h5m-1 14h5m18-2h5m40 2h5m19-17h5m20 7h5m7 7h5m0 0h5m4 2h5m0-14h5m-5 16h5m-2 5h5m-3-12h5m4-2h5m-1 4h5m-1 10h5m1-7h5m-5-15h5m24 15h5m18-6h5m-1-9h5m-3 17h5m-3-2h5m-1-6h5m-2-2h5m-4-6h5m3 1h5m-3-1h5m-2 16h5m3-3h5m3 7h5m3-6h5m1 6h5m-1-18h5m7 6h5m4 0h5m2-10h5m-4 5h5m0 0h5m-1 1h5m-4 8h5m-4-10h5m-4 18h5m-5-5h5m-5-6h5m-3-2h5m-3-9h5m1 11h5m-2 5h5m-2 1h5m-1 1h5m-3-17h5m-3 1h5m1 11h5m7-13h5m3 3h5m-4 3h5m-5 4h5m2 3h5m-2 0h5m-5 5h5m0-14h5m5 12h5m-5 4h5m-1-11h5m-1 9h5m-1 1h5m4-7h5m-1 2h5m-4 4h5m-5-14h5m-1 15h5m-1-9h5m-5 6h5m4-11h5m8 10h5m20-6h5m9 1h5m-3 12h5m8-13h5m-4-3h5m-3 4h5m7 10h5m-1-11h5m-3 10h5m0-3h5m-1 2h5m-1 0h5m1-2h5m-4-3h5m-1 6h5m-2-18h5m-4 18h5m-5-5h5m-2-9h5m-2 4h5m-4 1h5m-5 13h5m-4-12h5m9-7h5m-5 1h5m-3 2h5m-5 15h5m-5-22h5m-1 2h5m-4 4h5m9 14h5m2-20h5m-4 4h5m3-3h5m-4 17h5m4-14h5m-4 9h5m0 6h5m-1-8h5m-3-5h5m-1 6h5m5 2h5m-4 5h5m-4-15h5m12 10h5m1 5h5m3-2h5m7 5h5m25-14h5m7-1h5m-1 15h5m0-5h5m-3-4h5m2-12h5m-6 25h5m-10 18h5m-6-6h5m-33-1h5m-17 7h5m-5-15h5m-23 4h5m-26 5h5m-6-5h5m-9 4h5m-8 7h5m-5 2h5m-15-12h5m-16-9h5m-8 19h5m-8-6h5m-6-3h5m-12-8h5m-12 7h5m-23 7h5m-10-6h5m-18 8h5m-23-15h5m-13-1h5m-5 0h5m-15-1h5m-20 16h5m-7-12h5m-9-3h5m-8 7h5m-10 12h5m-7-13h5m-6-6h5m-7-1h5m-5 16h5m-7-10h5m-10 8h5m-11 5h5m-6-21h5m-10 18h5m-9 2h5m-20 2h5m-9-18h5m-14 15h5m-5-16h5m-18 7h5m-9 10h5m-9-9h5m-14 0h5m-12 5h5m-9-6h5m-6-2h5m-17-2h5m-10 4h5m-12 1h5m-9-11h5m-6 18h5m-20 5h5m-5-12h5m-8 9h5m-9-20h5m-9 19h5m-6-3h5m-8-16h5m-6 18h5m-6 0h5m-6-9h5m-9 8h5m-9 4h5m-7-5h5m-7 6h5m-5 1h5m-7-23h5m-6 16h5m-5 7h5m-7-22h5m-8 8h5m-7 9h5m-10-4h5m-5-8h5m-6 8h5m-11-8h5m-6 10h5m-15 0h5m-17 7h5m-5-6h5m-9-14h5m-9 2h5m-7 12h5m-11-9h5m-7 2h5m-14-9h5m-18 20h5m-7-17h5m-5 12h5m-12-9h5m-17-7h5m-9 3h5m-14 16h5m-8-11h5m-7 8h5m-30-2h5m-18 4h5m-12 5h5m-8-18h5m-32-2h5m-10 8h5m-8 1h5m-8 8h5m-25-1h5m-21 1h5m-14-6h5m-17 8h5m-6-6h5m-7-10h5m-10 13h5m-30-14h5m-5 17h5m-12-22h5m-10 5h5m-16-4h5m-14 1h5m-6 19h5m-18-7h5m-6-4h5m-46-2h5m-20 1h5m-14-5h5m-12 1h5m-24 12h5m-23-11h5m-10-5h5m-6 16h5m-12-2h5m-19-9h5m-11 16h5m-12-12h5m-7 6h5m-2 22h5m-5 2h5m-2-3h5m-1 3h5m-2-5h5m0 7h5m16-4h5m3-3h5m-5 1h5m3 10h5m21-20h5m10-1h5m-4 10h5m-5 0h5m10 8h5m-1 2h5m10 2h5m4-14h5m13 3h5m1-10h5m20 8h5m3-3h5m1 1h5m7 2h5m-1 4h5m-3 3h5m12-6h5m0-6h5m3 18h5m2-8h5m-3-13h5m-2 5h5m6 1h5m2 0h5m-5 6h5m0 4h5m-4 3h5m7-11h5m3-1h5m2-4h5m-4-2h5m8 10h5m-2 7h5m-4-10h5m-3-6h5m9 14h5m-3-6h5m2 5h5m-4-6h5m8 5h5m-3-4h5m2-6h5m-2 0h5m2-2h5m-1 7h5m-4 11h5m3 1h5m-4-7h5m-5-5h5m-2 0h5m2-9h5m-5 18h5m4-2h5m0-1h5m10-1h5m2 2h5m-4-16h5m-4 21h5m-4-9h5m-2-13h5m0 19h5m-3-14h5m-5 4h5m-3 0h5m-1 8h5m-3-4h5m-4-5h5m-3 0h5m3 8h5m-3 0h5m1 4h5m-1-1h5m-3-7h5m-3 10h5m-4-11h5m-1-1h5m-1-8h5m-4-3h5m-5 3h5m-4-1h5m-4-2h5m-5 2h5m-4 3h5m-3 3h5m-5 6h5m-5-7h5m-2-5h5m-5 1h5m-4 18h5m-4-16h5m-3 14h5m-5 2h5m-3-17h5m-3 1h5m-2 18h5m-3-6h5m-2-5h5m-3 5h5m-5 6h5m-1-22h5m-1 16h5m-4-13h5m-1 15h5m-4-9h5m-5 6h5m-2 1h5m-3-17h5m-1 13h5m-2-9h5m-3 7h5m-4 6h5m-5-9h5m-4-7h5m-4 4h5m4 0h5m6 0h5m2 12h5m-3-10h5m16 16h5m-5-4h5m-3 1h5m-5-6h5m-5-2h5m-4 10h5m-4 1h5m-3-10h5m0 0h5m-4 1h5m-2-10h5m-2 4h5m-4-7h5m-4 22h5m-4-8h5m-4 0h5m4-7h5m9 11h5m8-3h5m1 5h5m18-15h5m10-5h5m-2 0h5m0 17h5m-2 1h5m-5-5h5m12-7h5m-4 13h5m1-19h5m21 2h5m1 20h5m15-7h5m13-15h5m42 2h5m0 3h5m6 8h5m2-7h5m-5 12h5m2-3h5m11 6h5m-1-20h5m-10 36h5m-28 7h5m-14-20h5m-14 5h5m-9 8h5m-10 7h5m-6-20h5m-6 6h5m-44 2h5m-15 2h5m-13-2h5m-17 11h5m-14-17h5m-7 20h5m-17-8h5m-29 4h5m-8 2h5m-20 1h5m-13-3h5m-7-4h5m-6-9h5m-8-2h5m-27 8h5m-6-11h5m-9 16h5m-8 5h5m-6-20h5m-15 3h5m-5 15h5m-13-6h5m-17 4h5m-6 1h5m-9 2h5m-6 0h5m-7-16h5m-26 7h5m-13-11h5m-14 3h5m-5 2h5m-7 1h5m-13-3h5m-8 7h5m-5-8h5m-8 1h5m-7 10h5m-6-14h5m-6 19h5m-9-16h5m-13 12h5m-8 0h5m-6-3h5m-6-8h5m-7 13h5m-5 6h5m-5-2h5m-8-7h5m-6-6h5m-12 12h5m-9-1h5m-8-8h5m-7-8h5m-10 16h5m-5-17h5m-9 14h5m-5 2h5m-6-12h5m-6-5h5m-8 16h5m-7 6h5m-7-4h5m-5-3h5m-9 0h5m-6-3h5m-6-5h5m-6 0h5m-7-4h5m-8 10h5m-5 3h5m-5-17h5m-9 23h5m-5-11h5m-8-5h5m-8-3h5m-7 0h5m-6 8h5m-5-1h5m-5-1h5m-6-10h5m-5 12h5m-9 7h5m-5-19h5m-7 21h5m-11-15h5m-7 1h5m-23-2h5m-15 17h5m-17-18h5m-6 11h5m-11 4h5m-9-18h5m-8 4h5m-14 11h5m-23 1h5m-27 3h5m-20 0h5m-41 2h5m-8 1h5m-6-2h5m-12-9h5m-15 5h5m-8-14h5m-8 5h5m-16 12h5m-9-16h5m-15 3h5m-9-5h5m-8 21h5m-7-1h5m-23-22h5m-6 11h5m-9 2h5m-16-7h5m-24 4h5m-12-6h5m-19 5h5m-14-1h5m-7-2h5m-12-5h5m-11 9h5m-20-4h5m-8 1h5m-16 16h5m-14-22h5m-26-1h5m-6 12h5m-12-9h5m-6 12h5m-10-11h5m-18 19h5m-22-15h5m-8 14h5m-18 1h5m-12-10h5m-15-12h5m-14 12h5m-9-1h5m-7 3h5m-13 0h5m-13-10h5m-8 18h5m-8-1h5m-8-19h5m-2 27h5m-5 5h5m-4 10h5m-4-2h5m21-4h5m5-7h5m-2 1h5m-5 3h5m0 6h5m-4 0h5m3 5h5m1-5h5m6-9h5m-3 4h5m11 4h5m-4-4h5m-4-5h5m-5 15h5m14-6h5m20-4h5m-5 3h5m1 3h5m-3 2h5m1-17h5m5 13h5m-3-7h5m8 3h5m-1 4h5m-5-16h5m-2 11h5m3-12h5m-1 12h5m2 3h5m-3 8h5m1 0h5m-3-2h5m-3-16h5m7 17h5m1-15h5m-1 13h5m3-17h5m-3 3h5m2 15h5m-5-1h5m-3 1h5m-4-3h5m-3-1h5m5-13h5m-2 16h5m-5-12h5m0 14h5m1-3h5m-5-2h5m-3-7h5m5-3h5m-3-4h5m-4 2h5m-1 17h5m-5 0h5m9-2h5m9 2h5m-5-5h5m0 4h5m-1 0h5m-4-14h5m-2 10h5m9-13h5m-4 14h5m1 3h5m-5 0h5m-2-4h5m3-2h5m-5 7h5m5-19h5m-3 13h5m-4-4h5m-2 0h5m-4-2h5m-4 11h5m-2-2h5m-4-5h5m-1-9h5m-2 16h5m-5-14h5m-3 6h5m-2 2h5m-4 1h5m-2 0h5m0 3h5m-4 1h5m0 2h5m-5-9h5m3 10h5m-1-11h5m-4 0h5m-5-2h5m2 10h5m-4-8h5m-3-2h5m-4 12h5m-4-2h5m1-12h5m-4 8h5m0-12h5m-5 17h5m-5-15h5m0 1h5m-4 14h5m-5-21h5m9 11h5m-5-1h5m-5 6h5m-4-1h5m-2-4h5m-4 8h5m1-5h5m-3-14h5m-4 23h5m-3-17h5m0 3h5m-3 12h5m-5-6h5m-3-15h5m-1 14h5m-3 2h5m-2-4h5m-2 8h5m-5-1h5m-3-10h5m-2 7h5m-5-11h5m-4 8h5m-5-5h5m-3 6h5m-5-1h5m-5-6h5m-3-4h5m-5 3h5m-4 0h5m-5 1h5m-4-6h5m-4 5h5m-5 10h5m-5-8h5m-5 2h5m-4-1h5m0-3h5m-5 12h5m-4-12h5m-3 12h5m-5-18h5m-5 0h5m-3 20h5m-4-6h5m-5 5h5m-5-9h5m-4-5h5m-4 1h5m-5 9h5m-2-7h5m-2 0h5m-3-5h5m-3 20h5m-5-1h5m-4-6h5m-5 3h5m-3 2h5m-2-11h5m-5 5h5m-3-6h5m-4-4h5m-4-1h5m-4 17h5m-2 2h5m-5-19h5m3 12h5m-5 6h5m-4-3h5m-3-3h5m-4-3h5m0-1h5m-1 6h5m0-6h5m4-3h5m-3 14h5m-4-9h5m-2 4h5m13-3h5m-1 3h5m15-1h5m-5-4h5m-4 3h5m-3-11h5m1 14h5m1 1h5m-2-7h5m-2 8h5m-2-7h5m-2-9h5m-4 12h5m-1 3h5m-1 2h5m-1-7h5m-4 4h5m-5 3h5m5-19h5m-4 15h5m-2 0h5m-1 2h5m0-12h5m-3-4h5m5 11h5m-1-8h5m-3-2h5m6-2h5m10-1h5m0 16h5m-1 3h5m-4-11h5m5-7h5m-4 15h5m-4 4h5m-4 1h5m-3-18h5m-3 1h5m2 15h5m2-16h5m4 10h5m7-9h5m-1-1h5m16 14h5m3 1h5m-4-3h5m2-11h5m-3-1h5m5 17h5m-3-4h5m-3-5h5m-3-6h5m0 10h5m15-6h5m-4 0h5m-3 8h5m1 10h5m-8 7h5m-11 7h5m-6-14h5m-7 10h5m-8 4h5m-7 0h5m-9-2h5m-20-11h5m-10 1h5m-19 6h5m-6-3h5m-7-4h5m-6 2h5m-9 4h5m-25 0h5m-9-9h5m-8 7h5m-7-7h5m-11 0h5m-21 10h5m-6 8h5m-11-18h5m-7 14h5m-6-6h5m-5-10h5m-10 8h5m-8 5h5m-6 1h5m-5-15h5m-10 13h5m-7-10h5m-12 6h5m-6 3h5m-10 2h5m-6-11h5m-6 0h5m-10 6h5m-26-3h5m-6-5h5m-13 14h5m-10-3h5m-11-1h5m-5-5h5m-12 14h5m-7-14h5m-13 15h5m-7-10h5m-6 9h5m-8-20h5m-7 12h5m-22 1h5m-10-11h5m-6 6h5m-7 7h5m-8-4h5m-12-10h5m-8 10h5m-6 2h5m-6-10h5m-7-3h5m-6 6h5m-10 8h5m-10-14h5m-6 18h5m-6-16h5m-8-2h5m-9 2h5m-9 2h5m-5 10h5m-9 0h5m-8-5h5m-7 9h5m-7-3h5m-7 1h5m-7-14h5m-6 4h5m-5 13h5m-8-14h5m-6 10h5m-9-11h5m-5 17h5m-6-12h5m-9 8h5m-6-4h5m-12-13h5m-8 21h5m-6-19h5m-6 14h5m-6-3h5m-9-12h5m-5 14h5m-5 1h5m-5-13h5m-14 6h5m-5-4h5m-6 2h5m-6 4h5m-6 8h5m-6-15h5m-8 1h5m-5 14h5m-6-18h5m-5 13h5m-6-12h5m-6 0h5m-6 2h5m-6 19h5m-8-13h5m-6-4h5m-5 4h5m-6 7h5m-6 6h5m-5-1h5m-5-7h5m-6 4h5m-5 2h5m-6 1h5m-6-14h5m-5 13h5m-7-19h5m-5 21h5m-8-10h5m-5 1h5m-5 0h5m-5 8h5m-7-3h5m-5 4h5m-6-18h5m-7 5h5m-6 12h5m-5-19h5m-6 19h5m-5-21h5m-7 7h5m-5 1h5m-6 4h5m-6-10h5m-5 4h5m-8 13h5m-6-3h5m-5-13h5m-7 4h5m-6 10h5m-5 0h5m-8 2h5m-5-15h5m-5-3h5m-6 14h5m-6-13h5m-8 3h5m-5 10h5m-6 3h5m-9-3h5m-5-10h5m-5-1h5m-8 5h5m-6 12h5m-5 0h5m-6-4h5m-6-9h5m-6-3h5m-9-1h5m-7 10h5m-5-9h5m-7 4h5m-7 8h5m-6-17h5m-9 10h5m-7-6h5m-7-4h5m-6 14h5m-9 2h5m-8 3h5m-8-10h5m-6 13h5m-5-8h5m-9-3h5m-6-12h5m-7 22h5m-6-16h5m-9 12h5m-6 5h5m-6-15h5m-7-3h5m-5 10h5m-15-12h5m-7 17h5m-6-19h5m-5 8h5m-7 1h5m-6 9h5m-7-17h5m-5 0h5m-7 20h5m-6-8h5m-9-7h5m-7 8h5m-6 6h5m-11-19h5m-11 13h5m-8 5h5m-9-15h5m-5-4h5m-6 20h5m-10-12h5m-7-5h5m-6 0h5m-9 3h5m-6-7h5m-8 4h5m-8 19h5m-10-15h5m-7-5h5m-13 7h5m-7-4h5m-11 1h5m-7-5h5m-6-2h5m-6 21h5m-6-16h5m-5 14h5m-6 1h5m-6-2h5m-6-11h5m-8 0h5m-8-6h5m-20 0h5m-9 8h5m-6 0h5m-7 4h5m-7 1h5m-13-6h5m-7-4h5m-18 3h5m-8 8h5m-12-6h5m-6 2h5m-7-6h5m-5-3h5m-8 8h5m-6 10h5m-12-6h5m-10-12h5m-6 12h5m-6 6h5m-14-8h5m-7-12h5m-6 12h5m-6-12h5m-5 19h5m-7 3h5m-9-14h5m-6-6h5m-5-2h5m-6 22h5m-6-12h5m-10 0h5m-8 8h5m-11 2h5m-7-7h5m-6 7h5m-5-8h5m-10 0h5m-6-3h5m-5 6h5m-8-6h5m-5-3h5m-6-4h5m-5 6h5m-9-7h5m-14 20h5m-8-3h5m-8 1h5m-8 2h5m-6-2h5m-7 0h5m-6-8h5m-15 2h5m-10-10h5m-5 8h5m-9-3h5m-14 14h5m-7-16h5m-5 17h5m-9-12h5m-12-2h5m-6 1h5m-7 1h5m-9-10h5m-5 11h5m-6-9h5m-18 4h5m-6 0h5m-5 2h5m-5 8h5m-8-10h5m-7 15h5m-10-15h5m-6 8h5m-6 2h5m-7-2h5m-6-2h5m-6 3h5m-6 5h5m-6-19h5m-6 9h5m-5-5h5m-7 2h5m-7 15h5m-7-18h5m-14 3h5m-6 3h5m-9 1h5m-6 9h5m-9-2h5m-8 4h5m-5 0h5m-9-12h5m-9 8h5m-12-14h5m-11 11h5m-13 5h5m-10-3h5m-11 3h5m-6-1h5m-9-10h5m-9-10h5m-8 4h5m-11 7h5m-5 3h5m-7 4h5m-15-15h5m-5 9h5m-11-6h5m-6 10h5m-10-1h5m-13-10h5m-6 30h5m12 12h5m4-10h5m-5-13h5m2 11h5m2-10h5m6 1h5m2 13h5m1-15h5m-2 1h5m2 13h5m6 2h5m5 7h5m-1-14h5m20 11h5m3 3h5m-3-20h5m0 17h5m0-4h5m-2 5h5m4-8h5m7-8h5m16 17h5m-3-3h5m-1 0h5m9 0h5m-1-14h5m-4 15h5m7-19h5m-1 6h5m-4-4h5m-4 1h5m-2 7h5m4 9h5m-4-16h5m11 3h5m-5-2h5m10-5h5m4 1h5m-5 14h5m-2-3h5m-5-4h5m-3 8h5m22-3h5m-4 7h5m-1 1h5m22-4h5m0-10h5m-2 11h5m0-10h5m8 13h5m1-5h5m2-8h5m0-4h5m11 0h5m1 2h5m-4 14h5m-2 2h5m-4-21h5m-4 18h5m-4 1h5m7 1h5m-1-9h5m-2 11h5m-4-22h5m-1 8h5m-2 2h5m-3 7h5m-2-12h5m-5 5h5m1-2h5m-2 6h5m-5-13h5m-4 9h5m-2-2h5m-5-2h5m-4-6h5m-1 9h5m-2 8h5m-3-4h5m-3-8h5m0-6h5m-2 13h5m-1-9h5m-4-1h5m-2 13h5m-5-8h5m-4 15h5m-5-5h5m-4 5h5m-2-9h5m-5-5h5m-2-8h5m-1 22h5m-5-20h5m-5 0h5m-4 17h5m-5-19h5m-2 0h5m1 18h5m-2-19h5m-1 5h5m-4 3h5m-3-4h5m-5 6h5m-5-9h5m-4 16h5m-5-12h5m-4 5h5m-3 5h5m-2-15h5m-5 14h5m-5-1h5m-4-7h5m-4-2h5m-3 2h5m-4 10h5m-4-16h5m-4 8h5m-2-1h5m-4 15h5m-3-15h5m-5 9h5m-3-16h5m-5 14h5m-3-9h5m-5 2h5m-3 11h5m-2-8h5m-5-6h5m-4-1h5m-4 16h5m-3-2h5m-4-13h5m-5-4h5m-2 1h5m-5 5h5m-3 8h5m-4-1h5m0-3h5m-4-5h5m-3 5h5m-3-4h5m-3 12h5m-3-6h5m-5 9h5m-4-7h5m-2-14h5m-5 6h5m0 10h5m-2-8h5m-3 4h5m-5 10h5m-1-10h5m-3 4h5m-4 2h5m1 5h5m-5-22h5m2 16h5m-4-16h5m21 18h5m-2-13h5m-5-5h5m-2 15h5m-3 7h5m-5-3h5m-4-11h5m-4-2h5m4-3h5m6 16h5m-1-10h5m5 5h5m3-7h5m5 7h5m3 5h5m3 2h5m0-11h5m-3-11h5m7 23h5m-5-20h5m-3-1h5m-4 9h5m-3 6h5m0-2h5m-3 6h5m-3-20h5m10 3h5m2 1h5m6 6h5m-2-8h5m-1 1h5m3 19h5m15-1h5m16-5h5m-4-2h5m34-1h5m0 4h5m-2-17h5m3 3h5m0 16h5m-3-11h5m1-2h5m-3 6h5m0-1h5m-2 3h5m-10 12h5m-5 9h5m-27-2h5m-25-4h5m-18-6h5m-11 23h5m-12-16h5m-16 14h5m-7-7h5m-9 1h5m-8-5h5m-6 8h5m-9 4h5m-9-4h5m-19-18h5m-7 18h5m-12-15h5m-5 6h5m-12 0h5m-13 7h5m-8-10h5m-9 8h5m-7 8h5m-14-22h5m-7 2h5m-14 14h5m-14-12h5m-8 17h5m-9 1h5m-14-11h5m-25-10h5m-5 22h5m-13-22h5m-6 8h5m-14 9h5m-8-9h5m-14 11h5m-18-14h5m-8 12h5m-8-10h5m-9-5h5m-9 1h5m-7 8h5m-22 5h5m-11-14h5m-12 16h5m-9-18h5m-11 3h5m-28 4h5m-14 7h5m-6-4h5m-7 11h5m-10-19h5m-11 5h5m-6 0h5m-7 9h5m-10-3h5m-5 3h5m-6-17h5m-6 17h5m-5-17h5m-9 23h5m-8-8h5m-7-15h5m-7 4h5m-7 14h5m-6-10h5m-14-7h5m-6 21h5m-8-9h5m-15-2h5m-9-11h5m-7 17h5m-10-12h5m-7 9h5m-11 0h5m-10 7h5m-26-1h5m-6-18h5m-7 4h5m-10 4h5m-10 0h5m-10 8h5m-15-10h5m-8 9h5m-7 1h5m-7-12h5m-5 8h5m-10 3h5m-7-13h5m-8-2h5m-7 8h5m-9 0h5m-17 12h5m-8-22h5m-8 11h5m-9 3h5m-15 0h5m-7-9h5m-20 7h5m-24-4h5m-12-7h5m-17 1h5m-10 2h5m-13-1h5m-9 9h5m-12-8h5m-54 3h5m-6-2h5m-30 1h5m-26 16h5m-6-6h5m-10-13h5m-11 1h5m-5 4h5m-12 5h5m-6 1h5m-6-2h5m-8-4h5m-6 4h5m-15-1h5m-49-5h5m-12 2h5m-9-1h5m-7 9h5m-6-12h5m-12 4h5m-7 13h5m-6-1h5m-12 3h5m-13-11h5m-7-10h5m-6-2h5m-7 7h5m-9-7h5m-11 0h5m-13 6h5m-7 2h5m-10-8h5m-5 5h5m-16-4h5m-12 10h5m-12 0h5m-11 2h5m-14 4h5m-9 0h5m-6 1h5m-7-11h5m-10 13h5m-9-9h5m-11 15h5m4 14h5m-4-3h5m5-2h5m-2-5h5m-2 3h5m3 13h5m7-2h5m13-14h5m-2-3h5m-4 2h5m2-5h5m-4 4h5m-2 18h5m3-5h5m5 1h5m-5 5h5m-3-23h5m-1 20h5m19-14h5m-4-5h5m-4 19h5m-1-4h5m-1 6h5m-3-3h5m3-2h5m-4 2h5m3-19h5m-1 7h5m12 0h5m-4 12h5m2-10h5m4-6h5m6 2h5m-4 1h5m1-2h5m1 16h5m13-17h5m5 6h5m3-4h5m8-3h5m0 5h5m-2 8h5m-1 2h5m8-17h5m15 14h5m0 2h5m8-7h5m2 10h5m15-14h5m-3-3h5m-5 15h5m7-7h5m11-1h5m-3 6h5m-4-6h5m-4 2h5m-5-5h5m1 10h5m4-11h5m-5-5h5m5 17h5m-5 4h5m-3-8h5m20-3h5m8-3h5m-2 12h5m-5-2h5m0-5h5m-3-12h5m6 2h5m3 5h5m2-7h5m6 3h5m3 10h5m-1 3h5m8-3h5m-2 1h5m2-7h5m-4-7h5m-4 7h5m-4 12h5m-5 4h5m0 0h5m-5 0h5m-5-20h5m-3-1h5m-3 19h5m-4-8h5m-4-3h5m-1 11h5m-1 0h5m0-5h5m-3-10h5m12 7h5m7 10h5m1 0h5m-1-15h5m9-7h5m-3 12h5m6 6h5m-2-17h5m6 0h5m-3 9h5m-3-7h5m11-1h5m2 17h5m2-2h5m-4-2h5m-2-14h5m18 16h5m-3-14h5m1 14h5m-5-18h5m3 9h5m-2-6h5m3 1h5m-1 1h5m-5 17h5m21-22h5m6 13h5m0-9h5m4 13h5m19-14h5m-1 12h5m-2-14h5m-3 4h5m0 10h5m-2-14h5m2 21h5m6-20h5m2 0h5m-3 15h5m-2-11h5m-4 2h5m5-3h5m3-4h5m4 11h5m-3-7h5m-5 2h5m17-4h5m-1 6h5m-4-7h5m-6 31h5m-5 12h5m-30 0h5m-6-1h5m-8-10h5m-8-2h5m-7 12h5m-5-3h5m-6-5h5m-6-8h5m-21 16h5m-10-7h5m-13-6h5m-13 2h5m-12-9h5m-6 16h5m-8 5h5m-17-1h5m-9-8h5m-5-4h5m-6 6h5m-7 8h5m-12-7h5m-9 6h5m-6-17h5m-13 16h5m-7-5h5m-8-6h5m-6-4h5m-10 2h5m-14 0h5m-9 8h5m-15-11h5m-15-2h5m-8 5h5m-14-7h5m-16 13h5m-9-2h5m-10-2h5m-8 4h5m-11 3h5m-11 3h5m-20-9h5m-5-7h5m-10 20h5m-14-5h5m-5 5h5m-16-7h5m-7 7h5m-22-15h5m-51-3h5m-16 6h5m-6-10h5m-10 7h5m-10-3h5m-10 11h5m-10 3h5m-7 0h5m-11-7h5m-8 2h5m-7-2h5m-5-7h5m-8-4h5m-6 7h5m-5 2h5m-11 5h5m-6 2h5m-8 3h5m-6-17h5m-5 6h5m-9-3h5m-8-1h5m-28 16h5m-13-9h5m-8-7h5m-11 9h5m-7 3h5m-8 4h5m-9-3h5m-7 4h5m-10-12h5m-5 0h5m-29 2h5m-27 8h5m-8 2h5m-30-1h5m-7-17h5m-18 10h5m-24-10h5m-9-2h5m-8 8h5m-13-7h5m-10 18h5m-7-3h5m-6-11h5m-16-5h5m-6-2h5m-7 4h5m-7-1h5m-6 2h5m-13-1h5m-12-2h5m-13 12h5m-17 8h5m-13-5h5m-33-7h5m-10 7h5m-6-17h5m-9 1h5m-27 20h5m-8-18h5m-18 1h5m-12 4h5m-10-2h5m-13 8h5m-6-8h5m-7 6h5m-15 7h5m-14-5h5m-8-14h5m-18 7h5m-11 15h5m-16-11h5m-10-3h5m-8-1h5m-7-7h5m-11 12h5m-10 4h5m-6 4h5m-5 0h5m-5 0h5m-13 0h5m-23-13h5m-6 14h5m-8-12h5m-8-9h5m-6 22h5m-6-19h5m-8 16h5m-29-10h5m-12 3h5m-6-3h5m-5 10h5m-7-16h5m-15 12h5m-6 3h5m-6-8h5m-29-10h5m-2 47h5m-4-2h5m-3-17h5m-1 2h5m12 16h5m3-3h5m1-15h5m9-4h5m-1 18h5m-2-15h5m0 14h5m-4 3h5m5-7h5m6-12h5m0 1h5m2 21h5m-1-1h5m13-1h5m-5-16h5m-4 2h5m-4 8h5m-4 8h5m-4-9h5m1 7h5m2-13h5m-4-2h5m-3-4h5m5 8h5m-4-10h5m3 3h5m-2-3h5m8 10h5m2 9h5m-5-19h5m-2 9h5m9 1h5m0-4h5m-4-5h5m6 15h5m-5-14h5m-3 20h5m-4-20h5m6 4h5m1 10h5m-4 1h5m5 5h5m-3-15h5m0 7h5m-4-11h5m6-2h5m7 13h5m15 4h5m14-13h5m23-3h5m-1 9h5m-1-11h5m-4 4h5m-3 1h5m-4 14h5m-1-13h5m0 4h5m3 3h5m-3 4h5m16 0h5m-2-14h5m-4 13h5m1-1h5m1-4h5m0-2h5m-1-1h5m-5-8h5m7 4h5m5 0h5m0 8h5m0 9h5m0-15h5m-1 3h5m-5 14h5m4-13h5m-4-9h5m13 17h5m2-14h5m-4 4h5m-3-3h5m9 3h5m-4 4h5m-3-12h5m1 10h5m-3 7h5m-4-12h5m-1 2h5m0 11h5m-4-2h5m2-3h5m-3-7h5m-2 11h5m-1 6h5m-3-2h5m-5 1h5m15-2h5m-3 3h5m3-13h5m11-9h5m-3 8h5m-4 8h5m5-1h5m3 0h5m11-3h5m-2-10h5m-1 15h5m-2-11h5m1 3h5m-3-3h5m0 14h5m-1-15h5m21 17h5m-1-12h5m-4 2h5m-2-9h5m1 15h5m-3-10h5m20 13h5m-4-8h5m-2-14h5m-2 17h5m18-13h5m8 14h5m-2-9h5m1-8h5m-5 12h5m-1-9h5m-4 15h5m-4-12h5m-2 15h5m5-15h5m0 7h5m6 1h5m-2-14h5m1 6h5m-3 6h5m-2-3h5m-2 2h5m-3-7h5m-2 10h5m7-5h5m14 0h5m1-5h5m3 6h5m8-3h5m1 9h5m0 12h5m-19-5h5m-8 9h5m-8-6h5m-9 1h5m-15 18h5m-25-4h5m-23-18h5m-21 16h5m-10 6h5m-15-21h5m-21 16h5m-8-2h5m-6-2h5m-8 7h5m-12-5h5m-7-12h5m-12 14h5m-7-4h5m-6 4h5m-6-16h5m-7 2h5m-20 10h5m-16 7h5m-7-11h5m-16 14h5m-6-8h5m-35 3h5m-22-6h5m-10 6h5m-7 3h5m-14-17h5m-5 2h5m-23 1h5m-7 7h5m-20-10h5m-6-2h5m-14 0h5m-11 1h5m-7 4h5m-8 9h5m-23-7h5m-26 12h5m-6-5h5m-18-12h5m-6 19h5m-7-7h5m-6-11h5m-6 2h5m-6 13h5m-10-18h5m-5 5h5m-14-6h5m-7 12h5m-5 5h5m-10-1h5m-12 0h5m-21-15h5m-18 18h5m-10-7h5m-8-9h5m-6 7h5m-11-8h5m-6 0h5m-8 16h5m-13-8h5m-21 1h5m-7 1h5m-10-9h5m-22 11h5m-5-15h5m-6 2h5m-8 19h5m-8-10h5m-19 0h5m-8-10h5m-26 21h5m-25-3h5m-7-2h5m-9-15h5m-12 8h5m-6-7h5m-9 5h5m-26 5h5m-13-13h5m-6 12h5m-5 8h5m-18-12h5m-25-4h5m-7 2h5m-9-3h5m-31 12h5m-10 6h5m-10 0h5m-11 1h5m-12-8h5m-6-7h5m-6 0h5m-6-7h5m-8 15h5m-6-15h5m-9 22h5m-12-14h5m-7 3h5m-5 11h5m-6-2h5m-32-14h5m-25 2h5m-9 9h5m-12-10h5m-7 7h5m-16-11h5m-6 6h5m-8-7h5m-12 10h5m-15-3h5m-18 12h5m-23-21h5m-8 12h5m-6-1h5m-16 5h5m-6-3h5m-22 9h5m-13-6h5m-24-5h5m-14 11h5m-12 0h5m-7 9h5m1-3h5m10 2h5m11 2h5m5 9h5m12-4h5m4 6h5m-2 4h5m2 0h5m-3-13h5m1 12h5m-3-22h5m3 0h5m-1 12h5m-5 4h5m-5-4h5m1-8h5m-5 16h5m3-13h5m4 10h5m11-10h5m-3-6h5m0 2h5m-3 15h5m2-10h5m0 2h5m7-3h5m0-3h5m7-4h5m0 6h5m-5 6h5m0-12h5m31 22h5m5-5h5m3 4h5m22-20h5m5 17h5m-3 4h5m2-10h5m16-3h5m-4-9h5m4 14h5m5 9h5m-3-8h5m2 5h5m3 3h5m-3-3h5m34-13h5m15 11h5m0-5h5m-4 2h5m21 7h5m15-22h5m2 19h5m4-15h5m12 9h5m2 8h5m-3-7h5m-4-11h5m-2 7h5m-5-3h5m-2 10h5m-2-4h5m-5-11h5m-5 17h5m-4-15h5m-4 9h5m-5-9h5m6 0h5m-3 16h5m-4-16h5m-4-3h5m1 9h5m-2 13h5m-4-19h5m-2 8h5m-2 1h5m-3 0h5m-4-9h5m1 11h5m38-1h5m1-2h5m3 1h5m-3-6h5m-3 1h5m0 11h5m9 1h5m21-17h5m-5 17h5m-3-19h5m-1 12h5m5-6h5m10 6h5m1 10h5m8-11h5m-3 2h5m-4-5h5m5-5h5m-2 1h5m2 7h5m7 0h5m-2 5h5m-3-15h5m4 13h5m19-6h5m26 1h5m8 7h5m-4 0h5m0 0h5m4-7h5m4-4h5m-3 5h5m15 5h5m-4 5h5m-2-19h5m0 9h5m13-7h5m-5 25h5m-7-3h5m-34 16h5m-19-11h5m-9 11h5m-17 4h5m-8-15h5m-8 11h5m-12-1h5m-13-9h5m-6-7h5m-15 9h5m-16 0h5m-9 3h5m-8 2h5m-9 0h5m-24-10h5m-8 13h5m-7-3h5m-11-8h5m-6-3h5m-6 8h5m-5 0h5m-7-11h5m-5 12h5m-9-1h5m-5 4h5m-7-13h5m-18 17h5m-6-11h5m-8 4h5m-9 1h5m-20 2h5m-10-8h5m-5 4h5m-27-3h5m-6 6h5m-13-11h5m-31-4h5m-12 4h5m-6 5h5m-5 11h5m-7-15h5m-10 0h5m-15 4h5m-8 14h5m-20-2h5m-15-3h5m-14-7h5m-11-8h5m-6-1h5m-6 4h5m-7-3h5m-21 13h5m-9-10h5m-15 7h5m-15 6h5m-6-12h5m-9 16h5m-18-22h5m-7 3h5m-6 4h5m-14-1h5m-6-2h5m-5 12h5m-6-17h5m-7 23h5m-11-9h5m-15-14h5m-18 12h5m-8 4h5m-8-14h5m-7 11h5m-18-11h5m-10 14h5m-7 4h5m-13-14h5m-29 6h5m-10 11h5m-16-10h5m-32 5h5m-11 5h5m-5-5h5m-7-17h5m-10 0h5m-16-1h5m-25 19h5m-8 2h5m-9-14h5m-19 2h5m-11-8h5m-6 6h5m-5-2h5m-20-5h5m-5 16h5m-22-16h5m-6 2h5m-6-2h5m-9 6h5m-8 8h5m-21 1h5m-6-5h5m-5 10h5m-7-19h5m-6 9h5m-13-1h5m-6-9h5m-9 15h5m-20-1h5m-10-12h5m-12 6h5m-12 13h5m-10-5h5m-19 4h5m-17 1h5m-10-3h5m-6-1h5m-5-2h5m-24-1h5m-20-10h5m-8 2h5m-16-4h5m-14-2h5m-44 2h5m-19 20h5m-6-10h5m-7-9h5m-18 1h5m-24 6h5m-12 10h5m-26 21h5m4-12h5m9 15h5m-4-8h5m5-2h5m-3-10h5m0 4h5m1 7h5m3 10h5m0-10h5m14 0h5m0 4h5m-4-5h5m-4-2h5m1 10h5m-3-5h5m-3-7h5m1-4h5m-2 7h5m11-6h5m10 20h5m1-13h5m1 3h5m3 5h5m31 5h5m6-13h5m3-9h5m7 19h5m-5-6h5m43-9h5m-3 2h5m-4-4h5m0 10h5m6 8h5m8-7h5m17-2h5m11-4h5m2 8h5m31-4h5m0 1h5m15-8h5m4 13h5m13-5h5m8 7h5m2-16h5m4 5h5m8 3h5m0 5h5m4-14h5m0 18h5m2-4h5m-2 1h5m-1-6h5m-5-5h5m-4-6h5m-1 14h5m-2-3h5m-5-7h5m-4 2h5m-5 10h5m7 4h5m-5-20h5m2 2h5m-4 15h5m3-1h5m10-8h5m11-3h5m-4-4h5m1 11h5m0-10h5m-3 16h5m3-9h5m4 1h5m-2 12h5m-5-3h5m2-10h5m41-6h5m-3 17h5m-3-4h5m-3 3h5m33-16h5m-3 11h5m25 2h5m2-1h5m-2-2h5m10 1h5m3 7h5m-5-21h5m-2 15h5m10-10h5m1 6h5m22 11h5m5-7h5m9 7h5m15-23h5m14 0h5m4 21h5m10-15h5m-4-4h5m3 0h5m-23 44h5m-9 0h5m-15-1h5m-5-14h5m-5-1h5m-8 16h5m-17-21h5m-16 2h5m-5 11h5m-13 9h5m-9-8h5m-9-6h5m-6-5h5m-15 13h5m-22 4h5m-11-2h5m-13 2h5m-10-1h5m-17-5h5m-7-13h5m-28 2h5m-7 15h5m-16-2h5m-10-11h5m-8 14h5m-8-8h5m-13 10h5m-5-7h5m-8 5h5m-9-3h5m-12-6h5m-50 5h5m-16 1h5m-6-15h5m-6 3h5m-16 8h5m-13 6h5m-5 4h5m-6-11h5m-17 3h5m-5-10h5m-21 7h5m-9-12h5m-16 8h5m-24-4h5m-7 10h5m-7 8h5m-15-6h5m-11-15h5m-8 8h5m-9-9h5m-18 12h5m-6-5h5m-20-7h5m-6 4h5m-10 16h5m-15-3h5m-6-8h5m-6-5h5m-16 0h5m-10 5h5m-6 8h5m-18-15h5m-12 16h5m-12-13h5m-46 14h5m-14-14h5m-16 3h5m-8 5h5m-10 1h5m-10-3h5m-22-8h5m-20 7h5m-5-2h5m-21-4h5m-8 13h5m-8-1h5m-11 5h5m-20-19h5m-14 9h5m-8 7h5m-16-11h5m-8-4h5m-34 20h5m-11-4h5m-19 1h5m-14-3h5m-6-6h5m-16 9h5m-26 0h5m-17-18h5m-14 17h5m-12 4h5m-21 0h5m-60-3h5m-36-14h5m-7 4h5m-5-5h5m-7 6h5m-10-2h5m-5 7h5m-12-9h5m-10 3h5m-14-8h5m-20 9h5m-14 0h5m-6 9h5m-11 17h5m1 8h5m1-6h5m1-4h5m-3-4h5m-4-5h5m4 6h5m1-2h5m-4 2h5m-4-5h5m22 20h5m1-8h5m-5-5h5m29-2h5m11-4h5m5 1h5m3 9h5m11 9h5m-1-22h5m-4 10h5m5 3h5m1-7h5m10 4h5m25-9h5m6-1h5m3 18h5m11-4h5m0-3h5m6 0h5m-4-5h5m2 3h5m-5-4h5m3-1h5m-3 15h5m0 0h5m2-18h5m8 12h5m8-11h5m16 5h5m2-8h5m-3 12h5m-5-9h5m12 13h5m8 6h5m-2-11h5m-4-2h5m-3-5h5m3 15h5m0-14h5m1 11h5m7 7h5m-2-4h5m10-12h5m-2 5h5m12-9h5m-4 4h5m-4-7h5m1 15h5m9 7h5m-4-18h5m1 16h5m-3-16h5m-5 2h5m4 2h5m-4 8h5m4-3h5m2 6h5m5-10h5m3 3h5m0-9h5m0 4h5m-3 3h5m2 1h5m11-7h5m9 3h5m5 12h5m-2-3h5m30 3h5m-2 0h5m9-3h5m5-16h5m13 1h5m-5 12h5m-1-8h5m28 8h5m-2-1h5m-3-10h5m-2 13h5m21 3h5m11-12h5m7 8h5m6-12h5m1 16h5m-3-8h5m4 13h5m15-10h5m6-5h5m3 13h5m-3 2h5m7-17h5m-5 1h5m1 10h5m-3 3h5m9-17h5m-3 2h5m26-5h5m-21 29h5m-8 17h5m-10-17h5m-39-2h5m-5 8h5m-20 4h5m-24-2h5m-26-8h5m-7 5h5m-52-2h5m-5 13h5m-8-20h5m-7 20h5m-9-11h5m-7 7h5m-8-6h5m-17 3h5m-38 7h5m-10-19h5m-6-2h5m-50 10h5m-35 0h5m-13 13h5m-7-12h5m-23 3h5m-12 9h5m-13-5h5m-13-11h5m-9 2h5m-11-3h5m-6 17h5m-10-11h5m-7-2h5m-9 7h5m-7-10h5m-17 9h5m-18-4h5m-9 1h5m-14-12h5m-17 6h5m-8 10h5m-5-14h5m-11 1h5m-9 2h5m-5 15h5m-8-16h5m-7 3h5m-16 14h5m-10 0h5m-9-22h5m-5 21h5m-34-10h5m-20-2h5m-7 1h5m-11 4h5m-12 7h5m-10-17h5m-7 19h5m-7-13h5m-13-6h5m-16 6h5m-25-10h5m-19 17h5m-6-1h5m-8-7h5m-25-9h5m-7 6h5m-18 13h5m-5 4h5m-16-23h5m-16 9h5m-11 10h5m-48-17h5m-6 18h5m-19-11h5m-5-9h5m-9 10h5m-10-2h5m-19-4h5m-13 7h5m-33 12h5m-9-16h5m-6 16h5m-12-10h5m-14-1h5m-17-6h5m-20-3h5m-7 3h5m-22 17h5m-13-22h5m-10 7h5m-11-7h5m-10 6h5m-12 13h5m-6-17h5m-10 10h5m-10-11h5m-12 17h5m-7-10h5m-14 7h5m-12 5h5m-8-1h5m-14 20h5m19-4h5m0 9h5m6-18h5m-2-3h5m-4 4h5m3 14h5m-4-15h5m-3 6h5m10 1h5m-3-10h5m-4 7h5m-1 11h5m-3-4h5m-3 3h5m-5-3h5m-1 3h5m2-14h5m-4 5h5m6-4h5m4-1h5m7-2h5m8 10h5m1 1h5m1 6h5m-2 3h5m-2-20h5m6 1h5m2 10h5m0 8h5m4-5h5m20-2h5m-5 8h5m-4-2h5m11 3h5m-2-13h5m4 12h5m3 0h5m15-11h5m-2 5h5m-2-14h5m-3 4h5m-3-2h5m-3 17h5m11-4h5m1-10h5m-5-6h5m56 14h5m9 6h5m-2-18h5m28 20h5m1-12h5m2 12h5m-5-6h5m6-6h5m19 3h5m-2 10h5m-5-2h5m7-8h5m22-7h5m-3 1h5m-2 5h5m0-9h5m-3 6h5m-3 14h5m14-20h5m0 0h5m-3 7h5m-1-4h5m50 13h5m-2-19h5m2 11h5m6-1h5m-1 11h5m4-2h5m4 1h5m-4-4h5m6-7h5m2-6h5m20 5h5m3 15h5m6-9h5m20 8h5m36-17h5m-5-5h5m-4 19h5m30 4h5m2-8h5m4 2h5m2-11h5m-1 9h5m3-7h5m8 9h5m-3-6h5m39-6h5m5 11h5m-9 12h5m-24 19h5m-11-8h5m-16 4h5m-7-15h5m-7 11h5m-26-3h5m-24 3h5m-14 3h5m-6-17h5m-16-1h5m-19 2h5m-17 21h5m-28-6h5m-9-9h5m-7 9h5m-7-3h5m-7-12h5m-9-1h5m-22-1h5m-18 5h5m-8 7h5m-15 6h5m-8 3h5m-27-2h5m-10-14h5m-10 18h5m-11-12h5m-8-9h5m-12 3h5m-16 8h5m-12-10h5m-46 13h5m-13-12h5m-8 0h5m-12-2h5m-9 18h5m-23 1h5m-7-7h5m-8 5h5m-11-2h5m-5-16h5m-11 1h5m-6 12h5m-9-4h5m-16 10h5m-14-12h5m-15-2h5m-13 5h5m-10 12h5m-6-17h5m-17-3h5m-7 1h5m-5 2h5m-6 14h5m-9-1h5m-11-14h5m-5 0h5m-8 5h5m-5 6h5m-16 3h5m-22 1h5m-9-11h5m-10 10h5m-12-5h5m-13-5h5m-42 2h5m-13 12h5m-18-2h5m-20-19h5m-30 14h5m-34-12h5m-5 2h5m-15-5h5m-14 8h5m-23 7h5m-9 6h5m-13-17h5m-14 15h5m-12-6h5m-27-1h5m-17 1h5m-11-2h5m-7 1h5m-16 1h5m-11-5h5m-7 7h5m-5 0h5m-9-12h5m-7 12h5m-12-6h5m-25-9h5m-16-1h5m-27 17h5m-8-17h5m-18 22h5m-14-7h5m-31 0h5m-22-6h5m-10-1h5m-12-2h5m-5-6h5m-11 47h5m-2-1h5m5-11h5m-4 7h5m28-7h5m-4 1h5m12-9h5m4 8h5m2-8h5m25 5h5m7-7h5m-1 20h5m8-11h5m-3-3h5m-1-1h5m22 5h5m4 0h5m-3 4h5m2-6h5m6 13h5m5-16h5m9-1h5m-1 6h5m26-8h5m9 4h5m50-1h5m-3 17h5m6 0h5m-3-4h5m11-18h5m16 15h5m18 4h5m-2-5h5m-1 0h5m-4-10h5m-4 18h5m22-18h5m-4 0h5m0-4h5m25 5h5m5-4h5m1 6h5m-4 11h5m1 0h5m-3-16h5m-1 7h5m-3 2h5m3-7h5m-1-3h5m-1-1h5m0 13h5m-3-10h5m-2 15h5m-3-5h5m-4 9h5m-2-4h5m-2-19h5m0 18h5m4-12h5m-3 15h5m-5-1h5m20-9h5m4-5h5m1 12h5m9 1h5m7-12h5m-2 2h5m-1-7h5m-4 6h5m5-3h5m3 11h5m1 4h5m1-7h5m2 3h5m-3-16h5m17 23h5m2-11h5m-4 10h5m6 0h5m-1 0h5m-3-17h5m-2-3h5m-1 12h5m-4-6h5m0 7h5m3 5h5m-3-20h5m-4 23h5m13-4h5m-3-16h5m-3 9h5m12-5h5m7-2h5m-3-1h5m7 9h5m0-5h5m-4 8h5m14-8h5m-1-3h5m9 14h5m1-16h5m-1 14h5m-1 3h5m2-13h5m3-1h5m5 6h5m2 5h5m3 3h5m-16 13h5m-14-4h5m-35 0h5m-30 7h5m-22-7h5m-18-2h5m-9 2h5m-12-4h5m-24 10h5m-32-4h5m-23-7h5m-21 9h5m-84-2h5m-45-2h5m-11 7h5m-19 1h5m-11 0h5m-21-3h5m-31-4h5m-56 7h5m-34-11h5m-27 11h5m-11-7h5m-33 2h5m-53-4h5m-10 9h5m-45 0h5m-9-5h5m-18 2h5m-26 3h5m-12-12h5m-10 6h5m-19 5h5m-26-3h5m-14-7h5m-10 9h5m-14-7h5m-8-2h5m-11 3h5m-18-4h5m-11 3h5m-81 7h5m-30-8h5m-21 4h5m-5-3h5M1280 1012h5m6 19h5m5-12h5m1 7h5m2-13h5m2-4h5m11 1h5m5 13h5m2-6h5m10 8h5m9-13h5m15 6h5m6-3h5m0 10h5m16-15h5m0 20h5m2-11h5m17-8h5m2 3h5m19 7h5m-4-4h5m17-4h5m9 0h5m4 5h5m12-7h5m21 15h5m19-13h5m8 1h5m-1 10h5m2 2h5m-3-4h5m-3-9h5m-5 14h5m1-14h5m13 15h5m0 0h5m12-17h5m4 13h5m9-1h5m1-8h5m1 4h5m-4 3h5m-1 4h5m-5-12h5m-3-4h5m0 19h5m-3-4h5m-1-4h5m2-2h5m-4-8h5m5 11h5m5 6h5m4-9h5m0 1h5m13 5h5m51-13h5m-5 2h5m10 12h5m-2-13h5m23 10h5m18 5h5m34-11h5m14 4h5m4 2h5m4-11h5m-2 9h5m-3-2h5m14 0h5m20 2h5m5-1h5m2-1h5m-3 2h5m-2 8h5m10-15h5m7 13h5m12 1h5m9-5h5m11 12h5m-15 10h5m-42-13h5m-30 17h5m-9-14h5m-9 8h5m-11 9h5m-6-12h5m-20 10h5m-25-16h5m-6 17h5m-162-3h5m-13 1h5m-7 3h5m-19-8h5m-11-12h5m-10 4h5m-9 19h5m-18-4h5m-6-9h5m-9 10h5m-7-3h5m-17 0h5m-7 1h5m-6-11h5m-7 5h5m-25-9h5m-11 3h5m-15 5h5m-17 0h5m-9 3h5m-11-10h5m-22-3h5m-7 5h5m-9-2h5m-15 5h5m-8-4h5m-6 18h5m-9-16h5m-14 14h5m-9-20h5m-6 11h5m-6 3h5m-13-11h5m-7 9h5m-6 8h5m-29-2h5m-8-12h5m-29 11h5m-36-15h5m-36 20h5m-10-3h5m-8-1h5m-7-16h5m-6 18h5m-9-7h5m-23 0h5m-21-1h5m-8 9h5m-17 1h5m-12-9h5m-6-7h5m-22-7h5m-10 22h5m-17-7h5m-18-14h5m-22 6h5m-11 12h5m-6-12h5m-20 5h5m-9 10h5m-13-22h5m-7 6h5m-21 11h5m-12-12h5m-14 10h5m-14-1h5m-16 4h5m-12-12h5m-11 4h5m-15 0h5m-38 5h5m-11 6h5m-13-11h5m-10 32h5m6-11h5m-4-4h5m4 16h5m3-16h5m7 16h5m-2-8h5m18-9h5m22 17h5m-1 2h5m9-16h5m-2 4h5m12 14h5m2-2h5m0-3h5m-2 5h5m-1-7h5m7-15h5m15 20h5m-2-13h5m15-1h5m0-6h5m-3 9h5m-5 7h5m37 4h5m-1-5h5m-5-5h5m14-2h5m29-9h5m15 18h5m-5-17h5m5 8h5m-1 0h5m9 10h5m2-12h5m0 7h5m50 0h5m-2 6h5m-5-1h5m-3-15h5m-3-4h5m-4 21h5m-1-6h5m1 5h5m-3-13h5m-5 14h5m-4-11h5m-1-9h5m10 12h5m-4-5h5m4 11h5m8-15h5m7 13h5m-2-4h5m2-5h5m6 1h5m-1 0h5m-4-7h5m1 12h5m-1-1h5m2-13h5m0 13h5m-3 4h5m-4-6h5m10-9h5m1 20h5m0-18h5m14 18h5m13-10h5m10-5h5m36 9h5m25-7h5m11-7h5m-2-2h5m8 0h5m2 16h5m24-9h5m4 1h5m43-3h5m1 10h5m-3-11h5m15 11h5m0-11h5m1 11h5m9-8h5m3 8h5m-30 24h5m-26-10h5m-29 8h5m-31 7h5m-32-5h5m-15-7h5m-10-5h5m-11 4h5m-16-1h5m-12 14h5m-23-1h5m-12-12h5m-27 8h5m-40-6h5m-44-3h5m-16 2h5m-19 4h5m-8-9h5m-16 19h5m-16-6h5m-13 4h5m-7-7h5m-7-5h5m-10 15h5m-7-2h5m-6-15h5m-10 10h5m-13-1h5m-10 8h5m-5-7h5m-14-5h5m-6 7h5m-9 1h5m-14-13h5m-10 12h5m-7-10h5m-11-3h5m-14 4h5m-16-3h5m-8-6h5m-6 8h5m-6-6h5m-6 13h5m-8 4h5m-6-6h5m-9-1h5m-6-4h5m-9-2h5m-12 11h5m-8 3h5m-8-5h5m-5-14h5m-15 13h5m-7 1h5m-22-7h5m-10 3h5m-6 11h5m-22-21h5m-34 16h5m-10-8h5m-47 7h5m-34-4h5m-12 10h5m-21-1h5m-9-21h5m-24 20h5m-9-10h5m-13-9h5m-7 20h5m-26-15h5m-6 10h5m-9-11h5m-11 17h5m-5-18h5m-15 11h5m-15-7h5m-13-8h5m-14 2h5m-9 9h5m-9-9h5m-28 6h5m-7-5h5m-5 4h5m-19-7h5m-14 1h5m-23 11h5m-6 9h5m-12-12h5m-19-1h5m-29 4h5m-6 7h5m-17-5h5m-5-8h5m-21-3h5m-6 40h5m17-4h5m-3 0h5m15 6h5m-3-13h5m-2 7h5m8 6h5m-3-11h5m3-8h5m3 15h5m1 2h5m-4 2h5m-1 2h5m1-16h5m1 11h5m-1-7h5m13-11h5m-5 3h5m-4 12h5m5 6h5m2-7h5m1 3h5m-3-17h5m-3 17h5m2 6h5m10-16h5m6 16h5m5-16h5m-4 2h5m1 2h5m13 4h5m6-6h5m-5 7h5m-2 3h5m-2 3h5m2-16h5m12 14h5m36-13h5m6 9h5m6-2h5m-4-11h5m-2 15h5m-4-8h5m0 12h5m-2-10h5m30 11h5m5-13h5m6 0h5m14-10h5m0 4h5m9 7h5m7 7h5m-4-5h5m4 4h5m-5-10h5m-2 5h5m20-7h5m-4 5h5m-4 4h5m1-2h5m5 9h5m-4-17h5m2 11h5m1 1h5m15-11h5m-1-1h5m8 9h5m-3 6h5m-5 1h5m4-10h5m-4 8h5m1-2h5m2-1h5m18-11h5m18 11h5m14 2h5m5-6h5m20-11h5m1 17h5m-5-13h5m-3 4h5m20-6h5m12 14h5m4-3h5m41 7h5m-2-8h5m33 1h5m17-10h5m9 9h5m-2 4h5m-3-7h5m34 12h5m-3-17h5m-9 21h5m-8 21h5m-24-5h5m-14-12h5m-29 6h5m-12 11h5m-12-5h5m-27-9h5m-42 2h5m-9-7h5m-15 6h5m-25-6h5m-6 5h5m-7-4h5m-31-1h5m-9 12h5m-44-15h5m-31 11h5m-6-7h5m-29 19h5m-7-20h5m-10 8h5m-13 7h5m-16-11h5m-12 10h5m-14 1h5m-25-18h5m-7 15h5m-7-1h5m-14-14h5m-5 12h5m-12 3h5m-19 1h5m-15-2h5m-9-4h5m-10 10h5m-9 3h5m-18-20h5m-7-2h5m-20 11h5m-5-7h5m-22 13h5m-11 1h5m-6-13h5m-6 6h5m-9-8h5m-6 15h5m-7-11h5m-10-1h5m-9 2h5m-5 3h5m-53 6h5m-6 1h5m-17-18h5m-9 18h5m-9-15h5m-8 18h5m-12-18h5m-15 13h5m-19-4h5m-28-8h5m-9 2h5m-24 15h5m-8 1h5m-11-3h5m-24-6h5m-34-7h5m-36-6h5m-6 0h5m-7 0h5m-8 4h5m-6 15h5m-13-17h5m-22 4h5m-6 6h5m-17-9h5m-9 2h5m-6 13h5m-8 1h5m-17-12h5m-31 4h5m-26-10h5m-10 0h5m-18 5h5m-13 9h5m-8 5h5m-28-5h5m-20 1h5m-5 2h5m-12-1h5m-4 20h5m-1 5h5m2-7h5m8 4h5m-4-3h5m-2-11h5m8 16h5m11-3h5m12-4h5m12-3h5m-3 14h5m26-17h5m28 6h5m1 0h5m3 3h5m2 1h5m-1 7h5m2-5h5m23-12h5m-5-5h5m9 11h5m10 5h5m0 4h5m-4-4h5m20-2h5m-3-11h5m4 13h5m3 2h5m13 5h5m1-2h5m-4-18h5m0 10h5m-4 5h5m-1-5h5m1 7h5m8-10h5m-4-2h5m-2 5h5m16-13h5m-4 0h5m-2 13h5m1-5h5m7 5h5m0 0h5m5 7h5m10 1h5m-2-4h5m7-17h5m-3 21h5m-3-3h5m-2-15h5m1 19h5m-2-7h5m9 4h5m1 2h5m-1 0h5m-1-19h5m9 19h5m-1-20h5m5 16h5m-3 3h5m3-19h5m11 19h5m-3-18h5m7-2h5m-4 5h5m0 7h5m-4 4h5m1-12h5m-4 6h5m-3 12h5m-4-8h5m4 6h5m-1-4h5m-1 7h5m1 0h5m-3-20h5m-2-1h5m0 15h5m16-9h5m-5 11h5m3-8h5m-4-6h5m5 3h5m7-8h5m-2 8h5m-4 11h5m-4-5h5m5 5h5m-3 0h5m10-12h5m6 10h5m30 0h5m17 4h5m-4-14h5m5 13h5m26-20h5m25 2h5m-3 0h5m0 6h5m16 9h5m5 6h5m1-19h5m22 6h5m-9 33h5m-25-15h5m-10 9h5m-5 6h5m-8-2h5m-11-9h5m-33-5h5m-20-3h5m-45 10h5m-38 10h5m-17-15h5m-12 18h5m-23-12h5m-19 9h5m-24 2h5m-7-22h5m-15 12h5m-7-11h5m-40 22h5m-9-5h5m-20 2h5m-5-13h5m-8-7h5m-6 10h5m-17 8h5m-6 4h5m-13-1h5m-6-19h5m-7 8h5m-19-10h5m-12 22h5m-14-18h5m-17 19h5m-8-7h5m-7-7h5m-11-8h5m-15 8h5m-5 4h5m-6 10h5m-7-6h5m-9-5h5m-12-2h5m-30 7h5m-13-11h5m-21-4h5m-9 18h5m-6 0h5m-10-18h5m-6 8h5m-13-3h5m-5 10h5m-9-9h5m-8 4h5m-29 5h5m-10 2h5m-7-6h5m-8 0h5m-10-8h5m-15 5h5m-8 12h5m-7-12h5m-6-1h5m-27 1h5m-16-5h5m-15 14h5m-7 0h5m-42-7h5m-6 2h5m-6-13h5m-15 3h5m-5 2h5m-31 4h5m-10-9h5m-5 22h5m-9-7h5m-10 7h5m-7-10h5m-21 4h5m-7-14h5m-17 3h5m-6 6h5m-25-3h5m-5 6h5m-16 8h5m-5-16h5m-21 7h5m-9 1h5m-6-5h5m-26 9h5m-7-12h5m-34-6h5m-9 13h5m-6 5h5m-28-17h5m-5 21h5m-6-12h5m-12-8h5m-5 7h5m-6-4h5m-12-3h5m-15 3h5m-7 17h5m-12-2h5m-8-1h5m-6-7h5m-7 3h5m-21-3h5m-5-8h5m-23 35h5m25-3h5m3-7h5m7-2h5m-2 9h5m2-13h5m-3 22h5m8-14h5m-2 5h5m15-3h5m-1-9h5m8 9h5m-2 2h5m7 6h5m-4-1h5m2-1h5m-5 7h5m7-1h5m-4-7h5m8 3h5m11 4h5m24-22h5m8 18h5m-2-10h5m6-1h5m3-7h5m-3 5h5m5 11h5m0-14h5m-2 18h5m-2-4h5m14-1h5m6-7h5m-3-6h5m-2 15h5m3 0h5m3 1h5m-4 0h5m-4-3h5m7 1h5m7-6h5m-5 6h5m-4 4h5m13 1h5m-2-14h5m23-7h5m-2 5h5m34 11h5m1-16h5m-1 6h5m-3-6h5m1 5h5m5-4h5m10 20h5m-4-21h5m-3 7h5m4 7h5m11-6h5m-3-4h5m1 18h5m-1-19h5m8 17h5m1-19h5m-3 11h5m7-3h5m-1 11h5m6-5h5m21-8h5m-2 6h5m-2 10h5m-3-21h5m6 15h5m0-14h5m-5-3h5m25 0h5m-3 9h5m2 10h5m12-18h5m13 10h5m10 0h5m17-1h5m27-7h5m14 2h5m4 9h5m-4 9h5m3-8h5m0 6h5m45-8h5m4 10h5m-3-15h5m-1 12h5m30 3h5m-3-7h5m-8 21h5m-20-7h5m-10 8h5m-26-10h5m-19 5h5m-22 0h5m-26-8h5m-15 21h5m-8-8h5m-12 0h5m-27-6h5m-12 2h5m-33 8h5m-11 2h5m-18-2h5m-16 5h5m-19-19h5m-19 1h5m-21 10h5m-13-7h5m-16-8h5m-18 3h5m-17 9h5m-12-8h5m-10 15h5m-9-10h5m-38-2h5m-11 14h5m-11-16h5m-10 5h5m-7-2h5m-7 10h5m-13-5h5m-6-9h5m-34 1h5m-6 13h5m-7-11h5m-10-5h5m-8 18h5m-6-17h5m-7 16h5m-9-16h5m-17 10h5m-5-12h5m-12 21h5m-8-18h5m-19 17h5m-11-6h5m-8-7h5m-5 11h5m-10-4h5m-23 3h5m-7-7h5m-6 6h5m-19-7h5m-9 6h5m-9-10h5m-6 4h5m-18 10h5m-5-13h5m-9-7h5m-10 19h5m-13-19h5m-6 7h5m-9 9h5m-14 3h5m-7-6h5m-6 3h5m-10 7h5m-18-9h5m-10 2h5m-14 6h5m-15-4h5m-11-18h5m-29 1h5m-27 21h5m-9-16h5m-17 11h5m-23-15h5m-8 19h5m-8-16h5m-9-3h5m-18 18h5m-6 3h5m-21-14h5m-7 13h5m-8-13h5m-6 3h5m-10-3h5m-27 8h5m-12-7h5m-9-7h5m-6 3h5m-7 0h5m-34 13h5m-9-8h5m-10 8h5m-17-11h5m-44-8h5m-13 5h5m-23 7h5m-6 9h5m-20 16h5m-5-1h5m-3-7h5m0-4h5m18 7h5m0 2h5m5 10h5m10-9h5m0 6h5m-1-14h5m-2 18h5m9-11h5m13-9h5m16 8h5m-5-2h5m4 6h5m10-1h5m4 8h5m-4-15h5m0-5h5m10 1h5m-1 10h5m-1-6h5m19 2h5m-3 5h5m-4 5h5m6-2h5m1-5h5m0 3h5m8 7h5m4-13h5m0 12h5m10-5h5m-4-12h5m-2 7h5m-2-6h5m-1 2h5m24-4h5m-5 2h5m19 10h5m26 8h5m13-4h5m-5-1h5m-3-10h5m-4-4h5m-4 10h5m-4-12h5m1 1h5m-4 13h5m0-2h5m12 11h5m2-18h5m-2 11h5m1-9h5m-3-6h5m0 22h5m-4-3h5m17-5h5m0 2h5m-2 3h5m-5-19h5m4 14h5m2-4h5m3-9h5m4 16h5m-5-14h5m3-1h5m-4 14h5m-5-6h5m-2-2h5m28 13h5m5-5h5m17-14h5m12-2h5m0 19h5m1 2h5m-4 0h5m-4-12h5m2 3h5m-5 5h5m-3 2h5m-3-2h5m5-2h5m1-15h5m-2 21h5m2 0h5m0-8h5m-1 3h5m-4-8h5m-3 11h5m-4-19h5m-2 16h5m3-16h5m3 19h5m3-11h5m10 5h5m0 0h5m10 4h5m2-16h5m6 14h5m-3 1h5m19-17h5m11 14h5m-3-6h5m1 9h5m16 0h5m0-13h5m-5 14h5m8-5h5m-4 7h5m2-6h5m19 7h5m-4-6h5m1-6h5m11 12h5m-4-6h5m-1-12h5m3 30h5m-12-4h5m-20 6h5m-6 7h5m-6-7h5m-14 7h5m-25-9h5m-17-1h5m-50 9h5m-11 6h5m-9-22h5m-28 7h5m-13 12h5m-40-8h5m-13 1h5m-14-11h5m-7 10h5m-5-8h5m-9-4h5m-6 9h5m-6-4h5m-22 14h5m-14-1h5m-6-8h5m-9 10h5m-19-3h5m-13-1h5m-9-16h5m-30 19h5m-6-19h5m-8 9h5m-20-9h5m-21 17h5m-5-2h5m-12-7h5m-13 12h5m-13-19h5m-18 20h5m-12-11h5m-23 4h5m-9 2h5m-9 2h5m-28-15h5m-9-1h5m-19 15h5m-6-5h5m-8-5h5m-6 2h5m-24-7h5m-5 5h5m-8 12h5m-7-2h5m-5 4h5m-7-21h5m-7 21h5m-7 2h5m-10-15h5m-17 7h5m-18 1h5m-19-14h5m-5 4h5m-14 2h5m-14 1h5m-18-9h5m-27 22h5m-8-20h5m-10 1h5m-5 8h5m-8-4h5m-30 16h5m-22-6h5m-14-10h5m-9-2h5m-5 1h5m-7-1h5m-11 4h5m-5 6h5m-11-15h5m-14 21h5m-9-12h5m-9-6h5m-17 9h5m-7-1h5m-25-7h5m-8-3h5m-23 1h5m-22 12h5m-5-5h5m-21-5h5m-7 17h5m-20-7h5m-15 0h5m-6 9h5m-14-16h5m-8-6h5m-18 21h5m-6-2h5m-8-7h5m-21 8h5m-7-13h5m-24 8h5m-22-9h5m-10-3h5m-6 14h5m-8-14h5m-24-4h5m-10 19h5m-6 10h5m0 8h5m5-10h5m0 17h5m-4-9h5m-4-2h5m1 12h5m4-4h5m-2-1h5m26-14h5m5 14h5m-5 4h5m-3 3h5m3-19h5m6 13h5m18-16h5m5 21h5m-2-15h5m24-3h5m-5 7h5m2 6h5m-3-17h5m4 8h5m-3-7h5m-3 16h5m-3-3h5m7-13h5m-4 1h5m15 18h5m0-11h5m9-7h5m-4 11h5m-1-8h5m-2 16h5m2 0h5m5-16h5m-4 15h5m-2-16h5m-3 15h5m-3-4h5m2 3h5m14-17h5m16 10h5m-3-10h5m6 20h5m2-5h5m-3-10h5m-2-2h5m2 7h5m-4-10h5m-1 10h5m-2 3h5m9-11h5m8 19h5m0-7h5m4 0h5m-2-15h5m-4 1h5m4 19h5m-4-3h5m-4-16h5m-1 6h5m-3 14h5m-3-15h5m-1 10h5m-4 2h5m-5-17h5m-1 22h5m-2-2h5m0-17h5m-2 1h5m-4 8h5m-4 0h5m-4 5h5m-2 0h5m-1-1h5m-2 5h5m-4 0h5m-5 1h5m5-3h5m2-12h5m-5 4h5m3 1h5m1 9h5m-4-4h5m-3-13h5m1-5h5m0 21h5m-4 2h5m-3-5h5m-1-18h5m-5 23h5m6-13h5m23 12h5m4-16h5m-3 8h5m-4 5h5m3-19h5m-2 6h5m-4 0h5m-5-4h5m5 14h5m3-5h5m20 11h5m-4 1h5m-3-20h5m4 12h5m1-9h5m9 10h5m33 2h5m-4-10h5m13-8h5m-3 5h5m-5 1h5m4-4h5m3 14h5m0-10h5m0-1h5m-4 14h5m0-18h5m13 12h5m11 4h5m23 0h5m19-1h5m6-8h5m4 3h5m10-5h5m-2-1h5m0 9h5m-3 0h5m0 5h5m17-19h5m-18 34h5m-19 13h5m-30-16h5m-6 9h5m-5 4h5m-11-18h5m-23 6h5m-21 13h5m-18 0h5m-23-1h5m-11-6h5m-8 0h5m-20-3h5m-8 1h5m-28 6h5m-11-13h5m-6 3h5m-8 14h5m-6-2h5m-5-9h5m-15 7h5m-7-13h5m-6 17h5m-5 0h5m-7-5h5m-7-4h5m-15 2h5m-8-14h5m-14 15h5m-5 0h5m-11 3h5m-7-16h5m-7 18h5m-16-4h5m-8-3h5m-10-6h5m-6 5h5m-9 4h5m-16-16h5m-18 15h5m-10-7h5m-5 11h5m-9 2h5m-10-1h5m-11-3h5m-24 2h5m-6-10h5m-7 8h5m-7-11h5m-6 10h5m-12-5h5m-11 10h5m-10-12h5m-17 0h5m-11 0h5m-17-6h5m-6 19h5m-6-11h5m-8-4h5m-6-5h5m-6 14h5m-6 1h5m-7-14h5m-9 16h5m-9-11h5m-7 0h5m-12-6h5m-10 17h5m-6-5h5m-7 3h5m-16 2h5m-8 2h5m-6-16h5m-8 3h5m-6-3h5m-8 1h5m-5 16h5m-5-12h5m-6-5h5m-5 16h5m-7-3h5m-8-9h5m-6 11h5m-5-3h5m-6-7h5m-9-1h5m-5-10h5m-6 17h5m-5-2h5m-5 5h5m-6-2h5m-6 2h5m-5-4h5m-8 0h5m-9-1h5m-5-14h5m-6 10h5m-7 10h5m-6-14h5m-8 13h5m-6-7h5m-5 4h5m-5 0h5m-10-16h5m-5 20h5m-6-6h5m-5-7h5m-8 12h5m-5-17h5m-5-2h5m-6 11h5m-6 8h5m-6-11h5m-5 3h5m-6-10h5m-5 16h5m-7 5h5m-6-2h5m-5-8h5m-7-2h5m-7-8h5m-7-3h5m-6 12h5m-6 8h5m-10-20h5m-7 11h5m-8 0h5m-9 4h5m-7 5h5m-6-16h5m-7 16h5m-6-3h5m-8-17h5m-11 16h5m-9-11h5m-6 3h5m-6 14h5m-21-19h5m-5 4h5m-5-2h5m-9 3h5m-8 6h5m-17 1h5m-6-13h5m-8 11h5m-16 9h5m-8-16h5m-12 15h5m-16-2h5m-8-11h5m-7 11h5m-9-15h5m-10 5h5m-11 9h5m-8-7h5m-18 12h5m-12-19h5m-9 19h5m-13-3h5m-10-18h5m-17 9h5m-13-3h5m-9-4h5m-5 17h5m-7-4h5m-6 2h5m-5-15h5m-7 13h5m-13 0h5m-10-4h5m-12-5h5m-10 4h5m-7 8h5m-5 2h5m-8-3h5m-31-15h5m-7-2h5m-13 18h5m-6-20h5m-6 6h5m-10 0h5m-14 12h5m-10-1h5m-8 5h5m-10-7h5m-23 1h5m-10 1h5m-6-4h5m-8 3h5m-7-8h5m-7 2h5m-11 10h5m-5-1h5m-8 2h5m-5-11h5m-8-2h5m-7 12h5m-6-15h5m-5 12h5m-8-4h5m-7-7h5m-13 1h5m-11-2h5m-15 16h5m-26-4h5m-26-16h5m-11 15h5m-8-16h5m-10 15h5m-5-1h5m-2 15h5m0 4h5m3-2h5m-4 11h5m-2-11h5m1 16h5m6-11h5m-5 6h5m3-17h5m-4 10h5m-1 0h5m-4-8h5m5 3h5m10 3h5m-4 9h5m2-3h5m-4 6h5m0-12h5m-3 14h5m-5-15h5m3-7h5m-5 8h5m12 4h5m-4-12h5m-5 10h5m-3-9h5m9 4h5m10 14h5m-1-15h5m9 11h5m15-7h5m-3-9h5m-3 0h5m-4 0h5m-1 9h5m1-6h5m-2 8h5m3 1h5m0-11h5m-3 13h5m-2 6h5m2-13h5m-5 15h5m-4-20h5m-2 7h5m0-2h5m-3-4h5m5 3h5m-1 0h5m2-5h5m-1 5h5m2 9h5m-1 2h5m-4-8h5m-3-6h5m-3 2h5m-3-2h5m1 19h5m-4-5h5m-4-7h5m-5-10h5m2 4h5m2 11h5m-4-14h5m-4 8h5m-5-4h5m1 5h5m0 9h5m-2-14h5m10 4h5m-5-1h5m-3 11h5m-4 3h5m0-13h5m-3 3h5m-2 0h5m1-7h5m-1 0h5m-4 10h5m-3-12h5m1 18h5m-5-6h5m-1 5h5m1-6h5m-4-6h5m-3 7h5m2-9h5m-2 4h5m-1-9h5m-5 10h5m-3-4h5m-4 1h5m-5 9h5m-4 4h5m-4-20h5m-1 6h5m0 1h5m-3-5h5m-3 16h5m-4-3h5m-5-9h5m-5-1h5m-4 10h5m-3-10h5m-5-6h5m-5 0h5m-5 20h5m1 0h5m-5-2h5m-5-15h5m-3 18h5m-4-2h5m-4 2h5m-2-2h5m-1-17h5m-4-2h5m-4 16h5m-1-13h5m-3 4h5m-5 13h5m-4-2h5m-4-12h5m-5 17h5m-4-7h5m-4 3h5m-4-11h5m-4 15h5m-3-19h5m-5 15h5m-4-16h5m-4 5h5m-5 10h5m0-16h5m-2 0h5m-1 21h5m-1-3h5m-3-15h5m-2-4h5m11 2h5m-5-2h5m3 19h5m-4 3h5m-2-2h5m-2-9h5m-4-7h5m-5 14h5m-3-17h5m-4 6h5m-4 6h5m-4 5h5m3 2h5m0 1h5m-2-4h5m-2-17h5m-2 0h5m8 14h5m-4-7h5m-4 4h5m3 5h5m-5-17h5m-2 8h5m-2 6h5m-3-3h5m5 3h5m-3-10h5m0 19h5m-5-18h5m-4 8h5m1-3h5m1-2h5m-3 6h5m-1-13h5m-3 0h5m5 6h5m6-6h5m1 2h5m-4-3h5m8 14h5m-3-7h5m1-3h5m-5-2h5m-2 16h5m-5-6h5m1 3h5m-4-6h5m-1 13h5m-5-6h5m4-13h5m-5 3h5m-4 8h5m4 8h5m-4 0h5m2-20h5m-5 3h5m-4-2h5m-3 10h5m-4 4h5m-1-9h5m1 7h5m2-2h5m-1-1h5m-2 0h5m-2-3h5m-4 14h5m-5-17h5m1 12h5m0-15h5m-1 15h5m-2-1h5m9 6h5m4-2h5m4-3h5m1-9h5m5-1h5m-4-4h5m-2 5h5m-3 2h5m6-11h5m-2 15h5m6 5h5m-3 1h5m-2-15h5m11 3h5m-5 4h5m13-3h5m0-9h5m-4-1h5m0 2h5m2 19h5m-3-19h5m-3 7h5m15 3h5m-26 31h5m-16-19h5m-19 4h5m-9 16h5m-41 1h5m-5-1h5m-15-16h5m-14 7h5m-25 8h5m-22 2h5m-13-3h5m-23-1h5m-7 0h5m-9-13h5m-16 12h5m-7 2h5m-8 4h5m-6 0h5m-24-2h5m-18-14h5m-6 15h5m-9-11h5m-27 5h5m-5-8h5m-11 12h5m-19 0h5m-8 4h5m-6-12h5m-5 0h5m-6 6h5m-7-8h5m-6 6h5m-5 0h5m-21-3h5m-21-8h5m-11 15h5m-10-14h5m-19 16h5m-7-20h5m-8 11h5m-7-6h5m-21-1h5m-15-4h5m-7 8h5m-8-7h5m-14 11h5m-5 0h5m-8-13h5m-8 8h5m-6 3h5m-10 8h5m-5-3h5m-8-9h5m-5-4h5m-10-3h5m-8 16h5m-5-16h5m-14 8h5m-11 10h5m-6 4h5m-11-1h5m-15-12h5m-7 3h5m-6-4h5m-5-3h5m-6 9h5m-7 2h5m-6-1h5m-5-6h5m-11 9h5m-5-4h5m-13-4h5m-7 1h5m-6-7h5m-5 11h5m-6-9h5m-6-1h5m-5 17h5m-7 0h5m-5-8h5m-6 5h5m-5-16h5m-6-1h5m-5 14h5m-10-14h5m-8 12h5m-5-3h5m-8-3h5m-5-2h5m-5-6h5m-7 1h5m-14 2h5m-10 8h5m-7 6h5m-7-3h5m-5-10h5m-15-4h5m-5 18h5m-7-18h5m-6 10h5m-21 0h5m-8-3h5m-6-5h5m-6 10h5m-5 3h5m-13 2h5m-9-8h5m-8 5h5m-5 1h5m-6 5h5m-17-18h5m-11 8h5m-19 8h5m-6-18h5m-6 10h5m-11-6h5m-7 5h5m-18 2h5m-21 4h5m-8-7h5m-7 6h5m-14 2h5m-6 6h5m-16-13h5m-12-5h5m-11-1h5m-6 3h5m-7 13h5m-24-8h5m-6-3h5m-9 0h5m-6 5h5m-7 10h5m-8-23h5m-6 1h5m-18 11h5m-7-5h5m-5 13h5m-7-5h5m-6 2h5m-20-14h5m-24 3h5m-36 17h5m-35-14h5m-9-1h5m-21 12h5m-12-20h5m-11 20h5m-7-8h5m-8 11h5m-7-19h5m-20-1h5m-13 15h5m-11-12h5m-14 15h5m-13 0h5m-5 1h5m-16 1h5m12 1h5m13 1h5m5 3h5m6-2h5m-2 5h5m6 10h5m-4-17h5m0 8h5m1 4h5m13 8h5m-2-9h5m-4-1h5m-3-2h5m54 5h5m-3 6h5m-3 0h5m10-17h5m-5 3h5m21 8h5m-2-8h5m-4 0h5m11-4h5m5 5h5m5-5h5m1 10h5m7 7h5m-4-5h5m-3-4h5m9 8h5m-5-15h5m0 17h5m7-17h5m0 18h5m11-19h5m4 14h5m-4-4h5m-3 9h5m2-14h5m1-5h5m1 6h5m-4 13h5m-4-11h5m-1 6h5m-4 6h5m1-4h5m3-16h5m-5 0h5m3 6h5m-1 13h5m0 2h5m1-8h5m-3-2h5m-2-3h5m-1-2h5m-2-5h5m-1 11h5m-3-13h5m-2 16h5m2 2h5m-2-16h5m1-2h5m-2 13h5m-2-11h5m-5-2h5m-2 23h5m-5-15h5m3 12h5m5-15h5m-3 4h5m-5-3h5m3-1h5m0 13h5m-3-5h5m-4-10h5m-4 14h5m1 3h5m-5 2h5m-3-8h5m13 0h5m2-1h5m11-13h5m-4 16h5m-1-2h5m14 4h5m0-11h5m0-5h5m11 18h5m-3-1h5m4-9h5m4-1h5m7-7h5m-1 13h5m3 4h5m9 1h5m9 3h5m-4-19h5m0 16h5m45-7h5m5 10h5m-1-6h5m6-8h5m4-7h5m20 11h5m-3 2h5m10-6h5m6 8h5m15 4h5m-1-12h5m43-3h5m3 5h5m9-8h5m1 8h5m1-1h5m-27 17h5m-46 13h5m-17 4h5m-10 3h5m-17-3h5m-6 2h5m-11-22h5m-9 10h5m-17 7h5m-6-1h5m-11 4h5m-36-8h5m-24-9h5m-10 14h5m-11-17h5m-29 10h5m-7-6h5m-26 9h5m-5-2h5m-30-3h5m-6 1h5m-10 2h5m-17-6h5m-19-4h5m-21 6h5m-9 10h5m-22 5h5m-9-16h5m-11-5h5m-8 21h5m-15-8h5m-19-1h5m-8 6h5m-17-9h5m-20 10h5m-5 3h5m-6-18h5m-15 4h5m-7 6h5m-7 4h5m-6-14h5m-5 5h5m-8 12h5m-7-22h5m-8 18h5m-7-8h5m-5 1h5m-17 11h5m-18-14h5m-8 11h5m-8-16h5m-8 19h5m-10-1h5m-6-21h5m-8 21h5m-6-3h5m-6 4h5m-6-13h5m-8 4h5m-7-3h5m-15 7h5m-13-13h5m-8 2h5m-18 0h5m-8-5h5m-11 13h5m-8-5h5m-7 5h5m-8-10h5m-29 12h5m-5-2h5m-6-4h5m-8-1h5m-11 3h5m-16 3h5m-9 0h5m-31 0h5m-18-8h5m-7-4h5m-7 19h5m-15-4h5m-6-11h5m-24 10h5m-7-13h5m-32 18h5m-13-4h5m-19 0h5m-37-14h5m-23 8h5m-36-7h5m-9 14h5m-22 2h5m-10-14h5m-11 7h5m-30 6h5m-7-20h5m-13 21h5m-6 2h5m-7-18h5m-6 10h5m-16 4h5m-14-12h5m-21-6h5m-25 7h5m-6 11h5m-6-15h5m-6 17h5m10 11h5m-4 13h5m2-11h5m2 1h5m0 6h5m29 4h5m-4-18h5m20 8h5m15 3h5m-5-3h5m-4-5h5m-1-3h5m7 7h5m-5 12h5m13-17h5m-4 10h5m-2 7h5m3-20h5m22 21h5m5-13h5m3 9h5m-2-6h5m-1 6h5m16-16h5m2 13h5m0 4h5m-3-11h5m10-3h5m2 11h5m9-15h5m15 8h5m-2 4h5m7-13h5m-3 18h5m3-14h5m-5 2h5m6 16h5m5-2h5m3-18h5m0 3h5m-5-2h5m-4 15h5m-3-4h5m-2-13h5m8 14h5m5-15h5m5 12h5m-1-12h5m8 7h5m-5-7h5m-2-1h5m6 14h5m1-12h5m-1 4h5m1-4h5m-4 16h5m1 5h5m4-13h5m-1 2h5m-5-10h5m3 6h5m23-2h5m-4 11h5m-5-16h5m-3 5h5m6 13h5m-4 2h5m-3-5h5m-3-6h5m0-8h5m2 15h5m-1-3h5m5 6h5m10-8h5m-2-2h5m2 5h5m-5-2h5m-4 8h5m9-13h5m7 15h5m-4-2h5m3-10h5m2-4h5m3 14h5m-3-17h5m0 2h5m-3-5h5m14 14h5m-4-11h5m-4 12h5m3-15h5m2 11h5m20 2h5m-3-14h5m9 9h5m6-5h5m6 7h5m14-7h5m0 3h5m-5-6h5m0 10h5m10-9h5m3 12h5m4-4h5m6 12h5m6-16h5m5 3h5m-2 11h5m24-20h5m29 22h5m4-7h5m-12 22h5m-8-10h5m-8 6h5m-16-7h5m-33 12h5m-21 0h5m-12-1h5m-11 8h5m-8 1h5m-14-16h5m-39-1h5m-23 11h5m-7-16h5m-23 7h5m-14 2h5m-5 5h5m-5 1h5m-33-15h5m-11 3h5m-7 12h5m-8 2h5m-9-1h5m-12-7h5m-10 10h5m-13-13h5m-15 2h5m-5 4h5m-13-7h5m-18 8h5m-24 4h5m-26-8h5m-7 1h5m-11 8h5m-13-1h5m-5-9h5m-12-6h5m-15 19h5m-17-3h5m-17-5h5m-10 5h5m-19-5h5m-5 3h5m-13-3h5m-7 1h5m-8-3h5m-7-1h5m-10 11h5m-9-10h5m-31-9h5m-14 6h5m-12-5h5m-22 7h5m-10-10h5m-9 22h5m-6-13h5m-8 11h5m-17-5h5m-11-9h5m-11-2h5m-6 3h5m-6-4h5m-10 14h5m-7-12h5m-23 11h5m-9-6h5m-10-8h5m-6 15h5m-10-1h5m-8-7h5m-12 2h5m-15 4h5m-15-6h5m-8 4h5m-11-3h5m-7-6h5m-7 15h5m-13-5h5m-21 2h5m-8 6h5m-26-6h5m-38-13h5m-11 16h5m-7 0h5m-10 3h5m-13-18h5m-7 14h5m-25-13h5m-11 6h5m-12-4h5m-13 6h5m-9-3h5m-26-4h5m-9 16h5m-20-22h5m-9 7h5m-24 6h5m-32-6h5m-6 0h5m-51 0h5m-18 7h5m-8 2h5m-15 4h5m2 9h5m-3 10h5m-3-10h5m18 3h5m4 13h5m4-3h5m53-7h5m22 0h5m-2-8h5m7 10h5m-2 1h5m-1-13h5m5 3h5m9 12h5m0-10h5m-5 14h5m45 2h5m-1-15h5m-3 9h5m7 6h5m5-17h5m1 13h5m7-8h5m-5-9h5m2 13h5m7 1h5m1 3h5m-2 1h5m-1-8h5m-4 7h5m-1-7h5m1 6h5m6 0h5m-2 4h5m0-16h5m1 1h5m12-1h5m-4 2h5m7-6h5m8 10h5m-3 10h5m-5-20h5m-4 4h5m1-2h5m0 14h5m-5-8h5m-2 1h5m-4 4h5m12 3h5m-5-2h5m-3-8h5m1-6h5m15 21h5m8-1h5m-3-9h5m3 10h5m9 1h5m-5-7h5m6 7h5m-2-2h5m5-14h5m1-6h5m22 9h5m16-8h5m37 1h5m-4-2h5m-3 16h5m21-9h5m-4 12h5m2 2h5m1-10h5m-4-10h5m-3-1h5m0 3h5m0 1h5m3 14h5m0-6h5m-4 6h5m1-11h5m1-8h5m-1 15h5m5-9h5m23 16h5m1-18h5m-4-3h5m2 11h5m17 2h5m1 1h5m0-13h5m3-2h5m15 21h5m13 1h5m7-3h5m2-1h5m-3-13h5m-4 10h5m6-5h5m33 11h5m-4 9h5m-6 13h5m-43-16h5m-13 11h5m-5-14h5m-10 16h5m-12 0h5m-6 0h5m-22 1h5m-9-16h5m-21 13h5m-5-6h5m-18 4h5m-28 2h5m-9 2h5m-16 4h5m-21-20h5m-25 15h5m-9 2h5m-9-17h5m-7 7h5m-25 7h5m-9 3h5m-7-14h5m-8 3h5m-17 7h5m-9-7h5m-5 0h5m-11 14h5m-11-16h5m-20 10h5m-22 7h5m-12-15h5m-6 0h5m-6 5h5m-9-8h5m-13-1h5m-7 14h5m-9 7h5m-6-5h5m-9-12h5m-6 11h5m-23-5h5m-6-8h5m-48 15h5m-13-7h5m-5 9h5m-7-15h5m-6 8h5m-14 1h5m-30-15h5m-12 4h5m-14 15h5m-10-19h5m-10 20h5m-7-11h5m-15-5h5m-10 8h5m-10 5h5m-7 3h5m-10-20h5m-5 0h5m-18 22h5m-25-6h5m-11-2h5m-18-2h5m-5-12h5m-15 11h5m-8 5h5m-12-13h5m-13 16h5m-10 1h5m-21 0h5m-7-15h5m-9 16h5m-5-2h5m-22-18h5m-8 4h5m-10 10h5m-17-11h5m-18 11h5m-9-4h5m-20 7h5m-19-10h5m-10 8h5m-24 6h5m-6-8h5m-9-12h5m-12-2h5m-8 23h5m-35-18h5m-27 16h5m-17-6h5m-10-5h5m-9-3h5m-16-3h5m-22 5h5m-6-3h5m-10-2h5m-6 12h5m-21 5h5m-9-13h5m-22-3h5m-9 17h5m-7-5h5m-15-13h5m-7 17h5m-11-17h5m-12 1h5m-22 28h5m22-6h5m-2 10h5m2 8h5m5-6h5m-4-4h5m15 6h5m9-8h5m4-3h5m12 10h5m-4-3h5m3 7h5m-1-11h5m-3 7h5m11-3h5m4-11h5m22 6h5m6-6h5m16 10h5m-2 10h5m16-19h5m0 10h5m-5-6h5m1 12h5m6-6h5m-4 8h5m3-20h5m0 21h5m6-16h5m3 13h5m-3 1h5m-3-9h5m0 2h5m-4 0h5m-5 4h5m3-4h5m7-8h5m-5-1h5m-1 5h5m-3-4h5m-1 14h5m-1-19h5m8 8h5m-3 13h5m-1-19h5m2 3h5m-3 11h5m3 2h5m4-1h5m10 0h5m-4-14h5m9 6h5m0 12h5m8-9h5m9 10h5m-2-15h5m3 6h5m9-10h5m-3 0h5m5 13h5m1-9h5m-5 16h5m-5-13h5m7 1h5m-2-5h5m13 1h5m-4 16h5m-1-13h5m11 7h5m-3-10h5m-2-7h5m-5 8h5m13 15h5m12-14h5m1 13h5m-2-3h5m-4-4h5m1-12h5m13 9h5m8 8h5m-3 0h5m-3-14h5m-1-6h5m4 23h5m13-18h5m-4-5h5m-2 16h5m32 2h5m6 4h5m28-10h5m-4-11h5m9 9h5m28 3h5m28-9h5m-3 13h5m10 1h5m-4-17h5m16 17h5m-3 5h5m-3-1h5m-2-18h5m2 6h5m11-7h5m-3 9h5m-3-4h5m-33 29h5m-11-3h5m-53 8h5m-9 5h5m-11-23h5m-5 6h5m-14 3h5m-18-4h5m-6 14h5m-11 0h5m-7-9h5m-9 1h5m-6 10h5m-17 2h5m-14-21h5m-20-2h5m-16 0h5m-12 7h5m-32 10h5m-7-17h5m-20 20h5m-8-13h5m-12-2h5m-20 6h5m-8-6h5m-11 17h5m-25-20h5m-15 2h5m-8 14h5m-13-4h5m-18-9h5m-19 0h5m-27 3h5m-6 2h5m-13-2h5m-10 7h5m-6-4h5m-6 4h5m-11-10h5m-28 15h5m-39 3h5m-21-17h5m-16-1h5m-13 13h5m-7-9h5m-6 11h5m-32-15h5m-26-1h5m-10-2h5m-6 1h5m-7 17h5m-19-19h5m-7 0h5m-28 15h5m-10 4h5m-8-18h5m-12 13h5m-10-4h5m-15 1h5m-12-7h5m-23 14h5m-7-16h5m-7 12h5m-16-11h5m-10 19h5m-17-14h5m-40 0h5m-25-9h5m-11 19h5m-58-7h5m-13 4h5m-41-14h5m-28 12h5m-19 5h5m-14-19h5m-20 15h5m-12-2h5m-18 2h5m-15 9h5m-4 13h5m-2-1h5m-3 3h5m-4 8h5m18 0h5m-4-12h5m2 0h5m-5 6h5m89-8h5m19-2h5m0-4h5m34 6h5m43-5h5m1-3h5m-4 11h5m4 11h5m12-15h5m-4-1h5m-3 7h5m4 4h5m-2-13h5m-4 18h5m6-18h5m-3-5h5m-1 3h5m0-3h5m2 12h5m18-8h5m7-1h5m-2 8h5m1 7h5m5-3h5m0 1h5m-3 7h5m-3-2h5m-4-4h5m-2-8h5m2 5h5m3 9h5m15-12h5m-4 1h5m-3-10h5m13 9h5m15-6h5m-3 1h5m-5 4h5m-2 7h5m0-3h5m-1-13h5m12 7h5m-4-5h5m10-1h5m-3-1h5m6 17h5m4-9h5m8-4h5m-4 8h5m-5-9h5m-4 7h5m-3 2h5m16-10h5m-1 20h5m3-19h5m-4-3h5m2 14h5m6 5h5m-4-20h5m-4 6h5m0 17h5m4-7h5m-3 4h5m-1-11h5m21 13h5m-5-16h5m3 10h5m-3-4h5m52-8h5m-3 14h5m18 0h5m-5 1h5m2-17h5m7 7h5m-5-2h5m7 9h5m7-12h5m5 3h5m53 4h5m-104 32h5m-15 0h5m-25-2h5m-25 2h5m-6-11h5m-8-5h5m-8 11h5m-25-11h5m-5 6h5m-12-1h5m-24-1h5m-8 4h5m-14 0h5m-16 4h5m-7 8h5m-18-12h5m-18-3h5m-26-5h5m-23 9h5m-17 2h5m-10 0h5m-33-11h5m-22 6h5m-21-1h5m-9 5h5m-18-8h5m-36 9h5m-8-9h5m-10 8h5m-14-2h5m-11-6h5m-6 1h5m-12-4h5m-24 14h5m-8-3h5m-11 2h5m-19-6h5m-11 5h5m-8 6h5m-8-4h5m-6 1h5m-5-4h5m-7-2h5m-5 2h5m-9 1h5m-11-4h5m-7 13h5m-12-9h5m-6-14h5m-12 2h5m-16 9h5m-12-6h5m-8 18h5m-28-21h5m-23 13h5m-15-2h5m-51-2h5m-52 4h5m-17 4h5m-31-16h5m-7 10h5m-16 7h5m-24-15h5m-26 14h5m-10 2h5m-38-17h5m-7 2h5m-10 3h5m-6-8h5m-21 16h5m-7 25h5m-4-11h5m4 12h5m13-9h5m2 3h5m-1-13h5m2 11h5m8 9h5m24-17h5m21-1h5m-4-1h5m23 5h5m5 6h5m1 11h5m0-4h5m-3-3h5m5-3h5m25 1h5m-5-6h5m52 8h5m10-1h5m0 2h5m0 6h5m6-8h5m22-14h5m-5 9h5m-1 7h5m-4-10h5m-1 8h5m6 1h5m-3 6h5m-1-10h5m9-3h5m2 1h5m1-10h5m-1 17h5m4-9h5m-4 7h5m-2-2h5m-2-11h5m-4 10h5m-3-9h5m5 11h5m-3 3h5m-4 2h5m0 3h5m-3-19h5m45 13h5m2 5h5m28-16h5m-4 17h5m15-20h5m8 0h5m-4 17h5m4-18h5m6 17h5m18-18h5m35 6h5m6 6h5m5-3h5m10 11h5m31-16h5m20 5h5m-4-5h5m14 2h5m-4 17h5m-35 14h5m-12-5h5m-7-3h5m-6 11h5m-38-4h5m-52-9h5m-19 18h5m-27-5h5m-8-7h5m-9-6h5m-5 14h5m-7-15h5m-41 4h5m-8 8h5m-11-6h5m-11 14h5m-16-21h5m-45 6h5m-10 6h5m-11 1h5m-31-12h5m-9 15h5m-39-3h5m-11-1h5m-11-3h5m-7 10h5m-12-1h5m-11-5h5m-8 3h5m-5-17h5m-7 1h5m-7 13h5m-28 9h5m-7-1h5m-19-9h5m-5-6h5m-7-7h5m-14 7h5m-31 8h5m-7-12h5m-7 9h5m-15 8h5m-17-6h5m-14-8h5m-75 11h5m-36-5h5m-9 8h5m-11-10h5m-6 7h5m-15 0h5m-9-9h5m-52 11h5m-9 2h5m-5-18h5m-22 2h5m-33 5h5m-9 4h5m-7-6h5m-12-1h5m-14 1h5m-14 14h5m-17 20h5m5-6h5m13 10h5m13-10h5m3-3h5m5-1h5m33 4h5m-4 7h5m-5-17h5m20 9h5m-3 9h5m14-9h5m60 12h5m-1-16h5m44-6h5m-4 4h5m18 16h5m1-17h5m39 15h5m1-8h5m4 3h5m15-2h5m1 7h5m1-15h5m7 19h5m10-18h5m-1 17h5m-2-18h5m2-3h5m-5 22h5m-4-15h5m6 2h5m-3 11h5m2-3h5m22 3h5m42-2h5m17-12h5m-2-6h5m7 2h5m23-1h5m20 1h5m-1 3h5m-4 12h5m-2 0h5m44-4h5m16 2h5m27 4h5m-2-3h5m18-10h5m-68 27h5m-26 4h5m-20-6h5m-27 7h5m-22 2h5m-11-8h5m-9-5h5m-10 5h5m-20 7h5m-6-14h5m-22 8h5m-6-2h5m-16 2h5m-15-6h5m-102-2h5m-37 7h5m-6-5h5m-46 9h5m-12-12h5m-13 0h5m-15 12h5m-9-13h5m-12 2h5m-10-1h5m-19 5h5m-33 9h5m-50-2h5m-75-3h5m-27-6h5m-44 2h5m-23 7h5m-47-13h5m-7 0h5m-12 12h5m-7-12h5m-13 8h5m-9 4h5m-14 2h5"/>
<path d="M28.5 6.7V185.0H257.0" fill="none" stroke="#505050" stroke-width="1"/>
<path d="M28.5 17.6h2M28.5 40.1h2M28.5 62.6h2M28.5 85.1h2M28.5 107.6h2M28.5 130.1h2M28.5 152.6h2M28.5 175.1h2M52.0 185.0v-2M80.6 185.0v-2M109.1 185.0v-2M137.7 185.0v-2M166.2 185.0v-2M194.8 185.0v-2M223.4 185.0v-2M251.9 185.0v-2" stroke="#505050" stroke-width="0.8"/>
<text x="25.5" y="20.2" text-anchor="end" class="t">2</text>
<text x="25.5" y="42.8" text-anchor="end" class="t">1.5</text>
<text x="25.5" y="65.2" text-anchor="end" class="t">1</text>
<text x="25.5" y="87.8" text-anchor="end" class="t">0.5</text>
<text x="25.5" y="110.2" text-anchor="end" class="t">0</text>
<text x="25.5" y="132.8" text-anchor="end" class="t">-0.5</text>
<text x="25.5" y="155.2" text-anchor="end" class="t">-1</text>
<text x="25.5" y="177.8" text-anchor="end" class="t">-1.5</text>
<text x="52.0" y="196.3" text-anchor="middle" class="t">-1.5</text>
<text x="80.6" y="196.3" text-anchor="middle" class="t">-1.1</text>
<text x="109.1" y="196.3" text-anchor="middle" class="t">-0.7</text>
<text x="137.7" y="196.3" text-anchor="middle" class="t">-0.3</text>
<text x="166.2" y="196.3" text-anchor="middle" class="t">0.1</text>
<text x="194.8" y="196.3" text-anchor="middle" class="t">0.5</text>
<text x="223.4" y="196.3" text-anchor="middle" class="t">0.9</text>
<text x="251.9" y="196.3" text-anchor="middle" class="t">1.3</text>
<text x="6.3" y="96" text-anchor="middle" class="t" transform="rotate(-90 6.3 96)" dy="2">y</text>
<text x="142.7" y="206" text-anchor="middle" class="t">x</text>
<text x="123.6" y="227.0" class="c">(a) a=0.5</text>
<path d="M315.7 8.3V185.0H543.0" fill="none" stroke="#505050" stroke-width="1"/>
<path d="M315.7 11.0h2M315.7 35.5h2M315.7 60.1h2M315.7 84.7h2M315.7 109.2h2M315.7 133.8h2M315.7 158.3h2M315.7 182.8h2M353.4 185.0v-2M391.1 185.0v-2M428.8 185.0v-2M466.6 185.0v-2M504.3 185.0v-2M542.0 185.0v-2" stroke="#505050" stroke-width="0.8"/>
<text x="312.7" y="13.7" text-anchor="end" class="t">2</text>
<text x="312.7" y="38.2" text-anchor="end" class="t">1.5</text>
<text x="312.7" y="62.8" text-anchor="end" class="t">1</text>
<text x="312.7" y="87.3" text-anchor="end" class="t">0.5</text>
<text x="312.7" y="111.9" text-anchor="end" class="t">0</text>
<text x="312.7" y="136.4" text-anchor="end" class="t">-0.5</text>
<text x="312.7" y="161.0" text-anchor="end" class="t">-1</text>
<text x="312.7" y="185.5" text-anchor="end" class="t">-1.5</text>
<text x="353.4" y="196.3" text-anchor="middle" class="t">-0.7</text>
<text x="391.1" y="196.3" text-anchor="middle" class="t">-0.3</text>
<text x="428.8" y="196.3" text-anchor="middle" class="t">0.1</text>
<text x="466.6" y="196.3" text-anchor="middle" class="t">0.5</text>
<text x="504.3" y="196.3" text-anchor="middle" class="t">0.9</text>
<text x="542.0" y="196.3" text-anchor="middle" class="t">1.3</text>
<text x="294.3" y="97.2" text-anchor="middle" class="t" transform="rotate(-90 294.3 97.2)" dy="2">y</text>
<text x="429" y="205.8" text-anchor="middle" class="t">x</text>
<text x="411.1" y="227.0" class="c">(b) a=0.9</text>
<path d="M27.5 253.3V430.4H259.0" fill="none" stroke="#505050" stroke-width="1"/>
<path d="M27.5 275.3h2M27.5 300.1h2M27.5 324.8h2M27.5 349.6h2M27.5 374.3h2M27.5 399.1h2M27.5 423.8h2M56.0 430.4v-2M84.9 430.4v-2M113.8 430.4v-2M142.8 430.4v-2M171.7 430.4v-2M200.6 430.4v-2M229.5 430.4v-2M258.4 430.4v-2" stroke="#505050" stroke-width="0.8"/>
<text x="24.5" y="277.9" text-anchor="end" class="t">1.5</text>
<text x="24.5" y="302.7" text-anchor="end" class="t">1</text>
<text x="24.5" y="327.4" text-anchor="end" class="t">0.5</text>
<text x="24.5" y="352.2" text-anchor="end" class="t">0</text>
<text x="24.5" y="376.9" text-anchor="end" class="t">-0.5</text>
<text x="24.5" y="401.7" text-anchor="end" class="t">-1</text>
<text x="24.5" y="426.4" text-anchor="end" class="t">-1.5</text>
<text x="56.0" y="441.7" text-anchor="middle" class="t">-1.5</text>
<text x="84.9" y="441.7" text-anchor="middle" class="t">-1.1</text>
<text x="113.8" y="441.7" text-anchor="middle" class="t">-0.7</text>
<text x="142.8" y="441.7" text-anchor="middle" class="t">-0.3</text>
<text x="171.7" y="441.7" text-anchor="middle" class="t">0.1</text>
<text x="200.6" y="441.7" text-anchor="middle" class="t">0.5</text>
<text x="229.5" y="441.7" text-anchor="middle" class="t">0.9</text>
<text x="258.4" y="441.7" text-anchor="middle" class="t">1.3</text>
<text x="5.8" y="341.7" text-anchor="middle" class="t" transform="rotate(-90 5.8 341.7)" dy="2">y</text>
<text x="143.5" y="450.6" text-anchor="middle" class="t">x</text>
<text x="118.7" y="471.0" class="c">(c) a=1.4</text>
<path d="M311.5 252.2V431.0H540.0" fill="none" stroke="#505050" stroke-width="1"/>
<path d="M311.5 261.5h2M311.5 283.9h2M311.5 306.4h2M311.5 328.9h2M311.5 351.3h2M311.5 373.8h2M311.5 396.2h2M311.5 418.6h2M328.6 431.0v-2M352.0 431.0v-2M375.5 431.0v-2M398.9 431.0v-2M422.3 431.0v-2M445.8 431.0v-2M469.2 431.0v-2M492.6 431.0v-2M516.0 431.0v-2M539.5 431.0v-2" stroke="#505050" stroke-width="0.8"/>
<text x="308.5" y="264.1" text-anchor="end" class="t">2</text>
<text x="308.5" y="286.6" text-anchor="end" class="t">1.5</text>
<text x="308.5" y="309.0" text-anchor="end" class="t">1</text>
<text x="308.5" y="331.5" text-anchor="end" class="t">0.5</text>
<text x="308.5" y="353.9" text-anchor="end" class="t">0</text>
<text x="308.5" y="376.4" text-anchor="end" class="t">-0.5</text>
<text x="308.5" y="398.8" text-anchor="end" class="t">-1</text>
<text x="308.5" y="421.3" text-anchor="end" class="t">-1.5</text>
<text x="328.6" y="442.3" text-anchor="middle" class="t">-1.2</text>
<text x="352.0" y="442.3" text-anchor="middle" class="t">-0.9</text>
<text x="375.5" y="442.3" text-anchor="middle" class="t">-0.6</text>
<text x="398.9" y="442.3" text-anchor="middle" class="t">-0.3</text>
<text x="422.3" y="442.3" text-anchor="middle" class="t">0</text>
<text x="445.8" y="442.3" text-anchor="middle" class="t">0.3</text>
<text x="469.2" y="442.3" text-anchor="middle" class="t">0.6</text>
<text x="492.6" y="442.3" text-anchor="middle" class="t">0.9</text>
<text x="516.0" y="442.3" text-anchor="middle" class="t">1.2</text>
<text x="539.5" y="442.3" text-anchor="middle" class="t">1.5</text>
<text x="290.1" y="341.4" text-anchor="middle" class="t" transform="rotate(-90 290.1 341.4)" dy="2">y</text>
<text x="425.3" y="451.6" text-anchor="middle" class="t">x</text>
<text x="415.9" y="471.0" class="c">(d) a=2</text>
</svg>
</body></html>
